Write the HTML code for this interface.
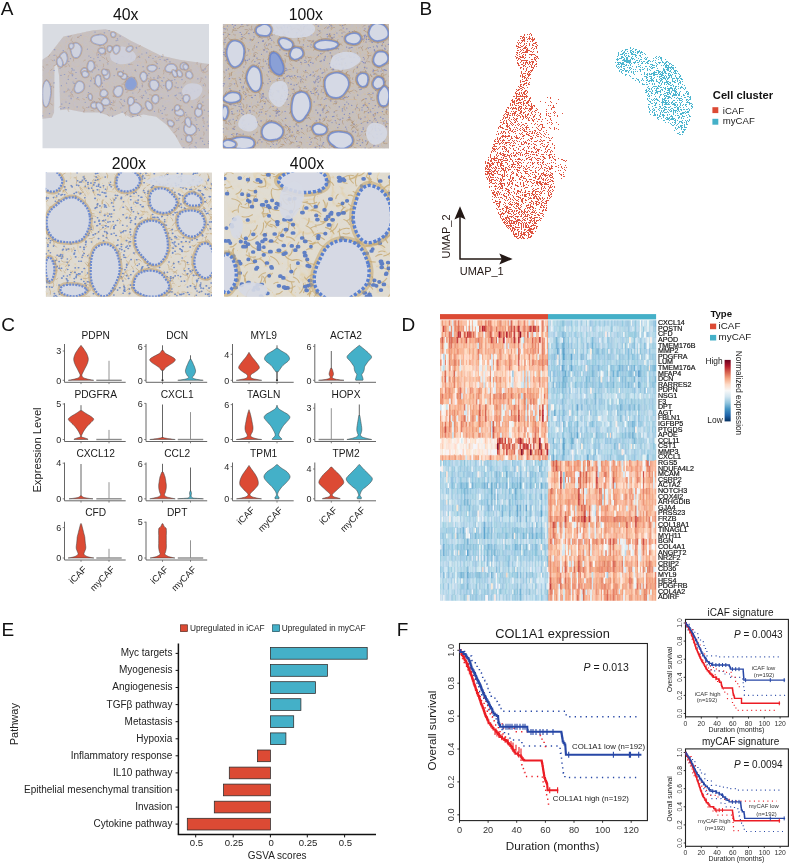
<!DOCTYPE html><html><head><meta charset="utf-8"><title>CAF figure</title><style>html,body{margin:0;padding:0;background:#fff;width:790px;height:865px;overflow:hidden}svg{display:block}text{font-family:'Liberation Sans',Arial,Helvetica,sans-serif}</style></head><body>
<svg width="790" height="865" viewBox="0 0 790 865">
<rect width="790" height="865" fill="#fff"/>
<text x="0.8" y="14.8" font-size="19" fill="#111">A</text>
<text x="419.6" y="14.8" font-size="19" fill="#111">B</text>
<text x="1.2" y="331.2" font-size="19" fill="#111">C</text>
<text x="401.5" y="330.8" font-size="19" fill="#111">D</text>
<text x="1.5" y="635.8" font-size="19" fill="#111">E</text>
<text x="396.8" y="635.8" font-size="19" fill="#111">F</text>
<text x="125.7" y="19.9" font-size="15.8" text-anchor="middle" fill="#111">40x</text>
<text x="305.9" y="19.9" font-size="15.8" text-anchor="middle" fill="#111">100x</text>
<text x="128.8" y="168.5" font-size="15.8" text-anchor="middle" fill="#111">200x</text>
<text x="307" y="168.5" font-size="15.8" text-anchor="middle" fill="#111">400x</text>
<defs>
<filter id="tx0" x="0" y="0" width="100%" height="100%"><feTurbulence type="fractalNoise" baseFrequency="0.3" numOctaves="2" seed="2"/><feColorMatrix type="matrix" values="0 0 0 0 0  0 0 0 0 0  0 0 0 0 0  1 0 0 0 0"/><feColorMatrix type="matrix" values="0 0 0 0 0.55  0 0 0 0 0.52  0 0 0 0 0.62  0 0 0 -2.2 1.35"/></filter>
<filter id="tx1" x="0" y="0" width="100%" height="100%"><feTurbulence type="fractalNoise" baseFrequency="0.35" numOctaves="2" seed="4"/><feColorMatrix type="matrix" values="0 0 0 0 0  0 0 0 0 0  0 0 0 0 0  1 0 0 0 0"/><feColorMatrix type="matrix" values="0 0 0 0 0.52  0 0 0 0 0.5  0 0 0 0 0.62  0 0 0 -2.2 1.4"/></filter>
<filter id="tx2" x="0" y="0" width="100%" height="100%"><feTurbulence type="fractalNoise" baseFrequency="0.25" numOctaves="2" seed="6"/><feColorMatrix type="matrix" values="0 0 0 0 0  0 0 0 0 0  0 0 0 0 0  1 0 0 0 0"/><feColorMatrix type="matrix" values="0 0 0 0 0.75  0 0 0 0 0.66  0 0 0 0 0.5  0 0 0 -2.5 1.45"/></filter>
<filter id="tx3" x="0" y="0" width="100%" height="100%"><feTurbulence type="fractalNoise" baseFrequency="0.18" numOctaves="2" seed="8"/><feColorMatrix type="matrix" values="0 0 0 0 0  0 0 0 0 0  0 0 0 0 0  1 0 0 0 0"/><feColorMatrix type="matrix" values="0 0 0 0 0.78  0 0 0 0 0.68  0 0 0 0 0.5  0 0 0 -2.5 1.45"/></filter>
<filter id="tb0" x="0" y="0" width="100%" height="100%"><feTurbulence type="turbulence" baseFrequency="0.12" numOctaves="2" seed="12"/><feColorMatrix type="matrix" values="0 0 0 0 0  0 0 0 0 0  0 0 0 0 0  1 0 0 0 0"/><feColorMatrix type="matrix" values="0 0 0 0 0.66  0 0 0 0 0.52  0 0 0 0 0.4  0 0 0 -9 1.1"/></filter>
<filter id="tb1" x="0" y="0" width="100%" height="100%"><feTurbulence type="turbulence" baseFrequency="0.14" numOctaves="2" seed="14"/><feColorMatrix type="matrix" values="0 0 0 0 0  0 0 0 0 0  0 0 0 0 0  1 0 0 0 0"/><feColorMatrix type="matrix" values="0 0 0 0 0.64  0 0 0 0 0.5  0 0 0 0 0.36  0 0 0 -9 1.15"/></filter>
<filter id="tb2" x="0" y="0" width="100%" height="100%"><feTurbulence type="turbulence" baseFrequency="0.07" numOctaves="2" seed="16"/><feColorMatrix type="matrix" values="0 0 0 0 0  0 0 0 0 0  0 0 0 0 0  1 0 0 0 0"/><feColorMatrix type="matrix" values="0 0 0 0 0.74  0 0 0 0 0.6  0 0 0 0 0.38  0 0 0 -9 1.1"/></filter>
<filter id="tb3" x="0" y="0" width="100%" height="100%"><feTurbulence type="turbulence" baseFrequency="0.045" numOctaves="2" seed="18"/><feColorMatrix type="matrix" values="0 0 0 0 0  0 0 0 0 0  0 0 0 0 0  1 0 0 0 0"/><feColorMatrix type="matrix" values="0 0 0 0 0.76  0 0 0 0 0.62  0 0 0 0 0.38  0 0 0 -9 1.1"/></filter>
<filter id="soft" x="-2%" y="-2%" width="104%" height="104%"><feGaussianBlur stdDeviation="0.45"/></filter>
</defs>
<clipPath id="clipA0"><rect x="42.3" y="23.9" width="166.7" height="124.6"/></clipPath>
<g clip-path="url(#clipA0)">
<rect x="42.3" y="23.9" width="166.7" height="124.6" fill="#d9dce2"/>
<g filter="url(#soft)">
<path d="M42.3 59.7L48.6 55.5L63.4 36.5L78.2 33.4L92.9 30.2L105.6 29.2L116.2 32.3L130.9 40.8L143.6 47.1L160.5 55.5L179.5 59.7L209 64L209 148.5L182.6 148.5L175.2 135.6L166.8 125.1L156.2 116.7L143.6 114.6L130.9 117.7L122.5 112.4L111.9 116.7L99.3 112.4L84.5 112.4L67.6 109.3L60.2 110.3L59.2 76.6L57.1 64L54.5 66.1L54.1 112.4L51.8 117.7L42.3 118.8Z" fill="#c8c1bf"/>
<clipPath id="st0"><path d="M42.3 59.7L48.6 55.5L63.4 36.5L78.2 33.4L92.9 30.2L105.6 29.2L116.2 32.3L130.9 40.8L143.6 47.1L160.5 55.5L179.5 59.7L209 64L209 148.5L182.6 148.5L175.2 135.6L166.8 125.1L156.2 116.7L143.6 114.6L130.9 117.7L122.5 112.4L111.9 116.7L99.3 112.4L84.5 112.4L67.6 109.3L60.2 110.3L59.2 76.6L57.1 64L54.5 66.1L54.1 112.4L51.8 117.7L42.3 118.8Z"/></clipPath>
<rect x="42.3" y="23.9" width="166.7" height="124.6" filter="url(#tx0)" opacity="0.5" clip-path="url(#st0)"/>
<rect x="42.3" y="23.9" width="166.7" height="124.6" filter="url(#tb0)" opacity="0.5" clip-path="url(#st0)"/>
<path d="M148.2 83.6q-0.5 1.7 0.7 3.4M177 87.8q-0.9 -0.5 -2.1 -0.1M42.8 70.1q-0.4 -0.7 -1.4 -0.9M208.6 115.9q1.5 -0.4 2.1 -2.2M48 64.9q-0.8 -0.4 -1.8 0M201 69.8q0.2 1.8 2 2.9M117.8 92.7q-1.2 0.6 -1.5 2.3M203.8 135.3q0.9 -1.5 0.1 -3.4M139.1 114.8q0.4 1.3 1.9 1.9M196.2 134.5q-1.2 0.1 -2 1.3M117.5 72q1.1 0.6 2.5 -0.1M125 85.1q-1.2 -1.2 -3.2 -1M79.3 99.8q-1 -1.2 -2.9 -1.1M72.4 45.1q-1.7 0.8 -2.2 3.1M100.1 98.3q-0.7 0.6 -0.6 1.6M171.8 70.6q0.1 -1.6 -1.3 -2.9M192.1 143.3q-2 0.2 -3.3 2.2M202.6 97.5q1.3 -0.3 2 -1.8M104.9 54.7q0.9 -0.3 1.4 -1.3M171.3 84.1q0.7 -0.4 0.8 -1.4M85.3 60q-1 0 -1.7 0.9M53.9 66q2 -0.3 3.2 -2.4M166.6 83.6q-1 1.7 -0.1 3.9M129.9 114.7q0.8 0.6 2 0.4M182 123q1.5 -0.4 2.2 -2M113.3 96.3q1 -0.5 1.3 -1.8M131.4 58.3q0.4 -0.6 0.2 -1.5M46.2 97.9q-0.3 -1.8 -2.3 -2.8M139.7 55.9q-1.9 0.2 -3.2 2.2M46.5 79.6q0.3 1.8 2.3 2.8M132.1 64.3q-0.9 -0.5 -2 0.1M70 46.8q-1.6 0.4 -2.4 2.3M171.4 122.4q1.1 0.7 2.7 0.1M84.5 110.7q-0.6 0.5 -0.6 1.5M107.1 62.5q1.1 -0.1 1.8 -1.3M126.2 92.3q0.9 0.1 1.7 -0.6M142.5 87.2q0.8 -1.8 -0.4 -3.9M94 111.1q-1.1 -0.9 -2.9 -0.5M205.1 68.2q-1.6 1.2 -1.6 3.6M169 79.7q-0.2 -0.7 -1.1 -1.1M149.8 79.1q-1 -0.7 -2.5 -0.3M109.2 52q0.9 0.9 2.5 0.8M83.5 111.6q1.3 -1 1.4 -3M118.3 53.4q-1.3 0.3 -2 1.8M124.3 113.3q1.7 -0.3 2.7 -2.2M158.8 109q-0.9 1.7 0.1 3.8M106.6 100.5q1.6 -1.1 1.8 -3.5M94.4 62.7q-0.9 0.2 -1.4 1.2M166.1 81.5q0.7 1.8 3 2.4M98.2 103.8q0.1 -1.1 -0.9 -2M200.9 64q-0.9 1.6 -0.1 3.6M67.9 108.8q-0.3 1.5 0.9 2.8M88.5 71.1q1.3 0.2 2.5 -1M115.1 100.8q-0.6 0.7 -0.4 1.9M106.4 57.8q-0.2 1.9 1.5 3.6M198.1 111.7q1.1 0.8 2.7 0.3M48.8 99.6q0.2 -1 -0.6 -2M43.6 91.7q0.5 1 1.9 1.3M104 40.7q1.2 -1.3 0.9 -3.4M73.6 74.1q-0.7 -0.8 -2 -0.7M176.1 129q1.9 0 3.3 -1.7M45.2 96.4q1 1.6 3.3 1.8M166.8 118.5q-0.1 0.8 0.6 1.5M178.2 99.5q-0.4 -1.3 -2 -1.8M175.7 66q-0.7 1 -0.3 2.4M92 102q0.8 -0.2 1.3 -1.1M53.6 87.7q0 -1 -0.9 -1.8M48.5 85.6q0.1 -1.6 -1.3 -2.8M68.7 36.9q1.4 0.1 2.6 -1.2M110.4 110q0.5 -1.3 -0.4 -2.8M101 90.3q-0.3 -0.9 -1.3 -1.4M160.6 85.4q0.1 1.8 1.9 3.1M176.8 136.8q0.1 -1 -0.9 -1.8M204 72.5q1.9 0.3 3.6 -1.4M101 100.4q-0.7 -1.6 -2.7 -2.1M197.5 90.7q1 -0.2 1.5 -1.4M208.7 93q1 -1.3 0.5 -3.3M189.5 69q0.7 1.1 2.2 1.2M72 91.2q0.9 -0.7 0.9 -2.2M112.8 96.2q1.2 1 3.1 0.5M77.5 37.2q1.4 0.1 2.5 -1.2M191.5 87.9q0.3 1 1.5 1.5M113 103.8q1 -1.4 0.4 -3.4M150.8 55.4q-1.2 -0.1 -2.2 1M123.9 57q-1 -0.9 -2.6 -0.6M165.1 115q1.1 0.5 2.4 -0.1M153 96.4q-1.1 -1.7 -3.5 -1.8M75.1 52.2q0.7 -1.6 -0.4 -3.5M125.6 81.4q-1.5 0.3 -2.4 2M142.1 110.3q1.6 -0.6 2.2 -2.5M104.8 55.1q1.1 -1.3 0.7 -3.4M183.6 134.9q0.6 0.9 2 1.1M156 60.8q-0.3 1 0.4 2M125.2 112.7q-0.5 1.5 0.6 3.2M98.2 104.8q-0.9 0.3 -1.3 1.5M158.4 75.4q0.5 1.8 2.6 2.6M163.1 98q-1.4 -0.2 -2.6 1M202.7 70.5q-0.3 -1.5 -2 -2.3M103.3 67.1q0.8 -1.3 0.1 -3.1M118.5 87.9q-0.6 1.6 0.6 3.4M45.6 104q-1 -0.2 -2 0.6M140.1 96.5q0.7 1.2 2.3 1.4M96.8 64.8q-0.2 0.8 0.4 1.6M73.4 42.8q-0.5 -1.7 -2.6 -2.5M79.1 37.8q-0.7 -0.6 -1.7 -0.4M82.7 98.6q0.5 0.9 1.7 1.1M129.1 106.6q1 0.6 2.3 0.1M48 86q1.7 -0.3 2.7 -2.2M138.9 46.6q0.8 0 1.5 -0.8M203.1 120.6q0.4 -1.3 -0.5 -2.8M69.6 66.4q-0.1 -1.6 -1.6 -2.7M51.2 59.7q0.6 1 1.9 1.2M174.5 117.8q0.2 1.1 1.3 1.8M61 106.4q-1 -0.1 -1.9 0.7M113.2 110q-0.4 -1.3 -1.9 -1.9M135.1 69.2q-0.2 1.3 0.9 2.6M93.1 65q-0.2 1.9 1.5 3.5M113.2 48.9q0.8 0.7 2 0.4M187.1 65.9q0 -1 -1 -1.8M150.8 80q0.6 -1.3 -0.2 -2.8M104.9 58.8q-0.8 -1.6 -3 -2M157.6 83.7q-1.6 1 -1.8 3.3M208.5 64.7q-1.9 0.5 -2.9 2.7M70.2 73.2q-0.3 -1 -1.5 -1.5M174 132.6q1.8 -0.3 2.8 -2.2M205.4 86.1q0.3 -1.4 -0.8 -2.7M203.9 105.5q-1.6 -0.1 -2.9 1.3M91.5 40q-0.9 0.2 -1.4 1.2M50.4 103.2q0.5 1.3 2.1 1.8M91.6 79.5q0.3 -1.2 -0.6 -2.5M107.6 114.7q0.4 1.1 1.8 1.6M146.5 62.9q0.4 -1.8 -1.1 -3.4M64.8 66.9q1.2 0.1 2.2 -0.9M42.9 66.3q0 1.2 1.2 2M137.9 93q1.6 -0.8 2.1 -2.9M197.1 62.3q-0.5 0.9 0 2M184.8 116.9q0.4 -1 -0.3 -2.1M95.8 61.8q-1.8 -0.1 -3.4 1.5M203.1 138.3q-1.6 -0.4 -3.1 0.8M189.1 137.5q0.8 1.4 2.8 1.7M70.1 92.3q0.5 1.7 2.6 2.4M93.9 41.5q-0.3 -1.5 -2 -2.3M203.2 78.8q-0.7 -1 -2.2 -1.1M143.3 73.5q-1.7 -0.2 -3.1 1.2M73.4 61.1q0.6 -0.9 0.2 -2.1M68.9 75.1q-0.8 0.7 -0.8 2M101.1 90.9q0.5 1.3 2.1 1.9M76 53.8q-1 0.5 -1.2 1.9M181.8 105.9q-1.6 -0.6 -3.4 0.6M156.6 63.2q-0.6 -1.6 -2.5 -2.2M86.3 107.6q1.3 0.5 2.8 -0.4M162.9 57q0.6 -1.1 0 -2.6M131.5 54.9q-0.9 1.6 -0.2 3.7M149.5 102.2q0.4 1.1 1.7 1.5M132 110.7q-1.2 -0.8 -2.9 -0.2M204 121.3q-0.5 1.2 0.2 2.6M112.3 109.1q0 -1.1 -1 -1.9M157.7 77.6q0.9 0.6 2.2 0.2M105.1 48.4q0 -2 -1.9 -3.5M197.6 102.4q1.3 -0.5 1.7 -2.1M52.2 69q-1.1 0.3 -1.7 1.7M81.3 47q-1.5 0.9 -1.8 3M71.1 98q0.5 -1.5 -0.6 -3.1M183.7 83.8q1.4 -0.6 1.9 -2.3M70.4 73.4q1.1 -0.8 1.1 -2.4M73.3 96.9q-0.2 -1.3 -1.6 -2.1M99.5 107.6q-0.3 1.4 0.8 2.7M72.2 38q-0.8 0.4 -0.9 1.5M105.8 105.3q-1.2 -1.3 -3.3 -1.1M163.6 74q1 -1.7 0 -3.9M129.7 55.1q-1.3 0.5 -1.7 2.1M95.5 36.5q-1.6 0.2 -2.5 1.9M178.3 118.8q1.7 -0.4 2.6 -2.3M110.9 104.2q1.2 1.3 3.3 1.2M160.3 57q-1 -0.3 -2.1 0.4M174.8 77.1q1.2 -1.5 0.7 -3.7M171.9 71.3q-1.7 0.9 -2.1 3.2M168.4 59.2q-1.9 -0.3 -3.7 1.3M57.3 58q-0.1 -1.9 -1.9 -3.2M200.1 82.4q1.3 -1.4 1 -3.8M97.2 52.2q-0.9 1.5 -0.2 3.5M65.6 92q1 0.1 1.8 -0.9M147.1 89.9q1.3 0.4 2.7 -0.6M176.3 73.6q1.9 0.6 3.8 -0.8M124.5 75.7q-0.4 1 0.3 2.2M76.7 44.9q0.3 -0.8 -0.2 -1.6M142.1 98.4q0.6 -1.3 -0.3 -2.9M196 109.6q0.9 -0.5 1.1 -1.8M123.1 71.6q-1.1 0.6 -1.4 2M121.9 105.4q1.1 0.9 2.8 0.4M134.3 97.3q-1.3 1 -1.3 3M139.1 57.5q-0.2 -0.8 -1.1 -1.2M166.3 62.1q0.3 -0.9 -0.4 -1.8M48.4 56.8q1.1 -0.5 1.4 -2M174.6 67.1q-1.6 -0.6 -3.4 0.6M84.1 84.4q-0.4 -1.8 -2.4 -2.7M82.9 106.8q-0.3 0.9 0.4 1.9M121.8 104.6q-0.4 -1.9 -2.5 -3M69.7 90q-1 -0.4 -2.1 0.3M149.6 105.8q-0.6 1.8 0.6 3.8" fill="none" stroke="#b0927a" stroke-width="0.6" opacity="0.75" stroke-linecap="round"/>
<path d="M199.3 130.2h0.2M100.3 76.1h0.5M92.1 72h0.2M183.6 66.4h0.3M130.4 103.1h0.3M110.2 104.4h0.2M143.3 95.4h0.4M68.4 107.7h0.3M128.8 78.2h0.3M205.5 77h0.2M120.8 107.8h0.1M99.7 45.8h0.4M115.1 110.5h0.3M177.7 87.7h0.5M177.8 113.8h0.3M143.9 70.8h0.1M189.8 124.5h0.4M185.5 92.5h0.5M104.6 108.3h0.4M92.8 38.2h0.4M54.4 49.7h0.4M144.7 73.4h0.3M124.1 100.2h0.2M183.7 147.5h0.3M149.8 66.9h0.4M94.1 101.6h0.3M207.2 122h0.1M71.8 68.4h0.3M161.8 56.3h0.3M117.7 61.9h0.3M148.5 81.1h0.1M100.6 112.7h0.3M94.3 83.7h0.4M188.3 130.3h0.2M134.3 77.8h0.4M162.7 106h0.4M100.3 79.2h0.1M100.8 48.8h0.4M142.4 79.5h0.1M116.7 94.1h0.2M205.1 68.9h0.3M89.8 70.4h0.2M103.1 98.4h0.3M96.4 84.2h0.1M93.5 78.1h0.4M114 75.6h0.3M88.4 92.5h0.2M145.2 91.1h0.3M188.1 123h0.5M116.4 69.6h0.3M195.9 142.8h0.4M92.5 38.7h0.2M154.4 111.4h0.1M119.9 36.1h0.4M130.6 100.2h0.5M63.1 50.7h0.4M143.5 78.5h0.2M200.4 138.2h0.5M129.3 82.3h0.5M116.1 40.7h0.2M192.9 125.6h0.2M202.9 70.2h0.4M116.7 68.6h0.2M80.4 86.3h0.5M72.2 69.9h0.3M90.6 57.5h0.2M66.4 54.4h0.4M88.5 107h0.4M158.1 82.1h0.1M128.1 82.1h0.2M161.7 80.7h0.3M176.9 74.3h0.3M188 101h0.3M131.1 97.5h0.1M83.8 68h0.2M112.5 116.2h0.2M127.7 76.6h0.4M64.1 91.9h0.3M146.4 52.9h0.3M204.3 144.4h0.3M167.8 121.1h0.1M92 106h0.3M143.5 81.1h0.2M185.1 130.8h0.5M191.5 106.9h0.2M142.9 66.7h0.4M191 117.9h0.2M98.2 34.5h0.2M68.6 61.3h0.4M196 120h0.2M90.7 80.9h0.3M120.8 99.4h0.4M179.5 75.6h0.3M189.3 127h0.2M99.5 36.9h0.4M46.3 80.9h0.5M54 55.3h0.2M159.2 68.3h0.2M75.8 72.5h0.4M136.4 48.1h0.3M208.1 125.9h0.5M68.1 79.3h0.4M120.3 47h0.4M63 108h0.5M146.9 75.5h0.5M203.4 126.4h0.2M202.5 141.2h0.1M69 96h0.2M191.8 122h0.2M143.1 108.2h0.1M197.7 78.8h0.3M162 113.3h0.5M72.3 75.5h0.4M116.4 45.8h0.4M174.7 79.6h0.2M64.3 74.5h0.4M101.9 83.2h0.4M194.3 129.1h0.3M117.6 40.1h0.3M94.9 32.1h0.3M75.7 78.5h0.4M69.3 103.4h0.3M179.1 93h0.1M86.3 97.5h0.2M164.4 109.6h0.4M175 95.7h0.5M128.9 64.3h0.3M135.9 110.9h0.3M186 90.7h0.2M185.5 112.5h0.2M186.6 115h0.2M195.1 118h0.5M176.2 82.9h0.1M196.6 124.5h0.4M171.8 80.4h0.3M109 30.6h0.2M128.8 44h0.2M181.8 79.6h0.4M175 86.3h0.1M70.4 58.6h0.2M142.1 85.9h0.2M208.2 111.3h0.2M132 102.9h0.4M122.1 112h0.2M181.7 95h0.2M116.6 62.8h0.4M208.2 143.6h0.2M123.3 70.9h0.2M133.3 59.7h0.3M180.5 93.1h0.5M76.1 47h0.1M160 59.5h0.2M197.7 89.6h0.2M53.9 70.5h0.4M147.8 75h0.1M71 98.7h0.3M132.7 116.4h0.3M187 138.5h0.3M102.4 86.7h0.2M107.8 63.9h0.1M46 100.4h0.4M182.1 98.3h0.2M148.7 57.4h0.2M97.1 40.7h0.1M204.2 110.1h0.4M60.8 108.7h0.2M127 80.4h0.4M139.7 89.3h0.3M161.2 97.7h0.2M54.2 60.2h0.2M132.3 104.5h0.3M141.8 54h0.2M167 59.4h0.4M73.9 83.4h0.4M152.9 58.3h0.2M130.7 59h0.4M117.3 47.1h0.1M153.8 77.9h0.3M106.8 94.1h0.2M184.8 122.8h0.3M135 70.3h0.4M181.5 139.2h0.1M60.8 75.4h0.3M61.5 104.1h0.5M172.2 127h0.2M98.4 54.7h0.2M189.7 148h0.2M135.9 99.7h0.5M117.3 38.6h0.1M66.5 83.2h0.1M49.4 113.6h0.3M168.3 95.8h0.2M155.6 56.5h0.1M73 82h0.1M50 96.1h0.1M158 76h0.4M167.7 70.5h0.4M142.3 97.8h0.3M68 89h0.3M136.1 47.3h0.3M188.5 140.7h0.2M127.4 50h0.3M77 106.9h0.3M196.1 147.8h0.1M157 63.7h0.3M146.1 92.9h0.1M61.3 85.7h0.2M68.1 36.5h0.2M178.5 120h0.4M111.4 102.5h0.4M78.8 85.4h0.2M87.4 49.2h0.1M178.3 129.1h0.4M132.8 93h0.1M101.6 50.9h0.3M202.8 102.1h0.2M203.1 117.9h0.5M122.7 105.8h0.3M167.5 90.9h0.3M88.7 56h0.5M98.5 69.7h0.3M90.6 80.7h0.2M172.1 110.2h0.3M59.9 68.5h0.2M162.4 81.1h0.2M98.5 84.2h0.2M124.5 101.5h0.1M78.9 89.3h0.4M170.3 86.8h0.3M89.4 86.1h0.3M50.9 86.6h0.4M186.5 91.2h0.4M104.2 32.8h0.4M132.2 100h0.3M137.4 115.4h0.4M95.2 67.8h0.4M190.5 93h0.3M104.2 80.2h0.1M93.8 58.8h0.1M73.8 70.1h0.4M184.2 63.7h0.4M65.8 102h0.3M176.7 120.6h0.4M191.8 106.8h0.5M99.8 60.6h0.2M114.2 86.9h0.2M100.5 55h0.4M195 146.4h0.2M42.4 115.8h0.4M176.2 95h0.3M112.1 46.8h0.2M163.6 85.5h0.3M137.1 87.1h0.4M148.8 73.6h0.3M198.1 128.6h0.3M164.2 60.1h0.5M42.8 94.6h0.4M194.4 91.4h0.3M104.4 103.2h0.2M72.1 74.5h0.2M172.5 109.4h0.2M72.2 75.7h0.4M181.7 109.9h0.2M181.5 87.2h0.2M192.4 107.5h0.1M53.8 82.9h0.4M115.3 90h0.2M143.1 74.8h0.2M77.6 97.6h0.4M131.1 99.4h0.3M160.6 110.7h0.1M203.3 85.2h0.1M162.9 118.6h0.2M165.3 107.8h0.4M57.1 64.2h0.2M80.8 35.3h0.3M190.4 139.7h0.2M125.5 89.4h0.3M163.8 77.7h0.1M137.7 110h0.3M137.5 65.4h0.3M97.8 57.3h0.4M197 106.9h0.2M64.4 107.7h0.4M208.6 141.3h0.4M115.2 90.2h0.1M44.6 88.4h0.3M180.4 100.5h0.3M115.1 92.1h0.5M168.6 82.8h0.3M71.6 92h0.4M148 98.5h0.3M206.4 130h0.3M85.1 102.3h0.2M169.7 61.9h0.5M157.7 89.7h0.3M139.6 57.2h0.1M117.7 60.5h0.3M77.4 49.6h0.5M157.5 78.2h0.4" fill="none" stroke="#8d97c4" stroke-width="1.2" stroke-linecap="round" opacity="0.85"/>
<path d="M82 49.5Q81.9 51.3 81.4 53Q80.8 54.7 79.8 56.2Q78.8 57.6 77.4 58.1Q76 58.5 74.7 58.2Q73.4 57.8 72.5 56.6Q71.6 55.4 71.3 53.9Q70.9 52.5 70.4 50.8Q70 49.2 70.4 47.3Q70.8 45.3 72.1 44.1Q73.3 42.9 74.7 42.5Q76.1 42.2 77.3 42.7Q78.5 43.3 79.5 44.2Q80.5 45.1 81.3 46.4Q82.2 47.7 82 49.5Z" fill="none" stroke="#b0927a" stroke-width="1.2" opacity="0.55"/>
<path d="M81.3 49.5Q81.2 51.2 80.7 52.7Q80.2 54.3 79.3 55.6Q78.5 57 77.2 57.4Q76 57.8 74.8 57.5Q73.6 57.2 72.9 56.1Q72.1 55 71.8 53.6Q71.5 52.3 71.1 50.8Q70.7 49.3 71.1 47.6Q71.5 45.8 72.6 44.7Q73.7 43.6 74.9 43.2Q76.2 42.9 77.2 43.4Q78.3 43.9 79.1 44.7Q80 45.5 80.7 46.7Q81.4 47.9 81.3 49.5Z" fill="#cfd2de" stroke="#94a2cf" stroke-width="1" stroke-opacity="0.85"/>
<path d="M107.2 38.4Q107.8 39.7 107.3 41Q106.8 42.4 105.6 43.4Q104.4 44.5 102.8 45Q101.1 45.6 99.4 45.3Q97.7 44.9 96.1 44.5Q94.6 44 93.1 43.2Q91.5 42.5 91 41.1Q90.4 39.7 90.9 38.3Q91.4 36.9 92.8 36Q94.3 35.1 96 34.9Q97.7 34.6 99.4 34.3Q101 34 102.7 34.5Q104.4 34.9 105.5 36Q106.6 37.1 107.2 38.4Z" fill="none" stroke="#b0927a" stroke-width="1.2" opacity="0.55"/>
<path d="M106.5 38.6Q107 39.7 106.6 40.9Q106.1 42.1 105 43Q104 43.9 102.4 44.4Q100.9 44.9 99.4 44.6Q97.8 44.3 96.4 43.9Q95 43.5 93.6 42.8Q92.2 42.1 91.7 40.9Q91.2 39.7 91.6 38.5Q92.1 37.2 93.4 36.5Q94.8 35.7 96.3 35.5Q97.8 35.2 99.4 35Q100.9 34.7 102.4 35.1Q104 35.5 105 36.5Q106 37.4 106.5 38.6Z" fill="#cfd2de" stroke="#94a2cf" stroke-width="1" stroke-opacity="0.85"/>
<path d="M134.8 53.6Q136.3 55.5 135.8 57.8Q135.3 60.2 132.8 61.5Q130.3 62.9 127.7 63.6Q125.2 64.4 122.5 64.3Q119.8 64.3 117.4 63.4Q114.9 62.6 112.8 61.2Q110.7 59.8 110.3 57.6Q109.9 55.5 110.4 53.4Q110.9 51.3 112.3 49.4Q113.8 47.4 116.7 46.8Q119.6 46.2 122.4 46.6Q125.1 47 127.4 47.9Q129.7 48.7 131.5 50.2Q133.2 51.7 134.8 53.6Z" fill="#cfd2de" opacity="0.9"/>
<path d="M67.8 57.1Q68 58.7 67.7 60.2Q67.4 61.7 66.7 62.8Q66.1 64 65.3 64.7Q64.4 65.5 63.4 65.3Q62.5 65.1 61.5 64.7Q60.6 64.2 59.7 63.2Q58.8 62.1 58.7 60.4Q58.6 58.7 59 57.2Q59.4 55.7 60.1 54.7Q60.8 53.7 61.7 53.1Q62.5 52.6 63.5 52.1Q64.5 51.5 65.5 52.1Q66.5 52.7 67 54.1Q67.6 55.6 67.8 57.1Z" fill="none" stroke="#b0927a" stroke-width="1.2" opacity="0.55"/>
<path d="M67.1 57.3Q67.3 58.7 67 60Q66.7 61.4 66.2 62.4Q65.7 63.4 65 64.1Q64.2 64.8 63.4 64.6Q62.6 64.4 61.8 64Q61 63.6 60.3 62.7Q59.6 61.8 59.5 60.2Q59.4 58.7 59.7 57.3Q60 56 60.6 55.1Q61.3 54.2 62 53.7Q62.7 53.2 63.5 52.7Q64.3 52.3 65.1 52.8Q66 53.3 66.4 54.6Q66.9 55.9 67.1 57.3Z" fill="#cfd2de" stroke="#94a2cf" stroke-width="1" stroke-opacity="0.85"/>
<path d="M84.7 87.4Q84.5 89.1 83.4 90.3Q82.4 91.6 81.3 92.2Q80.1 92.8 79.1 93.2Q78 93.7 77 93.3Q76 93 75.1 92.2Q74.3 91.4 74 90Q73.8 88.6 74.2 87Q74.6 85.5 75.2 84Q75.9 82.5 77 81.6Q78.2 80.7 79.3 80.8Q80.4 80.9 81.4 81.2Q82.3 81.5 83.1 82.3Q83.9 83.1 84.3 84.4Q84.8 85.7 84.7 87.4Z" fill="none" stroke="#b0927a" stroke-width="1.2" opacity="0.55"/>
<path d="M83.9 87.3Q83.8 88.8 82.8 89.9Q81.9 91 80.9 91.6Q79.9 92.2 79 92.6Q78.1 93 77.2 92.7Q76.3 92.4 75.6 91.7Q75 91 74.7 89.7Q74.5 88.5 74.9 87.1Q75.3 85.7 75.8 84.4Q76.4 83 77.4 82.2Q78.4 81.4 79.4 81.5Q80.3 81.6 81.2 81.8Q82 82.1 82.6 82.8Q83.3 83.5 83.7 84.6Q84 85.8 83.9 87.3Z" fill="#cfd2de" stroke="#94a2cf" stroke-width="1" stroke-opacity="0.85"/>
<path d="M101.4 79.7Q101.6 80.8 101.6 82.2Q101.6 83.5 101.2 84.7Q100.7 85.9 99.9 86.6Q99.1 87.3 98.3 86.9Q97.4 86.5 96.8 85.8Q96.1 85.1 95.5 84.3Q94.9 83.4 94.8 82.1Q94.7 80.8 94.8 79.5Q95 78.3 95.4 77.1Q95.8 76 96.6 75.4Q97.4 74.8 98.2 74.7Q99.1 74.5 99.8 75.3Q100.5 76.1 100.8 77.3Q101.1 78.6 101.4 79.7Z" fill="none" stroke="#b0927a" stroke-width="1.2" opacity="0.55"/>
<path d="M100.7 79.8Q101 80.8 100.9 82Q100.9 83.2 100.6 84.2Q100.2 85.3 99.6 85.9Q98.9 86.5 98.3 86.2Q97.6 85.8 97.1 85.2Q96.5 84.6 96.1 83.9Q95.6 83.1 95.5 82Q95.4 80.8 95.5 79.7Q95.6 78.6 95.9 77.6Q96.3 76.5 96.9 76Q97.5 75.5 98.2 75.4Q98.9 75.3 99.5 76Q100.1 76.7 100.3 77.8Q100.5 78.8 100.7 79.8Z" fill="#cfd2de" stroke="#94a2cf" stroke-width="1" stroke-opacity="0.85"/>
<path d="M109.9 73.5Q110 74.5 110 75.6Q109.9 76.6 109.4 77.5Q108.9 78.3 108.2 78.9Q107.5 79.5 106.7 79.5Q105.8 79.5 105.1 78.9Q104.3 78.4 103.7 77.6Q103.1 76.8 103.1 75.6Q103.1 74.5 103.4 73.6Q103.8 72.6 104.1 71.7Q104.5 70.8 105.1 70.1Q105.8 69.5 106.7 69.3Q107.6 69.2 108.4 69.7Q109.1 70.3 109.4 71.4Q109.7 72.5 109.9 73.5Z" fill="none" stroke="#b0927a" stroke-width="1.2" opacity="0.55"/>
<path d="M109.2 73.7Q109.4 74.5 109.3 75.4Q109.3 76.3 108.9 77Q108.5 77.8 107.9 78.3Q107.3 78.8 106.7 78.8Q106 78.8 105.4 78.3Q104.8 77.8 104.3 77.1Q103.8 76.4 103.8 75.5Q103.8 74.5 104.1 73.7Q104.3 72.9 104.6 72.1Q104.9 71.3 105.4 70.8Q106 70.2 106.7 70.1Q107.4 69.9 108 70.4Q108.7 70.9 108.9 71.9Q109.1 72.8 109.2 73.7Z" fill="#cfd2de" stroke="#94a2cf" stroke-width="1" stroke-opacity="0.85"/>
<path d="M136.9 82.4Q137.4 84 136.9 85.5Q136.3 87 135.4 88.1Q134.5 89.2 133.3 89.7Q132.1 90.3 130.9 90.3Q129.7 90.3 128.3 90.2Q126.8 90 125.8 88.7Q124.9 87.4 124.9 85.7Q124.9 84 125.3 82.5Q125.7 81.1 126.6 80Q127.5 78.9 128.6 78.2Q129.6 77.4 131 77.1Q132.3 76.8 133.5 77.6Q134.7 78.5 135.6 79.7Q136.4 80.9 136.9 82.4Z" fill="none" stroke="#b0927a" stroke-width="1.2" opacity="0.55"/>
<path d="M136.2 82.6Q136.6 84 136.1 85.4Q135.7 86.7 134.9 87.7Q134.1 88.7 133 89.2Q132 89.6 130.9 89.7Q129.8 89.7 128.6 89.5Q127.3 89.4 126.5 88.2Q125.6 87.1 125.6 85.5Q125.6 84 126 82.7Q126.4 81.4 127.1 80.4Q127.9 79.5 128.9 78.8Q129.8 78.1 131 77.8Q132.2 77.5 133.2 78.3Q134.2 79 135 80.1Q135.8 81.2 136.2 82.6Z" fill="#8aa0d6" stroke="#94a2cf" stroke-width="1"/>
<path d="M159.1 83.7Q159.5 85 159.1 86.4Q158.7 87.7 157.9 88.7Q157.2 89.7 156.2 90.4Q155.3 91.1 154.2 90.8Q153.1 90.6 152.2 90Q151.3 89.4 150.6 88.5Q149.8 87.6 149.5 86.3Q149.2 85 149.1 83.6Q149.1 82.1 150 81Q150.8 80 152 79.8Q153.1 79.7 154.1 79.7Q155.1 79.7 156.1 80.2Q157.1 80.6 157.9 81.5Q158.7 82.4 159.1 83.7Z" fill="none" stroke="#b0927a" stroke-width="1.2" opacity="0.55"/>
<path d="M158.4 83.9Q158.7 85 158.4 86.2Q158 87.4 157.4 88.3Q156.7 89.1 155.9 89.7Q155.1 90.4 154.2 90.2Q153.2 89.9 152.5 89.4Q151.7 88.9 151.1 88.1Q150.5 87.3 150.2 86.1Q149.9 85 149.9 83.8Q149.9 82.5 150.6 81.5Q151.3 80.6 152.3 80.4Q153.3 80.3 154.1 80.3Q155 80.4 155.8 80.7Q156.6 81.1 157.3 81.9Q158 82.7 158.4 83.9Z" fill="#cfd2de" stroke="#94a2cf" stroke-width="1" stroke-opacity="0.85"/>
<path d="M172.5 84Q172.7 85 172.4 86Q172.2 87 171.7 87.8Q171.2 88.7 170.5 89.5Q169.9 90.3 168.9 90.4Q167.9 90.4 167.2 89.7Q166.4 89 166 88Q165.6 87.1 165.5 86.1Q165.5 85 165.5 84Q165.5 83 165.9 81.9Q166.3 80.9 167.2 80.5Q168 80.1 168.9 80.1Q169.8 80.1 170.6 80.6Q171.4 81.1 171.9 82Q172.3 83 172.5 84Z" fill="none" stroke="#b0927a" stroke-width="1.2" opacity="0.55"/>
<path d="M171.8 84.2Q172 85 171.8 85.9Q171.6 86.7 171.2 87.4Q170.8 88.1 170.2 88.8Q169.7 89.5 168.9 89.6Q168.1 89.6 167.5 89Q166.9 88.4 166.6 87.6Q166.2 86.8 166.2 85.9Q166.1 85 166.1 84.2Q166.2 83.3 166.5 82.4Q166.8 81.5 167.5 81.1Q168.2 80.8 168.9 80.8Q169.6 80.8 170.3 81.2Q170.9 81.6 171.3 82.5Q171.7 83.3 171.8 84.2Z" fill="#cfd2de" stroke="#94a2cf" stroke-width="1" stroke-opacity="0.85"/>
<path d="M202.4 89.3Q202.2 91.4 201.5 93Q200.7 94.7 199.4 96Q198.1 97.4 196.3 98.5Q194.4 99.5 192 100.1Q189.5 100.6 187.3 99.5Q185.2 98.3 184 96.6Q182.9 94.9 182.3 93.1Q181.6 91.4 182.3 89.6Q183 87.9 184.4 86.4Q185.8 85 187.8 84.1Q189.8 83.2 192.1 83.3Q194.4 83.3 196.8 83.8Q199.3 84.2 200.9 85.8Q202.6 87.3 202.4 89.3Z" fill="#cfd2de" opacity="0.9"/>
<path d="M141.7 107Q142.2 108.2 141.6 109.4Q141.1 110.7 140.3 111.8Q139.5 112.9 138.1 113.6Q136.8 114.3 135.1 114.4Q133.5 114.5 131.9 113.9Q130.4 113.3 129.8 112Q129.2 110.7 129.1 109.5Q129.1 108.2 129 107Q129 105.7 129.8 104.5Q130.6 103.4 132 102.6Q133.4 101.9 135.1 102Q136.8 102 138.1 102.9Q139.3 103.8 140.3 104.7Q141.3 105.7 141.7 107Z" fill="none" stroke="#b0927a" stroke-width="1.2" opacity="0.55"/>
<path d="M141.1 107.1Q141.5 108.2 141 109.3Q140.5 110.4 139.8 111.3Q139 112.3 137.8 112.9Q136.6 113.6 135.1 113.7Q133.6 113.7 132.2 113.2Q130.8 112.7 130.3 111.6Q129.8 110.4 129.7 109.3Q129.7 108.2 129.7 107.1Q129.6 106 130.3 105Q131 104 132.3 103.3Q133.6 102.7 135.1 102.7Q136.6 102.8 137.8 103.5Q138.9 104.3 139.8 105.2Q140.7 106 141.1 107.1Z" fill="#cfd2de" stroke="#94a2cf" stroke-width="1" stroke-opacity="0.85"/>
<path d="M110 101.1Q110.1 101.9 110 102.7Q109.9 103.5 109.4 104.3Q108.9 105.1 107.8 105.4Q106.7 105.7 105.6 105.7Q104.5 105.8 103.4 105.5Q102.3 105.1 101.8 104.4Q101.2 103.6 101.1 102.7Q100.9 101.9 101.2 101.1Q101.5 100.4 102.1 99.7Q102.7 99 103.5 98.4Q104.4 97.7 105.6 97.7Q106.8 97.7 107.7 98.3Q108.7 98.9 109.2 99.6Q109.8 100.3 110 101.1Z" fill="none" stroke="#b0927a" stroke-width="1.2" opacity="0.55"/>
<path d="M109.3 101.3Q109.4 101.9 109.4 102.6Q109.3 103.2 108.9 103.9Q108.4 104.5 107.5 104.8Q106.5 105 105.6 105Q104.6 105.1 103.7 104.8Q102.8 104.5 102.3 103.9Q101.9 103.3 101.7 102.6Q101.6 101.9 101.9 101.3Q102.1 100.6 102.6 100.1Q103.1 99.6 103.8 99Q104.6 98.5 105.6 98.5Q106.7 98.5 107.4 99Q108.2 99.5 108.7 100Q109.2 100.6 109.3 101.3Z" fill="#cfd2de" stroke="#94a2cf" stroke-width="1" stroke-opacity="0.85"/>
<path d="M51.4 90.4Q51.5 93.5 51 96Q50.5 98.6 49.9 100.9Q49.4 103.2 48.5 104.9Q47.6 106.6 46.5 107.1Q45.3 107.6 44.2 106.4Q43.1 105.2 42.6 102.1Q42.2 99.1 42.1 96.3Q42.1 93.5 42.1 90.7Q42.2 87.8 42.8 85.5Q43.5 83.2 44.4 81.7Q45.4 80.1 46.5 80Q47.7 79.9 48.6 81.4Q49.6 82.9 50.4 85.1Q51.2 87.3 51.4 90.4Z" fill="none" stroke="#b0927a" stroke-width="1.2" opacity="0.55"/>
<path d="M50.7 90.6Q50.8 93.5 50.3 95.9Q49.9 98.3 49.4 100.5Q49 102.7 48.2 104.3Q47.5 105.9 46.5 106.4Q45.5 106.9 44.5 105.7Q43.6 104.6 43.2 101.7Q42.8 98.8 42.8 96.1Q42.7 93.5 42.8 90.8Q42.8 88.1 43.4 86Q43.9 83.8 44.7 82.3Q45.6 80.8 46.5 80.7Q47.5 80.6 48.3 82.1Q49.2 83.5 49.9 85.6Q50.6 87.6 50.7 90.6Z" fill="#cfd2de" stroke="#94a2cf" stroke-width="1" stroke-opacity="0.85"/>
<path d="M157.2 67.2Q157.4 68.2 156.8 69Q156.2 69.8 155.6 70.4Q154.9 71 154 71.5Q153.1 71.9 152 71.9Q151 71.8 149.9 71.5Q148.9 71.2 148.2 70.6Q147.4 69.9 147.2 69Q146.9 68.2 147 67.3Q147.2 66.3 148.1 65.8Q149 65.2 150 65Q151.1 64.9 152.1 64.7Q153.1 64.6 154.1 64.8Q155.2 65.1 156 65.7Q156.9 66.3 157.2 67.2Z" fill="none" stroke="#b0927a" stroke-width="1.2" opacity="0.55"/>
<path d="M156.4 67.4Q156.7 68.2 156.1 68.8Q155.6 69.5 155.1 70Q154.5 70.5 153.7 70.9Q153 71.2 152 71.2Q151.1 71.1 150.2 70.9Q149.4 70.7 148.7 70.1Q148.1 69.6 147.9 68.9Q147.7 68.2 147.8 67.4Q147.9 66.7 148.7 66.2Q149.5 65.8 150.3 65.6Q151.2 65.5 152.1 65.4Q152.9 65.3 153.8 65.5Q154.7 65.7 155.5 66.2Q156.2 66.7 156.4 67.4Z" fill="#cfd2de" stroke="#94a2cf" stroke-width="1" stroke-opacity="0.85"/>
<path d="M177 67.1Q177.5 68.2 177.2 69.3Q176.8 70.5 175.7 71.1Q174.5 71.8 173.4 72.2Q172.2 72.6 171 72.6Q169.8 72.6 168.5 72.4Q167.2 72.1 166 71.4Q164.9 70.6 164.8 69.4Q164.8 68.2 165.3 67.1Q165.8 66.1 166.6 65.3Q167.4 64.4 168.6 64Q169.8 63.6 171 63.5Q172.3 63.4 173.6 63.8Q174.8 64.3 175.6 65.2Q176.4 66.1 177 67.1Z" fill="none" stroke="#b0927a" stroke-width="1.2" opacity="0.55"/>
<path d="M176.2 67.3Q176.8 68.2 176.4 69.2Q176.1 70.1 175.1 70.7Q174.1 71.3 173.1 71.6Q172.1 71.9 171 71.9Q169.9 72 168.8 71.8Q167.7 71.5 166.6 70.9Q165.6 70.3 165.6 69.2Q165.5 68.2 166 67.3Q166.5 66.4 167.1 65.7Q167.8 65 168.9 64.6Q169.9 64.3 171 64.2Q172.2 64.1 173.3 64.5Q174.3 64.8 175 65.6Q175.7 66.4 176.2 67.3Z" fill="#cfd2de" stroke="#94a2cf" stroke-width="1" stroke-opacity="0.85"/>
<path d="M196.5 128.1Q196.9 129.3 196.7 130.6Q196.4 131.9 195.4 132.9Q194.3 133.9 193 134.8Q191.7 135.6 190 135.6Q188.3 135.7 187 134.8Q185.8 133.8 185 132.7Q184.2 131.7 183.9 130.5Q183.6 129.3 183.6 128Q183.7 126.7 184.4 125.4Q185 124 186.7 123.5Q188.3 123.1 189.9 123.4Q191.5 123.7 192.9 124.2Q194.3 124.8 195.1 125.8Q196 126.9 196.5 128.1Z" fill="none" stroke="#b0927a" stroke-width="1.2" opacity="0.55"/>
<path d="M195.8 128.2Q196.2 129.3 196 130.5Q195.8 131.6 194.8 132.5Q193.9 133.4 192.7 134.1Q191.5 134.8 190 134.9Q188.5 134.9 187.3 134.1Q186.2 133.3 185.5 132.3Q184.8 131.4 184.5 130.4Q184.2 129.3 184.3 128.2Q184.3 127 184.9 125.8Q185.5 124.6 187 124.2Q188.5 123.8 189.9 124.1Q191.4 124.4 192.6 124.8Q193.8 125.3 194.6 126.2Q195.4 127.2 195.8 128.2Z" fill="#cfd2de" stroke="#94a2cf" stroke-width="1" stroke-opacity="0.85"/>
<path d="M202.4 111.3Q202.7 112.4 202.4 113.6Q202.1 114.7 201.4 115.4Q200.7 116 200 116.5Q199.3 116.9 198.4 117.1Q197.6 117.3 196.8 116.8Q196.1 116.2 195.5 115.4Q194.9 114.6 194.6 113.5Q194.4 112.4 194.6 111.3Q194.8 110.2 195.4 109.3Q195.9 108.4 196.8 108.2Q197.6 107.9 198.4 108.1Q199.2 108.3 200 108.5Q200.8 108.6 201.5 109.4Q202.2 110.1 202.4 111.3Z" fill="none" stroke="#b0927a" stroke-width="1.2" opacity="0.55"/>
<path d="M201.7 111.5Q201.9 112.4 201.7 113.4Q201.5 114.4 200.9 114.9Q200.3 115.5 199.7 115.9Q199.1 116.3 198.4 116.4Q197.7 116.6 197.1 116.1Q196.5 115.7 196 115Q195.6 114.3 195.3 113.4Q195.1 112.4 195.3 111.5Q195.5 110.5 195.9 109.8Q196.4 109 197.1 108.8Q197.8 108.6 198.4 108.7Q199.1 108.9 199.7 109Q200.4 109.2 201 109.8Q201.5 110.5 201.7 111.5Z" fill="#cfd2de" stroke="#94a2cf" stroke-width="1" stroke-opacity="0.85"/>
<path d="M123.1 89.9Q123 91.4 122.7 92.6Q122.5 93.8 121.9 94.9Q121.2 95.9 120.3 96.4Q119.3 97 118.2 97.2Q117.1 97.4 116.2 96.7Q115.2 96.1 114.4 95.1Q113.6 94.1 113.2 92.7Q112.8 91.4 113.4 90.1Q113.9 88.8 114.7 88Q115.5 87.2 116.4 86.5Q117.2 85.9 118.3 85.8Q119.4 85.6 120.5 85.9Q121.7 86.1 122.4 87.3Q123.1 88.5 123.1 89.9Z" fill="none" stroke="#b0927a" stroke-width="1.2" opacity="0.55"/>
<path d="M122.4 90.1Q122.3 91.4 122.1 92.5Q121.9 93.5 121.3 94.4Q120.8 95.3 120 95.8Q119.2 96.3 118.2 96.5Q117.3 96.6 116.5 96.1Q115.6 95.5 115 94.6Q114.3 93.7 114 92.6Q113.6 91.4 114.1 90.3Q114.6 89.1 115.2 88.4Q115.9 87.7 116.6 87.1Q117.4 86.6 118.3 86.4Q119.2 86.3 120.2 86.5Q121.2 86.8 121.8 87.8Q122.4 88.9 122.4 90.1Z" fill="#cfd2de" stroke="#94a2cf" stroke-width="1" stroke-opacity="0.85"/>
<path d="M94.8 64.7Q95.1 66.1 94.8 67.4Q94.4 68.8 93.7 69.4Q92.9 70.1 92.3 70.8Q91.6 71.4 90.8 71.7Q90 72 89.1 71.5Q88.3 71 87.6 70Q87 68.9 87 67.5Q87 66.1 87.2 64.8Q87.5 63.6 88 62.5Q88.4 61.4 89.2 60.9Q90 60.5 90.8 60.5Q91.7 60.5 92.5 60.9Q93.3 61.3 93.9 62.3Q94.5 63.4 94.8 64.7Z" fill="none" stroke="#b0927a" stroke-width="1.2" opacity="0.55"/>
<path d="M94.1 64.9Q94.3 66.1 94 67.2Q93.8 68.4 93.2 69Q92.6 69.7 92 70.2Q91.5 70.7 90.8 71Q90.1 71.3 89.4 70.8Q88.7 70.4 88.2 69.5Q87.7 68.6 87.7 67.3Q87.7 66.1 87.9 65Q88.2 63.9 88.5 62.9Q88.9 61.9 89.5 61.5Q90.2 61.1 90.8 61.2Q91.5 61.2 92.2 61.5Q92.9 61.8 93.3 62.8Q93.8 63.7 94.1 64.9Z" fill="#cfd2de" stroke="#94a2cf" stroke-width="1" stroke-opacity="0.85"/>
<path d="M147 75.6Q147.1 76.6 147 77.7Q147 78.7 146.6 79.7Q146.2 80.7 145.3 81.3Q144.5 81.9 143.6 81.8Q142.7 81.8 142 81Q141.4 80.1 140.9 79.3Q140.5 78.5 140.1 77.5Q139.7 76.6 139.9 75.5Q140 74.4 140.5 73.5Q141 72.5 141.9 72Q142.7 71.6 143.6 71.7Q144.4 71.9 145.2 72.3Q146 72.7 146.5 73.6Q147 74.5 147 75.6Z" fill="none" stroke="#b0927a" stroke-width="1.2" opacity="0.55"/>
<path d="M146.4 75.7Q146.4 76.6 146.4 77.5Q146.4 78.4 146 79.2Q145.7 80.1 145 80.6Q144.4 81.1 143.6 81.1Q142.8 81 142.3 80.3Q141.8 79.6 141.4 78.9Q141.1 78.2 140.8 77.4Q140.4 76.6 140.5 75.7Q140.7 74.7 141.1 73.9Q141.5 73.1 142.2 72.7Q142.8 72.3 143.6 72.4Q144.3 72.6 144.9 72.9Q145.6 73.3 146 74Q146.4 74.8 146.4 75.7Z" fill="#cfd2de" stroke="#94a2cf" stroke-width="1" stroke-opacity="0.85"/>
<path d="M183.8 111.7Q184.1 112.4 184.2 113.3Q184.2 114.2 183.6 115.1Q183 115.9 181.8 116.1Q180.6 116.3 179.5 116.1Q178.4 116 177.5 115.6Q176.6 115.3 175.9 114.7Q175.2 114 174.8 113.2Q174.3 112.4 174.6 111.6Q174.8 110.7 175.6 110.1Q176.4 109.4 177.3 108.9Q178.3 108.4 179.4 108.5Q180.6 108.6 181.4 109.1Q182.3 109.6 183 110.3Q183.6 110.9 183.8 111.7Z" fill="none" stroke="#b0927a" stroke-width="1.2" opacity="0.55"/>
<path d="M183.2 111.8Q183.4 112.4 183.5 113.2Q183.5 113.9 183 114.6Q182.5 115.3 181.4 115.4Q180.4 115.6 179.5 115.4Q178.6 115.3 177.8 115Q177 114.8 176.4 114.3Q175.8 113.8 175.5 113.1Q175.1 112.4 175.3 111.7Q175.5 111 176.2 110.5Q176.8 110 177.6 109.6Q178.5 109.2 179.4 109.2Q180.4 109.3 181.2 109.7Q181.9 110.2 182.4 110.7Q183 111.2 183.2 111.8Z" fill="#cfd2de" stroke="#94a2cf" stroke-width="1" stroke-opacity="0.85"/>
<path d="M112.4 49Q112.2 49.8 111.8 50.5Q111.4 51.1 110.9 51.6Q110.3 52.2 109.7 52.2Q109 52.3 108.5 51.9Q108 51.6 107.6 51.1Q107.3 50.6 107.2 50Q107 49.3 107 48.6Q106.9 47.8 107.3 47Q107.6 46.2 108.3 45.9Q109 45.7 109.6 45.7Q110.2 45.6 110.8 45.9Q111.3 46.1 111.7 46.6Q112 47 112.3 47.6Q112.6 48.3 112.4 49Z" fill="none" stroke="#b0927a" stroke-width="1.2" opacity="0.55"/>
<path d="M111.7 48.9Q111.6 49.6 111.2 50.1Q110.9 50.6 110.5 51Q110.1 51.4 109.6 51.5Q109.1 51.5 108.7 51.3Q108.4 51 108.1 50.6Q107.9 50.3 107.8 49.8Q107.7 49.3 107.7 48.7Q107.7 48.1 107.9 47.5Q108.2 46.8 108.7 46.6Q109.2 46.4 109.7 46.3Q110.1 46.3 110.5 46.5Q110.9 46.7 111.2 47Q111.5 47.4 111.6 47.8Q111.8 48.3 111.7 48.9Z" fill="#cfd2de" stroke="#94a2cf" stroke-width="1" stroke-opacity="0.85"/>
<path d="M87.4 72.9Q87.3 73.8 86.6 74.5Q85.9 75.3 85 75.6Q84.1 75.9 83.3 75.6Q82.5 75.3 82 74.7Q81.6 74.2 81 73.6Q80.5 73 80.5 72.1Q80.4 71.3 80.8 70.4Q81.2 69.6 81.9 68.8Q82.5 68.1 83.4 67.9Q84.2 67.6 85.1 67.7Q85.9 67.8 86.5 68.3Q87.2 68.7 87.3 69.6Q87.4 70.4 87.5 71.2Q87.6 72 87.4 72.9Z" fill="none" stroke="#b0927a" stroke-width="1.2" opacity="0.55"/>
<path d="M86.8 72.6Q86.7 73.4 86.1 74Q85.5 74.6 84.8 74.8Q84.1 75.1 83.4 74.9Q82.8 74.6 82.4 74.2Q82 73.7 81.6 73.3Q81.2 72.8 81.2 72.1Q81.1 71.4 81.5 70.7Q81.8 70 82.3 69.4Q82.9 68.8 83.6 68.6Q84.3 68.3 84.9 68.4Q85.6 68.5 86.1 68.8Q86.6 69.2 86.7 69.9Q86.8 70.6 86.9 71.2Q86.9 71.9 86.8 72.6Z" fill="#cfd2de" stroke="#94a2cf" stroke-width="1" stroke-opacity="0.85"/>
<path d="M127.1 77.6Q126.8 78.3 126.3 78.9Q125.8 79.5 125 79.6Q124.3 79.7 123.5 79.5Q122.8 79.4 122.2 79.1Q121.6 78.7 121.1 78.1Q120.7 77.5 120.3 76.7Q120 76 120.3 75.2Q120.7 74.4 121.4 74.1Q122.1 73.7 122.8 73.5Q123.5 73.3 124.2 73.4Q124.9 73.5 125.6 73.8Q126.3 74 126.8 74.6Q127.4 75.3 127.3 76.1Q127.3 76.9 127.1 77.6Z" fill="none" stroke="#b0927a" stroke-width="1.2" opacity="0.55"/>
<path d="M126.4 77.3Q126.2 77.9 125.8 78.4Q125.4 78.8 124.8 78.9Q124.2 79 123.6 78.9Q123.1 78.8 122.6 78.5Q122.1 78.2 121.7 77.7Q121.3 77.3 121.1 76.7Q120.8 76.1 121.1 75.5Q121.4 74.9 121.9 74.6Q122.5 74.3 123 74.1Q123.6 74 124.1 74Q124.7 74.1 125.2 74.3Q125.8 74.6 126.2 75Q126.6 75.5 126.6 76.1Q126.6 76.8 126.4 77.3Z" fill="#cfd2de" stroke="#94a2cf" stroke-width="1" stroke-opacity="0.85"/>
<path d="M108 72.3Q108.1 73 107.8 73.7Q107.6 74.4 106.9 74.8Q106.3 75.2 105.5 75.4Q104.7 75.6 103.9 75.5Q103.1 75.4 102.6 74.7Q102 74.1 101.8 73.5Q101.6 72.8 101.5 72.2Q101.4 71.5 101.6 70.8Q101.8 70.2 102.3 69.6Q102.8 68.9 103.7 68.8Q104.6 68.8 105.3 69.2Q106 69.6 106.6 70Q107.2 70.4 107.6 71Q107.9 71.6 108 72.3Z" fill="none" stroke="#b0927a" stroke-width="1.2" opacity="0.55"/>
<path d="M107.3 72.3Q107.4 72.9 107.2 73.4Q107 74 106.5 74.3Q105.9 74.6 105.3 74.7Q104.7 74.9 104.1 74.8Q103.4 74.7 103 74.2Q102.6 73.7 102.4 73.2Q102.2 72.7 102.1 72.2Q102 71.7 102.2 71.1Q102.4 70.6 102.8 70.1Q103.2 69.7 103.9 69.6Q104.6 69.5 105.1 69.9Q105.7 70.2 106.2 70.5Q106.7 70.8 107 71.3Q107.3 71.8 107.3 72.3Z" fill="#cfd2de" stroke="#94a2cf" stroke-width="1" stroke-opacity="0.85"/>
<path d="M188.3 66.7Q188 67.7 187.3 68.4Q186.5 69 185.8 69.4Q185 69.8 184.2 69.8Q183.4 69.8 182.5 69.7Q181.6 69.6 180.9 69Q180.2 68.4 180.1 67.4Q180 66.4 180.1 65.5Q180.2 64.6 180.7 63.8Q181.3 63 182.1 62.7Q182.9 62.3 183.8 62.3Q184.7 62.2 185.4 62.6Q186.2 62.9 186.8 63.5Q187.5 64 188 64.9Q188.6 65.7 188.3 66.7Z" fill="none" stroke="#b0927a" stroke-width="1.2" opacity="0.55"/>
<path d="M187.5 66.6Q187.3 67.4 186.7 68Q186.1 68.5 185.4 68.8Q184.8 69.1 184.1 69.2Q183.5 69.2 182.7 69.1Q182 69 181.4 68.5Q180.8 68 180.8 67.2Q180.7 66.4 180.8 65.6Q180.9 64.9 181.3 64.2Q181.8 63.6 182.4 63.3Q183.1 63 183.8 62.9Q184.5 62.9 185.2 63.2Q185.8 63.5 186.3 63.9Q186.9 64.4 187.3 65.1Q187.8 65.8 187.5 66.6Z" fill="#cfd2de" stroke="#94a2cf" stroke-width="1" stroke-opacity="0.85"/>
<path d="M122.7 72.5Q123.1 72.9 123.3 73.5Q123.5 74.2 123.3 74.8Q123.2 75.5 122.8 76Q122.3 76.5 121.7 76.6Q121 76.7 120.4 76.6Q119.9 76.4 119.3 76.3Q118.7 76.2 118.2 75.7Q117.7 75.3 117.6 74.6Q117.4 74 117.6 73.3Q117.8 72.7 118.3 72.3Q118.9 71.9 119.4 71.6Q120 71.4 120.6 71.3Q121.2 71.3 121.7 71.7Q122.2 72 122.7 72.5Z" fill="none" stroke="#b0927a" stroke-width="1.2" opacity="0.55"/>
<path d="M122.1 72.9Q122.4 73.2 122.6 73.7Q122.7 74.1 122.6 74.6Q122.5 75.1 122.2 75.5Q121.9 75.9 121.4 76Q120.9 76 120.4 75.9Q120 75.8 119.6 75.7Q119.1 75.6 118.8 75.3Q118.4 75 118.3 74.5Q118.2 74 118.3 73.5Q118.5 73 118.9 72.7Q119.3 72.4 119.7 72.3Q120.1 72.1 120.6 72Q121 72 121.4 72.3Q121.8 72.5 122.1 72.9Z" fill="#cfd2de" stroke="#94a2cf" stroke-width="1" stroke-opacity="0.85"/>
<path d="M105.5 51.6Q105.3 52.2 104.9 52.8Q104.4 53.3 103.8 53.6Q103.1 54 102.3 54.1Q101.4 54.2 100.6 53.8Q99.8 53.4 99.2 52.8Q98.6 52.1 98.2 51.4Q97.8 50.7 98 49.9Q98.3 49.2 98.8 48.8Q99.4 48.3 100 48Q100.7 47.7 101.5 47.7Q102.3 47.7 103.2 47.9Q104.1 48 104.9 48.6Q105.6 49.3 105.6 50.1Q105.7 50.9 105.5 51.6Z" fill="none" stroke="#b0927a" stroke-width="1.2" opacity="0.55"/>
<path d="M104.8 51.5Q104.7 52 104.3 52.4Q104 52.8 103.5 53.1Q102.9 53.3 102.3 53.4Q101.6 53.5 100.9 53.2Q100.2 52.8 99.7 52.3Q99.3 51.8 98.9 51.2Q98.6 50.6 98.8 50.1Q98.9 49.5 99.4 49.2Q99.8 48.8 100.4 48.6Q100.9 48.4 101.5 48.4Q102.2 48.4 102.9 48.5Q103.7 48.7 104.3 49.2Q104.9 49.7 104.9 50.3Q105 50.9 104.8 51.5Z" fill="#cfd2de" stroke="#94a2cf" stroke-width="1" stroke-opacity="0.85"/>
<path d="M202 105.4Q202 106.1 201.8 106.6Q201.6 107.2 201.4 107.7Q201.2 108.3 200.8 108.7Q200.4 109.2 199.8 109.2Q199.2 109.2 198.6 108.9Q198.1 108.6 197.8 108Q197.6 107.4 197.5 106.9Q197.4 106.3 197.4 105.6Q197.4 105 197.7 104.5Q198.1 104 198.5 103.7Q199 103.4 199.6 103.3Q200.1 103.2 200.7 103.4Q201.2 103.7 201.6 104.3Q201.9 104.8 202 105.4Z" fill="none" stroke="#b0927a" stroke-width="1.2" opacity="0.55"/>
<path d="M201.3 105.6Q201.3 106.1 201.2 106.5Q201 106.9 200.9 107.3Q200.8 107.8 200.5 108.1Q200.2 108.5 199.7 108.5Q199.3 108.5 198.9 108.2Q198.6 108 198.4 107.6Q198.2 107.1 198.1 106.7Q198 106.2 198 105.8Q198 105.3 198.3 104.9Q198.5 104.6 198.9 104.3Q199.2 104.1 199.6 104Q200 103.9 200.4 104.1Q200.7 104.3 201 104.7Q201.3 105.1 201.3 105.6Z" fill="#cfd2de" stroke="#94a2cf" stroke-width="1" stroke-opacity="0.85"/>
<path d="M115.7 33.4Q116.1 33.9 116 34.5Q115.9 35.2 115.7 35.7Q115.4 36.3 115 36.8Q114.6 37.4 113.9 37.5Q113.2 37.7 112.6 37.5Q111.9 37.3 111.5 36.8Q111.1 36.3 110.9 35.8Q110.8 35.2 110.6 34.6Q110.4 34 110.6 33.4Q110.7 32.7 111.3 32.3Q111.9 31.9 112.5 31.8Q113.2 31.7 113.8 31.9Q114.4 32.1 114.9 32.5Q115.4 32.9 115.7 33.4Z" fill="none" stroke="#b0927a" stroke-width="1.2" opacity="0.55"/>
<path d="M115.1 33.7Q115.4 34.1 115.3 34.6Q115.3 35 115.1 35.4Q114.9 35.9 114.6 36.3Q114.3 36.7 113.7 36.8Q113.2 36.9 112.7 36.8Q112.2 36.6 111.9 36.3Q111.6 35.9 111.5 35.5Q111.4 35.1 111.2 34.6Q111.1 34.2 111.2 33.7Q111.3 33.2 111.8 32.9Q112.2 32.6 112.7 32.5Q113.2 32.4 113.7 32.6Q114.1 32.7 114.5 33Q114.8 33.3 115.1 33.7Z" fill="#cfd2de" stroke="#94a2cf" stroke-width="1" stroke-opacity="0.85"/>
<path d="M132.8 46.8Q133.1 47.4 133.1 48.1Q133.1 48.8 132.7 49.4Q132.2 50 131.8 50.5Q131.3 51.1 130.6 51.6Q129.9 52.1 129.1 52.1Q128.3 52.1 127.6 51.8Q126.9 51.5 126.5 51Q126 50.4 126 49.7Q126.1 49.1 126.3 48.4Q126.5 47.7 127.1 47.2Q127.7 46.7 128.5 46.4Q129.2 46.2 130 45.9Q130.8 45.7 131.6 45.9Q132.4 46.1 132.8 46.8Z" fill="none" stroke="#b0927a" stroke-width="1.2" opacity="0.55"/>
<path d="M132.2 47.2Q132.5 47.7 132.4 48.2Q132.4 48.8 132 49.2Q131.7 49.7 131.3 50.1Q130.9 50.5 130.4 50.9Q129.8 51.4 129.1 51.4Q128.5 51.4 127.9 51.2Q127.4 50.9 127 50.5Q126.7 50.1 126.7 49.6Q126.7 49.1 127 48.6Q127.2 48.1 127.7 47.6Q128.1 47.2 128.7 47Q129.3 46.8 130 46.6Q130.6 46.4 131.3 46.6Q131.9 46.7 132.2 47.2Z" fill="#cfd2de" stroke="#94a2cf" stroke-width="1" stroke-opacity="0.85"/>
<path d="M89.1 74.4Q89 75.3 88.6 76.1Q88.2 76.8 87.4 77.2Q86.6 77.5 85.8 77.6Q85.1 77.7 84.3 77.6Q83.5 77.5 82.9 76.9Q82.3 76.4 82 75.6Q81.7 74.9 81.6 74Q81.4 73.2 81.9 72.4Q82.3 71.6 83 71.2Q83.7 70.7 84.6 70.7Q85.4 70.7 86.1 71.1Q86.7 71.5 87.4 71.8Q88.1 72.1 88.7 72.8Q89.2 73.5 89.1 74.4Z" fill="none" stroke="#b0927a" stroke-width="1.2" opacity="0.55"/>
<path d="M88.4 74.4Q88.3 75.1 87.9 75.7Q87.6 76.3 87 76.6Q86.4 76.9 85.7 77Q85.1 77 84.5 77Q83.8 76.9 83.4 76.4Q82.9 75.9 82.6 75.4Q82.4 74.8 82.3 74.1Q82.2 73.4 82.5 72.8Q82.9 72.1 83.4 71.8Q84 71.4 84.7 71.4Q85.4 71.4 85.9 71.7Q86.5 72 87 72.3Q87.6 72.5 88 73.1Q88.4 73.7 88.4 74.4Z" fill="#cfd2de" stroke="#94a2cf" stroke-width="1" stroke-opacity="0.85"/>
<path d="M189.9 97.1Q190.3 98.1 189.9 99Q189.6 100 189.1 100.6Q188.6 101.3 188.1 102Q187.6 102.6 186.8 102.9Q186 103.1 185.2 102.9Q184.3 102.6 183.7 101.8Q183.1 101.1 183 100.1Q182.9 99.1 182.9 98.1Q182.9 97.2 183.3 96.4Q183.6 95.5 184.3 95.2Q185.1 94.8 185.8 94.6Q186.6 94.4 187.4 94.6Q188.2 94.8 188.9 95.5Q189.6 96.2 189.9 97.1Z" fill="none" stroke="#b0927a" stroke-width="1.2" opacity="0.55"/>
<path d="M189.2 97.4Q189.5 98.2 189.2 99Q189 99.8 188.6 100.3Q188.2 100.8 187.8 101.4Q187.4 102 186.8 102.2Q186.1 102.4 185.4 102.2Q184.7 101.9 184.2 101.3Q183.7 100.6 183.6 99.8Q183.5 99 183.5 98.2Q183.6 97.4 183.8 96.7Q184.1 96 184.7 95.7Q185.3 95.4 185.9 95.2Q186.5 95.1 187.2 95.2Q187.9 95.4 188.4 96Q188.9 96.6 189.2 97.4Z" fill="#cfd2de" stroke="#94a2cf" stroke-width="1" stroke-opacity="0.85"/>
<path d="M74.1 45.4Q74 46.3 73.8 47Q73.5 47.7 73.1 48.1Q72.7 48.6 72.1 48.9Q71.6 49.2 71 49.2Q70.4 49.3 70 48.9Q69.5 48.5 69.1 47.9Q68.8 47.3 68.6 46.5Q68.4 45.8 68.7 45.1Q69 44.3 69.5 43.9Q70 43.4 70.5 43.2Q71 43 71.6 43.1Q72.1 43.1 72.7 43.3Q73.3 43.4 73.7 44Q74.2 44.6 74.1 45.4Z" fill="none" stroke="#b0927a" stroke-width="1.2" opacity="0.55"/>
<path d="M73.3 45.6Q73.3 46.2 73.1 46.7Q72.9 47.3 72.6 47.7Q72.3 48 71.9 48.3Q71.5 48.5 71.1 48.6Q70.7 48.6 70.3 48.3Q70 48 69.7 47.5Q69.5 47 69.3 46.4Q69.2 45.9 69.4 45.3Q69.6 44.7 70 44.3Q70.3 44 70.7 43.8Q71.1 43.7 71.5 43.7Q71.9 43.7 72.4 43.8Q72.8 44 73.1 44.4Q73.4 44.9 73.3 45.6Z" fill="#cfd2de" stroke="#94a2cf" stroke-width="1" stroke-opacity="0.85"/>
<path d="M174.3 124.3Q174.2 125 173.7 125.5Q173.2 126 172.6 126.4Q171.9 126.9 171.1 126.7Q170.2 126.6 169.4 126.2Q168.7 125.7 168.2 125Q167.8 124.4 167.6 123.7Q167.5 123.1 167.4 122.4Q167.3 121.6 167.6 120.9Q167.9 120.3 168.8 120.1Q169.6 119.9 170.5 120.1Q171.3 120.2 172 120.6Q172.7 121.1 173.2 121.7Q173.7 122.2 174.1 122.9Q174.5 123.6 174.3 124.3Z" fill="none" stroke="#b0927a" stroke-width="1.2" opacity="0.55"/>
<path d="M173.6 124.1Q173.5 124.7 173.2 125.1Q172.8 125.5 172.3 125.8Q171.8 126.1 171.1 126Q170.3 125.9 169.7 125.5Q169.1 125.1 168.7 124.6Q168.4 124.1 168.3 123.6Q168.1 123.1 168 122.5Q167.9 122 168.2 121.4Q168.4 120.9 169.1 120.8Q169.8 120.7 170.5 120.8Q171.1 120.9 171.7 121.3Q172.3 121.6 172.7 122.1Q173.1 122.5 173.5 123.1Q173.8 123.6 173.6 124.1Z" fill="#cfd2de" stroke="#94a2cf" stroke-width="1" stroke-opacity="0.85"/>
<path d="M92.4 95.8Q92.6 96.5 92.5 97.2Q92.4 97.9 92.3 98.6Q92.1 99.2 91.8 99.8Q91.4 100.4 90.8 100.5Q90.2 100.5 89.6 100.1Q89.1 99.7 88.7 99.1Q88.4 98.5 88.2 97.8Q88.1 97.2 87.9 96.5Q87.8 95.7 88 95Q88.2 94.3 88.7 94Q89.2 93.7 89.8 93.5Q90.4 93.4 90.9 93.7Q91.4 94 91.8 94.6Q92.2 95.1 92.4 95.8Z" fill="none" stroke="#b0927a" stroke-width="1.2" opacity="0.55"/>
<path d="M91.8 96.1Q92 96.6 91.9 97.2Q91.8 97.7 91.7 98.2Q91.6 98.7 91.4 99.2Q91.1 99.7 90.7 99.7Q90.2 99.7 89.8 99.4Q89.5 99.1 89.2 98.6Q89 98.1 88.8 97.6Q88.7 97.1 88.6 96.5Q88.5 95.9 88.6 95.4Q88.8 94.9 89.2 94.6Q89.5 94.3 89.9 94.2Q90.3 94.1 90.7 94.4Q91.1 94.6 91.4 95.1Q91.7 95.5 91.8 96.1Z" fill="#cfd2de" stroke="#94a2cf" stroke-width="1" stroke-opacity="0.85"/>
<path d="M181.3 71.6Q181.8 72.1 182.1 72.8Q182.4 73.5 182.6 74.3Q182.7 75.1 182.4 75.9Q182.2 76.6 181.5 76.9Q180.8 77.1 180.1 77.2Q179.3 77.2 178.6 76.9Q177.9 76.6 177.4 75.9Q176.9 75.2 176.6 74.5Q176.3 73.8 176.3 73Q176.3 72.3 176.6 71.6Q176.8 70.9 177.3 70.3Q177.8 69.7 178.6 69.8Q179.4 69.9 180.1 70.5Q180.8 71 181.3 71.6Z" fill="none" stroke="#b0927a" stroke-width="1.2" opacity="0.55"/>
<path d="M180.8 72Q181.2 72.5 181.5 73.1Q181.8 73.6 181.9 74.3Q182 74.9 181.8 75.5Q181.6 76.1 181.1 76.3Q180.5 76.5 180 76.5Q179.4 76.5 178.8 76.3Q178.3 76 177.9 75.4Q177.5 74.9 177.3 74.3Q177 73.7 177 73.1Q177 72.5 177.1 72Q177.3 71.4 177.7 71Q178.1 70.5 178.7 70.6Q179.4 70.7 179.9 71.1Q180.4 71.6 180.8 72Z" fill="#cfd2de" stroke="#94a2cf" stroke-width="1" stroke-opacity="0.85"/>
<path d="M192.1 137.9Q192.5 138.6 192.5 139.5Q192.4 140.4 192 141.1Q191.5 141.8 190.8 142.3Q190.1 142.8 189.2 142.7Q188.4 142.7 187.7 142.4Q186.9 142.1 186.4 141.4Q185.8 140.8 185.7 140Q185.7 139.2 185.7 138.4Q185.7 137.6 186 136.7Q186.3 135.9 187 135.4Q187.7 134.9 188.6 134.9Q189.5 134.8 190.1 135.4Q190.8 135.9 191.2 136.6Q191.6 137.3 192.1 137.9Z" fill="none" stroke="#b0927a" stroke-width="1.2" opacity="0.55"/>
<path d="M191.4 138.1Q191.8 138.7 191.8 139.4Q191.7 140.1 191.4 140.7Q191 141.3 190.4 141.7Q189.9 142 189.2 142Q188.5 141.9 187.9 141.7Q187.3 141.5 186.9 141Q186.4 140.5 186.4 139.8Q186.3 139.1 186.3 138.5Q186.3 137.8 186.5 137.1Q186.8 136.5 187.4 136.1Q188 135.7 188.7 135.6Q189.4 135.6 189.9 136.1Q190.4 136.5 190.8 137Q191.1 137.6 191.4 138.1Z" fill="#cfd2de" stroke="#94a2cf" stroke-width="1" stroke-opacity="0.85"/>
<path d="M97.6 106.4Q97.3 107.2 96.8 107.8Q96.2 108.4 95.4 108.7Q94.7 109 94 108.8Q93.2 108.6 92.6 108.2Q92 107.9 91.3 107.4Q90.7 106.9 90.5 106Q90.4 105.2 90.7 104.4Q90.9 103.5 91.6 103Q92.3 102.5 93 102.4Q93.8 102.4 94.5 102.2Q95.2 102.1 96 102.4Q96.7 102.7 97.2 103.4Q97.6 104.1 97.7 104.9Q97.9 105.7 97.6 106.4Z" fill="none" stroke="#b0927a" stroke-width="1.2" opacity="0.55"/>
<path d="M96.9 106.2Q96.7 106.9 96.2 107.3Q95.8 107.8 95.2 108Q94.6 108.3 94 108.1Q93.4 107.9 92.9 107.7Q92.4 107.4 91.9 107Q91.4 106.6 91.3 105.9Q91.1 105.2 91.4 104.6Q91.6 103.9 92.2 103.5Q92.7 103.1 93.3 103Q93.9 103 94.5 102.9Q95 102.8 95.6 103Q96.2 103.2 96.6 103.8Q96.9 104.3 97 105Q97.2 105.6 96.9 106.2Z" fill="#cfd2de" stroke="#94a2cf" stroke-width="1" stroke-opacity="0.85"/>
<path d="M180.3 108.1Q180.2 109 179.6 109.6Q179 110.2 178.5 110.6Q177.9 110.9 177.3 111Q176.7 111 176.1 111Q175.5 110.9 174.9 110.5Q174.3 110.1 174.2 109.3Q174.2 108.5 174.3 107.7Q174.5 106.9 174.9 106.2Q175.3 105.5 175.9 105.2Q176.5 104.8 177.2 104.7Q177.8 104.5 178.4 104.8Q178.9 105 179.3 105.5Q179.7 106 180.1 106.6Q180.4 107.3 180.3 108.1Z" fill="none" stroke="#b0927a" stroke-width="1.2" opacity="0.55"/>
<path d="M179.5 108Q179.4 108.7 179 109.2Q178.6 109.7 178.1 110Q177.6 110.3 177.2 110.3Q176.7 110.4 176.3 110.3Q175.8 110.3 175.4 110Q175 109.7 175 109.1Q174.9 108.4 175.1 107.8Q175.2 107.2 175.5 106.6Q175.8 106.1 176.3 105.8Q176.8 105.5 177.2 105.3Q177.7 105.2 178.1 105.4Q178.5 105.6 178.8 106Q179.1 106.4 179.4 106.9Q179.6 107.4 179.5 108Z" fill="#cfd2de" stroke="#94a2cf" stroke-width="1" stroke-opacity="0.85"/>
<path d="M190.6 119.9Q191 121.1 191.2 122.1Q191.4 123.1 191.3 124.1Q191.2 125 190.9 125.9Q190.6 126.8 189.9 127.2Q189.2 127.6 188.3 127.1Q187.5 126.6 186.8 125.9Q186 125.3 185.5 124.2Q184.9 123.2 184.8 122.1Q184.7 121 184.8 120.1Q185 119.1 185.4 118.5Q185.8 117.8 186.5 117.4Q187.1 117 187.9 117Q188.8 117 189.5 117.9Q190.3 118.8 190.6 119.9Z" fill="none" stroke="#b0927a" stroke-width="1.2" opacity="0.55"/>
<path d="M190.1 120.3Q190.4 121.3 190.5 122.2Q190.7 123.1 190.6 123.9Q190.6 124.7 190.4 125.4Q190.2 126.2 189.6 126.5Q189.1 126.8 188.4 126.4Q187.7 125.9 187.1 125.3Q186.5 124.7 186.1 123.9Q185.6 123 185.5 122.1Q185.4 121.1 185.5 120.3Q185.5 119.5 185.9 118.9Q186.2 118.4 186.7 118.1Q187.2 117.8 187.8 117.8Q188.5 117.7 189.1 118.5Q189.7 119.3 190.1 120.3Z" fill="#cfd2de" stroke="#94a2cf" stroke-width="1" stroke-opacity="0.85"/>
<path d="M192.1 73Q192.6 73.9 192.9 74.8Q193.1 75.8 192.8 76.7Q192.5 77.6 191.9 78.2Q191.3 78.8 190.5 78.9Q189.8 78.9 189 78.6Q188.3 78.3 187.6 78Q186.8 77.7 186.2 76.9Q185.6 76.1 185.5 75Q185.4 74 185.7 73.1Q186.1 72.2 186.7 71.8Q187.4 71.3 188.1 71.1Q188.8 70.9 189.6 70.9Q190.3 70.9 191 71.6Q191.6 72.2 192.1 73Z" fill="none" stroke="#b0927a" stroke-width="1.2" opacity="0.55"/>
<path d="M191.5 73.4Q191.9 74.1 192.1 74.9Q192.4 75.7 192.1 76.5Q191.9 77.2 191.4 77.7Q191 78.2 190.3 78.2Q189.7 78.2 189.1 78Q188.6 77.7 187.9 77.4Q187.3 77.2 186.8 76.5Q186.3 75.8 186.3 75Q186.2 74.1 186.4 73.4Q186.7 72.6 187.2 72.3Q187.7 71.9 188.3 71.7Q188.8 71.6 189.5 71.6Q190.1 71.6 190.6 72.2Q191.1 72.7 191.5 73.4Z" fill="#cfd2de" stroke="#94a2cf" stroke-width="1" stroke-opacity="0.85"/>
<path d="M158.9 97.9Q158.9 98.9 158.9 99.8Q158.9 100.7 158.5 101.6Q158.2 102.5 157.4 103.1Q156.7 103.6 155.7 103.8Q154.8 104 154 103.5Q153.1 102.9 152.5 102.2Q151.9 101.5 151.5 100.5Q151.2 99.5 151.5 98.6Q151.8 97.7 152.3 96.9Q152.8 96.1 153.4 95.5Q154.1 94.9 155 94.7Q155.9 94.5 156.9 94.7Q157.9 95 158.4 95.9Q159 96.9 158.9 97.9Z" fill="none" stroke="#b0927a" stroke-width="1.2" opacity="0.55"/>
<path d="M158.3 98.1Q158.3 98.9 158.3 99.7Q158.3 100.5 158 101.2Q157.7 101.9 157.1 102.4Q156.5 102.9 155.7 103.1Q154.9 103.2 154.2 102.8Q153.5 102.3 153 101.7Q152.5 101.1 152.2 100.3Q151.9 99.5 152.2 98.7Q152.5 97.9 152.8 97.3Q153.2 96.6 153.8 96.1Q154.3 95.6 155.1 95.4Q155.8 95.2 156.6 95.4Q157.4 95.7 157.9 96.5Q158.3 97.2 158.3 98.1Z" fill="#cfd2de" stroke="#94a2cf" stroke-width="1" stroke-opacity="0.85"/>
<path d="M102.5 104.6Q103.1 105.5 103.4 106.6Q103.7 107.7 103.7 108.8Q103.8 110 103.3 110.8Q102.9 111.6 102.1 111.9Q101.3 112.2 100.4 112Q99.5 111.8 98.8 110.9Q98.1 110 97.5 109.2Q96.9 108.4 96.4 107.3Q95.8 106.2 95.8 105.1Q95.8 104 96.3 103.1Q96.8 102.3 97.6 102.2Q98.5 102 99.3 102.4Q100.2 102.8 101 103.3Q101.8 103.7 102.5 104.6Z" fill="none" stroke="#b0927a" stroke-width="1.2" opacity="0.55"/>
<path d="M101.9 105Q102.5 105.8 102.7 106.8Q103 107.7 103 108.7Q103.1 109.6 102.8 110.3Q102.4 111 101.8 111.2Q101.2 111.5 100.5 111.3Q99.7 111.1 99.1 110.3Q98.5 109.5 98 108.8Q97.5 108.1 97 107.2Q96.6 106.3 96.5 105.3Q96.5 104.3 96.9 103.6Q97.3 102.9 97.9 102.8Q98.6 102.7 99.3 103.1Q100 103.4 100.7 103.8Q101.4 104.2 101.9 105Z" fill="#cfd2de" stroke="#94a2cf" stroke-width="1" stroke-opacity="0.85"/>
<path d="M151.7 103.6Q152.4 104.5 152.6 105.5Q152.9 106.6 152.8 107.7Q152.7 108.7 152.2 109.4Q151.6 110.1 150.8 110.4Q150.1 110.7 149.2 110.6Q148.3 110.5 147.6 109.7Q146.9 108.8 146.4 107.9Q146 107 145.6 106Q145.2 105 145.2 103.9Q145.3 102.8 145.7 101.9Q146.1 101 147 100.8Q147.9 100.7 148.8 101.2Q149.6 101.8 150.4 102.3Q151.1 102.8 151.7 103.6Z" fill="none" stroke="#b0927a" stroke-width="1.2" opacity="0.55"/>
<path d="M151.2 104Q151.7 104.7 151.9 105.6Q152.1 106.5 152.1 107.5Q152.1 108.4 151.6 108.9Q151.2 109.5 150.6 109.8Q149.9 110 149.2 109.9Q148.5 109.8 147.9 109Q147.3 108.3 147 107.5Q146.6 106.7 146.2 105.9Q145.9 105 145.9 104.1Q145.9 103.2 146.3 102.4Q146.6 101.7 147.3 101.6Q148 101.4 148.7 101.9Q149.4 102.4 150 102.8Q150.7 103.3 151.2 104Z" fill="#cfd2de" stroke="#94a2cf" stroke-width="1" stroke-opacity="0.85"/>
<path d="M188.7 66.4Q188.9 67.1 188.7 67.7Q188.4 68.4 188 69Q187.7 69.6 187 69.9Q186.3 70.2 185.6 70.1Q184.9 70 184.3 69.6Q183.8 69.2 183.5 68.6Q183.3 68 183 67.4Q182.8 66.8 182.8 66.1Q182.7 65.3 183.3 64.8Q183.8 64.2 184.5 64Q185.2 63.8 185.9 63.9Q186.5 64.1 187 64.5Q187.6 64.9 188.1 65.3Q188.6 65.7 188.7 66.4Z" fill="none" stroke="#b0927a" stroke-width="1.2" opacity="0.55"/>
<path d="M188 66.5Q188.2 67.1 188 67.6Q187.8 68.1 187.5 68.5Q187.2 69 186.7 69.2Q186.2 69.4 185.7 69.4Q185.1 69.3 184.7 69Q184.2 68.7 184 68.2Q183.8 67.8 183.7 67.3Q183.5 66.9 183.5 66.3Q183.4 65.7 183.8 65.3Q184.2 64.8 184.8 64.7Q185.3 64.5 185.8 64.6Q186.3 64.7 186.7 65Q187.1 65.3 187.5 65.7Q187.9 66 188 66.5Z" fill="#cfd2de" stroke="#94a2cf" stroke-width="1" stroke-opacity="0.85"/>
<path d="M120 48.2Q120 49.3 119.8 50.3Q119.5 51.3 119.1 52Q118.6 52.7 117.9 53.3Q117.3 53.8 116.5 54.1Q115.7 54.4 114.9 53.9Q114.1 53.4 113.6 52.5Q113.1 51.7 112.8 50.7Q112.5 49.7 112.7 48.6Q113 47.6 113.5 46.8Q114 46.1 114.7 45.7Q115.4 45.2 116.1 45.2Q116.9 45.2 117.8 45.3Q118.6 45.4 119.3 46.2Q120 47 120 48.2Z" fill="none" stroke="#b0927a" stroke-width="1.2" opacity="0.55"/>
<path d="M119.3 48.4Q119.3 49.3 119.1 50.2Q118.9 51 118.5 51.6Q118.1 52.2 117.6 52.7Q117.1 53.1 116.5 53.4Q115.8 53.6 115.2 53.2Q114.6 52.8 114.2 52Q113.7 51.3 113.5 50.5Q113.2 49.6 113.4 48.8Q113.6 47.9 114 47.2Q114.4 46.6 115 46.2Q115.6 45.9 116.2 45.9Q116.8 45.9 117.5 45.9Q118.2 46 118.7 46.7Q119.3 47.4 119.3 48.4Z" fill="#cfd2de" stroke="#94a2cf" stroke-width="1" stroke-opacity="0.85"/>
<path d="M134.5 101.4Q134.3 102.5 133.6 103.3Q133 104.2 132.2 104.9Q131.5 105.5 130.7 105.7Q129.8 105.8 129.2 105.4Q128.5 105 128.1 104.3Q127.6 103.7 127.5 102.8Q127.4 101.8 127.5 100.8Q127.5 99.8 127.9 98.7Q128.4 97.6 129.2 97.1Q130.1 96.6 131 96.7Q131.8 96.7 132.4 97.1Q133 97.4 133.5 98.1Q133.9 98.7 134.3 99.5Q134.7 100.3 134.5 101.4Z" fill="none" stroke="#b0927a" stroke-width="1.2" opacity="0.55"/>
<path d="M133.7 101.3Q133.6 102.2 133 102.9Q132.5 103.7 131.9 104.2Q131.3 104.8 130.6 104.9Q129.9 105.1 129.4 104.7Q128.9 104.4 128.5 103.9Q128.2 103.3 128.1 102.6Q128.1 101.8 128.2 100.9Q128.2 100.1 128.6 99.2Q128.9 98.2 129.6 97.8Q130.4 97.4 131 97.4Q131.7 97.4 132.2 97.7Q132.7 98 133 98.5Q133.3 99 133.6 99.7Q133.9 100.4 133.7 101.3Z" fill="#cfd2de" stroke="#94a2cf" stroke-width="1" stroke-opacity="0.85"/>
<path d="M62.7 60.9Q63.1 61.8 63.2 63Q63.3 64.2 63 65.4Q62.7 66.5 62 67Q61.3 67.6 60.5 67.2Q59.7 66.9 59 66.6Q58.3 66.2 57.7 65.5Q57.1 64.8 56.8 63.7Q56.5 62.6 56.4 61.4Q56.4 60.2 56.8 59.2Q57.2 58.3 57.8 57.7Q58.5 57.1 59.2 56.9Q60 56.7 60.7 57.4Q61.4 58.1 61.8 59Q62.3 59.9 62.7 60.9Z" fill="none" stroke="#b0927a" stroke-width="1.2" opacity="0.55"/>
<path d="M62.1 61.1Q62.4 61.9 62.5 62.9Q62.5 64 62.3 65Q62.1 65.9 61.6 66.4Q61 66.8 60.4 66.6Q59.8 66.3 59.2 66Q58.7 65.7 58.2 65Q57.7 64.4 57.5 63.5Q57.2 62.5 57.1 61.5Q57.1 60.5 57.4 59.6Q57.7 58.8 58.2 58.3Q58.7 57.8 59.3 57.6Q59.9 57.5 60.5 58.1Q61 58.7 61.4 59.5Q61.7 60.2 62.1 61.1Z" fill="#cfd2de" stroke="#94a2cf" stroke-width="1" stroke-opacity="0.85"/>
<path d="M107.4 91.3Q107.9 92.1 108.1 93.2Q108.2 94.2 107.6 95Q107 95.7 106.4 96.3Q105.7 96.8 104.9 97Q104.2 97.3 103.3 97.3Q102.4 97.3 101.5 96.9Q100.5 96.5 100.1 95.5Q99.8 94.5 99.9 93.6Q100.1 92.6 100.3 91.7Q100.6 90.9 101.3 90.3Q101.9 89.7 102.7 89.4Q103.5 89.1 104.4 89.2Q105.3 89.3 106 89.9Q106.8 90.5 107.4 91.3Z" fill="none" stroke="#b0927a" stroke-width="1.2" opacity="0.55"/>
<path d="M106.7 91.7Q107.2 92.3 107.3 93.2Q107.4 94 106.9 94.7Q106.5 95.3 105.9 95.8Q105.4 96.2 104.8 96.4Q104.1 96.6 103.4 96.6Q102.7 96.6 101.9 96.3Q101.1 96 100.8 95.2Q100.5 94.3 100.6 93.5Q100.7 92.7 101 92Q101.2 91.3 101.7 90.8Q102.2 90.3 102.9 90.1Q103.6 89.8 104.3 89.9Q105.1 90 105.6 90.5Q106.2 91 106.7 91.7Z" fill="#cfd2de" stroke="#94a2cf" stroke-width="1" stroke-opacity="0.85"/>
<path d="M176.3 71.7Q176.9 72.3 177.2 73Q177.5 73.8 177.5 74.6Q177.6 75.4 177.4 76.1Q177.1 76.7 176.6 77Q176 77.3 175.4 77.3Q174.7 77.4 174 76.9Q173.3 76.3 172.9 75.5Q172.5 74.7 172.2 74Q171.9 73.3 171.8 72.5Q171.7 71.7 171.8 71Q172 70.2 172.5 69.8Q173 69.4 173.8 69.7Q174.5 70 175.1 70.5Q175.7 71.1 176.3 71.7Z" fill="none" stroke="#b0927a" stroke-width="1.2" opacity="0.55"/>
<path d="M175.8 72.1Q176.3 72.6 176.5 73.2Q176.8 73.9 176.9 74.5Q177 75.2 176.8 75.7Q176.6 76.2 176.2 76.4Q175.8 76.6 175.3 76.6Q174.8 76.6 174.3 76.2Q173.7 75.7 173.4 75.1Q173.1 74.4 172.8 73.8Q172.5 73.2 172.4 72.6Q172.3 72 172.4 71.4Q172.5 70.8 172.9 70.5Q173.2 70.2 173.8 70.4Q174.4 70.7 174.9 71.2Q175.4 71.6 175.8 72.1Z" fill="#cfd2de" stroke="#94a2cf" stroke-width="1" stroke-opacity="0.85"/>
</g></g>
<clipPath id="clipA1"><rect x="222.8" y="23.9" width="166.2" height="124.6"/></clipPath>
<g clip-path="url(#clipA1)">
<rect x="222.8" y="23.9" width="166.2" height="124.6" fill="#c9c1b8"/>
<g filter="url(#soft)">
<rect x="222.8" y="23.9" width="166.2" height="124.6" fill="#c9c1b8"/>
<rect x="222.8" y="23.9" width="166.2" height="124.6" filter="url(#tx1)" opacity="0.55"/>
<rect x="222.8" y="23.9" width="166.2" height="124.6" filter="url(#tb1)" opacity="0.8"/>
<path d="M330.2 108.1q-0.2 -1 -1.4 -1.6M289.6 130.3q-0.9 1.1 -0.5 2.8M315.6 130.8q1.3 -1.2 1.2 -3.3M278.9 115.6q0.8 -0.1 1.3 -1M343.4 81.6q-1.5 0.3 -2.3 2.1M357.2 136.6q1.4 -1.3 1.1 -3.7M366.2 87.5q0.2 -1.9 -1.4 -3.5M320.8 32.7q-1.6 0.2 -2.6 1.9M226.3 37.8q1.4 -0.8 1.8 -2.7M225.8 121.2q-0.4 -1.1 -1.9 -1.6M330.1 35.5q0.3 1.6 2.1 2.5M336.1 100.9q-1 -0.1 -1.8 0.8M244.2 140.5q-0.9 0.9 -0.6 2.5M307.7 24.3q-0.8 0.6 -0.9 1.8M240.1 139.7q0 1.1 1 2M267.7 121.8q1.5 -0.5 2.1 -2.3M327.8 98.7q1.2 1 3.1 0.6M381.4 133.7q0.9 0 1.5 -1M341.4 147.5q-0.5 1 0.1 2.2M385.3 54.1q0.2 1.6 1.8 2.6M276.5 101.4q-0.5 0.9 0 2.1M320.6 78.1q0 -1.4 -1.4 -2.5M263 49.5q0.5 0.7 1.5 0.8M341 65.1q0.7 0.4 1.6 0M365 102q-0.5 1.7 0.8 3.4M371.2 30.7q-0.1 1.6 1.3 2.9M351.6 57q-1.1 -0.4 -2.3 0.3M286.5 128q-0.9 -1.3 -2.7 -1.4M373.6 138q0 -0.8 -0.8 -1.4M284.2 144.8q-0.7 -0.3 -1.6 0.2M334.3 93q0.5 -1.4 -0.4 -2.9M269.7 70.7q0.3 1.2 1.7 1.9M307.3 40.3q1 1.1 2.9 1M328.8 120.2q-0.8 -0.2 -1.7 0.4M309.4 60.8q1 -0.1 1.7 -1.1M357.3 104.1q-1.1 1.1 -0.8 2.9M233.9 57.8q0.2 -0.8 -0.4 -1.5M315.6 136.6q1.7 0.4 3.3 -0.8M360.2 63.3q-1 0.4 -1.4 1.7M233.5 34.4q0.7 0.8 1.9 0.7M277.9 71q-1.7 -0.7 -3.6 0.4M283.6 82.3q1 -0.9 0.9 -2.5M343 144.7q1.1 -0.2 1.7 -1.3M362.5 139.3q-0.4 0.9 0.2 1.9M344 106.5q-0.4 1.9 1.1 3.8M300.1 146.1q-1.4 -0.8 -3.3 0M245.5 124.8q-1 -0.1 -1.9 0.7M293.6 106.1q1.7 -0.4 2.6 -2.2M375.2 118.7q-0.9 0.3 -1.4 1.4M373.7 78.2q1.6 0.4 3.1 -0.9M354.1 96.9q-0.3 1.3 0.8 2.6M333.2 37.7q-1.7 0.5 -2.4 2.5M258.6 25.5q-0.4 1.2 0.5 2.5M269.6 89.1q-0.8 1 -0.3 2.6M375.4 127.5q0.7 -1.1 0.1 -2.6M314.8 123.6q-0.3 1.2 0.6 2.3M245.6 80.6q-1.2 1 -1.2 3M283.1 105.1q-0.8 -1.2 -2.6 -1.4M294.2 76.1q0.4 1.5 2.2 2.2M276.3 59.3q1.3 -0.2 2 -1.5M240.7 101.5q-1.2 0.2 -2 1.5M323.3 86.6q1.1 -0.2 1.8 -1.4M358 129.1q-0.4 0.7 -0.1 1.5M248.6 90.1q1.3 -0.4 1.8 -2M262.5 97.3q1.3 -1.4 0.9 -3.7M315.1 47.8q-0.9 -1 -2.6 -0.9M257.8 36.3q1.1 -0.3 1.6 -1.6M367.6 94.5q1.6 0.9 3.8 0.1M385.8 46.6q0.1 -0.8 -0.6 -1.5M371.4 41.4q-0.6 -1.6 -2.5 -2.3M320.6 133.9q-0.1 2 1.7 3.5M331 37.8q0.7 0.7 2 0.5M242.5 71.7q0.3 1.1 1.6 1.6M364.6 111.3q-0.6 0.7 -0.4 1.8M238 62.7q0.6 0.7 1.7 0.7M387.8 64.6q0.7 -0.4 0.8 -1.4M248.6 30.3q-1.4 -1.2 -3.6 -0.8M364.3 69.4q0.9 -0.9 0.7 -2.4M309.6 59.5q-1.3 0.8 -1.5 2.7M287.2 48.6q-0.7 0.4 -0.8 1.4M285.5 138.4q-0.7 -0.8 -2 -0.8M301.3 90.2q0.2 1.4 1.8 2.3M267.9 37.5q-0.4 1.1 0.3 2.3M342.1 30q-1.4 -0.6 -2.9 0.3M363.6 41.5q0.7 -0.9 0.4 -2.3M243.8 107.7q0.5 -1.9 -0.9 -3.9M265.4 111.6q1.4 0.2 2.6 -1M338 39.3q-0.9 0.9 -0.6 2.4M253.9 38.6q-1.5 0.5 -2.1 2.3M306.8 88.6q-1.4 -1 -3.4 -0.3M345.3 65.1q0.4 0.8 1.5 1.1M282.1 76.2q0.2 -0.9 -0.6 -1.7M258.3 116.4q1 -0.5 1.3 -1.7M315.1 92.6q-0.7 1.2 -0.1 2.7M232.2 140.8q-0.8 1.7 0.1 3.8M371 75q0 1.1 1.1 1.9M377 30.9q-0.6 0.9 -0.2 2.2M282.2 146.3q-1.9 -0.2 -3.5 1.4M331.2 24.8q-1.1 0.5 -1.5 1.8M254 53.1q-0.6 1.8 0.7 3.6M316.1 79.4q-1.1 1.1 -0.8 3M280.9 27q0.1 1.8 1.8 3M337.1 110.4q-1.5 -0.1 -2.8 1.3M226.5 102.7q1.3 -0.8 1.6 -2.6M309.7 110.2q0.8 -1 0.5 -2.5M241.5 103.1q-0.3 -1.9 -2.4 -3.1M227.1 95.7q0.8 -0.1 1.3 -0.9M335.7 104.3q1.2 -0.8 1.3 -2.5M336 122.1q-0.2 0.7 0.3 1.5M340.9 44.3q0.3 0.8 1.3 1.2M371.2 134q-1.6 -0.6 -3.3 0.5M270.9 38.5q-0.4 -1 -1.7 -1.4M231.4 114.1q1.4 0.8 3.1 0.1M253.6 59.5q-1.6 0.6 -2.1 2.6M329.6 33.9q-1.1 0.9 -1.2 2.6M382.1 78.3q1.4 -1.1 1.3 -3.3M348.6 54.7q0.3 1.7 2.1 2.7M259.8 85.3q-1.5 0 -2.6 1.5M379.9 51.5q1 1.4 3.1 1.5M260.5 93.7q-1.1 1.5 -0.4 3.6M327.9 125.7q-0.9 0.4 -1.2 1.6M334.1 47q1.2 1.6 3.6 1.6M363.7 35.6q-0.9 0 -1.5 0.9M233 98.2q1.4 -1.4 1.1 -3.7M372.9 72.8q1.2 1 3.1 0.6M303.8 39.4q-0.4 0.9 0.1 1.9M377.8 64q1.4 0.5 2.9 -0.4M342.5 120.5q-0.6 1.7 0.6 3.6M377.2 35.4q-0.8 0.7 -0.8 2M322.9 121.6q1.3 -0.4 1.8 -2M387.6 104.2q0.4 -1.2 -0.4 -2.6M325.9 97.1q1 -1 0.9 -2.6M277.3 58.5q-1 0.4 -1.3 1.7M315.1 146.8q1 0.5 2.2 -0.1M290.9 94.8q-0.7 0.4 -0.9 1.4M257.7 132.1q-0.8 -0.2 -1.6 0.5M321.8 54.1q1.6 -0.3 2.6 -2M227.1 63.2q0.5 1 1.9 1.2M355.9 127.4q1.3 -0.3 2 -1.8M318.3 95.3q-1.1 1.6 -0.5 3.9M251.4 140.5q-0.4 1.7 0.9 3.3M303.1 30q1 -1.1 0.7 -2.8M240.8 148.4q1.4 -0.6 1.9 -2.4M237.2 133.5q1.4 1.3 3.8 1M351.4 122.5q1.6 -0.1 2.7 -1.6M285.8 77.6q-1.4 0.2 -2.3 1.6M336.6 103.6q-1.6 -0.7 -3.4 0.3M226.5 136.8q-0.5 1 0 2.3M344.1 85.3q-0.8 0.3 -1.1 1.4M341.5 82.6q-1 0.8 -1 2.3M318.2 144.8q-0.3 -1.1 -1.6 -1.7M243.4 59.3q-0.1 1 0.8 1.8M347.2 71.4q-0.8 0.6 -0.8 1.7M345 135.5q0.2 -1.1 -0.7 -2M298.5 38.2q-0.6 0.7 -0.4 1.8M305.4 108q-1.4 -1 -3.4 -0.5M365.3 121.3q-1.5 0 -2.8 1.4M323.2 110.5q1.1 -1.5 0.5 -3.6M299.1 122.6q-1.8 -0.3 -3.4 1.1M297 130q0.5 1.9 2.6 2.8M232 147.1q0.4 -0.8 0 -1.7M272.1 57.5q-1 -0.1 -1.9 0.8M251 88.8q0.4 -1.1 -0.3 -2.3M233 30.1q1.6 1.1 3.9 0.4M338.9 53.2q0.8 -0.1 1.2 -0.9M380.5 27q-0.1 0.8 0.5 1.6M351.1 51.2q-1.2 0.2 -1.9 1.5M319.9 125.6q-0.5 -0.8 -1.6 -1M233.2 108.6q-1.4 -0.2 -2.6 1M241.9 54.7q2 -0.1 3.3 -2M278.2 76.5q1.7 -0.3 2.7 -2.2M276.9 112.1q-0.6 0.7 -0.5 1.8M374.3 70.6q1.8 0.5 3.6 -0.9M312.6 138.1q-1.4 0 -2.4 1.4M249 25q-0.9 0 -1.7 0.8M284.7 84.5q-1.5 0.7 -2 2.8M353.6 83.7q-1.5 -1.3 -3.8 -1M305.9 80.6q0.2 -0.8 -0.3 -1.6M267.4 48.8q-0.7 -0.4 -1.6 -0.1M350.4 119.3q-1.8 -0.5 -3.7 0.9M303.3 71.1q0.5 1.1 2 1.5M281.6 113.2q0.7 -0.5 0.8 -1.6M308.9 90q-1.3 0.2 -2 1.6M383.4 73.1q-1.4 0.1 -2.4 1.6M372.2 100.5q1.1 0.4 2.4 -0.3M353.4 126.6q2 -0.1 3.4 -2M311.6 58q-1.2 -1 -3.1 -0.6M239.6 111.8q0.4 -1 -0.3 -2.1M273 110.5q1.6 1 3.8 0.1M344.6 88.3q-0.8 -0.8 -2.2 -0.7M357.8 53.7q0.1 -0.8 -0.6 -1.4M228.8 138.8q0.7 0.4 1.7 0.1M347.7 90.5q0.4 1.8 2.4 2.8M240.9 80.2q-0.1 -1.8 -1.8 -3M336.6 86.3q0.3 1 1.5 1.5M315.3 87.2q-1.4 1.4 -1.1 3.8M348.5 139.4q-0.6 1.8 0.7 3.8M380.9 90.1q2 0.2 3.6 -1.5M377.3 53.6q-0.2 0.8 0.4 1.6M370.6 41.2q-0.7 -0.4 -1.5 -0.1M352.1 132.1q1.1 0 1.9 -1.1M254.8 111.2q-0.7 -0.6 -1.8 -0.4M324.9 72.4q0.4 -1.6 -0.8 -3.2M284.4 48.1q1.4 1.3 3.7 0.9M223.3 100.5q0.1 -1.9 -1.7 -3.4M331.5 146.6q1.5 0.5 3 -0.6M305.8 33.8q-0.7 0.4 -0.9 1.4M315.5 71.5q1.9 0 3.2 -1.8M312.2 41.2q-1.4 -1.1 -3.4 -0.6M367.5 55.2q1.3 1 3.3 0.4M272.9 29.5q-0.9 1 -0.6 2.6M253.1 116.8q0.1 -1.4 -1.3 -2.5M290.9 69.5q-1 -0.5 -2.3 0.1M342 56.2q-1.4 -0.2 -2.6 0.9M295.8 35.9q0.8 -0.7 0.7 -2.1M269.5 123.7q1.4 -0.6 1.9 -2.4M364.3 30.5q1 1.6 3.3 1.9M341.7 58.9q1.6 0.5 3.3 -0.7M365 71.9q0.6 -0.5 0.6 -1.5M289.1 144q0.8 0.4 1.8 -0.1M267.4 59.6q1.3 -0.5 1.8 -2.1M385.3 125q0.2 1.3 1.6 2.1M254.6 45.3q-0.9 1.2 -0.5 2.9M386.5 126.1q-1.2 0.5 -1.6 1.9M292 58.2q0.2 -1.2 -0.8 -2.4M289.6 57.4q-0.7 1.8 0.6 3.9M226.6 146.1q0.2 -1.5 -1.1 -2.8M336.9 114.7q-0.4 0.7 0.1 1.7M384.1 95.9q1.1 -1.5 0.4 -3.7M261.9 30.8q1.6 -0.4 2.3 -2.2M300.2 36.5q0.5 -0.6 0.4 -1.5M353.4 141.2q-1.1 0.3 -1.6 1.7M356.6 35.8q-0.8 1.6 0.1 3.6M270.4 103.2q-0.8 -1.4 -2.7 -1.8M259.2 62.8q-1.9 0.6 -2.7 2.7M246.2 108.5q1.3 -1.5 0.8 -3.9M246 38.8q-1 -1.4 -3.2 -1.5M329.1 112q-1.8 -0.3 -3.5 1.3M305.8 104q1.1 1 3 0.7M242.3 46.4q1 0.1 1.9 -0.8M372.4 135.6q0.2 1.5 1.9 2.4M228.6 34.6q0 -0.8 -0.7 -1.4M334.3 136.9q-0.8 1.8 0.3 3.9M331.4 27.3q-0.6 0.9 -0.2 2.2M259.2 79.1q0.4 1.5 2.2 2.2M346.1 73.3q0.8 1.3 2.6 1.6M279.1 59.3q0.6 -1.5 -0.4 -3.2M237.1 116.1q1.5 -0.1 2.6 -1.5M273.8 54.9q-1.3 0.2 -2 1.7M315.6 137.7q0.5 1.4 2.2 2M327.2 96.8q0 -1.9 -1.8 -3.3M299.3 25.2q-1 -0.8 -2.5 -0.5M235.4 126.4q-0.8 0.1 -1.3 0.8M322 89.1q-1.1 1.2 -0.8 3.1M276.9 137.3q-0.5 1.2 0.3 2.6M308.3 73.3q-0.8 -1.3 -2.7 -1.5M357.2 68.5q0.8 -0.9 0.5 -2.4M295.1 28q-1.7 0 -2.9 1.6M358.3 87.8q1.5 -0.1 2.6 -1.5M303.3 82.7q-0.2 -1.2 -1.4 -1.8M258.3 124q0.3 1.8 2.2 2.8M334.1 134.7q0.4 -1 -0.2 -2.1M328 91.7q0 -1.6 -1.6 -2.9M299.9 89.6q-0.7 0.9 -0.4 2.2M229.4 76.8q0.8 -1.6 -0.2 -3.6M332.6 65.9q1.1 1.4 3.3 1.3M380 105.5q0.6 -0.4 0.7 -1.4M364.2 98.8q-1.6 0.4 -2.4 2.2M227.5 141q1.4 1.1 3.4 0.6M235.2 144.2q1.3 0.2 2.6 -0.9M349.5 75.1q-0.4 1.6 0.8 3.1M302.6 107.4q-1.7 -0.8 -3.8 0.4M288.1 53.8q1.2 -1.1 1 -3.1M310.1 28.7q-0.4 0.9 0.2 2M383.2 141.2q-0.3 1.2 0.7 2.4M268.1 40.2q1 -0.3 1.5 -1.4M349.3 82.1q-1.6 -0.8 -3.6 0.1M292.4 46.3q-1.6 0.9 -1.9 3.2M252.7 48.7q-0.3 0.8 0.3 1.8M341 43.4q-1 0.4 -1.4 1.6M284.5 55.4q1.1 0.4 2.2 -0.4M381.1 76.8q1.1 -1.2 0.7 -3.2M224.3 52.2q1 1.6 3.3 1.8M307.6 128.1q-1 1.5 -0.3 3.6M237.6 86.6q0.2 -1.7 -1.3 -3.2M285.2 62.7q0.9 -1.7 -0.1 -3.9M276.9 26.3q-0.3 1.4 0.9 2.7M280.4 73.9q0 1.1 1 1.9M323.7 79.6q-0.3 0.7 0.1 1.5M292.3 96.9q-1 1.3 -0.4 3.3M331.6 40.6q-1.2 0.1 -2 1.2M320.1 145.2q-0.7 0.4 -0.8 1.4M313.9 137.4q0.4 0.7 1.3 0.8M290.2 132.5q0.1 -1.2 -0.9 -2.2M374.8 73.9q0.9 0.8 2.3 0.5M233.3 30.1q-1.1 0.7 -1.2 2.3M294 142.7q-1.4 -0.9 -3.3 -0.3M225.6 136.2q-1.2 1.1 -1.2 3.1M243.1 92.5q0.2 1.8 2 3M291 143.8q0.9 -0.6 1 -1.9M266.9 119.5q-0.8 0.7 -0.8 1.9M227.1 129.4q0.1 -1.1 -0.9 -1.9M387.4 50.6q-0.6 1 -0.2 2.4M251.6 25.9q-0.7 1.7 0.5 3.7M254 81q0.6 -0.5 0.6 -1.5M314.7 122.8q0.8 1.6 2.9 2.1M331.6 69.6q1.5 0 2.7 -1.4M372.7 127.6q-0.6 0.7 -0.3 1.9M229.7 39.6q0.9 1.5 2.9 1.8M257.1 105q0.8 0.5 1.9 0.2M239 44.9q-1.3 -0.5 -2.7 0.3M257.7 141.6q0.8 -0.5 0.9 -1.6M327.1 70.5q0.2 -1 -0.5 -1.9M271.4 44.8q-0.7 -1.1 -2.3 -1.2M288.6 129.4q0.9 -0.1 1.4 -1.1M237.8 97.4q-0.8 0.5 -0.8 1.7M325.9 117.6q-1.5 0.9 -1.7 3M245.6 130.9q-0.6 -1.3 -2.3 -1.8M341.6 94.7q-1 0.3 -1.4 1.5M321.2 99.4q0.9 -0.7 1 -2M303.7 47.2q-1.3 -1 -3.3 -0.5M267.9 46q0.9 -0.7 1 -2.1M280.1 97.9q1.5 -1 1.6 -3.2M329.8 131.8q0.6 1 1.9 1.2M354.5 69q-1.5 1.3 -1.3 3.8M281.9 60.3q0.9 1 2.5 0.8M253.6 145.9q1.3 -0.3 2 -1.8M301.3 53.2q0.8 0.1 1.4 -0.6M225.2 37.2q-0.5 0.9 0 2.1M362.7 50.5q0 -1.5 -1.4 -2.8M343.2 25.5q1.3 0 2.3 -1.3M237.9 118.9q0 -1.2 -1.2 -2M344.3 79.4q-1 -0.8 -2.6 -0.4M353.8 126.4q-1.7 0.7 -2.3 3M359.7 110.8q0.2 -1.3 -0.8 -2.5M319.8 121.9q0.5 -1.2 -0.2 -2.6M226.4 91.5q-0.9 0.7 -1 2.1M281.8 81.4q-1.5 -1 -3.5 -0.3M345.9 73.1q1.1 -0.2 1.7 -1.4M328.6 111.4q-1.6 0 -2.9 1.6M375.6 113.2q-0.9 0 -1.6 0.8M340.8 98.9q-0.6 -0.5 -1.6 -0.3M228.3 38.2q1.2 1.6 3.7 1.5M294 134.9q-1.8 0.1 -3.1 1.9M228.6 47.6q0.6 -1.3 -0.2 -2.9M272 34.7q1.4 -0.5 2 -2.1M313.1 89.4q0.8 -0.5 0.9 -1.7M270.1 65.9q-0.8 -0.6 -2 -0.2M274.6 34.8q0.4 -0.7 0 -1.5M241 39.5q0.8 -0.4 1.1 -1.5M285.6 96.4q0.1 -1.3 -1 -2.4M301.5 36.6q1.3 1.5 3.7 1.4M308.7 117.2q0.3 1.5 2 2.3M349.7 91.7q2 0.2 3.7 -1.5M247.8 54.9q-0.9 -0.1 -1.7 0.6M307.5 56.9q0.4 0.9 1.5 1.2M228.8 58.3q-1.5 0.1 -2.6 1.6M233.3 129.5q1.1 -1.2 0.9 -3.2M297.3 36.6q0 1.2 1 2.1M329 148.3q-0.6 1.7 0.7 3.6M373.8 123.3q-1.1 1.2 -0.7 3.1M351.5 125.3q1.5 -1.3 1.4 -3.7M352.7 77.8q-0.5 0.8 -0.1 1.8M285.1 124.3q0.6 1.8 2.7 2.7M355.3 39.8q1.2 -1 1.1 -2.9M264.2 83.8q-0.7 -1 -2.1 -1.1M304.2 33q-1.5 0.9 -1.8 2.9M337.5 139.5q-1.4 -0.1 -2.7 1.1M278.7 138q0.8 -1.3 0.1 -3.1M269.2 108.3q1.3 -0.4 1.9 -1.9M233.4 67.5q-0.7 0.4 -0.8 1.3M245.8 62.3q0.3 -2 -1.4 -3.7M383.8 90.9q1.5 -0.1 2.5 -1.6M263.1 100.2q-1.9 0.2 -3.1 2.1M276.5 26.7q0.6 1.4 2.5 1.9M319 82.5q1.4 -0.9 1.6 -3M341.9 59.5q-0.2 -1.7 -1.9 -2.7M235.8 28.6q-1.5 -0.3 -3 0.9M263.4 58.9q-0.7 1.3 0 3M373.8 30.3q-1.1 -0.2 -2.1 0.7M301.2 31.9q0.8 -1.4 0.1 -3.2M317.6 29.9q0.5 1 1.8 1.3M232.7 55.6q-0.7 -1.8 -3 -2.4M234.2 42.3q-1.7 -0.1 -3.1 1.4M246.8 77.6q0.8 1.8 3.1 2.4M298.9 86.2q0.1 1 1.1 1.7M314.2 47.5q0 0.8 0.7 1.4M247 96q-1.1 0.3 -1.6 1.5M284.5 34.1q-1.1 1.3 -0.6 3.4M312.4 125.5q-0.3 1.9 1.3 3.7M383.6 42.2q-1.5 1.1 -1.6 3.3M259.6 93.8q0.2 -0.8 -0.5 -1.6M304.2 134.2q-0.8 -1.7 -3 -2.2M360.9 83.5q0.7 1.6 2.7 2.2M374.7 116.4q1.1 -1.2 0.8 -3.2M290.2 58.4q0.2 1.5 1.7 2.4M347 133.9q-0.5 -1.7 -2.4 -2.5M283.5 45.3q-1.2 -0.3 -2.4 0.7M273.8 99.6q-0.8 -0.6 -2 -0.2M373.9 116.4q-0.2 -0.8 -1 -1.3M322 145.3q0.7 1.8 3 2.5M241.3 86.4q0 1.9 1.7 3.3M287.6 134.1q-0.8 -0.1 -1.6 0.6M314 40.7q-1 0.5 -1.3 1.9M245.5 64.5q0.8 -0.9 0.6 -2.3M383.9 143.1q1.2 1 3.1 0.6M348 50.8q-0.2 1 0.5 2M353.9 36.3q-0.7 -1.4 -2.6 -1.7M226 108.6q0.3 -1.3 -0.7 -2.5M291.5 111q-1.3 0.4 -1.8 1.9M388.1 123.5q-1.3 -0.4 -2.7 0.6M223.8 71.3q-0.1 1 0.7 1.8M296.5 132.1q1 -0.1 1.7 -1.2M243.5 26.4q-1.7 -0.7 -3.6 0.4M382.1 121.1q1.5 0.6 3.2 -0.3M290.4 57q-1.5 -1.2 -3.8 -0.7M275.9 45.6q1.5 0.5 3.1 -0.5M345.1 97.1q0.8 0.1 1.4 -0.5M299.1 134.2q-0.8 -1 -2.3 -1M367.5 59.1q1.3 -1.1 1.2 -3.1M351.7 121.9q0.3 1 1.6 1.5M278.4 143.1q1.5 -0.6 2.1 -2.4M231.9 72.1q-1 1.2 -0.6 3.1M369.9 61.9q-0.9 -0.6 -2.2 -0.2M226.5 96.6q1.2 1.5 3.6 1.5M278.4 112.2q-0.6 -1.5 -2.5 -2.1M291.4 27q-0.7 1.3 -0.1 2.9M331.5 58.2q0.6 -1.3 -0.2 -2.9M339.6 136.6q-1.9 -0.5 -3.8 0.9M229.6 61.3q0.9 1.3 2.8 1.4M232.1 78.3q1.5 1.1 3.6 0.5M324.3 118q-1 0 -1.7 0.9M264.5 103.9q1.2 -0.9 1.2 -2.6M279.9 73.5q1.4 -1.3 1.1 -3.6M331 35.2q-1.3 0.5 -1.8 2.1M277.4 78.6q-0.7 0.4 -0.9 1.4M281 137.6q0.9 1.5 2.9 1.7M255 105.6q0.5 1.2 2 1.7M282.2 100.9q0.7 1.4 2.6 1.8M336.1 54.5q1.4 1.3 3.7 1M301.4 64.5q0.6 -0.8 0.3 -2M383.2 114.3q0.5 0.5 1.5 0.4M291.5 37.7q-1.8 -0.4 -3.4 1.1M296.9 94.5q1.1 0.6 2.5 0M365.5 104.9q0.5 1.1 1.9 1.4M280.2 36.9q-0.8 -1.6 -3 -2.1M356.6 140.2q1.3 1.1 3.2 0.7M319.4 61.4q0.6 0.5 1.5 0.3M256.8 88.9q-0.7 0.6 -0.7 1.6M355.4 108.3q-0.4 0.6 -0.1 1.5M324.2 108.8q1.1 -1.4 0.6 -3.4M288.9 139.4q0.2 1.5 1.9 2.5M250.1 135.9q0.2 1.9 2.2 3.1M352.8 40.1q0.1 -1.7 -1.4 -3.1M344.2 96.9q1.4 1.2 3.5 0.7M265.2 48.2q0.3 -1.2 -0.6 -2.3M241.2 39.5q0.9 0 1.6 -0.9M257.4 113.9q-0.1 -0.8 -1 -1.3M329 85.4q-1.6 -0.1 -2.8 1.4M257.5 53.3q-0.9 -1 -2.6 -1M329.3 34q-0.2 1.8 1.3 3.3M326.5 83.9q1.3 -0.2 2.2 -1.6M266.8 74.5q0 1.3 1.4 2.3M351.3 38.8q-1.1 0.7 -1.3 2.2M268.7 49.6q-0.2 -1 -1.3 -1.6M235.6 141.9q0.5 -1.8 -0.9 -3.6M230.8 60.4q-1.1 -1.3 -3.2 -1.3M229.2 124.5q-1.3 -1.5 -3.7 -1.5M305.4 26q-1.6 0.6 -2.2 2.6M294.4 90.1q-0.9 -1 -2.6 -0.9M238.5 48.4q1.4 -0.6 1.9 -2.4M285.1 37.7q0.7 -0.5 0.8 -1.5M253.2 105.9q-0.9 0.6 -0.9 2M271.7 60.2q1.7 0.6 3.5 -0.5M388.7 76.5q0.8 1 2.4 1M287.8 94.8q-0.6 -1.7 -2.7 -2.4M300.2 31.1q-0.7 -1.7 -2.9 -2.2M247.5 90.4q0.4 -0.9 -0.1 -1.9M298.6 82.6q-0.8 0.5 -1 1.6M257.6 90.8q0.1 0.8 1 1.4M386 111q-0.4 1.8 1 3.5M358.8 136.3q1.4 -0.1 2.3 -1.5M260 85.5q-1.5 0.3 -2.3 1.9M279.6 111.5q-0.4 -0.9 -1.6 -1.1M259.7 37q0.9 1.2 2.7 1.3M380.8 36.8q-1.4 -0.6 -3 0.3M266.1 142.5q1 1.6 3.2 1.8M336.6 145.1q-1.8 0 -3.3 1.7M248.3 80.5q1.1 -0.5 1.4 -1.9M296.5 94.1q-0.4 -1.8 -2.5 -2.7M303.5 75.2q-0.6 0.5 -0.5 1.5M365.1 31q-0.5 -0.7 -1.4 -0.7M341.7 62.5q-0.5 1 0.1 2.2M287.5 130.7q1 -0.3 1.4 -1.5M266 126.9q-0.2 -0.8 -1.2 -1.2M300.9 25.9q-0.6 0.8 -0.2 1.9M259.8 36.7q-1 0.1 -1.6 1.1M376.8 91.2q0.5 -0.8 0 -1.9M248 79.2q-0.6 -1.4 -2.4 -1.8M225.7 32.5q-1.4 -0.5 -2.9 0.5M308.8 117.4q-0.9 0.1 -1.5 0.9M354.7 90.1q0.7 1.2 2.3 1.5M313.3 40.4q-1.7 0.7 -2.4 2.9M328.2 125.7q-0.2 -1.6 -1.8 -2.6M361.5 118.5q-1.2 -0.8 -2.9 -0.3M319.1 39.3q-0.4 0.7 -0.1 1.6M247.6 90.7q0.2 1.1 1.3 1.7M285.6 37.3q0.2 -1.9 -1.5 -3.6M290.3 64.1q0.4 1.1 1.8 1.5M371.1 131.4q1.4 -0.9 1.5 -3M225.4 76.2q-1 0.5 -1.2 1.9M370.1 111.5q0.5 -0.8 0.2 -1.8M311.8 129.4q-1.5 0.2 -2.4 1.7M227.8 100.6q-1.5 -0.2 -2.7 1.1M333.1 99.1q-1.7 -0.2 -3.2 1.2M226.7 28.7q0 1 1 1.6M289.6 76.1q0 1.9 1.7 3.4M329 45.1q1.4 -0.3 2.2 -2M368.5 53.5q0 -1.2 -1.1 -2.1M343.5 140.3q1.4 0.5 2.9 -0.5M242.5 121q1.3 0.1 2.3 -1.1M277.4 79.9q-0.3 1.1 0.6 2.2M279.4 90.7q-1.2 -0.8 -3 -0.2M309.7 127.3q1.4 1.3 3.7 0.9M231.2 124.7q-0.2 -1.7 -2 -2.8M316.5 48.8q-1.8 -0.1 -3.2 1.5M289.2 39.4q-1.4 0.5 -1.9 2.2M232.5 51.1q-0.8 -0.1 -1.5 0.7M273.4 27.2q-0.1 1.7 1.4 3.1M230.2 89.6q-0.7 1.4 0.2 3.1M260.3 102.3q0.8 -1.1 0.4 -2.7M265.3 29.7q0.6 -1.4 -0.3 -3.1M264.3 33.3q1.4 1.2 3.6 0.8M339.5 71.3q-0.2 -1.3 -1.7 -2.1M372.9 69.1q0.3 1 1.4 1.6M345.7 24.9q-0.6 -1.4 -2.4 -1.8M272.4 96.7q0 -0.8 -0.8 -1.3M266 42.4q-1.3 0.6 -1.8 2.4M262.9 132.4q-0.3 0.9 0.3 1.9M381.1 98.1q1.8 -0.3 2.8 -2.2M284.2 100.2q1.6 0 2.9 -1.5M242.7 40.2q-0.4 -1.1 -1.8 -1.5M320.1 36.6q0.3 0.8 1.3 1.2M320.4 140.9q0.7 -1.6 -0.3 -3.6M305.4 101.5q-0.7 -0.4 -1.7 -0.1M259.9 109.7q1.7 0.4 3.4 -1M266.5 99.5q0.5 1.1 1.9 1.4M232.9 135.3q0.1 1.2 1.4 1.9M381.5 68.5q0 1.4 1.3 2.4M299.5 43.4q0.4 -0.8 -0.1 -1.9M231.8 72.2q-1.2 1.4 -0.8 3.6M290.5 136q-1.4 0.1 -2.3 1.6M357.4 80.9q-1.1 1.5 -0.5 3.6M364.8 111.7q1.2 0.3 2.5 -0.6M354.2 30.6q0.9 1.3 2.8 1.5M345.1 32.2q-0.8 -0.6 -1.9 -0.2M246.3 93.3q-0.8 -1.6 -3 -2.1M247 111.9q-1 1.5 -0.3 3.5M300.8 77.3q0.8 1.8 3.2 2.4M300.9 87.3q-1 0.8 -1 2.5M254.5 81.1q-0.8 0.7 -0.7 2.1M341.2 26q-0.4 -0.7 -1.4 -0.7M312.6 76.2q1.6 -0.4 2.5 -2.2M300.1 41q-0.9 -0.7 -2.2 -0.3M301.7 142.7q-0.9 -1 -2.6 -0.8M230.9 60.7q0.3 1 1.5 1.4M322.8 86.9q-0.7 -0.7 -1.8 -0.6M244.9 127.1q-0.7 0.3 -0.8 1.3M297.6 69.6q-0.9 1.3 -0.3 3.1M347.9 120.9q1.4 -0.8 1.6 -2.8M350.6 125.6q1 0.6 2.3 0.1M333.7 136.3q0.2 -1.3 -1 -2.5M234.9 121.2q-0.9 1 -0.5 2.6M281.5 124q-0.6 -1.8 -2.8 -2.5M352.3 120.7q-1 -0.9 -2.7 -0.6M251.7 40.1q1 0.3 2 -0.4M280.8 144.4q1.1 0.7 2.7 0.1M383 138.5q0.7 0.7 1.9 0.6M369.9 96.8q0.9 1 2.5 0.9M237.4 100.9q-0.6 1.8 0.7 3.7M367.5 130.9q-1.5 -0.5 -3.1 0.5M285.3 41.5q1.7 -0.4 2.5 -2.4M358.4 84q0.7 -0.6 0.6 -1.7M318.5 56.2q-1.9 0.5 -2.8 2.7M294 60.3q1 1.4 3.1 1.4M295.6 125.2q0.7 -0.5 0.7 -1.6M366.7 35.8q-0.9 1.3 -0.3 3.2M228.8 86.2q1.1 0.3 2.2 -0.5M225.9 123.3q0.6 -0.7 0.4 -1.9M246.6 79.4q-0.8 -1 -2.4 -1M249.1 28.9q0.9 1.2 2.7 1.2M365.1 25.4q-1.4 0 -2.4 1.3M311.5 47.8q-0.3 -1 -1.5 -1.4M247 31.4q-0.6 0.9 -0.2 2.1M301.7 144.3q0.3 -1.1 -0.6 -2.2M315.2 92.8q1.9 -0.5 2.8 -2.7M237.4 28.6q1.7 -0.1 2.9 -1.7M260.7 59.8q-1.5 -0.8 -3.5 0M283 121.2q-0.2 -1 -1.2 -1.6M294.1 78.4q-0.5 -0.7 -1.6 -0.7M278.9 27.1q0.9 0.7 2.2 0.3M307.7 114.1q0.3 1.1 1.6 1.6M288.7 129.2q0.1 -1.7 -1.5 -3.2M299.6 54.4q0.1 1.1 1.3 1.9M234.3 133.8q-0.8 -0.4 -1.7 -0.1M258.9 72.5q-0.7 0.4 -0.9 1.3M383.5 75.2q1.5 0.3 2.9 -0.9M354.7 127.3q-1.2 -0.4 -2.5 0.4M252.4 40.4q-0.4 -1 -1.7 -1.4M275.8 62.9q1.7 -0.8 2.2 -3M282.3 85.6q-0.6 1.5 0.4 3.2M324.4 28.5q1.2 -0.3 1.9 -1.6M253.2 56.4q1.5 -0.2 2.4 -1.9M270.4 95q1 -0.9 0.8 -2.5M336.4 45.4q1.8 0.4 3.6 -1.1M233.8 59.8q1.1 -0.3 1.6 -1.6M376.5 65.8q0.7 1.7 2.8 2.3M279 138.6q0.6 -1.5 -0.5 -3.2M366.9 60.7q-1.4 0.7 -1.8 2.6M247.2 48.6q0.7 0.9 2.1 0.9M270.8 140.8q0 1.5 1.5 2.6M273.6 92.3q-1.1 0.9 -1 2.6M236.2 83.7q0.7 -1.8 -0.5 -3.7M302.8 108.7q0.4 -0.9 -0.3 -2M350.6 118.1q-0.2 -1.4 -1.7 -2.3M366.5 145.2q1.3 -1.3 1.1 -3.5M282.9 34.4q1.3 -1 1.3 -3M361.4 48q1 -0.4 1.4 -1.8M322.1 41.8q-1.3 -0.4 -2.7 0.5M291 134.6q0.1 1.6 1.7 2.6M365.6 133.5q-0.4 0.9 0.2 2M225.6 94.7q0.6 0.6 1.6 0.6M370.6 32.6q1.2 -0.1 2 -1.3M231.1 54.4q1 -1.1 0.7 -2.8M231.9 84.1q-1 -0.7 -2.4 -0.3M243.9 35q1.7 -0.4 2.6 -2.3M339.9 120.4q-0.7 -1.4 -2.6 -1.8M358.7 114.1q-0.9 1.4 -0.2 3.4M344.9 58.9q-1.4 -0.2 -2.6 1M368.2 110.1q0.7 -0.8 0.5 -2.2M380.4 130.6q-0.4 -1.6 -2.3 -2.5M364 99.4q-1.4 0 -2.5 1.3M238.5 49.2q-1 -1.2 -2.9 -1.2M384.3 83q1.5 -0.7 1.9 -2.7M330 139.1q0.8 -0.8 0.6 -2.2M375.9 58.3q-0.1 1.2 1 2.2M296.4 136.4q-1.2 1.1 -1.1 3.2M360.8 42.2q1.1 -0.5 1.5 -2M274 43.1q0.2 -0.7 -0.3 -1.5M352.8 123.8q0.6 0.8 1.8 0.8M345.8 73.7q0.9 1.6 3.2 2M382.7 70q0.2 0.8 1.1 1.2M337.7 136.5q1.1 0.7 2.7 0.2M281 63.5q0.7 1.7 2.8 2.3M306.3 115.5q1.1 0.4 2.3 -0.2M386 113q1.2 -1.2 1 -3.2M301 83.1q0.2 -1.1 -0.7 -2.1M284.7 134.8q0.1 1.3 1.5 2.2M284.5 49.2q0.9 -0.4 1.2 -1.6M342.4 68.7q-0.6 1.1 0 2.5M242.7 74.4q-0.6 0.9 -0.3 2.2M370.3 74.1q0 1.5 1.4 2.7M328.9 121.4q1.3 0.1 2.3 -1.2M333.6 134.1q0.1 -1.5 -1.2 -2.8M307.8 92.3q-0.3 -0.8 -1.2 -1.1M353.9 147.1q0.8 0.9 2.3 0.9M344.4 99.9q-1.6 -1.1 -3.9 -0.4M366.3 144.7q1.7 -0.8 2.2 -3M260.4 66.7q1.5 0.7 3.3 -0.3M224.3 44.8q0.2 -1.2 -0.8 -2.3M321.9 104.7q-1.7 -0.8 -3.8 0.2M246 87.8q-0.3 1.4 0.8 2.8M269.5 54.1q0.6 -0.8 0.4 -2M252 80q-0.2 0.7 0.3 1.5M334.5 27.4q-1.2 -0.3 -2.3 0.6M248.5 70.4q0.5 0.6 1.5 0.5M257.9 67.8q0.9 -0.8 0.8 -2.3M286.9 140.3q0.6 -0.9 0.2 -2.1M306.1 58.6q0 -1.7 -1.6 -2.9M263.2 101.4q0.7 0.4 1.6 0M294.1 118.9q-0.9 0.5 -1.1 1.7M355.7 128.5q0.4 1.5 2.1 2.4M368.1 148.4q1.5 0.3 2.8 -0.9M248.4 95.2q1.4 1 3.4 0.3M381 86.2q-1.9 0.3 -3.1 2.4M284.3 140.9q0.2 1.4 1.8 2.3M307.7 28.9q0.2 1.1 1.4 1.7M319.9 41.6q-0.2 1.2 0.8 2.3M308.9 96.8q0.3 1.6 2.2 2.6M368.1 120.1q-0.9 0.4 -1.2 1.7M289 24.3q-1.5 1.1 -1.6 3.3M293.8 55.3q-1 0.4 -1.4 1.8M292 110.5q-1.8 0.7 -2.5 2.9M223.9 26.6q-1.1 0.2 -1.7 1.4M358.4 48.2q1.1 0 1.9 -1.1M335.3 60.8q0.7 -0.7 0.6 -1.9M316.4 60.3q0.1 -0.9 -0.8 -1.7M298.6 31.3q0.8 -0.9 0.5 -2.4M358.1 35.3q-0.5 0.7 -0.2 1.8M367.3 47.5q-1.1 0.5 -1.5 1.9" fill="none" stroke="#a88560" stroke-width="0.6" opacity="0.75" stroke-linecap="round"/>
<path d="M359.8 89.6h0.2M340.9 71.5h0.2M279.2 43.6h0.3M289.7 136h0.5M330.5 67.1h0.2M332 122.6h0.1M303.2 109h0.2M315.7 89.7h0.1M383.8 91.2h0.2M356.9 143.3h0.4M290.9 84.2h0.3M344.6 104.7h0.3M314.9 130.1h0.3M360 78.8h0.5M378 71.1h0.2M269.8 128h0.4M377.8 43.1h0.3M288.1 82.8h0.2M366.6 36.6h0.3M378.9 125.2h0.4M281.4 129.9h0.2M375.6 130.6h0.3M288.1 75.6h0.1M332.2 38h0.3M259.3 79.7h0.4M306.3 61.9h0.2M330.1 52.9h0.5M224.4 83.8h0.2M348.2 43.2h0.1M372 122.1h0.2M286.8 49.1h0.5M262.5 93.7h0.5M315.8 81.1h0.1M243.7 67h0.4M232 111.8h0.1M223.7 54.3h0.1M275.8 100.6h0.1M365 148h0.4M363.4 57.5h0.2M330.3 85h0.4M338.2 60.1h0.4M253.5 147.5h0.2M342.8 58.8h0.2M239.9 79.4h0.3M367.4 122.6h0.4M275.9 115.9h0.4M238.4 141.2h0.5M249.3 110.5h0.2M272.5 29.5h0.3M327.1 110.3h0.2M326.2 105.7h0.2M381 71.1h0.1M382.3 50h0.1M288.3 31.9h0.2M303.1 108.3h0.3M225.3 29h0.3M248.1 82.1h0.3M332.9 145.6h0.3M388.3 44.4h0.1M326.1 116.9h0.4M225.3 56.3h0.3M370.9 98.9h0.3M237.6 58.9h0.3M294.2 136.6h0.1M242.5 147.9h0.3M265.8 98.2h0.3M229.7 53.3h0.3M376.4 62.1h0.2M383.5 39.5h0.4M293.5 89.1h0.4M273 142h0.2M229.7 88.5h0.3M336.1 73.8h0.1M305.5 70.6h0.3M243.1 134.2h0.2M382.3 111.6h0.3M303.4 24.3h0.2M275.9 131.3h0.4M327.1 83.6h0.5M222.8 83.6h0.4M286.8 76.4h0.4M252.2 81.6h0.3M316.2 120.9h0.5M284.5 90.5h0.3M371.7 41.9h0.1M371.2 126.9h0.1M373.2 70.3h0.3M308.3 64.6h0.3M240.1 32.5h0.3M382.8 118.7h0.3M298.5 60.2h0.4M230.9 90.5h0.3M280.5 60.4h0.4M224.6 118.4h0.1M241.5 34.4h0.2M348.9 48.1h0.4M273.4 30.4h0.3M298.4 92.2h0.2M260.9 120.9h0.4M257.1 122.2h0.4M241.9 139.8h0.3M367.4 107.4h0.4M236.4 134.8h0.3M285.3 138.5h0.4M327.3 28h0.4M284 73.5h0.4M337.7 127.6h0.2M364.8 79.1h0.1M368.1 48.1h0.3M310.8 34.7h0.2M228.5 92.9h0.1M259.8 139.7h0.3M296.6 32.7h0.5M320.7 61.2h0.3M293.2 110.9h0.3M280.8 61.7h0.4M352.6 112.2h0.4M289.8 126.7h0.3M276.7 31.9h0.4M240.4 82.7h0.3M237.3 138.5h0.2M377.1 138h0.1M280.8 98.6h0.3M357.1 67.2h0.2M365 62.9h0.2M224 28.6h0.2M352.8 44.2h0.2M277.1 141h0.4M353.9 57.3h0.3M248.5 124.1h0.3M228.3 60.1h0.3M277.5 61.7h0.5M319.2 145.5h0.2M354.5 53.8h0.4M377.5 64.4h0.1M348.8 117.5h0.5M250.6 145.4h0.2M318.2 26.2h0.3M366 71.5h0.1M287 99.2h0.4M269.8 116.2h0.5M322.2 77.5h0.4M286.9 69.8h0.3M285.8 68.3h0.4M349.5 113.7h0.2M360.5 119.2h0.2M277.9 91.2h0.3M388.9 39.8h0.2M385.4 53.9h0.4M267.9 83.6h0.1M323 112h0.2M278.9 92h0.1M261.5 54.3h0.1M259.5 36.8h0.2M270.6 95.2h0.2M329.8 63.6h0.1M313 41.1h0.2M385.4 102.7h0.2M326.7 93.9h0.4M246.8 137.5h0.4M317 79.6h0.5M320.6 53.7h0.4M373.9 41.5h0.1M271.4 47h0.2M378.1 146.1h0.2M245.6 94.2h0.2M386.3 126.7h0.3M328.7 27h0.2M303.9 93h0.3M372.6 61.8h0.3M265.1 24.1h0.2M247.9 144.3h0.2M244.2 53.6h0.3M242.6 24h0.2M283.1 63.8h0.2M239.5 90.7h0.4M241.6 59.6h0.3M236.7 133.7h0.3M324 59.4h0.1M317.5 86h0.4M345.7 38.1h0.4M364.4 38h0.4M332.4 116.6h0.4M384 25.3h0.4M386.7 89.3h0.3M244.9 146h0.5M386.1 35.1h0.1M233.1 56.8h0.3M315.8 24.1h0.4M379 28h0.1M268.4 71.8h0.4M285.7 70.6h0.3M385 70.2h0.4M301.3 137.4h0.2M377 77.3h0.3M302.5 51.1h0.4M346.6 108h0.2M303.3 44.9h0.2M377.3 112.7h0.4M304.5 115.8h0.2M276.5 123.9h0.4M255.7 126.9h0.2M368.7 133.3h0.2M281.6 47.6h0.5M271.9 35.5h0.2M381.9 84.8h0.2M360.3 145.4h0.1M311 142.1h0.4M316.6 92.3h0.2M294.1 85.2h0.2M268.8 64.6h0.4M315.8 110.1h0.4M241.2 109.1h0.2M373.8 79h0.1M290.8 84.4h0.4M249.2 59.2h0.3M310.1 126.4h0.2M266.7 63.8h0.2M327.4 77.9h0.2M253.7 134.7h0.1M323.1 72.5h0.2M366.8 68.1h0.1M381.9 126.6h0.2M341.7 53.9h0.2M364 104.8h0.4M269.3 91.7h0.2M306.5 76.9h0.2M274.5 59h0.3M338 57.7h0.4M249.5 106.4h0.5M352.7 131.1h0.3M374.6 144.9h0.2M382.2 81.2h0.3M361 89.2h0.4M346.5 47.1h0.2M302.6 119.2h0.4M318.3 94.2h0.3M284.1 71.6h0.1M279.3 111.4h0.3M342.4 78.1h0.3M336.1 49h0.2M240.8 106.9h0.3M250.6 69.5h0.4M303.3 93.5h0.1M278.6 115h0.2M347.6 86.8h0.1M334.7 74.3h0.5M361.9 110h0.2M360.5 72h0.3M375.1 128.9h0.4M339.1 106.8h0.4M242.2 61.5h0.3M345.5 127.2h0.2M258.4 28.4h0.2M296.4 84.6h0.2M317.1 34.9h0.3M333.7 82.1h0.5M349.3 31.5h0.3M352.7 31.7h0.2M367.3 84.5h0.1M292 47.9h0.3M243.1 87.7h0.3M374.7 118.3h0.4M262.9 40.7h0.5M374.7 32.1h0.4M247.2 60.3h0.4M236.3 120.4h0.1M283.7 25.5h0.4M279 127.7h0.4M368.9 132.4h0.3M262.5 41.2h0.4M386.3 122h0.4M309.7 137.4h0.1M354 53.5h0.2M364.8 28.8h0.4M351.6 105.3h0.3M266.8 51.8h0.3M223 100.3h0.2M277.2 109.1h0.4M240.1 104.2h0.3M236.6 137h0.4M315.9 88.5h0.4M374.4 50.7h0.3M373.6 39.1h0.4M229.6 104.3h0.3M372.1 42.3h0.5M319.8 30.9h0.2M245.2 60.3h0.4M322 73.2h0.4M223.1 34.3h0.3M324.2 99.5h0.2M269.4 36.4h0.3M277.1 65h0.4M310.9 44.8h0.3M255.5 122.7h0.2M384.6 48.3h0.4M234.4 83.8h0.1M314.1 101.9h0.2M376.5 36.8h0.3M319.9 119.3h0.2M224 100.4h0.4M301.1 58.6h0.2M264 132.4h0.3M233.9 105.1h0.3M290 53.9h0.4M248.6 50.8h0.2M273.4 51.4h0.4M237.3 110.8h0.2M329.4 40.3h0.3M334.1 48.4h0.4M385 49.5h0.2M222.8 104.8h0.5M256.8 58.2h0.4M235 25.4h0.3M313.2 93.5h0.3M261.7 137.1h0.4M373 71.3h0.2M231.6 111.6h0.3M261.6 95h0.3M348.4 103.9h0.2M243.1 119.6h0.1M381.6 77.7h0.3M224.9 42.4h0.2M299.5 121.1h0.1M229.4 34.5h0.3M248.7 84.2h0.1M321.1 60.8h0.2M259.4 29.6h0.3M293.2 67.9h0.4M348.3 96.5h0.2M309.2 65.8h0.1M235.4 137.9h0.3M372.8 93.2h0.4M250.3 112h0.1M282.4 132.2h0.1M240.2 144.4h0.1M336.9 137.2h0.2M368.5 39.4h0.3M266.3 45.2h0.3M383.7 53.4h0.3M273.9 32.6h0.3M379.9 130.2h0.2M300.6 62.3h0.4M284.5 41.1h0.2M298.2 105.5h0.4M370.5 30h0.4M378.4 76.8h0.2M359.6 79.9h0.4M377.4 122.3h0.3M265.5 30.4h0.1M377 85.4h0.1M365.8 42h0.4M285.3 118.4h0.5M289.8 76.3h0.4M223 85.8h0.4M317.5 47.8h0.3M370.6 111.8h0.3M302.5 35.2h0.5M320.4 68.8h0.3M276 131.4h0.1M353.8 124.1h0.4M239 106.3h0.3M386.5 109.3h0.3M322.5 144h0.4M342.3 108.9h0.3M372.8 108.5h0.3M357.8 76.8h0.3M387.9 55.2h0.3M279.2 78.4h0.3M230 120h0.1M332.7 69.8h0.5M263.5 50h0.2M344.3 114.4h0.2M373.4 114.9h0.3M292.1 132.1h0.4M229.1 78.7h0.5M318.3 129.6h0.5M374 74.4h0.1M223.5 144.3h0.3M282 39.5h0.4M363.2 105.7h0.3M317.5 113h0.4M222.8 110.7h0.1M285 111.4h0.2M321.5 39.7h0.4M329.6 34.1h0.4M339.1 124.4h0.4M383.8 63.8h0.4M388.6 87.6h0.2M318.4 45.2h0.1M327.3 49.2h0.1M297.7 130.5h0.4M362 61.5h0.4M334 112.1h0.3M333.7 116.3h0.3M383.3 78.7h0.4M322.8 108.9h0.4M224.5 112h0.2M247.1 148h0.2M257.8 102.1h0.1M336.2 64.1h0.1M369.9 47.5h0.4M330.6 100.9h0.4M272.9 106.4h0.3M226 60.7h0.1M342 36.6h0.3M362 107.6h0.1M333.2 65.3h0.3M368.5 32.9h0.2M224.4 54.9h0.2M336.8 143.8h0.2M271.5 52h0.3M325.1 56.4h0.4M335.2 120.6h0.2M261.8 141.9h0.2M351.4 62.5h0.5M223.6 106.1h0.4M312.6 29.7h0.4M384.1 141.1h0.1M270.6 146.5h0.1M300 76.9h0.2M223.7 52.4h0.4M245.8 129.1h0.3M268.7 67.9h0.5M228.8 121.1h0.2M346.7 28.8h0.3M243.6 99.2h0.1M232.8 128.6h0.4M378.6 106.9h0.1M366.3 39.6h0.3M263 41.4h0.3M333.9 135.9h0.2M386.3 55.2h0.4M248 83.6h0.1M368.7 30.2h0.2M314.3 76.1h0.1M226.5 49.5h0.2M294.1 126.7h0.2M307.9 101.1h0.4M341.8 33h0.4M327 34.4h0.4M364.5 36.6h0.4M301.4 48.1h0.3M274.7 33.1h0.5M230.8 59.6h0.4M293.2 46.3h0.3M250 138.9h0.2M233.1 119.3h0.1M233.5 27.1h0.2M241.6 24.2h0.4M313.7 81.8h0.3M384.4 82.2h0.3M293.5 95.3h0.4M365.5 140.9h0.5M281.5 27.8h0.4M351.5 145.9h0.2M286.9 91.7h0.2M304.9 62.5h0.2M366.6 81.9h0.4M278.1 91.7h0.4M287.3 27.6h0.2M282.1 96.1h0.3M335.7 56.3h0.3M288 94.3h0.3M284.7 99.4h0.4M363.1 129.3h0.2M229.7 95.9h0.4M261.2 112.2h0.5M329.7 24.3h0.2M331.4 25.9h0.4M285.9 125.3h0.3M315.7 134h0.4M240.2 139.9h0.4M294.6 75.5h0.4M374.7 51h0.5M345.2 77.8h0.3M301 79.4h0.1M368.4 79.7h0.3M374.4 64.6h0.1M363.3 62.6h0.4M364.4 67.3h0.4M289.9 26.2h0.4M224.6 48.9h0.4M301.5 128.7h0.4M316.9 78h0.3M327.8 50.7h0.4M259.2 112.2h0.2M328.4 45.9h0.4M253.9 36.8h0.3M330.7 41.4h0.2M305.8 118.2h0.3M365 35.2h0.4M318.8 78.2h0.3M362.3 142.7h0.4M262 96.9h0.3M339.4 64.2h0.3M369.8 28.6h0.2M344 90.6h0.3M301.2 35.8h0.2M280.7 101.3h0.3M357.6 95.1h0.3M238.7 46.9h0.2M296.6 124.9h0.2M304.8 60.3h0.4M276 111.7h0.1M299 147.5h0.2M361.2 123.3h0.2M296.5 141.5h0.3M351.6 47.4h0.5M307.8 46.3h0.2M232.2 113.6h0.2M357.1 107.7h0.2M377.1 41.2h0.3M333.3 69.6h0.3M239.2 92.8h0.5M284.5 27h0.1M262.4 35.4h0.2M318 76.4h0.3M384 69.7h0.4M276.2 113.3h0.3M368.9 26.1h0.3M383.3 42.4h0.3M242.6 128.2h0.2M376.9 134.3h0.2M380.9 134.2h0.4M270.5 89.7h0.4M250 110.3h0.2M362 39.2h0.2M377.4 95.8h0.4M315.1 147.6h0.5M297.6 76.7h0.4M305 100.4h0.4M381.8 45.7h0.3M358.6 57.6h0.3M346.3 87.6h0.3M290.1 47.5h0.3M228.4 68.9h0.2M369.6 29.3h0.3M248.7 33.6h0.4M331.3 37.8h0.3M304.4 103.5h0.3M379.8 88.7h0.2M361.8 131.7h0.3M223.7 104.8h0.3M246.3 78.4h0.3M263.6 96.9h0.3M320.2 115.7h0.4M270.3 92.1h0.4M284.7 34.8h0.4M356.8 73.2h0.1M241.9 36.5h0.3M383.8 24.2h0.4M375.4 90.5h0.2M340.1 133h0.3M319.3 119.1h0.5M364.5 35.5h0.4M323.3 142.6h0.3M368.8 26.9h0.4M369.8 120.6h0.2M310.6 91.7h0.4M358.8 57.3h0.5M346.8 102.1h0.1M286.3 46.9h0.2M234.2 129.3h0.2M338.3 48.8h0.3M288.3 104.5h0.3M375.1 105.6h0.4M336.7 33h0.3M343.2 68.2h0.4M386 62.6h0.3M251.6 97.4h0.2M311.6 93.3h0.2M334.1 34.6h0.2M224.7 39.9h0.1M227.4 26h0.2M373.6 145.9h0.2M333 67.8h0.4M343 98.3h0.4M349.9 47.8h0.4M381.4 106.4h0.3M364.3 59h0.2M324.9 57.9h0.3M309.8 144.5h0.3M327.3 36.8h0.3M375.2 61.1h0.4M278.9 73.6h0.2M230.8 140.7h0.2M377.2 36.8h0.4M310.4 74.7h0.4M337 145.8h0.5M376.6 45.9h0.3M279.8 49.9h0.3M263 93.9h0.5M322.3 110.2h0.3M257.5 79.2h0.3M297.7 105.9h0.4M270.1 81.5h0.3M385.9 70.4h0.4M245.6 52h0.1M304 109.4h0.4M253.5 32.4h0.4M272.1 131.3h0.4M275.1 129.7h0.5M355.4 132.1h0.3M334 147.7h0.4M254.7 61.6h0.3M276.6 144.1h0.2M341.1 59.4h0.2M363.1 127.9h0.2M343.1 28h0.4M310.5 62.4h0.4M334.1 37.1h0.1M230.7 104.7h0.4M320.4 129.9h0.4M231.6 134.5h0.5M377.4 46.9h0.1M271.4 120.7h0.2M261.4 98.4h0.4M375.6 60.8h0.2M282.6 131.1h0.2M345.3 140.3h0.4M342.3 110.9h0.3M241.9 109.6h0.3M383.7 123h0.3M226.1 70.1h0.4M269.4 55.6h0.4M269.9 29.6h0.3M319.4 148.4h0.5M350 33.5h0.5M250.1 39.8h0.4M279.6 66.2h0.3M306.5 125.4h0.1M386.2 94.1h0.3M298 126h0.4M256.6 46.9h0.3M303.5 116.2h0.2M302.2 53.1h0.4M298.8 112.9h0.4M283.4 78.2h0.4M246.9 25h0.2M369 93.5h0.1M324.1 60.4h0.3M302 96.9h0.5M287.6 89.9h0.4M376 120.1h0.1M335.8 102h0.2M243.1 111.2h0.2M320.1 105.1h0.5M290 129.7h0.1M239 64.3h0.2M300.7 91.2h0.4M306.7 125.7h0.3M265.7 113.9h0.3M346.9 131.2h0.2M277.4 112.8h0.2M315.9 132.5h0.2M269.1 79.2h0.2M309.8 103.7h0.4M300.6 81h0.3M252.3 97.7h0.1M362.1 84h0.3M368.3 112.7h0.4M243.2 86.4h0.1M307.8 98.8h0.3M325.8 98.7h0.3M342.2 25.6h0.3M291.6 76.2h0.4M329.6 144.9h0.3M277.9 111.7h0.2M334.3 135.2h0.2M369 103.6h0.2M259.1 63.2h0.4M260.6 137h0.4M318.4 55.3h0.1M242 123h0.4M314.7 138h0.3M328.2 135.5h0.4M273.3 144.5h0.1M345.1 63.1h0.4M312.8 63.2h0.3M237.3 139.8h0.3M320.1 114.8h0.3M304.8 86.7h0.3M355.3 43.8h0.3M260.4 72.5h0.1M340.1 119.4h0.1M318.1 82.2h0.2M235.7 105.6h0.1M342.7 118.2h0.2M234.2 146.3h0.1M336.6 135.9h0.3M254.4 56.1h0.2M321.3 146h0.4M382.9 107.9h0.4M332 143.6h0.3M265.3 61.2h0.3M344.3 97.7h0.4M309.9 75.4h0.2M373.4 46.8h0.2M374.3 49.7h0.2M257.4 142.9h0.3M264.2 49.9h0.4M271.5 40.2h0.3M286.2 53.6h0.3M317.5 112.6h0.3M271.9 28.5h0.4M364.9 117h0.4M223 132.1h0.1M264.6 103.7h0.4M290.8 43.9h0.4M262.5 68h0.2M297.4 112.7h0.4M384.6 31.1h0.1M232.3 24.3h0.3M262.2 106.8h0.3M304.1 26.5h0.3M297.6 105.4h0.3M347 56.1h0.2M313.1 72.1h0.2M251.7 115h0.1M262.8 83h0.4M292.8 109.9h0.2M332 56h0.3M336.7 58.7h0.2M259.8 88.3h0.3M292.9 93.6h0.2M294.7 45.9h0.1M336.1 41.8h0.4M255.8 77.1h0.2M367.1 85.2h0.2M359.7 139.3h0.2M241.6 113.3h0.3M314.6 82.8h0.3M244.1 49.1h0.2M243 114.7h0.4M342.7 69.1h0.3M346.5 129h0.1M258.3 42.6h0.2M362.8 39.2h0.3M222.8 128.7h0.5M270 38.4h0.5M365.7 98.7h0.5M323 92.6h0.3M255 95.4h0.5M276.9 109.1h0.4M370.6 140.9h0.3M380.5 117.2h0.2M298.6 120.6h0.4M228.6 140.6h0.4M386.6 31.7h0.5" fill="none" stroke="#7d86c0" stroke-width="1.2" stroke-linecap="round" opacity="0.85"/>
<path d="M314.8 27Q315.3 29.2 314.6 31.3Q313.8 33.4 310.7 35.2Q307.5 37 302.3 37.5Q297.1 38 292.3 37.9Q287.5 37.7 283.1 36.9Q278.8 36.1 275.1 34.7Q271.4 33.3 268.6 31.2Q265.8 29.2 267.8 27Q269.8 24.7 274.2 23.5Q278.6 22.2 283 21.3Q287.4 20.5 292.2 20.5Q297 20.5 301.9 21.1Q306.7 21.7 310.5 23.3Q314.3 24.8 314.8 27Z" fill="#d5d9e5" opacity="0.9"/>
<path d="M245.1 50.4Q245 53.4 244.6 56.2Q244.3 59 243.1 61.5Q241.9 64 239.9 65.9Q237.9 67.7 235.3 68.2Q232.8 68.6 230.8 66.4Q228.9 64.1 227.9 61.4Q226.9 58.7 226.2 56.1Q225.4 53.4 225.8 50.5Q226.2 47.6 227.4 44.9Q228.6 42.2 230.8 40.8Q232.9 39.3 235.4 39.7Q237.8 40.1 240 41.2Q242.3 42.2 243.7 44.8Q245.1 47.3 245.1 50.4Z" fill="none" stroke="#a88560" stroke-width="1.8" opacity="0.55"/>
<path d="M244.1 50.6Q244 53.4 243.7 56Q243.4 58.5 242.3 60.8Q241.2 63.2 239.5 64.9Q237.7 66.6 235.4 67Q233 67.4 231.3 65.3Q229.6 63.3 228.7 60.8Q227.8 58.3 227.1 55.9Q226.4 53.4 226.8 50.7Q227.1 48.1 228.2 45.6Q229.3 43.1 231.2 41.8Q233.2 40.4 235.4 40.8Q237.5 41.2 239.5 42.1Q241.6 43.1 242.8 45.5Q244.1 47.8 244.1 50.6Z" fill="#d5d9e5" stroke="#6f88cc" stroke-width="1.6" stroke-opacity="0.85"/>
<path d="M272.2 28.5Q272.6 30.2 272 31.8Q271.5 33.5 270.4 34.8Q269.3 36.2 267.4 36.6Q265.6 37 263.9 36.8Q262.2 36.6 260.4 36.3Q258.5 36 257.1 34.8Q255.7 33.7 255.1 31.9Q254.5 30.2 255.2 28.5Q255.9 26.9 257.5 26Q259.1 25.1 260.6 24.3Q262.1 23.6 263.9 23.3Q265.7 22.9 267.4 23.7Q269.1 24.4 270.5 25.6Q271.8 26.9 272.2 28.5Z" fill="none" stroke="#a88560" stroke-width="1.8" opacity="0.55"/>
<path d="M271.1 28.8Q271.4 30.2 271 31.6Q270.5 33 269.5 34.2Q268.6 35.4 267 35.7Q265.4 36 263.9 35.8Q262.4 35.7 260.8 35.4Q259.2 35.2 258 34.2Q256.7 33.2 256.2 31.7Q255.7 30.2 256.3 28.8Q256.9 27.4 258.3 26.6Q259.7 25.8 261 25.2Q262.3 24.6 263.9 24.3Q265.5 24 267 24.6Q268.4 25.3 269.6 26.3Q270.8 27.4 271.1 28.8Z" fill="#d5d9e5" stroke="#6f88cc" stroke-width="1.6" stroke-opacity="0.85"/>
<path d="M293.8 45.3Q293.6 46.7 293 48Q292.4 49.4 290.9 50.1Q289.4 50.8 287.5 50.7Q285.5 50.6 283.8 49.9Q282 49.1 281.1 47.8Q280.1 46.4 279.3 45.2Q278.5 43.9 277.9 42.4Q277.4 40.8 278.3 39.6Q279.2 38.3 280.8 37.7Q282.5 37.1 284.4 37.3Q286.3 37.6 287.8 38.4Q289.4 39.2 291 40.2Q292.5 41.1 293.2 42.5Q294 43.9 293.8 45.3Z" fill="none" stroke="#a88560" stroke-width="1.8" opacity="0.55"/>
<path d="M292.8 45.2Q292.6 46.4 292.1 47.5Q291.6 48.6 290.3 49.1Q289 49.7 287.3 49.6Q285.7 49.5 284.2 48.9Q282.6 48.2 281.8 47.1Q280.9 45.9 280.2 44.9Q279.5 43.8 279 42.5Q278.5 41.2 279.2 40.2Q280 39.1 281.4 38.6Q282.8 38.1 284.5 38.4Q286.1 38.6 287.5 39.3Q288.9 40.1 290.2 40.9Q291.6 41.7 292.2 42.9Q292.9 44 292.8 45.2Z" fill="#d5d9e5" stroke="#6f88cc" stroke-width="1.6" stroke-opacity="0.85"/>
<path d="M303.9 51.7Q304.5 53.4 303.9 55.1Q303.4 56.8 301.9 57.6Q300.5 58.5 299.2 59.2Q297.9 59.9 296.3 60.3Q294.8 60.7 293.2 60.1Q291.5 59.6 290.3 58.3Q289.1 57 289 55.2Q289 53.4 289.6 51.9Q290.2 50.4 291 49Q291.9 47.7 293.3 47Q294.8 46.4 296.4 46.5Q298 46.5 299.6 47Q301.2 47.5 302.3 48.8Q303.4 50.1 303.9 51.7Z" fill="none" stroke="#a88560" stroke-width="1.8" opacity="0.55"/>
<path d="M302.8 52Q303.3 53.4 302.8 54.8Q302.4 56.3 301.1 57Q299.9 57.8 298.8 58.4Q297.7 59 296.4 59.3Q295 59.6 293.6 59.2Q292.3 58.7 291.2 57.6Q290.2 56.4 290.1 54.9Q290.1 53.4 290.6 52.1Q291.1 50.9 291.8 49.7Q292.5 48.5 293.8 48Q295.1 47.4 296.4 47.5Q297.8 47.5 299.1 47.9Q300.5 48.3 301.4 49.5Q302.4 50.6 302.8 52Z" fill="#d5d9e5" stroke="#6f88cc" stroke-width="1.6" stroke-opacity="0.85"/>
<path d="M281.4 58.5Q282.6 61.1 283.6 63.6Q284.6 66.1 284.6 68.5Q284.7 70.9 283.8 72.5Q282.9 74.1 281.6 75.2Q280.3 76.2 278.4 75.7Q276.5 75.2 274.5 73.7Q272.5 72.3 270.9 69.8Q269.4 67.3 269.1 64.6Q268.9 62 269 59.9Q269 57.7 269.4 55.6Q269.8 53.5 271.1 52.4Q272.5 51.4 274.5 51.6Q276.4 51.8 278.3 53.9Q280.3 55.9 281.4 58.5Z" fill="none" stroke="#a88560" stroke-width="1.8" opacity="0.55"/>
<path d="M280.6 59.2Q281.7 61.5 282.6 63.8Q283.5 66.1 283.6 68.2Q283.7 70.4 283 71.8Q282.3 73.3 281.2 74.2Q280.1 75.1 278.4 74.6Q276.7 74.1 275 72.8Q273.2 71.4 271.8 69.1Q270.4 66.8 270.1 64.4Q269.9 62 269.9 60.1Q269.9 58.1 270.2 56.2Q270.4 54.3 271.6 53.4Q272.7 52.5 274.4 52.7Q276.2 53 277.9 54.9Q279.6 56.8 280.6 59.2Z" fill="#8aa0d6" stroke="#6f88cc" stroke-width="1.6"/>
<path d="M261.9 75.9Q262.1 78.7 262.3 81.9Q262.4 85 261.3 87.9Q260.3 90.7 258.3 91.7Q256.3 92.6 254.4 92.1Q252.5 91.7 251.1 89.9Q249.7 88.2 248.5 86.2Q247.3 84.3 246.3 81.5Q245.3 78.7 245.8 75.6Q246.4 72.4 247.7 70.1Q249 67.8 250.7 66.4Q252.4 65 254.3 65.3Q256.2 65.7 257.8 67Q259.5 68.2 260.6 70.6Q261.6 73 261.9 75.9Z" fill="none" stroke="#a88560" stroke-width="1.8" opacity="0.55"/>
<path d="M260.9 76.1Q261.2 78.7 261.3 81.6Q261.4 84.5 260.4 87.2Q259.5 89.8 257.8 90.6Q256.1 91.5 254.4 91.1Q252.8 90.6 251.5 89Q250.3 87.4 249.2 85.6Q248.2 83.8 247.3 81.3Q246.4 78.7 246.9 75.8Q247.4 72.9 248.5 70.8Q249.7 68.6 251.2 67.3Q252.7 66.1 254.3 66.4Q255.9 66.8 257.4 67.9Q258.9 69 259.8 71.3Q260.7 73.5 260.9 76.1Z" fill="#d5d9e5" stroke="#6f88cc" stroke-width="1.6" stroke-opacity="0.85"/>
<path d="M339 43.7Q339.3 45 338.4 46.1Q337.4 47.3 335.7 48.3Q334 49.2 331.4 49.8Q328.8 50.4 325.7 50.7Q322.5 51.1 319.4 50.6Q316.3 50 315.1 48.7Q313.9 47.4 313.6 46.2Q313.3 45 313.9 43.8Q314.5 42.7 316 41.7Q317.6 40.6 320.1 39.8Q322.6 38.9 325.8 39Q329.1 39.2 331.7 39.9Q334.4 40.5 336.5 41.5Q338.7 42.4 339 43.7Z" fill="none" stroke="#a88560" stroke-width="1.8" opacity="0.55"/>
<path d="M338 43.9Q338.3 45 337.4 45.9Q336.5 46.9 335 47.7Q333.4 48.4 331 48.9Q328.6 49.3 325.7 49.6Q322.8 49.9 319.9 49.5Q317 49.1 315.9 48Q314.8 46.9 314.6 46Q314.3 45 314.9 44.1Q315.4 43.1 316.8 42.3Q318.2 41.4 320.5 40.8Q322.8 40.1 325.8 40.2Q328.8 40.3 331.3 40.8Q333.7 41.4 335.7 42.1Q337.7 42.9 338 43.9Z" fill="#d5d9e5" stroke="#6f88cc" stroke-width="1.6" stroke-opacity="0.85"/>
<path d="M359.4 56.5Q360.9 58 360.7 59.9Q360.5 61.8 358.2 63.5Q355.8 65.3 353 66.9Q350.1 68.5 346.3 69.3Q342.4 70.1 338.8 69.8Q335.2 69.5 332.7 68.3Q330.2 67.2 330.1 65.3Q330.1 63.4 330.6 61.7Q331.1 59.9 332 57.9Q332.9 55.9 336.1 54.3Q339.3 52.7 343.3 52.1Q347.3 51.4 350.7 51.9Q354.1 52.4 356 53.7Q357.8 55.1 359.4 56.5Z" fill="#d5d9e5" opacity="0.9"/>
<path d="M349.8 81.5Q350.5 85 348.9 88.1Q347.3 91.2 345.6 93.5Q343.8 95.9 341.5 97.4Q339.1 98.8 336.4 98.9Q333.7 99 330.9 98Q328.2 97 326.5 94.3Q324.9 91.5 324.2 88.3Q323.5 85 323.7 81.5Q324 78.1 326.3 75.9Q328.7 73.7 331.3 72.9Q333.9 72.1 336.4 71.8Q339 71.6 341.6 72.7Q344.1 73.7 346.6 75.8Q349.1 77.9 349.8 81.5Z" fill="none" stroke="#a88560" stroke-width="1.8" opacity="0.55"/>
<path d="M348.6 81.7Q349.3 85 347.8 87.9Q346.4 90.7 344.8 92.9Q343.2 95.1 341 96.5Q338.9 97.8 336.4 97.9Q333.9 98 331.4 97.1Q328.9 96.2 327.4 93.6Q325.9 91.1 325.2 88Q324.6 85 324.8 81.8Q325.1 78.6 327.2 76.5Q329.3 74.5 331.7 73.8Q334.1 73 336.4 72.8Q338.8 72.6 341.1 73.6Q343.5 74.5 345.7 76.5Q348 78.4 348.6 81.7Z" fill="#d5d9e5" stroke="#6f88cc" stroke-width="1.6" stroke-opacity="0.85"/>
<path d="M361.7 37.3Q361.9 38.7 361.4 39.9Q360.9 41.1 360.2 42.5Q359.4 43.8 357.5 44.6Q355.6 45.5 353.3 45.2Q351.1 44.9 349.2 44.3Q347.3 43.7 346 42.5Q344.7 41.4 344.5 40Q344.2 38.7 344.5 37.3Q344.9 36 346.3 35Q347.6 33.9 349.4 33.2Q351.1 32.5 353.4 32.1Q355.6 31.7 357.6 32.5Q359.6 33.3 360.5 34.7Q361.4 36 361.7 37.3Z" fill="none" stroke="#a88560" stroke-width="1.8" opacity="0.55"/>
<path d="M360.7 37.6Q360.9 38.7 360.5 39.7Q360.1 40.7 359.4 41.8Q358.7 42.9 357 43.6Q355.3 44.3 353.3 44.1Q351.3 43.9 349.6 43.3Q347.9 42.8 346.8 41.9Q345.7 40.9 345.5 39.8Q345.2 38.7 345.5 37.5Q345.8 36.4 347 35.6Q348.3 34.8 349.8 34.1Q351.4 33.5 353.4 33.2Q355.3 32.9 357.1 33.6Q358.8 34.2 359.7 35.4Q360.5 36.5 360.7 37.6Z" fill="#d5d9e5" stroke="#6f88cc" stroke-width="1.6" stroke-opacity="0.85"/>
<path d="M388.7 30.4Q389.3 32.3 389.3 34.5Q389.3 36.6 387.6 38.3Q385.8 39.9 383.4 40.8Q381.1 41.6 378.4 42Q375.7 42.3 373.4 41.1Q371.1 40 369.8 38.1Q368.4 36.3 368.1 34.3Q367.7 32.3 368.4 30.5Q369 28.6 370 26.6Q370.9 24.5 373.2 23.1Q375.5 21.8 378.3 22.3Q381.1 22.7 383.3 23.9Q385.5 25.1 386.8 26.8Q388.1 28.5 388.7 30.4Z" fill="none" stroke="#a88560" stroke-width="1.8" opacity="0.55"/>
<path d="M387.8 30.6Q388.3 32.3 388.3 34.2Q388.3 36.1 386.7 37.6Q385.1 39 383 39.8Q380.8 40.6 378.4 40.9Q376 41.2 373.9 40.1Q371.8 39.1 370.6 37.5Q369.4 35.9 369 34.1Q368.7 32.3 369.3 30.7Q369.9 29 370.8 27.2Q371.6 25.4 373.7 24.2Q375.8 23 378.4 23.4Q380.9 23.8 382.9 24.9Q384.8 25.9 386 27.4Q387.2 29 387.8 30.6Z" fill="#d5d9e5" stroke="#6f88cc" stroke-width="1.6" stroke-opacity="0.85"/>
<path d="M388.9 56.8Q389.4 58.7 388.8 60.5Q388.2 62.3 386.7 63.4Q385.2 64.4 383.7 65.4Q382.3 66.3 380.5 66.9Q378.6 67.5 376.7 66.7Q374.9 65.9 373.6 64.2Q372.4 62.6 372.4 60.7Q372.4 58.7 373.1 57Q373.8 55.4 374.6 53.8Q375.4 52.1 377 51.3Q378.7 50.4 380.6 50.5Q382.4 50.6 384.3 51.2Q386.1 51.7 387.3 53.3Q388.5 54.9 388.9 56.8Z" fill="none" stroke="#a88560" stroke-width="1.8" opacity="0.55"/>
<path d="M387.9 57Q388.2 58.7 387.7 60.3Q387.2 61.9 385.9 62.8Q384.6 63.7 383.3 64.5Q382.1 65.4 380.5 65.9Q378.8 66.4 377.2 65.7Q375.6 65 374.5 63.5Q373.5 62.1 373.5 60.4Q373.4 58.7 374 57.3Q374.6 55.8 375.3 54.4Q376 53 377.5 52.2Q378.9 51.5 380.6 51.5Q382.2 51.6 383.8 52.1Q385.4 52.6 386.5 54Q387.5 55.3 387.9 57Z" fill="#d5d9e5" stroke="#6f88cc" stroke-width="1.6" stroke-opacity="0.85"/>
<path d="M369 77.8Q369.1 79.8 368.8 81.6Q368.5 83.5 367.6 85Q366.7 86.5 365.4 87.1Q364.1 87.7 362.7 87.7Q361.3 87.7 360.2 86.8Q359 86 358 84.7Q357.1 83.4 356.3 81.6Q355.5 79.8 356 77.8Q356.5 75.8 357.7 74.6Q358.9 73.4 360.2 72.8Q361.4 72.2 362.7 72.2Q364 72.3 365.3 72.7Q366.7 73.1 367.8 74.4Q369 75.8 369 77.8Z" fill="none" stroke="#a88560" stroke-width="1.8" opacity="0.55"/>
<path d="M368 78Q368 79.8 367.8 81.4Q367.5 83 366.8 84.3Q366.1 85.7 364.9 86.2Q363.8 86.7 362.7 86.7Q361.6 86.7 360.6 85.9Q359.6 85.2 358.8 84.1Q358 82.9 357.4 81.3Q356.8 79.8 357.2 78Q357.6 76.3 358.6 75.3Q359.5 74.2 360.6 73.7Q361.6 73.1 362.7 73.2Q363.8 73.3 364.9 73.6Q366 73.9 367 75.1Q367.9 76.3 368 78Z" fill="#d5d9e5" stroke="#6f88cc" stroke-width="1.6" stroke-opacity="0.85"/>
<path d="M384.7 81.3Q385 82.9 384.8 84.7Q384.6 86.4 383.4 87.4Q382.3 88.5 381 88.9Q379.7 89.2 378.4 89.6Q377.1 89.9 375.8 89.4Q374.4 88.9 373.3 87.7Q372.1 86.5 371.9 84.7Q371.6 82.9 372.4 81.4Q373.2 80 374 78.8Q374.8 77.6 376 76.7Q377.1 75.8 378.5 75.8Q379.9 75.9 381.2 76.4Q382.6 77 383.5 78.3Q384.4 79.6 384.7 81.3Z" fill="none" stroke="#a88560" stroke-width="1.8" opacity="0.55"/>
<path d="M383.6 81.5Q383.9 82.9 383.7 84.4Q383.6 85.9 382.6 86.8Q381.6 87.7 380.6 88Q379.5 88.3 378.4 88.6Q377.4 88.9 376.2 88.5Q375.1 88.1 374.2 87Q373.2 86 373 84.5Q372.8 82.9 373.4 81.7Q374.1 80.4 374.8 79.4Q375.4 78.4 376.4 77.6Q377.3 76.8 378.5 76.9Q379.6 76.9 380.7 77.4Q381.9 77.8 382.6 79Q383.4 80.1 383.6 81.5Z" fill="#d5d9e5" stroke="#6f88cc" stroke-width="1.6" stroke-opacity="0.85"/>
<path d="M390 94Q390.2 96.6 389.8 99.1Q389.4 101.6 388.6 103.8Q387.8 105.9 386.4 106.5Q385 107.1 383.7 107Q382.5 107 381.1 106.5Q379.7 106 378.6 104Q377.6 102.1 377.2 99.4Q376.8 96.6 377.4 94.1Q378 91.5 379.1 90.2Q380.3 88.8 381.4 87.4Q382.4 86 383.8 85.5Q385.2 85 386.5 86.2Q387.8 87.3 388.8 89.3Q389.8 91.3 390 94Z" fill="none" stroke="#a88560" stroke-width="1.8" opacity="0.55"/>
<path d="M388.9 94.2Q389.1 96.6 388.7 98.9Q388.4 101.2 387.8 103.1Q387.1 105.1 386 105.6Q384.8 106.1 383.7 106.1Q382.7 106 381.5 105.6Q380.4 105.1 379.5 103.3Q378.6 101.6 378.3 99.1Q377.9 96.6 378.5 94.3Q379 92 379.9 90.8Q380.9 89.5 381.8 88.3Q382.6 87 383.8 86.6Q384.9 86.1 386 87.1Q387.1 88.1 388 90Q388.8 91.8 388.9 94.2Z" fill="#d5d9e5" stroke="#6f88cc" stroke-width="1.6" stroke-opacity="0.85"/>
<path d="M288.1 90.7Q288.3 93.5 287.7 95.9Q287.1 98.4 286 100.7Q284.8 102.9 283 105Q281.1 107.1 278.6 106.9Q276 106.8 274.1 105Q272.1 103.2 270.6 101.1Q269.1 99 268.7 96.2Q268.4 93.5 268.9 90.8Q269.5 88.2 270.8 86Q272.1 83.7 274.2 82.7Q276.3 81.6 278.7 81Q281 80.4 283.5 81.4Q285.9 82.4 287 85.2Q288 88 288.1 90.7Z" fill="#d5d9e5" opacity="0.9"/>
<path d="M311.2 102.5Q311.7 106.1 310.7 109.4Q309.6 112.6 307.9 114.6Q306.3 116.7 304.6 119Q303 121.4 300.5 122.1Q298.1 122.8 295.8 121.1Q293.6 119.4 292.1 116.4Q290.7 113.3 290.7 109.7Q290.7 106.1 291.2 102.9Q291.7 99.6 292.8 96.6Q294 93.6 296.2 92.5Q298.4 91.4 300.7 91.1Q303 90.8 305.3 91.9Q307.7 92.9 309.2 95.9Q310.7 98.9 311.2 102.5Z" fill="none" stroke="#a88560" stroke-width="1.8" opacity="0.55"/>
<path d="M310.1 102.7Q310.6 106.1 309.6 109.1Q308.7 112.1 307.2 114.1Q305.7 116 304.2 118.2Q302.7 120.3 300.5 121Q298.4 121.6 296.3 120.1Q294.3 118.5 293 115.7Q291.7 112.9 291.7 109.5Q291.7 106.1 292.2 103.1Q292.6 100.1 293.6 97.3Q294.7 94.5 296.7 93.4Q298.6 92.4 300.7 92.1Q302.7 91.9 304.8 92.8Q306.9 93.8 308.3 96.6Q309.7 99.4 310.1 102.7Z" fill="#d5d9e5" stroke="#6f88cc" stroke-width="1.6" stroke-opacity="0.85"/>
<path d="M241.3 96.3Q241.6 97.7 241.3 99.1Q241 100.5 239.5 101.5Q237.9 102.4 236 102.9Q234.2 103.4 232.2 103.6Q230.2 103.9 228.1 103.4Q226.1 102.9 224.4 101.8Q222.7 100.8 222.5 99.2Q222.2 97.7 223.4 96.5Q224.7 95.2 225.8 94.2Q226.9 93.2 228.5 92.4Q230.2 91.6 232.3 91.4Q234.4 91.3 236.6 91.8Q238.7 92.3 239.8 93.6Q241 94.9 241.3 96.3Z" fill="none" stroke="#a88560" stroke-width="1.8" opacity="0.55"/>
<path d="M240.2 96.5Q240.5 97.7 240.3 98.9Q240 100 238.6 100.8Q237.2 101.6 235.6 102Q234 102.4 232.2 102.6Q230.4 102.8 228.6 102.4Q226.8 102 225.3 101.1Q223.8 100.2 223.6 99Q223.4 97.7 224.5 96.7Q225.5 95.7 226.5 94.8Q227.5 93.9 229 93.3Q230.4 92.6 232.3 92.5Q234.2 92.4 236.1 92.8Q238 93.2 239 94.3Q240 95.4 240.2 96.5Z" fill="#d5d9e5" stroke="#6f88cc" stroke-width="1.6" stroke-opacity="0.85"/>
<path d="M228.9 110.8Q229 112.4 228.7 113.9Q228.4 115.4 227.8 116.5Q227.3 117.6 226.6 118.9Q225.9 120.1 224.9 120.3Q223.8 120.6 223 119.5Q222.2 118.4 221.7 117Q221.2 115.6 221.1 114Q221 112.4 221.2 110.9Q221.3 109.4 221.7 107.9Q222.2 106.5 223.1 105.8Q224 105.2 224.9 105.2Q225.9 105.2 226.8 105.7Q227.8 106.2 228.3 107.7Q228.8 109.2 228.9 110.8Z" fill="none" stroke="#a88560" stroke-width="1.8" opacity="0.55"/>
<path d="M227.9 111Q228 112.4 227.7 113.7Q227.5 115 227.1 115.9Q226.7 116.9 226.2 117.9Q225.6 119 224.9 119.2Q224.1 119.4 223.5 118.5Q222.9 117.6 222.5 116.4Q222.1 115.1 222.1 113.8Q222 112.4 222.1 111.2Q222.2 109.9 222.6 108.6Q222.9 107.3 223.5 106.8Q224.2 106.3 224.9 106.3Q225.6 106.2 226.3 106.7Q227 107.1 227.4 108.4Q227.8 109.6 227.9 111Z" fill="#d5d9e5" stroke="#6f88cc" stroke-width="1.6" stroke-opacity="0.85"/>
<path d="M283.8 129.4Q284.3 131.4 283.8 133.4Q283.3 135.4 281.8 137.2Q280.3 139 277.7 139.8Q275 140.6 272.1 141Q269.3 141.3 266.4 140.4Q263.6 139.6 262.5 137.5Q261.3 135.4 261.1 133.4Q260.8 131.4 261.3 129.5Q261.7 127.6 263 125.8Q264.4 124 266.7 122.5Q269.1 121 272.2 121.2Q275.3 121.5 277.5 122.9Q279.7 124.3 281.5 125.9Q283.3 127.4 283.8 129.4Z" fill="none" stroke="#a88560" stroke-width="1.8" opacity="0.55"/>
<path d="M282.8 129.7Q283.3 131.4 282.8 133.2Q282.4 135 281 136.6Q279.6 138.1 277.2 138.9Q274.8 139.6 272.2 139.9Q269.5 140.2 266.9 139.4Q264.3 138.7 263.3 136.8Q262.3 134.9 262 133.2Q261.8 131.4 262.2 129.7Q262.6 128 263.8 126.4Q265 124.9 267.2 123.5Q269.3 122.1 272.2 122.4Q275 122.6 277.1 123.9Q279.1 125.1 280.7 126.5Q282.3 127.9 282.8 129.7Z" fill="#d5d9e5" stroke="#6f88cc" stroke-width="1.6" stroke-opacity="0.85"/>
<path d="M257 121.4Q257.5 123 257.6 124.9Q257.7 126.7 256.3 128.3Q254.8 129.8 252.7 130.7Q250.5 131.7 248.1 131.6Q245.6 131.5 243.6 130.5Q241.6 129.4 240 128.1Q238.4 126.7 238.2 124.9Q238 123 238.8 121.3Q239.5 119.7 240.5 118Q241.4 116.3 243.5 115.2Q245.5 114.1 248.1 114.1Q250.6 114 252.7 115.1Q254.9 116.1 255.7 117.9Q256.4 119.8 257 121.4Z" fill="#d5d9e5" opacity="0.9"/>
<path d="M255 141.3Q255.4 143 255.1 144.7Q254.9 146.4 252.8 147.8Q250.8 149.1 247.7 149.4Q244.6 149.8 241.8 149.7Q238.9 149.6 236.3 149Q233.7 148.4 231.4 147.4Q229 146.3 227.5 144.7Q226 143 227.4 141.3Q228.9 139.7 231.3 138.6Q233.7 137.6 236.3 136.9Q238.8 136.2 241.7 136.2Q244.6 136.2 247.5 136.7Q250.4 137.2 252.5 138.4Q254.6 139.7 255 141.3Z" fill="none" stroke="#a88560" stroke-width="1.8" opacity="0.55"/>
<path d="M253.9 141.6Q254.3 143 254.1 144.5Q253.8 145.9 251.9 147.1Q250 148.2 247.2 148.5Q244.4 148.8 241.8 148.7Q239.2 148.7 236.8 148.2Q234.4 147.6 232.2 146.7Q230 145.8 228.6 144.4Q227.3 143 228.6 141.6Q229.9 140.2 232.1 139.3Q234.4 138.4 236.7 137.8Q239.1 137.2 241.7 137.2Q244.4 137.2 247 137.6Q249.7 138 251.6 139.1Q253.6 140.2 253.9 141.6Z" fill="#d5d9e5" stroke="#6f88cc" stroke-width="1.6" stroke-opacity="0.85"/>
<path d="M353.2 137.9Q354 139.9 353.6 142Q353.2 144.1 351.3 145.8Q349.4 147.5 346.7 148.7Q343.9 150 340.7 149.8Q337.4 149.5 335.2 148Q333.1 146.4 331.2 145Q329.4 143.6 328.2 141.7Q327.1 139.9 327.3 137.7Q327.5 135.5 329.3 133.5Q331.1 131.5 334.3 131.1Q337.6 130.6 340.5 130.9Q343.5 131.2 346.3 131.9Q349.1 132.5 350.8 134.2Q352.5 135.9 353.2 137.9Z" fill="none" stroke="#a88560" stroke-width="1.8" opacity="0.55"/>
<path d="M352.2 138.1Q352.9 139.9 352.6 141.7Q352.2 143.6 350.5 145.1Q348.7 146.6 346.2 147.7Q343.7 148.9 340.7 148.6Q337.7 148.4 335.7 147.1Q333.7 145.7 332 144.4Q330.3 143.2 329.2 141.5Q328.2 139.9 328.3 137.9Q328.5 136 330.2 134.2Q331.8 132.5 334.8 132.1Q337.8 131.6 340.5 131.9Q343.2 132.2 345.8 132.8Q348.4 133.3 350 134.8Q351.5 136.3 352.2 138.1Z" fill="#d5d9e5" stroke="#6f88cc" stroke-width="1.6" stroke-opacity="0.85"/>
<path d="M387 131.3Q387.3 133.5 386.8 135.7Q386.4 137.9 384.8 139.7Q383.3 141.4 381.2 142.8Q379.1 144.3 376.3 144.8Q373.4 145.3 371.2 143.6Q369 141.9 367.9 139.8Q366.8 137.7 366.3 135.6Q365.8 133.5 366.2 131.4Q366.5 129.2 367.6 127Q368.6 124.7 371.1 123.6Q373.6 122.5 376.3 122.9Q378.9 123.4 381.3 124.2Q383.7 125.1 385.2 127Q386.8 129 387 131.3Z" fill="#d5d9e5" opacity="0.9"/>
<path d="M327.5 128Q328 129.3 327.8 130.7Q327.5 132.2 326.3 133.4Q325.1 134.5 323.3 135Q321.5 135.5 319.5 135.6Q317.6 135.7 316 135Q314.3 134.3 313.6 133Q312.8 131.8 312.2 130.5Q311.6 129.3 311.6 127.9Q311.7 126.5 312.8 125.2Q313.8 123.9 315.7 123.2Q317.5 122.5 319.4 123Q321.4 123.4 322.8 124.2Q324.2 124.9 325.6 125.8Q327 126.6 327.5 128Z" fill="none" stroke="#a88560" stroke-width="1.8" opacity="0.55"/>
<path d="M326.5 128.2Q327 129.3 326.7 130.5Q326.4 131.7 325.4 132.7Q324.4 133.7 322.8 134.1Q321.2 134.4 319.5 134.5Q317.9 134.6 316.4 134Q315 133.4 314.3 132.4Q313.7 131.3 313.2 130.3Q312.6 129.3 312.6 128.1Q312.7 126.9 313.6 125.9Q314.6 124.8 316.2 124.2Q317.8 123.6 319.4 124Q321.1 124.4 322.4 125.1Q323.6 125.7 324.8 126.4Q326.1 127.1 326.5 128.2Z" fill="#d5d9e5" stroke="#6f88cc" stroke-width="1.6" stroke-opacity="0.85"/>
<path d="M236.5 142.9Q237.2 144.1 236.8 145.3Q236.4 146.6 235.1 147.4Q233.8 148.3 232.2 148.5Q230.6 148.7 229.1 148.8Q227.6 148.9 226 148.6Q224.4 148.3 223.4 147.3Q222.5 146.4 222 145.2Q221.5 144.1 221.8 142.9Q222.2 141.7 223.3 140.8Q224.4 139.9 225.9 139.3Q227.4 138.8 229 139Q230.6 139.3 231.9 139.9Q233.2 140.4 234.6 141.1Q235.9 141.7 236.5 142.9Z" fill="none" stroke="#a88560" stroke-width="1.8" opacity="0.55"/>
<path d="M235.5 143.1Q236 144.1 235.6 145.1Q235.3 146.1 234.2 146.8Q233.1 147.4 231.8 147.6Q230.4 147.7 229.1 147.8Q227.8 147.9 226.4 147.7Q225.1 147.4 224.3 146.7Q223.5 145.9 223 145Q222.6 144.1 222.9 143.1Q223.2 142.2 224.1 141.4Q225.1 140.7 226.4 140.3Q227.7 139.8 229 140.1Q230.4 140.3 231.5 140.7Q232.6 141.2 233.8 141.7Q234.9 142.2 235.5 143.1Z" fill="#d5d9e5" stroke="#6f88cc" stroke-width="1.6" stroke-opacity="0.85"/>
</g></g>
<clipPath id="clipA2"><rect x="45.7" y="172.5" width="166.3" height="124.3"/></clipPath>
<g clip-path="url(#clipA2)">
<rect x="45.7" y="172.5" width="166.3" height="124.3" fill="#dedbd4"/>
<g filter="url(#soft)">
<rect x="45.7" y="172.5" width="166.3" height="124.3" fill="#dedad2"/>
<rect x="45.7" y="172.5" width="166.3" height="124.3" filter="url(#tx2)" opacity="0.3"/>
<rect x="45.7" y="172.5" width="166.3" height="124.3" filter="url(#tb2)" opacity="0.7"/>
<path d="M83.6 192q-2.6 0.2 -4.3 2.7M156.2 221.5q-1.4 -0.2 -2.7 1M130.9 239.4q-1 -1.5 -3.3 -1.7M156.7 250.4q0.2 1.1 1.5 1.7M147.9 212.2q-1.2 -0.8 -2.8 -0.2M133.4 202.1q-0.4 1.2 0.5 2.4M211.8 214.7q-1.3 -0.9 -3.2 -0.3M172.1 278.2q-1 -0.1 -1.9 0.9M145.9 257.9q-1.6 2.2 -0.7 5.3M91.4 287q-1.3 -2.3 -4.5 -2.7M161.3 194.7q2.4 -0.6 3.6 -3.3M210.6 208.9q2.1 -0.7 3 -3.3M207.2 240.1q-2.5 1.6 -2.8 5.2M211.8 221.9q0.8 0.6 2.1 0.3M58.9 255.4q1 1 2.7 0.7M209.5 219.3q1.6 -0.7 2.2 -2.7M64 216.8q0.5 0.9 1.7 1.2M212 206.9q1.2 1.2 3.4 0.9M185.3 202.5q1.9 0.9 4.3 -0.2M65.7 266.7q2.2 -1.6 2.3 -5M95.8 208q2 -1.5 2.1 -4.5M106.4 234.7q-0.4 2.9 2.1 5.4M191.5 264.4q1 1.1 2.9 1M206 233.8q1 0.5 2.3 -0.1M51.2 176.5q2.7 1.3 5.9 -0.3M113.2 275.1q-2 -1.6 -5 -0.9M58.1 204.7q1.6 0.3 3 -1.1M79.4 205.9q-0.2 -1.7 -1.9 -2.7M147.3 230q2.4 -1.2 3.1 -4.4M166.5 191.9q-0.9 -1 -2.6 -1M164.5 252.3q2.9 0.9 5.9 -1.2M130.9 212.7q-1.1 -2.8 -4.6 -3.8M53.5 286.7q0.9 -1.9 -0.3 -4.1M169.9 205.1q0.5 1.5 2.2 2.2M206.5 236.2q-1.4 1.8 -0.8 4.5M79.8 187.6q0.4 2.8 3.4 4.5M138.1 223.8q0.5 2 2.8 3M151.3 280.2q-2.4 -0.4 -4.5 1.6M207 184.4q0.2 -1.9 -1.4 -3.5M159.8 262.3q1.3 -0.9 1.5 -2.8M174.8 231.1q2.4 0.1 4.3 -2.2M119.9 273.1q-0.7 1.4 0.1 3.1M208.4 176.3q-0.1 1.3 1 2.4M204.3 208q-2 -0.1 -3.6 1.7M63.5 191.7q2 -1.9 1.8 -5.3M190.4 188.3q1.6 -1 1.7 -3.3M97.4 175.1q0.6 1 1.9 1.2M87.9 185.8q-0.3 1.7 1.1 3.3M137.9 244.7q2.2 0.5 4.3 -1.2M65.9 202.5q-1 1.2 -0.6 3.1M46.9 242.3q0 1.8 1.8 3.1M178.9 203.2q-1.4 -2.1 -4.5 -2.3M89.9 262.8q-1.7 0.8 -2.2 3M195.6 273.2q1.1 1.7 3.5 1.9M174.3 238.1q1.9 1.7 4.9 1.2M89.4 266.2q0 -2.4 -2.4 -4.2M195.5 176.9q-1.6 -0.3 -3.2 1M72.8 271q-1.1 0.4 -1.5 1.7M93.6 259.3q1.3 -1.3 1.1 -3.6M185.7 187.1q-1.3 -0.2 -2.4 0.9M108.3 182.9q1.7 2.3 5.2 2.5M57.7 240.3q0.1 -1.5 -1.3 -2.8M208.9 179.1q0.7 -2.5 -1.2 -5.1M50.8 273.2q0.2 2.4 2.6 4M209.9 288.1q1.1 -0.3 1.7 -1.6M167 241.9q0.7 2.6 3.7 3.8M141.3 261.2q-0.8 -1.5 -2.9 -1.9M134.5 229.1q1.9 -0.5 2.9 -2.7M121.9 276.7q-0.8 1.1 -0.4 2.6M117.1 186.4q-2.8 0.4 -4.5 3.5M178.4 216.8q2.6 1.3 5.8 -0.3M145.8 194.6q-0.7 -1.9 -3 -2.6M154.2 282.3q-1.8 1.3 -1.9 4M178.5 286.6q1 0.2 1.9 -0.6M115.7 272q2.8 -0.8 4.2 -4.1M204.2 188.6q0.7 1.2 2.3 1.4M88.6 216.1q-2 0.4 -3 2.7M106.5 191.1q1.5 -1.8 0.8 -4.6M89.9 296.3q-2.8 -0.9 -5.8 1.2M104.7 256.7q2.2 0.3 4 -1.6M99.6 286.2q2.1 -0.2 3.5 -2.4M63.5 231.9q-2.5 -0.8 -5.2 0.9M83.2 278.4q2.8 1.1 5.9 -0.8M141.9 200.8q1.3 1.2 3.5 0.8M161.4 262q1.1 0.3 2.2 -0.5M127.1 276.2q1 0.4 2.2 -0.2M194.1 185.8q-0.1 1.6 1.4 2.8M57.1 260.7q0.1 -2 -1.7 -3.6M148.3 285.2q1.6 0.3 3 -0.9M82.6 190q-0.5 -1.7 -2.5 -2.6M192.6 190.1q2.2 0.3 4.1 -1.5M90.9 212.5q1.1 1.4 3.3 1.4M160.3 221.4q-1.1 2.4 0.4 5.2M102.3 205.9q-1 0.7 -1.1 2.3M79.1 289.5q1.2 -1.1 1 -3M202.8 246.9q1.2 0.2 2.4 -0.8M186.6 292.8q-1.8 -1.5 -4.7 -0.8M207.6 239.6q0.5 1.5 2.3 2.2M204.9 237.5q1 0 1.8 -1M174.9 209.1q2.6 -0.9 3.7 -4M145.5 196.1q0.9 2.8 4.3 4M146.5 280.8q-0.1 1.4 1.2 2.5M52.2 268.8q1.8 2.1 5.1 2M135 173q0.4 -2.1 -1.4 -4.1M155.9 244.2q0.3 -1.2 -0.6 -2.5M186.7 262.3q-1.9 -2 -5.3 -1.6M104.1 236.3q-0.1 -1.1 -1.3 -1.9M125.2 180q0.2 1.9 2.3 3.2M171.5 281.2q2.2 -1.5 2.5 -4.7M79.9 231.7q1.1 2.2 4.1 2.8M129.5 241.4q-1.1 1.1 -0.9 2.9M164.7 175.4q2 -0.7 2.9 -3.2M210.6 229.1q0 -2.8 -2.8 -4.9M169.7 230.7q1.9 -0.1 3.2 -2M104.6 229.1q1.6 -0.2 2.6 -1.9M198.5 201.2q-1.9 -0.2 -3.5 1.5M138 201.2q-1.3 -0.9 -3.1 -0.3M173.2 281.2q-1.2 -0.8 -2.7 -0.2M191.4 273.2q-2.3 1.4 -2.6 4.7M83.8 182q-2.3 -1.3 -5.3 -0.1M196.5 255.4q1.8 -2.2 1 -5.6M102.1 296.1q-1.7 0.3 -2.6 2.2M191 213.4q-1.4 -1.8 -4.2 -1.9M119 218.6q0.3 1.5 2 2.4M137.2 211.6q-0.3 1.6 1 3.1M54.6 197.1q0.9 0.8 2.3 0.5M133.3 269q-0.2 -1.8 -2 -3M202.8 269.7q-0.7 1.2 0 2.7M148.6 189.6q-0.8 0.7 -0.7 1.9M196.2 287.3q-0.8 -2.8 -4 -4.1M148.1 295.2q0.2 -2.9 -2.4 -5.3M195.6 196.9q-2.2 1.1 -2.7 4.1M205.3 208.5q-0.8 -0.7 -2 -0.6M136.9 232.5q0.9 -0.8 0.9 -2.3M46.6 183.9q-1.2 1.8 -0.4 4.3M140.3 233.2q1 1.4 3 1.5M182 204.9q-2 -0.3 -3.8 1.5M84.9 202.9q0.9 -1.1 0.5 -2.8M157.6 209.5q2.6 0.2 4.8 -2.1M46.7 266.1q-0.7 2.2 1 4.5M68.1 294.6q-1.3 1.2 -1.1 3.4M208.3 230.7q0 -2.4 -2.4 -4.1M185.5 266.1q0.8 -2.9 -1.4 -5.8M148.7 279.1q-0.5 -1 -1.8 -1.2M89.7 283.3q-0.1 1.5 1.2 2.7M199.1 260.3q-0.9 -0.7 -2.3 -0.4M56.8 180.1q1.4 0.5 2.8 -0.5M135.6 236.1q-2.5 -0.8 -5.1 1M65.2 272.8q-0.2 -1.1 -1.4 -1.8M197.7 186.7q1.7 0.1 3.1 -1.6M127.9 194.8q-1.5 -0.2 -2.8 1.1M173.1 203.2q-0.2 -2.7 -2.9 -4.6M160.8 196.5q-0.9 -1 -2.6 -0.9M184.3 201.3q0 1.4 1.3 2.5M160.2 237.4q-1.6 2.1 -0.7 5.3M192 274.1q1.1 -2.1 -0.1 -4.7M127.2 270.2q-2.6 1.3 -3.3 4.7M110.1 199q0.2 1.2 1.5 1.9M106.9 234.8q0.6 -1.6 -0.5 -3.4M56.7 258.8q-1.9 2.1 -1.4 5.5M201.2 267.6q0 1.7 1.7 2.9M161 192.3q2 0.3 3.9 -1.3M49.9 235.6q1.9 0.3 3.6 -1.4M133.9 192.5q-2.3 -0.1 -4.1 2.1M192.9 213.3q0.2 1.8 2.1 2.9M161.2 175.7q0.5 1.3 2.1 1.8M207.8 254.9q1.4 0.2 2.6 -1M134.7 259.6q-0.9 2.7 1 5.6M126.4 192.6q1.3 -0.5 1.8 -2.2M102.4 265.2q0.7 -1.5 -0.2 -3.3M113.7 291.1q-1.5 0.4 -2.2 2.1M204.8 279.6q2.4 1.3 5.5 -0.1M53.2 262.8q-1.4 0.8 -1.6 2.7M68.1 236.1q-1.1 -0.2 -2.1 0.7M194.2 272.7q1.1 1.5 3.3 1.6M60 220.3q2 -2.1 1.5 -5.6M52.5 216.5q0.4 -2.8 -2 -5.2M192.1 245.7q1.3 0.8 3 0.1M51.4 206.8q-1.1 -0.1 -2 0.9M204.4 254.4q1 -0.6 1.1 -2M99.6 230.2q2.1 -0.3 3.4 -2.5M183.3 199.5q1.4 0 2.5 -1.3M88.5 287.6q0.8 -0.6 0.9 -1.8M93.6 189.8q-0.8 2.8 1.2 5.7M70.8 239.7q0.3 1.7 2.2 2.6M159.5 259.5q2.7 0.2 4.9 -2.2M68.4 264.8q-0.6 0.8 -0.2 2M92.3 181.2q1.2 -0.5 1.6 -2M74.1 177.9q1.3 0.2 2.5 -0.8M78.1 191.5q-0.1 1.3 1 2.3M189.9 242.7q1.2 -2.3 -0.1 -5.1M167.9 195.6q1.4 -2.6 0 -6M99.6 189.4q-0.8 1.1 -0.3 2.8M69.2 208q0.2 1.5 1.8 2.4M169.6 250.6q-1.4 1.1 -1.4 3.2M186.9 264.5q1 0.6 2.3 0M64.6 217.9q-2 0.1 -3.5 2.2M98.7 275.5q1.7 0 3 -1.6M85.6 275.5q1.1 -0.2 1.8 -1.3M87.1 281.2q-1.5 1.2 -1.4 3.6M169 268.1q0.3 -1.9 -1.2 -3.7M152.8 185.7q1.9 2 5.3 1.7M79.4 296.2q2.5 1.7 5.9 0.6M150.3 224.4q2.6 1.1 5.6 -0.5M56.5 247q-0.9 -1.6 -3 -1.9M96 180.7q2.5 0.1 4.6 -2.3M198.7 209.2q1.2 -0.2 1.9 -1.5M206.2 241.8q0.8 1.4 2.7 1.7M102.9 252.1q-1.2 1.6 -0.6 4M101.1 213q0.6 -1.2 -0.1 -2.7M63.6 189.7q-1 0.9 -0.9 2.5M47.4 230.1q-1.2 1.5 -0.7 3.9M121.1 245q1.2 0.2 2.3 -0.7M80.1 218.2q-0.8 -1.5 -2.8 -2M165.7 236.2q-1 -0.7 -2.3 -0.2M113.5 278.4q-2.5 1 -3.4 4.1M194.8 288.5q2.2 -1.9 2.1 -5.5M172.4 269.3q-1.4 -0.8 -3.3 -0.1M71.9 251.8q0.7 -1.5 -0.2 -3.2M61.4 293.7q1.1 -0.6 1.4 -2.1M78.9 216.2q-0.5 1.6 0.8 3.3M76.4 183.5q1.2 -2.4 -0.3 -5.4M89.1 238.7q2.9 0.6 5.6 -1.6M128.6 209.9q-0.5 -2.6 -3.3 -4.2M87.5 255.9q1.1 -0.5 1.5 -1.9M62.8 258.5q0.7 -0.8 0.5 -2M102.6 199.7q-1.3 1.7 -0.7 4.2M50.4 294.3q0.9 -2.7 -1 -5.6M173.4 188.6q0.1 -2 -1.7 -3.7M103.7 185.4q-0.7 1.1 -0.2 2.6M211.3 219.8q0.4 -2.1 -1.3 -4.1M147.5 217.3q-0.7 2.4 1.1 4.9M198.6 255.4q0.2 2.5 2.7 4.2M210.7 183q-0.2 2 1.6 3.8M59.4 265.3q-0.7 2.8 1.4 5.5M177.4 204.7q-2.2 1.5 -2.5 4.7M145.2 244.3q-1.9 -1 -4.3 0.1M139.6 178.2q2.7 -1.2 3.6 -4.8M61.6 271.2q-0.4 -1.1 -1.7 -1.6M84.7 193.8q-0.2 1.2 0.8 2.2M154.8 197.2q1.1 0.4 2.4 -0.3M171 266.9q2.4 -1.4 2.8 -4.8M86 226.7q-1.6 -1.9 -4.5 -1.8M70.6 296.8q-0.8 -0.7 -2.1 -0.4M172.9 220.8q-0.1 -1.8 -1.9 -3.1M95 233.9q2.5 -0.1 4.4 -2.5M178.3 178.8q-0.2 -1.4 -1.8 -2.2M180.4 254.5q-2.2 -1.3 -5.1 -0.3M171 186q-2.7 0.7 -4.1 3.9M176.5 214.8q1.3 1 3.2 0.6M105 225.5q-1.6 -1 -3.8 -0.1M81.4 211.6q1.1 -2.6 -0.6 -5.5M194.4 217.4q-1.7 -1.9 -4.7 -1.7M124.3 277.9q0.4 1 1.7 1.5M63.4 232.4q2.1 -0.8 3 -3.5M65.8 225.8q1.7 -1.7 1.4 -4.6M151.7 214.3q-1.5 1.6 -1.1 4.3M170.4 207.2q1.3 -0.9 1.4 -2.8M92.3 186.7q1.4 -1.6 0.9 -4.1M145.4 174.9q1.6 1.2 3.9 0.6M139.4 272.4q-0.5 -2.7 -3.4 -4.2M199.5 190.2q0.1 2.2 2.4 3.7M51.6 233.8q1.4 -0.2 2.2 -1.7M120.8 184.4q-1.7 0.1 -2.8 1.8M61.3 286.9q1 1.4 3.1 1.5M59.9 230.6q1.9 -0.1 3.2 -2M121.7 237.1q-0.8 -0.8 -2.2 -0.7M73.8 216.5q0.4 1.8 2.4 2.7M134.3 183.4q-0.3 -1.4 -1.8 -2.2M141.1 224.2q-1.2 -0.4 -2.6 0.5M120.7 220.3q-1.2 1.2 -0.9 3.1M188 280.1q0.9 -2.6 -0.9 -5.4M164.3 256.8q-1.2 0 -2 1.1M167.4 277q1.5 1.6 4.1 1.3M128.3 264.6q0.2 -2.2 -1.7 -4M117.7 280.1q-1.1 -0.6 -2.5 0.1M123.1 232.7q-1.1 -1.6 -3.4 -1.8M86.6 187.8q-0.8 -0.7 -2 -0.5M156.6 233.6q-0.1 2.8 2.6 5.1M162.9 202.6q-0.6 -0.8 -1.8 -0.9M73.9 249.5q0.4 -1 -0.1 -2.1M167.3 280.8q-0.7 2.8 1.4 5.6M116.5 264.6q2.6 -0.2 4.4 -3M120 179.4q-2 -0.7 -4.2 0.7M174.8 207.8q-0.7 0.9 -0.4 2.3M84.1 175.7q0 2 1.9 3.5M164.6 246q0.1 -1 -0.9 -1.9M152 217.3q-1.5 1.1 -1.5 3.4M54 244.6q0.6 -1.5 -0.4 -3.2M89.9 291.1q0.9 -1.8 0 -4M210.2 233.7q1 0.4 2.1 -0.3M180.5 177.1q0 2 1.9 3.5M146.6 254.6q0.7 -2.4 -1.1 -4.8M169.5 295.6q-2.1 1.7 -2 5M103.4 199.9q-1.3 1.5 -1 3.9M56.8 224.8q0.7 2.3 3.5 3.4M126.3 185.9q-0.2 1.7 1.3 3.1M92.5 188.9q-0.4 1.9 1.2 3.8M107 292.3q0.5 1.9 2.6 2.8M144 214.1q-1.5 0.2 -2.4 1.7M184.1 251.7q2.4 0.8 4.9 -0.8M85.1 262.8q1.1 2.6 4.4 3.6M199.7 258.8q1.4 2.1 4.5 2.4M107.7 267.3q-1.8 1.3 -2 4M55.8 181.9q-1.8 -1.4 -4.5 -0.7M168.6 172.9q-1.1 0.6 -1.3 2.1M92.9 230.7q1.2 -2.2 0 -4.9M148.8 178.8q-1 0.4 -1.4 1.6M177.8 235.8q1.1 1.5 3.4 1.5M174.4 283.5q-0.8 -0.6 -2 -0.3M197 212.4q-1.2 0.5 -1.6 2M193.3 246.4q1.9 -0.3 3 -2.3M154.3 238q-0.3 -1.3 -1.8 -1.9M134.4 282.3q0.9 -1.9 -0.3 -4.2M131.1 213.7q-2.3 1.7 -2.3 5.2M186.7 274.6q1.2 0 2.1 -1.1M155.3 248.4q-0.5 1.6 0.6 3.3M171.3 203.2q0.1 -1.5 -1.2 -2.8M122.8 280.9q0.6 -1.8 -0.7 -3.7M135.3 286.6q-1.3 1.6 -0.8 4.1M67.3 193.3q-1.1 -2.3 -4.1 -3M208 211.3q1.8 -0.1 3 -1.9M204.1 260.7q-2 1.6 -2.1 4.7M121.6 177.2q0.9 1.1 2.7 1.1M84 253.1q-0.3 -1.3 -1.7 -2M143.4 189.4q1.2 -0.3 1.8 -1.8M74.3 218.6q-2.2 0.2 -3.7 2.4M145.7 242.6q0.1 1.5 1.5 2.5M141.4 281.5q0.6 -1 0.1 -2.3M154.1 278.1q-0.4 -1.2 -1.8 -1.8M121.1 252.3q-1.1 0.8 -1.1 2.4M179.7 207.2q-0.6 -1.9 -2.9 -2.8M50.9 214.2q-0.6 0.8 -0.3 2M164.6 203.7q-0.4 1 0.3 2.1M96.1 216.8q-1.1 -1.1 -3.1 -0.9M109.2 206.6q-0.4 -2.8 -3.3 -4.5M139.5 238.3q1.7 -1.6 1.4 -4.5M69.3 287.5q1.1 1.8 3.6 2M206 201.9q0.4 1.1 1.7 1.6M176.9 273.2q-1.3 -1.9 -4.1 -2M181.2 295q-1.1 -1.9 -3.8 -2.3M155.9 285.5q2.5 0.8 5.2 -0.9M46.7 196q-2.2 1.9 -2 5.4M193 181.6q-0.2 -1.1 -1.4 -1.7M107.6 177.9q0.7 -2.5 -1.1 -5M49.6 238.9q-1.2 -0.1 -2.2 1M169.3 207.8q0.3 1.7 2.2 2.7M192.4 203.2q1.7 -2.2 0.9 -5.5M104.6 214.1q1.4 0.7 3 -0.1M54.5 181.3q-0.6 1 -0.1 2.4M128 275.9q-0.2 -2.7 -3 -4.5M198.7 176.6q1.2 -0.5 1.6 -2.1M189.7 227.7q1.3 -0.6 1.7 -2.2M70.8 231.3q1.1 -0.2 1.8 -1.5M98.2 178.1q-1.3 -1.9 -4.2 -2M193 214.5q0.4 1.2 1.9 1.8M129.5 288.3q-1.8 0.2 -3 2.1M203.4 245.6q2.6 1 5.5 -0.7M149.6 200.4q-1.1 1.1 -0.9 3M140.4 235.8q0.3 1.2 1.7 1.8M125.5 190.3q-2.6 0.2 -4.4 2.8M135.2 252.2q-0.8 0.9 -0.5 2.3M113.1 224.3q-2.4 1.5 -2.7 4.9M48.9 276.6q-1 0.3 -1.4 1.4M155.1 201.3q-0.4 -1.8 -2.4 -2.8M144.4 225.4q-2.8 0.9 -4 4.3M178.6 263.9q1 0.6 2.3 0.1M185.6 266.9q-1.6 0.8 -2.1 2.9M133.3 183q0.3 3 3.3 4.9M65.4 172.9q-2.7 0.7 -4.1 3.8M152.9 208.3q-0.5 1.4 0.5 3M67.7 232.1q0.1 1.2 1.3 1.9M147.2 185.7q2.7 -0.5 4.3 -3.5M202.8 243.4q-2.1 -1.7 -5.2 -1M200.8 214.4q-1.2 -0.4 -2.4 0.5M158.9 257.8q-1.7 -1.6 -4.6 -1.2M202.4 186q1.1 0.7 2.5 0.2M148.1 242.9q2 -0.1 3.4 -2M50.1 218.7q-0.4 -1.2 -1.8 -1.8M134.9 190.5q0.2 1.9 2.1 3.2M159.2 278.1q-0.9 -1.2 -2.6 -1.2M81.3 228.8q-1 -1.9 -3.6 -2.4M139.6 226.9q1.4 0.4 2.9 -0.6M71.1 258.9q-2.1 1.1 -2.7 3.9M56.4 213q1.7 -0.4 2.6 -2.2M203.9 219.7q-1.5 -1.1 -3.7 -0.5M69.7 233.7q-1.5 0.8 -1.9 2.8M97.8 198.9q-0.8 0.7 -0.7 2M200.7 247.3q-0.6 -1.4 -2.4 -1.9M53.1 232.5q0 2.7 2.7 4.7M153.5 243.8q2.1 -1.1 2.7 -3.9M91.5 268.3q0 1.2 1.2 2.1M197.8 264.6q-0.2 -2.7 -3 -4.5M211 268.3q-1.1 -1.6 -3.5 -1.7M167.7 233.2q-1.1 2.1 0.1 4.8M203.1 206.5q0.4 1.3 2 2M106.8 257.3q-0.1 -2.8 -2.9 -4.9M64.6 293.1q-1.8 0 -3.1 1.8M206.5 267.9q2.1 -1.3 2.5 -4.4M199.5 253.1q2.8 -0.9 4 -4.4M195 295.1q-1.5 2.4 -0.3 5.7M61.4 260.9q1.9 1.8 5 1.3M56 279.5q1.1 0 1.9 -1.1M45.9 268.2q1.4 1.4 3.8 1.2M165.2 256.9q0.5 1.1 1.8 1.4M168.3 288.8q1.3 2.4 4.6 3M117.1 182.8q-1.2 -1 -3 -0.6M101.5 270.6q1.4 -2.1 0.4 -5M131.7 211.8q0.5 -1.8 -1 -3.7M65.4 248.3q1.8 1.5 4.7 0.9M187.4 183.1q1.3 0.1 2.3 -1M58.4 183.4q-1.1 -2.2 -4 -2.9M75.8 273.2q0.8 2 3.2 2.7M175.8 222.1q-2.2 0.8 -3.2 3.5M148.3 173.9q-1.4 -1.8 -4.1 -1.9M170.8 215.4q-1.1 -2.5 -4.4 -3.4M139.1 294.7q-1.3 -2.2 -4.4 -2.7M171.4 248.1q1.1 -0.1 1.7 -1.3M202 291.3q-2.1 -0.4 -4.1 1.2M78.2 214.8q-2.1 -1.5 -5.1 -0.6M46.4 201.9q1.1 -0.6 1.3 -2.1M120 278.7q2.6 -0.2 4.3 -2.9M207.5 187.4q1 1.3 3 1.3M149.9 267.1q-3 0.2 -5 3.2M153.3 258.8q2.3 0.2 4.2 -1.8M207.8 190.1q-0.6 -1.8 -2.8 -2.5M209.1 202.4q1.5 -0.9 1.8 -3.1M207 289.8q1.4 2.4 4.8 2.9M173.3 273.2q2.4 -0.4 3.7 -3M77.8 209q-1.8 -0.5 -3.7 0.8M129.9 260.4q-1.4 1.2 -1.2 3.4M169.6 228.4q-2 -0.2 -3.8 1.5M124.1 287.7q0.7 -1.7 -0.4 -3.6M90.8 228.9q-0.5 1.9 1 3.9M204.9 202.2q1.5 -0.5 2.1 -2.4M182.1 273.7q1.6 1.8 4.5 1.7M107.4 212.8q0.8 1.7 3 2.3M123.9 192q0.5 -1.3 -0.3 -2.7M84 247.4q1.4 0.3 2.8 -0.8M143.6 262.2q1.2 1.5 3.6 1.4M66.7 268.3q-1 0.7 -1.1 2.1M81.3 193.3q-0.7 -1.1 -2.2 -1.2M119.9 259.8q-1.5 -0.3 -3 0.9M205.5 250q0.5 2 2.8 2.9M113.6 203.8q1.1 -2.7 -0.6 -5.8M53 220.1q-1.3 0.9 -1.5 2.8M205.2 265.8q1.4 -1.6 0.8 -4.2M140.8 211q1.5 1.3 3.8 0.8M103.5 219.5q0.3 2.6 3 4.2M88.1 220.9q-0.4 2.8 2 5.3" fill="none" stroke="#bf9f6c" stroke-width="0.75" opacity="0.75" stroke-linecap="round"/>
<path d="M181 249.7h0.6M99.8 195.1h0.3M59.7 190.9h0.3M78.4 273.9h0.4M155.7 253.6h0.4M83.7 247.4h0.4M204.3 251.8h0.2M47.8 266.5h0.2M71.5 221.8h0.6M104.5 231.6h0.4M89.5 282.3h0.6M80.6 233h0.6M52.5 232.8h0.3M61.6 278.1h0.6M153 263.6h0.5M141.2 270.1h0.1M208.8 294h0.4M152.5 254.4h0.2M175.4 183.4h0.2M130.7 274.8h0.3M68.8 265.3h0.3M63.4 276.1h0.3M135.7 292.4h0.6M129.9 232h0.4M74.4 253h0.3M105.6 282.8h0.1M137.5 174.7h0.3M105.4 189.2h0.3M108.6 259.6h0.2M58.5 185.5h0.2M56.9 178.9h0.6M59 261.6h0.2M96.7 225.8h0.6M50.3 240.7h0.5M123.4 201.8h0.2M152.6 243.8h0.2M102.9 227.4h0.2M51.7 287.2h0.6M167.4 180.1h0.2M158.7 212h0.3M96.5 186.3h0.2M199.9 224.7h0.2M147.8 292.4h0.3M118.2 183.1h0.1M194.3 234.5h0.4M154 246.2h0.5M96.8 278.4h0.4M202.7 194.9h0.6M175.8 185.6h0.6M123.5 188.3h0.4M118.3 173.7h0.5M210.6 188.5h0.2M147.3 276.2h0.4M80.2 193.6h0.6M138.7 289.7h0.4M158.7 292.9h0.4M172.5 233.4h0.3M79.7 227.4h0.4M105.5 193h0.4M178 275.5h0.2M58.9 285.1h0.4M76.1 276.4h0.3M138.1 292h0.6M60.3 256h0.3M196.8 239.6h0.4M156.3 271.8h0.6M193.7 173.3h0.2M193 218.4h0.3M56.4 267h0.4M80.9 261.3h0.5M130.1 174.4h0.4M152.6 191.5h0.5M156.9 196.7h0.6M115.9 178.1h0.4M175.6 201.6h0.4M140.9 197.2h0.5M203.1 275.6h0.4M204.9 187.4h0.4M160 196.6h0.1M164.4 224.9h0.5M115.8 256.2h0.3M162.2 237.9h0.5M107.3 253.7h0.6M185.3 199.2h0.4M179.8 248.9h0.5M145.4 233.4h0.4M103.1 220.7h0.6M178.8 177h0.3M170.5 278.8h0.3M206.1 285.9h0.5M55.3 264.1h0.2M178.6 193.9h0.4M175.1 236.6h0.6M172.9 248.2h0.5M176.5 237.8h0.2M165.6 201h0.3M138.2 240.8h0.6M144.7 296.2h0.2M151.9 187.1h0.6M116.7 245.6h0.2M211.9 295.5h0.6M189.8 189.5h0.2M151.3 187.6h0.6M105.9 293.5h0.3M191.5 257h0.2M207.1 243h0.4M96.4 248.4h0.1M113.1 206.5h0.5M210.3 263.5h0.2M158.3 238.4h0.3M107.2 233.5h0.3M84.8 283.6h0.6M117.8 185.2h0.1M119 273.4h0.1M85.6 180.7h0.6M98.3 238.6h0.5M104.5 206.9h0.3M211.5 263.2h0.5M48.1 234.4h0.2M189.3 227.1h0.3M141.7 197.3h0.3M125.4 257.5h0.3M108.9 288.1h0.4M170.5 276.9h0.5M119.5 287.7h0.6M179.8 294.6h0.5M56.5 196h0.3M166.5 287.7h0.3M70 231.4h0.5M78.3 267.8h0.5M171.8 292h0.2M106.2 237.7h0.5M47.9 244.8h0.3M143.8 270.9h0.3M88.1 235.4h0.5M82.1 209.6h0.4M195.8 223.7h0.3M118 179.5h0.5M115.7 198.1h0.3M175.1 275.9h0.2M162.6 239.4h0.6M161.8 216.4h0.5M139.5 276.2h0.1M109.5 184.9h0.5M82.6 255.3h0.5M150.6 253.7h0.4M202.4 271.5h0.1M143.5 190.6h0.3M102 192.3h0.6M203.1 288.4h0.4M134.7 173h0.2M57 255.2h0.5M114.5 199.9h0.2M184.4 208.1h0.3M110.4 182.2h0.2M117.8 253.1h0.3M104.4 204.8h0.4M67.3 259h0.1M117.3 220.5h0.4M131.5 209.6h0.3M159.4 295h0.6M138.6 187.5h0.6M173.6 263.6h0.4M188.5 268.8h0.4M78.8 261.2h0.2M202.3 234.9h0.2M189.2 211h0.5M122.7 231.7h0.6M208.8 288.1h0.5M181.2 179.6h0.1M104.2 192.9h0.2M85.8 242.6h0.3M140.1 238.5h0.6M115.8 182.8h0.2M82 257.4h0.1M199.7 211h0.2M101.4 257.1h0.2M79.5 288h0.4M129.6 245.9h0.5M199.3 292.2h0.3M197.4 280.5h0.2M148.9 248.3h0.3M66.2 181.1h0.4M114 233.3h0.2M113.6 228.4h0.6M121.2 244.2h0.3M48 198.1h0.4M154 260.9h0.4M164.2 272.4h0.2M180.8 176.3h0.6M77.1 290.7h0.5M63 249.3h0.4M153.6 210.1h0.5M138 200.1h0.4M123.6 254.9h0.1M53.7 260.9h0.1M159.2 184h0.5M189.9 247.1h0.5M79.5 215.8h0.3M48.7 238.5h0.3M145.2 220.3h0.6M186.1 215.9h0.2M83.9 288.5h0.6M210.1 228.8h0.5M98.5 184.4h0.4M144.7 192.6h0.1M85.5 244.7h0.3M190 270.9h0.3M196.7 281.7h0.5M106.8 257.1h0.4M209.4 222h0.6M141.5 257.2h0.5M143.7 257.9h0.5M204.6 197.7h0.2M84.2 178.9h0.4M178.7 206h0.6M98.5 279.1h0.6M209 296.4h0.4M183.3 293.7h0.6M91 229.2h0.5M131 220.5h0.6M160 185h0.2M58.8 268.3h0.6M87.6 281.7h0.6M112.7 270.4h0.3M205.4 294.1h0.3M133.6 193.4h0.6M90.7 218.5h0.4M81.9 257.3h0.1M123.8 179h0.5M67.2 276h0.2M201.5 291.4h0.2M193.9 192h0.6M166.4 195.5h0.4M46 238.3h0.2M211.3 259.8h0.6M143 254.8h0.5M130.3 285.1h0.6M192 240.1h0.3M87.7 255.8h0.2M93.6 184.9h0.4M121.2 246.7h0.4M130.6 199.7h0.3M130.3 241.8h0.4M139 223.9h0.3M153.4 281.6h0.4M134.1 287.7h0.4M155.6 207.1h0.2M76.9 172.7h0.5M150.7 259.1h0.6M197.1 280.3h0.5M98.5 231.9h0.1M192 198.8h0.2M184.4 270.8h0.5M62.4 250h0.4M104.4 215.4h0.6M138.1 236.5h0.3M117.7 240.1h0.4M56.7 190.1h0.4M172.9 277.8h0.5M183.5 227.9h0.3M74.3 214.5h0.1M142.3 266.7h0.6M114.5 250.7h0.5M48 222.2h0.5M177.1 220.7h0.1M126 182.7h0.3M167.9 207.4h0.4M174.8 294.2h0.6M169.2 178.6h0.3M100.1 187.3h0.5M99.8 212.3h0.2M87.4 290.7h0.6M66.3 278.7h0.4M124.8 269.7h0.4M210.2 252h0.3M179.8 195.1h0.6M97.5 225.6h0.1M154 179.3h0.6M84 268.5h0.6M138.5 195.7h0.2M211 283h0.4M203.4 215.8h0.5M149.6 255h0.5M173.6 200.8h0.3M70.8 244h0.5M89.6 258h0.4M158.2 204.6h0.6M143 244.2h0.3M86.6 228.3h0.1M168.9 262h0.2M55.6 260.6h0.1M193.1 174.3h0.2M174.5 242.1h0.6M157.7 294.6h0.6M208.7 254.1h0.2M75.1 267.9h0.2M158.7 243.5h0.3M196 214.9h0.6M70.8 272.5h0.1M145.7 272.3h0.6M49.5 270.1h0.3M46.3 198.9h0.1M200.4 199.7h0.4M157 238.8h0.6M162.7 202.8h0.4M101.1 279.8h0.3M67.8 280.7h0.2M131.2 207.5h0.2M149.6 287.9h0.6M148.9 263.5h0.5M170 280.8h0.4M149.2 200.2h0.3M140.3 204.7h0.4M113.1 221.6h0.2M187.6 198.3h0.2M50.1 278.9h0.5M79.7 202.5h0.2M186.6 226.3h0.4M206.8 268.4h0.4M67.7 198.4h0.6M182.6 246.6h0.6M99.6 223.9h0.5M168.2 233.3h0.4M158.5 235.6h0.2M118.6 251.2h0.2M97.3 258.5h0.2M210 196.7h0.5M196.2 275.2h0.2M50.7 236h0.4M87.7 182.5h0.6M94.5 182.8h0.6M210.4 258.5h0.5M67 217.2h0.1M83.8 292.2h0.6M48.6 272h0.4M202 193.8h0.4M106.3 207.3h0.2M179.7 194.7h0.5M203 194.9h0.6M110.3 257.1h0.3M175.5 246.2h0.6M130.3 196.2h0.6M158.8 219.3h0.6M160.8 252h0.6M135.3 224.4h0.2M79.7 182.2h0.3M205.4 222.4h0.1M140.3 183.5h0.6M64 246.4h0.1M79.2 226.6h0.4M136.5 203.1h0.6M74.7 272.4h0.5M46.2 197.7h0.5M148.5 219.8h0.3M57.2 266.4h0.1M156.6 229.3h0.1M49.5 286.9h0.2M145.8 173.2h0.4M147.7 272.5h0.4M99.8 263.4h0.1M156.4 181.6h0.1M123 207.3h0.5M201.8 211.2h0.1M107.9 226.7h0.5M207.8 180.6h0.4M105.2 205.7h0.6M196.5 280.2h0.6M192.5 270.2h0.4M207.5 213.2h0.6M115.8 235.5h0.6M130.6 234.7h0.2M55.3 214.2h0.5M139.9 218.6h0.4M53.6 239.2h0.4M163.5 224.3h0.6M83.2 177h0.6M123.7 286.2h0.5M184.2 281.1h0.5M174.9 212.8h0.6M47.9 271h0.6M160.2 196.4h0.3M148 191.4h0.5M113.8 295.1h0.2M96.2 266.8h0.3M154 173.7h0.5M61.9 194.5h0.5M179.1 198.6h0.4M161.5 191.1h0.4M138.3 213.5h0.2M57.5 233.7h0.2M147.4 265.4h0.5M79.8 273.9h0.3M202.3 235.7h0.6M69.7 219.1h0.6M212 277.3h0.4M85.6 209.9h0.2M152.4 253.4h0.3M185 225.6h0.5M183.1 237.8h0.6M147.6 193.3h0.6M134 288.5h0.5M128.4 278.4h0.4M154.7 254.4h0.4M172.7 252.6h0.2M160.9 208.5h0.6M73.4 197.3h0.4M143.3 245h0.2M122.7 273.5h0.5M133.3 211.8h0.3M74.1 278.6h0.3M134.6 245.2h0.4M155.2 293.3h0.4M164 285.8h0.2M126.6 264.4h0.4M77.5 180.8h0.2M180.5 187.2h0.5M46.2 228.5h0.6M113.7 226.7h0.6M167.9 190.6h0.1M73.6 209.3h0.6M85.7 241.3h0.6M194.7 238.4h0.4M59.6 236.5h0.5M158.4 290h0.4M163 185.4h0.4M85.1 224.1h0.4M98.1 276.3h0.5M67.1 262.2h0.1M59.2 294.1h0.6M191.8 223.4h0.3M81.8 211.2h0.1M173 214.8h0.3M81.3 228.2h0.6M124.3 287.9h0.5M181.3 281.2h0.2M52.5 240h0.5M66.6 213h0.4M142.2 177h0.6M156.4 248.6h0.4M106.5 232.4h0.4M194.3 214.2h0.6M198.4 190.4h0.4M197 291.1h0.1M131.8 287.8h0.5M152.8 217.2h0.3M72.9 207h0.1M81.9 271.9h0.2M178.5 184.8h0.3M201.5 180.1h0.3M59.2 175.3h0.5M119.6 186.6h0.6M56.3 175.5h0.5M78.6 185.6h0.2M81.7 240.4h0.2M166 225.2h0.5M180.9 181.4h0.5M73 240.2h0.6M180.5 276.6h0.2M46.2 281.1h0.4M61.3 258.4h0.4M174.6 236.7h0.6M175 245.8h0.1M103 235.9h0.2M193.6 263.5h0.6M144.4 248.4h0.3M116.3 275.4h0.3M49.8 190.9h0.4M120.9 198.6h0.6M135.9 192.2h0.3M142.9 206.6h0.4M147.3 294.2h0.5M122.9 214.8h0.5M95.2 180.2h0.4M97.5 217.8h0.2M178.5 244.1h0.3M207.2 243.3h0.6M91.5 188.1h0.3M185.5 196.3h0.6M92.9 271h0.3M110.5 251.7h0.5M66.3 249.9h0.2M134.8 278.9h0.4M52.9 208.9h0.4M160.7 272.9h0.4M135.4 281.4h0.4M135.4 174.3h0.5M123 293.3h0.2M85.2 186.3h0.2M108.6 293.2h0.5M83.9 253.5h0.4M159.1 272.4h0.5M180.5 204h0.6M95.2 233.9h0.2M95.4 173.6h0.6M74.7 288.1h0.4M156.6 226.7h0.3M45.9 253.9h0.3M167.2 272.3h0.3M127 226h0.1M136.6 259.7h0.4M159 256.5h0.5M172 190.1h0.1M121.5 249.6h0.5M100.3 257.5h0.3M47.8 246.4h0.2M77.6 288.6h0.4M66.1 202.9h0.2M103.9 252.7h0.4M129.9 218.1h0.6M67.4 200.9h0.3M190.7 194.1h0.6M67.2 282.3h0.4M105.5 225.9h0.6M142 179h0.6M109.9 221.7h0.2M111 292.1h0.1M169.4 288h0.5M149.1 264.2h0.4M157.6 217.5h0.5M170.6 210.4h0.5M50.1 242.8h0.1M70.1 235.7h0.6M170.6 213.2h0.3M153.9 259.9h0.6M175.3 200h0.6M107.4 254.4h0.3M46.3 271.1h0.4M107.9 290.1h0.6M93.1 190.8h0.3M157.3 199.7h0.6M140.2 182.6h0.3M211 208.7h0.2M101.9 292.5h0.2M156.6 242.1h0.2M61.9 288h0.1M59.3 231.4h0.4M162.2 176.6h0.1M121.7 268.8h0.3M50.3 252.7h0.2M122.8 281h0.2M142.9 175.7h0.2M76.5 274.7h0.5M144.6 278.2h0.3M108.8 258.3h0.1M174.6 194.6h0.2M74.8 294.4h0.5M129.7 174.8h0.6M53.7 185.6h0.1M64.6 199.3h0.2M74.3 281.7h0.2M72.2 294.5h0.3M151.2 283.9h0.5M104.2 204.7h0.6M167.3 215.3h0.3M126.3 275.6h0.4M124 257.2h0.1M156.8 192.2h0.2M139.2 264h0.1M203.9 264.9h0.5M155.8 190.3h0.4M135.7 173.1h0.3M147.8 247.1h0.6M209.7 269.3h0.6M121.1 197.2h0.6M112.1 259.5h0.3M58.9 256.3h0.3M172 229.6h0.4M201.2 233.2h0.1M99 247.9h0.4M164.6 221.8h0.2M193.8 194.6h0.4M76 277.6h0.3M126.8 265.2h0.3M194.8 210.1h0.2M167.9 183.7h0.1M211.7 255.3h0.6M61 241.4h0.2M83.9 249.4h0.3M59.2 285.8h0.6M71.9 218.3h0.2M203.9 225h0.2M193.3 275.4h0.6M150.5 285.2h0.4M197.5 221.9h0.3M46.4 268.2h0.3M190.3 225.4h0.5M111.6 202.9h0.4M126 218h0.6M157.2 217.4h0.2M159 296.2h0.5M195.1 192.8h0.5M200.8 263.9h0.2M55.5 213.1h0.2M83.7 281.5h0.3M140.2 173.4h0.5M190.2 184.9h0.5M207.6 224.5h0.5M182.1 258h0.2M154.7 243.6h0.6M113.9 210.1h0.5M166.4 295h0.4M75.7 196.3h0.2M62.6 255.1h0.1M121 259.6h0.2M161 247.6h0.6M111.5 289.2h0.4M78.4 202.1h0.5M74 193.6h0.4M80 247h0.5M80.2 207.5h0.3M199.3 181.8h0.4M71.1 185.8h0.4M46.8 282.8h0.4M174 244h0.2M61.2 268.3h0.5M181.4 207.4h0.1M148.1 200h0.4M103.2 276.2h0.6M110.9 270.2h0.2M138.3 175.3h0.4M115 288.9h0.2M126.2 240.6h0.6M125.6 230.7h0.3M180 211.9h0.3M97.5 203.7h0.3M93 234.9h0.5M157.5 205.6h0.5M92.4 281.9h0.1M151.5 206.1h0.4M187.4 287h0.3M174.8 192.4h0.2M144.6 178.3h0.2M196.1 228.7h0.4M81.2 279.4h0.1M186.1 188.9h0.4M68.6 241.3h0.4M197.2 173h0.3M105.7 196.5h0.2M159.8 203.7h0.6M164.1 273.2h0.4M211.6 184h0.3M110.7 265.8h0.5M64.3 186.9h0.4M145.9 270.7h0.4M195.2 173.3h0.5M144.6 295.5h0.5M111 216.7h0.6M77.4 292h0.4M123.6 255.1h0.5M109.1 252.4h0.3M91.4 242h0.3M72.6 207.2h0.5M159.8 208.9h0.3M117.4 290.1h0.3M159.5 267.4h0.2M160.6 240.5h0.6M55.3 201.2h0.1M46.2 286.9h0.5M105.9 264.2h0.2M187.5 292.5h0.5M115.2 195.3h0.4M162.9 214.3h0.1M76.1 192.4h0.5M155.1 236.4h0.5M112.5 278.7h0.6M169.8 291.8h0.4M129.1 242h0.2M211.4 295.3h0.5M201.3 259.8h0.6M126.4 267.4h0.1M181.2 223.1h0.4M184.5 231.5h0.3M197.5 251.7h0.4M165.3 245.6h0.4M107.7 216h0.5M153.2 185.5h0.3M75.4 256.9h0.5M199.7 267.4h0.2M205.2 211.4h0.3M159.8 177.1h0.1M172.3 242.8h0.6M110.9 288.2h0.2M164.1 292.9h0.5M181.7 174.1h0.2M139.3 180.5h0.1M60.5 254.5h0.5M103.3 185.8h0.3M56.4 296.7h0.6M126.8 217.3h0.2M105.4 220h0.2M86 285.6h0.3M69.6 274.8h0.4M130.9 259.6h0.4M204.8 201.7h0.6M148.8 283.1h0.4M97.8 289.4h0.3M107.8 222.1h0.4M199.5 215.1h0.1M53.8 261.6h0.1M141.5 269h0.2M97.7 179.5h0.2M207.7 294.4h0.3M200 286.1h0.5M58.7 200.1h0.5M194.3 233.5h0.3M97.1 250h0.4M53.8 296.2h0.5M137.3 265.5h0.2M98.9 220.2h0.6M153.8 293.2h0.2M152.1 204.1h0.5M151.4 265.1h0.4M196.3 295.3h0.1M84.9 205.5h0.5M173.9 267.5h0.3M184 202.9h0.2M185.9 196.9h0.5M152.8 291.3h0.2M211.4 221.9h0.2M46.9 281.1h0.5M102.7 262.5h0.5M139 248.2h0.5M117.7 178.5h0.1M123.7 290.8h0.3M198.3 275.1h0.3M81.1 295.2h0.1M64.5 194.8h0.4M75.7 285.3h0.2M139.5 253.5h0.4M85.9 229.3h0.3M68.4 215.5h0.1M198.5 278.5h0.1M163.5 191.8h0.5M195.3 288.7h0.5M177.2 173.3h0.6M80.3 225.5h0.3M68 231.7h0.4M117.5 245.1h0.5M129.5 293.3h0.5M48.7 281.5h0.5M57 215.6h0.5M137.9 203h0.2M72.2 200h0.2M90.7 183.1h0.5M129.1 293.8h0.4M196.4 258.8h0.3M185.7 241.5h0.6M134.5 237.6h0.3M53.4 197.6h0.2M135.1 218.9h0.3M206.3 213.8h0.1M96 177.1h0.4M199.9 233.4h0.2M65.6 189.8h0.6M59.2 218h0.2M125.8 247.2h0.5M96.7 207.4h0.3M118.1 272.8h0.5M204.8 272.3h0.5M57.1 202.4h0.4M173.1 214.8h0.2M134.1 280.1h0.3M207.5 266.5h0.6M105.1 177.1h0.2M49.1 283.1h0.2M160.9 295.5h0.4M119.5 248.8h0.4M176.8 295.7h0.2M193.1 179.8h0.4M86.1 226.2h0.6M133.6 253h0.5M48.4 250.7h0.3M130.4 222.4h0.2M181.3 294.4h0.5M200.8 283h0.1M178.4 261.9h0.4M67 279.9h0.1M135.2 223.8h0.4M208.8 269.4h0.4M65.4 286h0.6M87.5 273h0.3M137 227h0.6M111.9 278.1h0.5M149.6 237.2h0.3M59.7 229.4h0.1M47.3 230.1h0.5M129.2 289.1h0.3M177.9 203h0.6M82.2 180.2h0.3M99.8 205.9h0.3M139.1 293.4h0.4M49.9 211.6h0.4M54.4 273.6h0.3M109.7 214.1h0.2M103.4 240.9h0.4M56.1 173.4h0.4M168.5 292.5h0.5M90.7 227.3h0.4M120.8 232.7h0.5M169.5 237.9h0.5M118.9 174.2h0.2M84.7 197.8h0.3M155.5 261.6h0.3M143.9 182.7h0.4M115.2 225.2h0.5M191.2 201.8h0.6M206 276.3h0.4M58.4 194h0.5M102.6 220.7h0.6M105.9 196.4h0.5M127.1 246.1h0.2M124.5 291.3h0.6M94.8 198.4h0.6M174.9 251.3h0.4M120.9 276.7h0.6M181.2 241.9h0.6M141.5 217.5h0.4M55.5 295.5h0.5M142 206.8h0.1M130.2 229.3h0.5M78.5 211.2h0.1M53.6 210.9h0.4M113.7 290h0.3M204.1 209.7h0.2M95.1 208.4h0.1M76.5 185.1h0.4M167.2 174.9h0.6M122.6 225.3h0.3M182.8 188h0.3M165.4 248.2h0.5M89.1 233.4h0.2M171.5 289h0.5M181.8 250.3h0.4M148.6 267.6h0.1M134.4 288.1h0.5M200.1 190.7h0.5M73 292.9h0.6M198.9 206.6h0.5M191.4 212.5h0.4M133.3 271.4h0.2M150.4 251.4h0.6M127.9 248.5h0.6M187.2 273.9h0.3M142.9 272.7h0.4M190.5 271.7h0.6M117.2 195.5h0.5M111 186.8h0.4M135.2 202.3h0.2M171.3 239.5h0.4M184.2 202.4h0.4M126.5 184.1h0.2M200.2 284.7h0.4M67.6 269.5h0.2M92.8 265h0.4M68.5 284.9h0.5M164.6 219.7h0.2M98.8 221.3h0.4M161.8 197.8h0.1M57.2 232.7h0.5M81.1 209.9h0.4M113.8 259.5h0.1M77.6 284.1h0.3M76.8 212.7h0.5M111.5 214h0.2M92.7 263.1h0.5M72 186.9h0.3M74.1 233.7h0.2M68.2 249h0.4M184.8 208.6h0.5M60.9 195.1h0.4M62.5 286h0.4M202.4 213.7h0.4M159.1 245.9h0.3M97.4 173.3h0.5M88.5 188.4h0.4M165.4 185.2h0.5M164.8 176.2h0.2M189.3 242h0.3M67.7 235.4h0.2M67.7 219.4h0.5M77.8 204.8h0.2M153.8 204.5h0.4M127.2 194.5h0.4M74.7 250.5h0.6M155.8 290.3h0.5M88.9 218.1h0.2M191.8 230.5h0.2M78.2 232.5h0.6M91 274.6h0.1M182.3 195.8h0.6M48.1 225.7h0.2M97.9 194.6h0.3M124.2 289.8h0.6M206.2 259.6h0.2M151.1 181h0.3M95.3 207.8h0.4M152.6 214.5h0.2M189.8 223.4h0.5M161.7 216.8h0.2M172.5 253.1h0.4M189 294.5h0.4M69.2 216.2h0.2M81 182h0.5M187.6 222.1h0.5M124.2 251.1h0.5M93.1 265.1h0.4M90.8 215.1h0.2M166.7 276.8h0.6M90.2 263.3h0.2M197.2 184.7h0.4M162.7 286.5h0.1M188.1 194.7h0.4M62.3 256.8h0.2M178.5 224.4h0.1M177 212.3h0.3M153.5 223.7h0.3M54.2 293.6h0.4M98 252.8h0.2M208.3 179.3h0.2M94.5 222.1h0.5M209.2 196.6h0.2M111.1 234.1h0.6M179.5 216h0.3M148.4 205.6h0.3M123.7 230.8h0.3M65.1 197.9h0.4M97.1 204.8h0.6M53.4 246.1h0.3M181.8 251.4h0.6M87.7 184.3h0.4M98.2 186.1h0.5M141.7 267.9h0.6M93.3 293.8h0.4M91.8 274.8h0.2M135.6 217h0.6M190.2 285.9h0.5M200.7 288h0.6M69.2 202.6h0.6M187.5 262.6h0.2M59.1 177.7h0.2M194.3 286.8h0.5M92.1 218.5h0.3M73.8 254.1h0.6M66.4 233.8h0.2M97.2 189.7h0.6M106.8 260.1h0.5M58.6 291.7h0.4M154.4 217.4h0.5M191.3 189.4h0.2" fill="none" stroke="#5f7fc6" stroke-width="1.6" stroke-linecap="round" opacity="0.85"/>
<path d="M91.2 215Q92.1 220.9 90.7 226.5Q89.3 232.1 86.3 236.8Q83.2 241.4 78.4 242.6Q73.5 243.8 68.9 243.7Q64.3 243.5 59.3 242.6Q54.2 241.8 50.4 237.4Q46.7 233 45.5 227Q44.2 220.9 46.3 215.3Q48.4 209.6 52.5 206.5Q56.5 203.3 60.3 200.3Q64.1 197.2 69.1 196.1Q74 195.1 78.6 197.8Q83.1 200.5 86.7 204.8Q90.2 209.2 91.2 215Z" fill="none" stroke="#bf9f6c" stroke-width="2.6" opacity="0.55"/>
<path d="M89.6 215.4Q90.5 220.9 89.2 226.1Q87.9 231.4 85.1 235.8Q82.3 240.2 77.7 241.3Q73.1 242.5 68.9 242.3Q64.6 242.1 59.9 241.3Q55.2 240.5 51.7 236.4Q48.2 232.3 47.1 226.6Q45.9 220.9 47.8 215.6Q49.8 210.3 53.6 207.3Q57.4 204.4 60.9 201.5Q64.4 198.7 69.1 197.6Q73.7 196.6 77.9 199.2Q82.2 201.7 85.5 205.8Q88.8 209.9 89.6 215.4Z" fill="#d5d9e4" stroke="#6c8ad0" stroke-width="2.2" stroke-dasharray="2 1.1"/>
<path d="M141.1 178.4Q141.9 180.9 140.9 183.4Q139.8 185.8 138.1 188Q136.4 190.1 133.7 191.4Q130.9 192.7 127.7 192.9Q124.5 193.2 121.2 192.4Q117.8 191.5 116.4 188.9Q114.9 186.2 115.1 183.6Q115.3 180.9 115.6 178.5Q116 176.1 117.6 173.9Q119.1 171.7 121.8 170Q124.4 168.2 127.8 168.1Q131.3 168 133.9 169.8Q136.5 171.7 138.4 173.7Q140.3 175.8 141.1 178.4Z" fill="none" stroke="#bf9f6c" stroke-width="2.6" opacity="0.55"/>
<path d="M139.7 178.7Q140.4 180.9 139.4 183.1Q138.5 185.2 137 187.1Q135.5 188.9 133 190Q130.6 191.1 127.7 191.4Q124.9 191.6 121.9 190.9Q118.9 190.2 117.6 187.8Q116.3 185.5 116.5 183.2Q116.6 180.9 117 178.8Q117.3 176.7 118.7 174.8Q120.1 172.9 122.4 171.4Q124.8 169.9 127.8 169.8Q130.9 169.6 133.2 171.3Q135.5 172.9 137.2 174.7Q138.9 176.5 139.7 178.7Z" fill="#d5d9e4" stroke="#6c8ad0" stroke-width="2.2" stroke-dasharray="2 1.1"/>
<path d="M177 198.1Q179 200.9 178.1 204.2Q177.3 207.5 174.8 209.9Q172.3 212.3 169.1 213.6Q166 214.9 162.6 214.4Q159.3 214 156.3 212.9Q153.2 211.7 151.1 209.3Q149 206.9 148.7 203.9Q148.3 200.9 148.2 197.7Q148.2 194.5 150.1 191.5Q152 188.6 155.5 187.6Q159 186.5 162.4 186.9Q165.8 187.4 168.4 189.3Q170.9 191.1 173 193.2Q175.1 195.3 177 198.1Z" fill="none" stroke="#bf9f6c" stroke-width="2.6" opacity="0.55"/>
<path d="M175.5 198.4Q177.3 200.9 176.5 203.8Q175.8 206.8 173.6 208.9Q171.3 211 168.5 212.2Q165.6 213.3 162.6 212.9Q159.6 212.6 156.9 211.5Q154.2 210.5 152.3 208.4Q150.4 206.3 150.1 203.6Q149.7 200.9 149.7 198Q149.7 195.2 151.4 192.6Q153.1 190 156.2 189Q159.4 188.1 162.4 188.5Q165.5 188.9 167.8 190.5Q170 192.2 171.9 194.1Q173.8 195.9 175.5 198.4Z" fill="#d5d9e4" stroke="#6c8ad0" stroke-width="2.2" stroke-dasharray="2 1.1"/>
<path d="M205.7 220Q206.5 223 205.7 225.9Q204.8 228.8 202.9 231.4Q201 233.9 198 236.3Q195 238.6 191 238.3Q187 238 184.1 235.8Q181.3 233.5 179.4 231.1Q177.5 228.6 176.8 225.8Q176.1 223 176.1 219.9Q176.1 216.7 177.9 213.8Q179.8 210.8 183.5 209.9Q187.3 209 190.9 209Q194.6 209 198 210.3Q201.4 211.6 203.2 214.4Q205 217.1 205.7 220Z" fill="none" stroke="#bf9f6c" stroke-width="2.6" opacity="0.55"/>
<path d="M204.3 220.4Q205 223 204.3 225.6Q203.5 228.2 201.8 230.4Q200 232.7 197.3 234.8Q194.7 236.9 191 236.6Q187.4 236.3 184.8 234.4Q182.2 232.4 180.5 230.2Q178.8 228 178.1 225.5Q177.5 223 177.5 220.2Q177.5 217.4 179.2 214.8Q180.9 212.2 184.2 211.3Q187.6 210.5 190.9 210.5Q194.3 210.6 197.3 211.7Q200.4 212.9 202 215.3Q203.6 217.7 204.3 220.4Z" fill="#d5d9e4" stroke="#6c8ad0" stroke-width="2.2" stroke-dasharray="2 1.1"/>
<path d="M202.2 198.2Q203 199.8 203 201.7Q203.1 203.6 201.5 205.1Q199.9 206.6 197.5 206.9Q195.2 207.1 193.1 207.1Q190.9 207.1 189 206.5Q187 205.8 185.7 204.5Q184.4 203.1 183.6 201.5Q182.9 199.8 183.4 198.1Q184 196.4 185.3 194.9Q186.6 193.4 188.6 192.4Q190.6 191.4 192.9 191.9Q195.2 192.4 196.9 193.4Q198.6 194.4 200 195.5Q201.4 196.7 202.2 198.2Z" fill="none" stroke="#bf9f6c" stroke-width="2.6" opacity="0.55"/>
<path d="M200.8 198.6Q201.4 199.8 201.5 201.4Q201.5 202.9 200.2 204.1Q198.8 205.3 196.8 205.5Q194.8 205.7 193.1 205.7Q191.3 205.7 189.6 205.2Q188 204.6 186.9 203.5Q185.8 202.5 185.1 201.2Q184.5 199.8 184.9 198.5Q185.4 197.1 186.5 195.9Q187.6 194.7 189.3 193.9Q191 193.1 192.9 193.5Q194.9 193.8 196.3 194.7Q197.7 195.5 198.9 196.4Q200.1 197.3 200.8 198.6Z" fill="#d5d9e4" stroke="#6c8ad0" stroke-width="2.2" stroke-dasharray="2 1.1"/>
<path d="M168.4 237.2Q169.5 241.9 169.3 247.2Q169.1 252.5 166.7 257.1Q164.3 261.7 160.4 264.6Q156.5 267.4 152.3 266Q148 264.5 145.1 261.2Q142.1 257.8 139.2 254.7Q136.3 251.6 134.8 246.8Q133.3 241.9 133.9 236.5Q134.5 231.1 137.1 226.6Q139.7 222.1 143.8 220.7Q148 219.3 152 219.2Q156 219.2 159.8 221.2Q163.6 223.2 165.4 227.8Q167.3 232.5 168.4 237.2Z" fill="none" stroke="#bf9f6c" stroke-width="2.6" opacity="0.55"/>
<path d="M167 237.5Q168 241.9 167.8 246.8Q167.7 251.8 165.5 256.1Q163.2 260.4 159.7 263.1Q156.2 265.8 152.2 264.4Q148.3 263 145.6 259.9Q143 256.8 140.3 253.9Q137.6 251 136.2 246.5Q134.8 241.9 135.4 236.8Q136 231.8 138.3 227.6Q140.7 223.4 144.5 222.1Q148.3 220.8 152 220.7Q155.7 220.7 159.2 222.6Q162.6 224.5 164.3 228.8Q166 233.1 167 237.5Z" fill="#d5d9e4" stroke="#6c8ad0" stroke-width="2.2" stroke-dasharray="2 1.1"/>
<path d="M121 263.5Q121.8 269.2 120.4 274.6Q119 279.9 116.7 284.1Q114.5 288.3 111.6 292.8Q108.8 297.3 104.6 297.8Q100.3 298.4 96.9 294.7Q93.4 291.1 91.4 285.8Q89.4 280.6 89.3 274.9Q89.3 269.2 89.5 263.7Q89.8 258.2 91.5 252.7Q93.2 247.1 97 244.9Q100.7 242.8 104.7 242.6Q108.6 242.4 112.3 244.8Q116 247.2 118.1 252.5Q120.2 257.7 121 263.5Z" fill="none" stroke="#bf9f6c" stroke-width="2.6" opacity="0.55"/>
<path d="M119.5 263.8Q120.2 269.2 119 274.3Q117.7 279.3 115.7 283.2Q113.6 287.2 111 291.4Q108.4 295.7 104.6 296.2Q100.7 296.7 97.6 293.3Q94.4 289.8 92.6 284.9Q90.8 279.9 90.7 274.6Q90.7 269.2 90.9 264.1Q91.1 258.9 92.7 253.6Q94.2 248.4 97.7 246.4Q101.1 244.3 104.7 244.1Q108.3 244 111.6 246.2Q115 248.5 116.9 253.4Q118.8 258.3 119.5 263.8Z" fill="#d5d9e4" stroke="#6c8ad0" stroke-width="2.2" stroke-dasharray="2 1.1"/>
<path d="M168.8 281.3Q170.8 284 170.5 287.2Q170.3 290.4 167.2 292.9Q164.2 295.4 160 297Q155.8 298.6 151.1 298.2Q146.4 297.8 142.3 296.4Q138.3 294.9 135.3 292.5Q132.4 290.2 132.4 287.1Q132.3 284 133 281.1Q133.6 278.2 135.5 275.2Q137.3 272.2 141.7 270.5Q146 268.9 150.9 269Q155.9 269.1 159.6 271.2Q163.3 273.3 165.1 276Q166.8 278.7 168.8 281.3Z" fill="none" stroke="#bf9f6c" stroke-width="2.6" opacity="0.55"/>
<path d="M167.5 281.6Q169.3 284 169.1 286.8Q168.8 289.7 166 291.9Q163.2 294.2 159.3 295.6Q155.4 297 151.1 296.6Q146.7 296.3 143 295Q139.3 293.7 136.5 291.6Q133.8 289.5 133.8 286.7Q133.7 284 134.3 281.4Q134.9 278.8 136.6 276.1Q138.4 273.5 142.4 272Q146.4 270.6 150.9 270.7Q155.5 270.7 158.9 272.6Q162.3 274.5 164 276.9Q165.6 279.3 167.5 281.6Z" fill="#d5d9e4" stroke="#6c8ad0" stroke-width="2.2" stroke-dasharray="2 1.1"/>
<path d="M215.2 256.4Q215.8 260.8 215.6 265.7Q215.5 270.6 213.6 273.9Q211.6 277.2 209.3 278.4Q206.9 279.7 204.7 279.4Q202.4 279.1 200.3 277.3Q198.3 275.6 196.1 273Q193.9 270.4 193 265.6Q192.1 260.8 193.4 256.4Q194.6 251.9 196.3 248.6Q198 245.4 200.2 243.8Q202.3 242.1 204.6 242Q207 241.9 209.3 243.1Q211.7 244.3 213.2 248.1Q214.6 252 215.2 256.4Z" fill="none" stroke="#bf9f6c" stroke-width="2.6" opacity="0.55"/>
<path d="M213.7 256.7Q214.2 260.8 214.1 265.3Q214 269.8 212.3 272.9Q210.7 275.9 208.6 277.1Q206.6 278.2 204.7 278Q202.7 277.7 200.9 276.1Q199.2 274.5 197.3 272.1Q195.4 269.7 194.7 265.3Q193.9 260.8 195 256.7Q196 252.6 197.5 249.6Q198.9 246.6 200.8 245.1Q202.7 243.6 204.6 243.4Q206.6 243.3 208.7 244.4Q210.7 245.6 211.9 249.1Q213.2 252.6 213.7 256.7Z" fill="#d5d9e4" stroke="#6c8ad0" stroke-width="2.2" stroke-dasharray="2 1.1"/>
<path d="M203.6 179.6Q203.7 180.9 203.6 182.2Q203.4 183.5 199.8 184.7Q196.1 185.9 189.9 186.7Q183.8 187.5 176.2 187.5Q168.7 187.5 162.9 186.6Q157.1 185.7 152.4 184.7Q147.7 183.7 146.3 182.3Q144.8 180.9 147.4 179.7Q150.1 178.4 153.6 177.3Q157.2 176.1 163.1 175.4Q169 174.6 176.4 174.5Q183.8 174.3 190.9 174.9Q198.1 175.4 200.8 176.9Q203.4 178.3 203.6 179.6Z" fill="#d5d9e4" opacity="0.9"/>
<path d="M63.2 178.5Q64.3 180.9 63.5 183.5Q62.7 186.1 61.2 188.3Q59.6 190.4 57.3 191.9Q54.9 193.4 52.1 193.3Q49.2 193.1 46.7 191.9Q44.2 190.7 43 188.2Q41.8 185.8 41.7 183.4Q41.6 180.9 41.3 178.3Q41.1 175.6 42.4 173.1Q43.8 170.6 46.4 169.4Q49.1 168.2 52 168.5Q54.8 168.7 56.9 170.5Q58.9 172.3 60.5 174.1Q62.1 176 63.2 178.5Z" fill="none" stroke="#bf9f6c" stroke-width="2.6" opacity="0.55"/>
<path d="M61.8 178.8Q62.7 180.9 62 183.2Q61.3 185.4 60 187.3Q58.6 189.2 56.6 190.5Q54.5 191.8 52 191.7Q49.6 191.5 47.4 190.5Q45.2 189.4 44.2 187.3Q43.2 185.2 43 183Q42.9 180.9 42.7 178.6Q42.5 176.3 43.7 174.1Q44.8 171.9 47.2 170.9Q49.5 169.9 52 170.1Q54.4 170.3 56.2 171.8Q58 173.4 59.4 175Q60.8 176.7 61.8 178.8Z" fill="#d5d9e4" stroke="#6c8ad0" stroke-width="2.2" stroke-dasharray="2 1.1"/>
<path d="M87.6 288.5Q88.9 290.3 87.6 292Q86.3 293.8 83.9 295Q81.5 296.1 78.9 297Q76.2 297.9 73.1 297.8Q70 297.7 67.3 296.9Q64.6 296.1 62.5 294.9Q60.3 293.7 59.5 292Q58.7 290.3 58.9 288.4Q59 286.5 61.3 285.1Q63.5 283.6 66.8 283.4Q70.2 283.3 73 283.3Q75.9 283.4 78.7 283.9Q81.5 284.4 83.9 285.6Q86.2 286.8 87.6 288.5Z" fill="none" stroke="#bf9f6c" stroke-width="2.6" opacity="0.55"/>
<path d="M86 288.9Q87.2 290.3 86 291.7Q84.8 293.1 82.7 294Q80.6 295 78.2 295.7Q75.9 296.4 73.1 296.3Q70.4 296.2 68 295.6Q65.6 295 63.6 294Q61.7 293 61 291.6Q60.3 290.3 60.4 288.8Q60.6 287.3 62.6 286.1Q64.5 284.9 67.5 284.8Q70.5 284.6 73 284.7Q75.6 284.8 78.1 285.2Q80.6 285.6 82.7 286.5Q84.8 287.5 86 288.9Z" fill="#d5d9e4" stroke="#6c8ad0" stroke-width="2.2" stroke-dasharray="2 1.1"/>
<path d="M55.8 266.2Q56.4 269.2 55.8 272.4Q55.3 275.6 54.4 278Q53.5 280.3 52.3 281.6Q51.2 282.8 49.9 282.6Q48.7 282.3 47.5 281.3Q46.3 280.2 45.6 277.7Q44.9 275.2 44.6 272.2Q44.3 269.2 44.2 265.9Q44.2 262.5 45.1 259.9Q46 257.2 47.3 256.5Q48.7 255.8 49.9 256.1Q51.1 256.5 52.1 258Q53.1 259.4 54.1 261.2Q55.1 263.1 55.8 266.2Z" fill="none" stroke="#bf9f6c" stroke-width="2.6" opacity="0.55"/>
<path d="M54.2 266.5Q54.6 269.2 54.2 272.1Q53.9 274.9 53.2 277Q52.5 279.1 51.7 280.2Q50.8 281.3 49.9 281.1Q49 280.9 48.2 279.9Q47.3 279 46.8 276.8Q46.2 274.6 46 271.9Q45.8 269.2 45.8 266.2Q45.7 263.2 46.4 260.9Q47.1 258.6 48 257.9Q49 257.2 49.9 257.6Q50.8 257.9 51.5 259.2Q52.2 260.5 53 262.1Q53.7 263.7 54.2 266.5Z" fill="#d5d9e4" stroke="#6c8ad0" stroke-width="2.2" stroke-dasharray="2 1.1"/>
</g></g>
<clipPath id="clipA3"><rect x="224" y="172.5" width="166" height="124.3"/></clipPath>
<g clip-path="url(#clipA3)">
<rect x="224" y="172.5" width="166" height="124.3" fill="#e0dcd3"/>
<g filter="url(#soft)">
<rect x="224" y="172.5" width="166" height="124.3" fill="#e0dcd2"/>
<rect x="224" y="172.5" width="166" height="124.3" filter="url(#tx3)" opacity="0.3"/>
<rect x="224" y="172.5" width="166" height="124.3" filter="url(#tb3)" opacity="0.7"/>
<path d="M388.4 177.6q1.8 1.9 5 1.6M385.3 234.8q-0.9 4 2.3 7.9M384.9 210.4q3 1.4 6.6 -0.4M288.9 256q3.2 -2.2 3.5 -6.9M352 264.1q5.2 -0.2 9.1 -5.3M334 233.9q-2.1 -4.9 -8.5 -6.5M388.3 296.8q3.9 -3.6 3.3 -10M383.6 267.9q3.3 2.4 8.2 1.1M249 252.7q-0.2 5.9 5.4 10.5M341.8 181.1q1.8 2.3 5.3 2.2M321.4 289.9q-5.1 1.7 -7.4 7.9M298.8 242.1q-2.3 2.6 -1.6 6.7M262.9 296q0.1 3.4 3.4 5.9M333.4 276.9q-1.3 -5.8 -7.9 -8.9M282.8 198q0.4 3.9 4.5 6.5M286.7 280q2.9 2.5 7.6 1.7M225.5 187.7q3 0.9 6.2 -1.4M341.9 255.5q0.4 -2.1 -1.3 -4.1M318 242.9q-3 -0.5 -5.7 2M305.4 259.1q0.4 2.5 3.1 3.9M368.1 225.6q1.4 -4.6 -1.9 -9.5M299.7 190.3q-1.5 -2.7 -5.1 -3.3M253.8 230.8q2.9 -1.6 3.6 -5.6M343.1 233.3q2.9 1.5 6.5 -0.2M301.1 201.6q2.8 1.5 6.3 -0.1M316.3 226.8q-2.6 -0.8 -5.4 1.2M353.8 175.7q-4.8 -1.6 -10 1.7M285.4 233q3.7 -3.2 3.5 -9.2M366.1 245.9q5.9 0.3 10.6 -5.1M268.8 208.4q-2.5 -1.6 -6 -0.4M351.1 240.4q2.6 2.1 6.7 1.2M285.3 255.9q2.7 4.1 8.6 4.6M296.2 173.9q2.8 0.4 5.4 -2M263.3 216.4q2.6 0 4.5 -2.4M368.8 240q-0.8 -2 -3.4 -2.7M312.2 180.8q5.5 0.8 10.5 -3.9M331.3 249.6q1.1 -2 0 -4.5M296.7 268.1q-3 2.2 -3.1 6.7M361.4 232.5q2.4 -1.2 3 -4.4M278 282.4q-2.1 -0.4 -4.1 1.3M246.5 251.9q1.8 -3.6 -0.2 -8M384.7 247.4q-4.3 -4.1 -11.6 -3M361.9 247.5q-3.2 3.9 -1.8 10M315.2 225.1q5.4 0.9 10.4 -3.5M270.8 217.8q2.7 3.9 8.5 4.2M260.2 234.1q4.1 -4.2 3.2 -11.4M280 184.9q0.7 3.3 4.4 5.2M386.3 237.8q4.3 -1.7 5.9 -7M225.5 184.5q-5.2 1.3 -7.9 7.4M258.4 285.1q3.8 -3.2 3.6 -9.4M389 264.1q3.8 -2.9 3.9 -8.7M280 233.5q2.2 -1.3 2.7 -4.4M225.7 259.7q-3.5 -3.1 -9 -2.1M236.7 235.8q0.9 2.5 3.9 3.6M355 242.2q0.3 2 2.5 3.2M313.8 284.6q-2.3 0.6 -3.4 3.3M275.5 252.4q5.2 1.5 10.6 -2.3M389.4 192.2q-3.4 -0.3 -6.3 2.7M284.6 278.5q3.3 3.7 9.3 3.3M328.3 279.3q3.2 2.6 8.2 1.5M246.2 254.9q3.7 3.1 9.4 2M343.4 268.2q1.5 -3.6 -0.8 -7.8M360.6 270q5 -3 6 -10.1M312.6 291q-3 0.4 -4.9 3.6M248.2 189.8q3.6 2 8.1 0.1M299.7 293.1q4.1 -3.3 4 -9.8M369.5 291.6q-1.4 3.7 1.1 7.8M356.6 260.5q5.2 -0.2 8.9 -5.2M307.6 202.9q4.2 1.9 9.2 -0.7M267.9 276.4q2.7 -0.3 4.5 -3.1M253.3 263.4q-4 -0.9 -7.8 2.3M241.6 204.3q-3 -4.8 -9.8 -5.5M327 265.5q0.1 4.4 4.4 7.6M291.7 196q-3.2 -2.3 -7.9 -1M265.4 283q0.6 -3.3 -2.1 -6.4M317.9 241.9q1.6 3.7 6.3 4.9M273.3 176.8q3.2 0 5.6 -3M321.1 214q-3.1 -3.7 -9 -3.6M269.6 207q-1.1 2.6 0.5 5.7M294.6 240.6q-2.7 -3.6 -8.1 -3.7M258.4 186.5q3.2 1.5 6.9 -0.4M261.8 213q2.7 1.6 6.2 0.3M357.1 176q5.2 -0.3 8.9 -5.6M227.7 285.3q1 -2.5 -0.8 -5.4M291.4 215.2q-1.2 -3.9 -5.8 -5.8M276.9 201.6q1.5 5.5 8 8.2M349.4 175.7q0 4.2 4 7.4M253.5 181.6q3.7 2.7 9.1 1.2M355.5 210.8q-2 -2.1 -5.5 -1.9M265.6 272.8q-4.1 0.4 -6.8 4.6M349.5 224.7q-1.3 -3.6 -5.7 -5.1M234 248.5q-1.4 2.5 -0.1 5.7M361 210.5q3.4 3.3 9.2 2.6M299.5 208.2q-5.4 2.2 -7.4 9M247.2 192.6q-1.4 4.3 1.7 8.9M247.3 271.8q-3.4 3.5 -2.6 9.3M345.2 207.1q-3.3 1.4 -4.5 5.5M312.2 249q-2.8 -1 -5.9 0.9M348.5 204q2.6 3 7.3 2.7M315.1 195.8q-2.1 3.5 -0.3 8.3M263.4 211.9q0.7 -2.6 -1.3 -5.1M274.3 174.5q-3.9 -2.5 -9.2 -0.7M310.5 293.7q0.2 -5.4 -4.9 -9.6M241.3 236.7q0.4 -2.3 -1.4 -4.4M344.1 242.2q1.8 1.3 4.4 0.6M317.2 261q-2.4 1.1 -3.1 4.2M376.4 232q1.7 4.9 7.8 7M350.5 209.7q-4.8 -0.2 -8.6 4.2M370.7 182.3q-2.8 2.4 -2.7 6.9M329.6 229.5q2.4 -1.7 2.5 -5.2M385 205.8q2 1.1 4.6 0M270.8 220.8q-3.8 1.6 -5.2 6.5M265.8 265.4q-1.2 -4.5 -6.3 -6.7M316 185.6q-0.7 3.7 2.4 7.2M226.4 173.9q-3.8 1.8 -5 6.8M365.6 258.3q3.4 3.9 9.7 3.7M313.9 264.6q-2.4 -1.5 -5.7 -0.3M352.8 225.9q3.9 -3.8 3.2 -10.4M311.4 241.7q-1.7 -1.4 -4.3 -0.9M343.6 207.7q-1.3 -3.2 -5.4 -4.4M320.2 276.6q2.6 3.2 7.7 3.1M278.1 243.2q-4.2 -3 -10.2 -1.3M242.1 216.5q5 1.7 10.3 -1.8M323.7 295.3q4.2 0.4 7.8 -3.4M324.5 233.7q-5.1 -1.9 -10.7 1.5M233.5 248.3q-2.4 3.1 -1.3 7.7M330.5 231.7q5 -1.7 7.1 -7.9M256.3 194.9q-4.1 4 -3.4 10.9M263 211.5q-0.9 2.7 0.9 5.6M248.4 236.6q2.5 -2.2 2.4 -6.2M356.6 241.9q-2.2 -0.9 -4.7 0.5M377.6 178.6q0.1 3.7 3.6 6.4M389.7 184.6q-5.2 1.4 -7.8 7.6M262.1 234.7q2.5 0.4 4.8 -1.7M387.1 197q2.4 -2.7 1.6 -7M339.7 228.9q-1.6 4.8 1.8 10M378.8 225.4q-1 -3.8 -5.4 -5.7M327.7 257.4q-4.3 1.1 -6.4 6.1M261.3 250.6q2.5 2.7 7 2.4M332.5 275.7q-1.4 -1.8 -4.3 -1.9M317.9 186.4q-1.4 3.1 0.6 6.7M304.7 277.1q0.5 2.2 3 3.3M294.8 228.7q-1.9 -4.9 -8.1 -6.9M230.1 247q3.5 0 6.2 -3.4M290.4 264.3q-1 3.9 1.9 7.8M387.1 223.8q-2.8 -1.4 -6.2 0.2M299.3 282.6q-1.3 -3.9 -6 -5.6M336.4 205.9q4.5 0.4 8.3 -3.6M343.3 249.5q1.3 -3.6 -1.2 -7.5M339.1 290.9q4 -0.4 6.6 -4.6M253.8 259q3.6 1.2 7.4 -1.3M310.8 210.2q5.6 -1.4 8.6 -7.9M346.4 220.8q5.2 -1.8 7.5 -8.1M273.7 242.3q4.9 -3.2 5.5 -10.3M368.2 234.9q-2.1 -0.3 -4.1 1.5M366.3 176.6q1.7 2.4 5.2 2.6M303.4 231.9q-1.3 4.4 2 9M366.8 273.4q3.1 -2.3 3.2 -7.1M354.3 290.8q0.5 -5.2 -4.2 -9.6M325 207.7q1 -3.8 -1.8 -7.6M378.6 226.5q1.7 -2.1 0.9 -5.3M306 288.8q-2 1.1 -2.4 3.8M356.9 175.7q-2.7 4.4 -0.6 10.3M272.5 188.4q3.4 2.3 8.1 0.8M236 194.2q3.6 -0.8 5.5 -4.9M233.1 173.6q-2.5 -2 -6.3 -1M239.8 204.1q-2.5 3.2 -1.4 8.1M386.3 220.5q4.5 -2.2 5.9 -8.1M357 233.4q4.4 2.3 9.9 -0.1M308.7 172.6q4.4 -0.5 7.3 -5.2M366.2 237.7q-3.7 0.5 -5.9 4.5M271.8 189.5q-1.7 4.9 1.6 10.2M279.1 264.3q-1.8 -5.6 -8.6 -8.1M285.9 288.3q4.5 1.2 9.1 -2.2M368.9 182.9q1 -2.5 -0.7 -5.3M388 264.4q-1.4 3.4 0.8 7.2M288 178.3q-3.3 1.9 -4.1 6.5M250.1 288.8q-4.1 3.4 -3.9 9.9M284.2 189.2q3.8 0.7 7.3 -2.4M384.9 251.7q-2.8 -1.4 -6.2 0.2M377.7 227.4q-1.1 2.8 0.8 6.1M349.4 179.1q5.1 -0.3 8.6 -5.5M270.3 273.4q-4.9 2.1 -6.6 8.4M236.9 210q-2.4 -0.3 -4.4 1.8M287.2 172.9q-5.9 -0.3 -10.7 5.2M378.4 283.1q4.8 -0.1 8.3 -4.8M240 235.5q1.3 3 5.3 4M277.9 238.5q1.3 2.2 4.3 2.6M313.4 233.2q-1.5 -5.1 -7.4 -7.5M354.6 264.4q0.4 -5.6 -4.6 -10.2M315.7 186.4q3.4 -4.2 2 -10.7M264.8 221.1q1.8 4.3 7.4 5.8M373.3 214.8q-2.9 -0.2 -5.2 2.5M290.1 203.7q-0.9 -2.9 -4.3 -4.2M353 196.1q-1.9 -1.5 -4.8 -0.7M292.7 211.5q3.4 -4.8 1.3 -11.7M365.2 194.3q2.6 2.7 7.2 2.4M323.3 279q-2.2 1.8 -2.1 5.2M249.6 243.6q2.9 5.1 10 6.2M259 288.4q-0.4 -3.7 -4.3 -6.1M334.8 293.1q1.6 4 6.6 5.5M270.2 178.2q0.1 -2.1 -1.8 -3.9M324.2 209.5q3 -2.2 3.2 -6.8M307.2 224.6q2.3 -2.3 1.8 -6.2M276.3 227.7q-1.9 -2.9 -6.1 -3.4M369.3 174.3q-0.5 2.3 1.3 4.6M321.5 286.4q4.8 0.4 8.9 -3.9M314.1 177q-2.1 3.5 -0.3 8.1M326.3 275.7q-3.6 -2.3 -8.5 -0.6M312.2 193.9q-0.8 -3.7 -5 -5.8M333.7 185.2q-2.4 -4.4 -8.3 -5.4M329.9 278.5q1.3 3.1 5.3 4.2M292.4 202.5q0.7 -2.5 -1.1 -5M372.7 289.3q-0.7 -2.3 -3.5 -3.4M356.3 192.4q-0.5 4.2 3.1 7.8M310.6 292.1q-2.1 3.4 -0.3 8M373 284.3q1.4 -3.6 -0.9 -7.7M347.4 210.9q-2 0.6 -3 3M280.8 205.6q1.2 -1.7 0.4 -4M291 292.6q2.6 -4.3 0.5 -10M309.7 243.4q2.7 0.8 5.5 -1.2M338.2 194.3q-2.1 1.3 -2.4 4.3M366.5 176.2q2.4 -3.7 0.7 -8.9M349.7 273.2q-5.1 1 -8 6.6M247.7 182.6q2.1 -1.9 1.9 -5.3M269 206.7q3.4 4 9.8 3.8M312.3 207q-3.1 -4.5 -9.8 -5M324.4 239.6q-3.3 -3.4 -9.1 -2.8M315.6 274.2q-4.9 -0.2 -8.8 4.3M248 240.4q5.2 0.2 9.4 -4.6M320.6 221.7q4.8 0.8 9.1 -3.2M382 254.5q-3.2 -0.7 -6.2 1.8M371.6 181.7q-0.8 -2.2 -3.6 -3M228.8 249.8q0.4 5.5 6 9.2M301.3 183.7q4.7 2.9 10.9 0.6M256.6 196.9q-4.4 -2.3 -10 0.2M320.6 216.3q-2.5 -1.7 -6.1 -0.5M228.1 194.7q0.7 -2 -0.6 -4.2M245.5 283.7q1.2 -4.2 -2 -8.5M250.6 202.3q-3 -0.3 -5.5 2.3M356.7 194.7q-0.9 -2.2 -3.6 -3.1M355.8 194.1q1.7 1.6 4.5 1.2M367.3 253.3q-4.1 -2 -9.2 0.4M295.3 179.8q-2.7 4.9 -0.1 11.3M241 206.6q4.8 2.7 11 0.1M261.4 174.9q2.3 1.4 5.3 0.2M276.3 294.1q3.3 0.2 5.9 -2.8M237.6 295.8q-1.3 3.6 1.1 7.5M383.6 256q5.7 -0.8 9.2 -6.8M358.1 263.2q4.7 3.3 11.3 1.3M287.5 188.4q0.3 -5.8 -5 -10.4M389.6 179.9q-1.1 4 2 8.1M249.5 201.1q-1.6 2.2 -0.6 5.4M349.2 228.6q-5.8 -1.3 -11.4 3.3M326.4 246.8q-1.9 2.9 -0.5 6.8M303.9 205.2q-1.6 2.4 -0.6 5.7M284.4 235.1q-4.4 -1 -8.8 2.4M231.3 289.7q0.7 -3.3 -2 -6.5M301.9 261.1q-4.4 -2.7 -10.3 -0.5M265.4 186.5q1.4 -3.9 -1.3 -8.1" fill="none" stroke="#c4a66c" stroke-width="1.1" opacity="0.75" stroke-linecap="round"/>
<path d="M285.3 229.6h1.4M278.2 250.3h1.4M281.8 235.4h0.6M385.1 235.2h0.8M369.2 296.4h1.4M340.9 267.5h0.7M379.7 181h1.1M316.9 219.6h1M276.7 221.8h1.2M247.8 200.4h0.2M225.2 240.9h0.4M286.8 218.6h1.1M305.9 208h0.9M381.8 213.8h1.3M379 281.8h0.5M266.6 293.3h1.3M234 258.8h0.3M297.5 246.7h1.1M258.4 247.2h1.4M375.9 210.2h0.4M380.4 261.4h1.2M309.2 184h1.2M307.2 265.7h1.1M306.2 290.3h1M247.9 282.7h1.3M366.4 296.6h1M264.7 239.3h1.1M294.9 250.2h0.9M344.1 267.1h0.4M329.8 199.1h1.4M239.3 178.1h1M342.8 179.2h0.8M379.5 225.9h0.2M228.5 253.4h0.2M257.3 179.9h1.4M380.6 290.1h0.8M310.3 284.9h1M278 204.3h1.4M368.4 224h0.6M325.5 219.3h1M309 177.4h0.4M363.6 189.5h0.3M288.7 187.4h1.4M257.7 289h0.7M316.8 181.3h1.4M366.8 238.8h0.6M317 292.3h0.4M268.8 215.8h0.4M327.5 216.5h1.3M357.8 243.1h0.6M225.9 253.6h0.2M304.8 286.7h0.9M224.5 278.2h1.2M383.4 284.4h1M269.1 275.8h0.2M369 294.4h0.9M295.5 178.2h0.7M327.3 181.7h0.7M254.6 261.3h0.8M255.4 191.7h0.1M304.7 255.7h1.2M381.7 211.7h0.9M292.4 233h1.3M248.2 259.4h0.3M318.1 235.9h0.9M257 243h0.7M263.4 254.8h0.7M241.9 194.2h0.5M317.9 238.3h0.6M342.7 212.9h1.4M382.6 236.2h1.2M330.1 214h1.4M229.6 276.5h0.7M338.1 214.6h0.4M387.7 262.5h0.7M359.5 217.1h1.3M295 185.9h0.6M278.5 285.8h0.9M307.1 259.4h0.4M334 257.4h1.2M263.8 247.2h0.1M356.6 206.8h0.5M351 250.1h0.3M231.3 224.8h0.7M336.6 281.3h0.1M279.5 205h0.5M294.4 198.6h0.5M271.4 267.9h0.8M353.2 285.6h0.3M260.8 284.5h1.5M357.5 282.4h0.5M309.3 280.6h1.4M369 284h0.2M325.4 184.6h1.1M349.2 277.7h0.5M385.7 274.2h0.7M285.1 253.1h0.9M389.7 177.1h0.9M256.9 267.5h0.6M373.1 193h0.6M310.9 246.6h0.1M341.2 238.4h1.4M372.1 190.7h0.1M247.5 220h0.5M283.3 245.5h0.9M238 261.6h1.4M337.9 213.8h1.5M319.1 191.2h1.5M364.4 197h0.2M299.5 180.7h0.5M372.6 249h0.2M283.6 190.1h0.9M257.2 284.9h0.5M369.7 173.2h0.2M267.7 174.8h1.4M308.6 172.8h1.1M264.4 234.9h0.9M344.3 180.3h0.3M374.3 191.6h0.3M328.4 224.9h1.3M299.2 174.7h0.3M239 273h1.2M242.9 246.7h1.2M325.8 254.9h0.5M283.7 179.6h0.4M359.6 199.5h1.2M231.7 271.4h0.6M353.5 278.6h0.7M339 181h1.3M363.1 178.8h1M316 215.4h0.5M270.9 266.9h0.8M358.8 255.1h1.4M289.3 199.2h0.5M338.5 177.6h1.4M374.1 280.3h0.6M361.5 186.1h0.3M335 247.1h1.3M368.4 264.2h0.2M347.7 258.7h1.3M269.4 207.4h0.4M319.7 176.5h0.6M290.8 211.7h0.5M301.8 212.6h1.3M381.2 267.3h1M362.5 212h1.3M253.3 290h0.4M324.3 259.3h0.2M262 241.4h0.9M277.4 224.4h0.2M283.6 287.2h1.1M291.4 245.9h0.8M342.3 241.2h1.5M342.4 203.4h0.2M383.2 220.7h1M304.2 252.7h0.7M236 265.7h0.3M362.5 261.5h1.1M276.3 203.5h0.6M386.9 228.3h0.2M331.3 212.7h0.4M321 185.9h0.1M307.9 285.6h0.2M247.6 179.7h0.6M249.5 201.7h0.3M363.9 292.8h1.4M245.6 238.4h0.6M230.2 243.1h0.2M315.3 206.7h0.8M314 184.5h0.6M362.5 264.5h0.5M236.5 280.2h0.7M332 219.8h1.2M287.4 217h1.4M248.3 195.2h0.4M382.7 194.8h0.9M255 200.1h1.4M324.1 209.9h0.8M359.3 209.6h1M292.6 224.6h0.8M297.8 263.2h0.3M283.2 254.1h1.1M301.7 238h0.9M363.8 226.3h0.6M341.5 179.8h0.4M226.1 289.9h0.9M271.9 200.4h0.3M240 263.6h0.7M233.7 256.1h0.1M266.5 263h1M226.3 228.1h0.3M287.2 287.9h0.8M354.2 285.7h1.3M332 290.9h1.1M291 271.6h0.6M227.9 240.9h1.2M333.5 254h0.8M226.7 193.7h0.8M266.2 201.6h0.2M325.1 233.6h0.5M251.6 206.7h0.8M372.8 285h1.5M231.7 226.6h0.8M282.9 277.9h0.9M386.1 273.4h0.6M389.4 193.6h0.7M260.6 181.7h0.2M377.3 240.3h0.3M224.4 178.5h0.4M376.3 285.8h0.3M283.9 219.7h1.4M388.3 268.3h1.2M304.6 241.3h1.3M260.6 296.1h0.9M226.6 265.9h1.3M289.4 219.6h1.5M285 288.2h1.4M325 295.4h0.5M279.9 276.2h0.9M379.6 242.9h0.7M278.3 204.1h0.1M254.6 287.5h1.2M234.8 287.5h1.3M274.2 234h1M234.1 219.3h0.9M352.8 220.5h0.1M252.9 234.3h0.8M241.4 285.3h0.5M261.6 204.8h0.9M258.4 249.2h1.1M275.5 207.8h1.1M381.2 263.7h1.3M366.6 253.4h0.6M241.4 284.2h1M365.4 195.4h0.5M258.7 244.5h0.7M355.4 219.3h0.4M270.5 241h1.2M371.2 251h0.7M252.8 252h0.7M262.2 204.9h1.4M255.9 268.9h0.5M346.8 200.8h0.5M267.6 205.9h1M247.7 244.2h0.7M269.7 251.7h1.4M244.8 246.6h1.4M309.1 266.4h0.6M240.5 241.6h0.6M245.4 242.3h0.2" fill="none" stroke="#4a70c2" stroke-width="3.7" stroke-linecap="round" opacity="0.85"/>
<path d="M393.1 208.4Q394.1 214.6 393.8 221.1Q393.5 227.6 390 232.6Q386.6 237.6 382 240.5Q377.3 243.4 371.9 244.9Q366.4 246.4 361.6 242.7Q356.8 239.1 354.3 233Q351.8 227 351.2 220.8Q350.6 214.6 352 208.8Q353.3 203 355.2 196.8Q357 190.5 361.6 186.1Q366.2 181.7 371.9 183.1Q377.5 184.5 382 188.1Q386.5 191.7 389.4 197Q392.2 202.3 393.1 208.4Z" fill="none" stroke="#c4a66c" stroke-width="4" opacity="0.55"/>
<path d="M391 208.9Q391.8 214.6 391.6 220.6Q391.3 226.6 388.2 231.2Q385.1 235.7 381 238.4Q376.8 241 371.9 242.4Q367 243.8 362.7 240.4Q358.3 237.1 356.1 231.5Q353.9 226 353.4 220.3Q352.8 214.6 354 209.3Q355.2 204 356.9 198.2Q358.6 192.4 362.7 188.4Q366.8 184.4 371.9 185.7Q377 187 381 190.2Q385 193.5 387.6 198.4Q390.2 203.3 391 208.9Z" fill="#d6d9e4" stroke="#5a80cf" stroke-width="3.4" stroke-dasharray="3.1 1.7"/>
<path d="M328.6 177.5Q329.3 180.9 328.7 184.4Q328.2 187.8 324.1 190.4Q320.1 192.9 314.7 193.9Q309.3 194.9 303.9 194.8Q298.5 194.7 293.9 193.2Q289.3 191.7 284.6 189.7Q279.9 187.7 277.3 184.3Q274.6 180.9 277.3 177.5Q280 174.2 284.3 171.9Q288.7 169.7 293.6 168.6Q298.6 167.4 303.9 167.4Q309.1 167.3 314.8 168Q320.5 168.7 324.1 171.4Q327.8 174.1 328.6 177.5Z" fill="none" stroke="#c4a66c" stroke-width="4" opacity="0.55"/>
<path d="M326.2 178.1Q326.9 180.9 326.4 183.8Q325.9 186.7 322.2 188.9Q318.6 191 313.7 191.8Q308.7 192.6 303.9 192.5Q299 192.5 294.8 191.2Q290.6 190 286.4 188.3Q282.2 186.6 279.8 183.8Q277.3 180.9 279.8 178.1Q282.3 175.2 286.2 173.4Q290.1 171.5 294.6 170.5Q299.1 169.6 303.9 169.5Q308.6 169.5 313.8 170Q318.9 170.6 322.2 172.9Q325.6 175.2 326.2 178.1Z" fill="#d6d9e4" stroke="#5a80cf" stroke-width="3.4" stroke-dasharray="3.1 1.7"/>
<path d="M370.5 264Q372.4 271.4 370.8 278.9Q369.1 286.5 363.7 290.8Q358.3 295.2 353 298.5Q347.8 301.8 341.4 303.3Q335 304.8 328.4 302.3Q321.8 299.8 316.7 293.9Q311.6 287.9 311.8 279.6Q312.1 271.4 315 264.8Q318 258.3 321 252.2Q323.9 246 329.5 242.3Q335.1 238.5 341.8 238Q348.4 237.5 354.8 240.4Q361.3 243.3 364.9 249.9Q368.6 256.6 370.5 264Z" fill="none" stroke="#c4a66c" stroke-width="4" opacity="0.55"/>
<path d="M368.2 264.5Q369.9 271.4 368.4 278.4Q366.9 285.4 362 289.5Q357 293.5 352.1 296.6Q347.3 299.7 341.4 301Q335.5 302.4 329.5 300.1Q323.4 297.8 318.7 292.3Q314 286.7 314.2 279Q314.5 271.4 317.2 265.3Q319.9 259.3 322.7 253.5Q325.4 247.8 330.5 244.3Q335.6 240.9 341.8 240.4Q347.9 239.9 353.8 242.6Q359.7 245.3 363 251.4Q366.4 257.6 368.2 264.5Z" fill="#d6d9e4" stroke="#5a80cf" stroke-width="3.4" stroke-dasharray="3.1 1.7"/>
<path d="M303.2 199.9Q301.9 203.7 300.3 207.3Q298.7 210.8 296.2 214.4Q293.8 218 290.5 218.9Q287.2 219.8 284.6 218.4Q281.9 217 280.7 213.7Q279.5 210.5 279.5 206.8Q279.5 203.2 279.5 199.4Q279.5 195.6 281.2 191.6Q283 187.6 285.9 185.3Q288.9 183 292 181.8Q295.1 180.7 297.7 181.9Q300.4 183.2 302 185.9Q303.6 188.7 304.1 192.4Q304.6 196.1 303.2 199.9Z" fill="#d6d9e4" opacity="0.9"/>
<path d="M238.3 268.3Q239.5 273.5 238.5 278.9Q237.5 284.3 235.4 287.2Q233.3 290.2 231.3 292.4Q229.4 294.6 227.1 294.9Q224.9 295.2 222.6 293.6Q220.3 292.1 218.5 288.2Q216.7 284.4 216.5 278.9Q216.3 273.5 216.8 268.3Q217.2 263.1 218.7 258.7Q220.1 254.3 222.5 253.1Q224.9 252 227.1 252.2Q229.4 252.4 231.5 254.2Q233.6 255.9 235.4 259.5Q237.1 263.1 238.3 268.3Z" fill="none" stroke="#c4a66c" stroke-width="4" opacity="0.55"/>
<path d="M235.8 268.8Q236.7 273.5 236 278.3Q235.2 283.2 233.6 285.8Q231.9 288.5 230.4 290.5Q228.9 292.4 227.1 292.7Q225.4 293 223.6 291.6Q221.8 290.2 220.4 286.7Q219 283.3 218.9 278.4Q218.7 273.5 219.1 268.8Q219.4 264.2 220.5 260.2Q221.7 256.2 223.5 255.2Q225.4 254.2 227.1 254.4Q228.9 254.6 230.5 256.1Q232.2 257.7 233.5 260.9Q234.9 264.1 235.8 268.8Z" fill="#d6d9e4" stroke="#5a80cf" stroke-width="3.4" stroke-dasharray="3.1 1.7"/>
<path d="M267.3 288.4Q267.8 290.3 267.2 292.1Q266.7 293.9 265.1 295.7Q263.5 297.5 260.2 298.2Q256.8 298.9 253.5 298.6Q250.2 298.3 247.6 297.3Q245 296.3 243.4 294.9Q241.7 293.5 239.8 291.9Q238 290.3 238.3 288.2Q238.5 286.2 241.2 284.8Q243.9 283.5 247 282.8Q250.2 282.1 253.3 282.3Q256.5 282.5 259.3 283.3Q262.1 284.1 264.5 285.3Q266.9 286.6 267.3 288.4Z" fill="#d6d9e4" opacity="0.9"/>
<path d="M242.9 224.2Q243 227.2 242.5 229.8Q242 232.4 241.3 234.7Q240.6 237.1 239.3 238Q238 239 236.6 238.9Q235.3 238.8 234 238Q232.6 237.2 231.7 235Q230.7 232.8 230.2 230Q229.7 227.2 230.1 224.3Q230.6 221.4 231.9 219.9Q233.1 218.4 234.2 217.3Q235.3 216.1 236.7 215.6Q238 215 239.4 215.9Q240.7 216.8 241.8 219Q242.9 221.1 242.9 224.2Z" fill="#d6d9e4" opacity="0.9"/>
</g></g>
<path d="M529 71.5h1M515 56.5h1M526 45.5h1M527 62.5h1M533 40.5h1M533 39.5h1M529 38.5h1M520 43.5h1M527 67.5h1M536 47.5h1M523 40.5h1M522 64.5h1M523 48.5h1M534 57.5h1M522 57.5h1M531 34.5h1M523 62.5h1M523 50.5h1M527 73.5h1M517 50.5h1M523 81.5h1M527 48.5h1M522 41.5h1M524 44.5h1M529 75.5h1M525 54.5h1M534 38.5h1M529 73.5h1M517 55.5h1M522 56.5h1M537 56.5h1M526 70.5h1M526 47.5h1M524 39.5h1M523 84.5h1M526 49.5h1M517 46.5h1M523 73.5h1M533 68.5h1M530 72.5h1M523 69.5h1M521 57.5h1M530 62.5h1M521 67.5h1M525 75.5h1M530 74.5h1M523 66.5h1M523 76.5h1M527 60.5h1M537 57.5h1M531 70.5h1M532 41.5h1M533 62.5h1M530 54.5h1M530 70.5h1M525 66.5h1M520 68.5h1M529 34.5h1M526 43.5h1M526 52.5h1M529 63.5h1M521 53.5h1M529 36.5h1M527 49.5h1M534 54.5h1M534 66.5h1M523 39.5h1M529 61.5h1M529 50.5h1M517 62.5h1M529 39.5h1M523 54.5h1M520 47.5h1M537 52.5h1M529 45.5h1M538 58.5h1M524 48.5h1M525 47.5h1M533 45.5h1M521 40.5h1M529 57.5h1M530 64.5h1M532 38.5h1M532 47.5h1M522 60.5h1M526 51.5h1M532 63.5h1M516 45.5h1M525 80.5h1M535 60.5h1M525 62.5h1M531 65.5h1M526 80.5h1M524 52.5h1M535 42.5h1M522 76.5h1M531 54.5h1M521 73.5h1M526 61.5h1M518 63.5h1M533 67.5h1M534 43.5h1M531 39.5h1M518 64.5h1M524 40.5h1M517 52.5h1M528 71.5h1M525 48.5h1M537 51.5h1M518 65.5h1M528 64.5h1M521 61.5h1M521 71.5h1M527 39.5h1M520 51.5h1M531 66.5h1M529 44.5h1M535 57.5h1M522 74.5h1M520 38.5h1M534 39.5h1M520 49.5h1M533 54.5h1M535 59.5h1M529 62.5h1M532 52.5h1M526 79.5h1M529 54.5h1M526 37.5h1M518 40.5h1M523 52.5h1M521 46.5h1M518 47.5h1M520 57.5h1M531 67.5h1M526 82.5h1M532 40.5h1M524 83.5h1M532 70.5h1M518 44.5h1M524 34.5h1M527 50.5h1M536 58.5h1M524 35.5h1M519 58.5h1M524 60.5h1M517 48.5h1M517 60.5h1M536 63.5h1M535 43.5h1M526 62.5h1M523 65.5h1M522 55.5h1M534 48.5h1M520 36.5h1M519 47.5h1M523 37.5h1M532 61.5h1M536 66.5h1M532 62.5h1M532 69.5h1M524 38.5h1M533 61.5h1M518 50.5h1M525 51.5h1M528 75.5h1M532 37.5h1M527 41.5h1M531 55.5h1M536 56.5h1M525 55.5h1M529 37.5h1M526 78.5h1M524 43.5h1M521 42.5h1M528 50.5h1M532 44.5h1M523 45.5h1M535 64.5h1M536 42.5h1M533 49.5h1M529 74.5h1M527 63.5h1M519 52.5h1M522 52.5h1M526 69.5h1M524 84.5h1M527 74.5h1M523 63.5h1M531 59.5h1M521 36.5h1M528 72.5h1M531 48.5h1M536 46.5h1M531 35.5h1M532 67.5h1M532 64.5h1M520 59.5h1M536 44.5h1M524 41.5h1M536 64.5h1M524 37.5h1M531 61.5h1M531 51.5h1M522 46.5h1M519 65.5h1M533 43.5h1M532 54.5h1M525 60.5h1M536 48.5h1M521 64.5h1M519 42.5h1M529 66.5h1M516 57.5h1M522 77.5h1M517 42.5h1M523 56.5h1M531 71.5h1M517 53.5h1M527 51.5h1M517 63.5h1M523 68.5h1M526 83.5h1M522 38.5h1M526 50.5h1M524 47.5h1M526 68.5h1M522 49.5h1M534 59.5h1M516 54.5h1M520 67.5h1M516 46.5h1M517 57.5h1M524 81.5h1M533 51.5h1M525 52.5h1M527 34.5h1M525 57.5h1M524 73.5h1M525 63.5h1M530 33.5h1M524 78.5h1M525 83.5h1M525 46.5h1M530 38.5h1M519 56.5h1M516 52.5h1M519 54.5h1M521 72.5h1M518 59.5h1M530 51.5h1M523 57.5h1M520 62.5h1M521 60.5h1M532 39.5h1M524 58.5h1M516 58.5h1M523 60.5h1M522 40.5h1M525 71.5h1M527 52.5h1M528 76.5h1M520 56.5h1M537 45.5h1M532 45.5h1M534 65.5h1M524 65.5h1M520 45.5h1M535 55.5h1M534 58.5h1M528 38.5h1M529 43.5h1M532 59.5h1M518 43.5h1M523 36.5h1M525 64.5h1M530 41.5h1M518 58.5h1M518 46.5h1M526 60.5h1M536 61.5h1M522 37.5h1M521 50.5h1M535 46.5h1M526 85.5h1M528 78.5h1M520 85.5h1M529 84.5h1M519 92.5h1M523 85.5h1M527 77.5h1M527 80.5h1M522 75.5h1M529 82.5h1M520 80.5h1M525 77.5h1M520 82.5h1M528 74.5h1M525 73.5h1M524 77.5h1M524 76.5h1M525 91.5h1M530 78.5h1M528 83.5h1M524 91.5h1M522 87.5h1M522 81.5h1M528 84.5h1M520 76.5h1M527 87.5h1M520 75.5h1M520 81.5h1M526 90.5h1M521 86.5h1M520 84.5h1M522 79.5h1M519 87.5h1M520 88.5h1M519 220.5h1M494 148.5h1M507 216.5h1M514 214.5h1M509 197.5h1M496 160.5h1M487 166.5h1M501 213.5h1M512 183.5h1M520 150.5h1M518 164.5h1M541 203.5h1M545 179.5h1M548 190.5h1M513 153.5h1M548 194.5h1M498 133.5h1M533 203.5h1M523 214.5h1M491 177.5h1M515 98.5h1M524 233.5h1M508 228.5h1M488 177.5h1M519 209.5h1M497 149.5h1M505 211.5h1M523 116.5h1M527 96.5h1M493 164.5h1M530 226.5h1M487 163.5h1M516 105.5h1M517 93.5h1M502 127.5h1M499 189.5h1M508 190.5h1M501 127.5h1M543 161.5h1M521 215.5h1M513 149.5h1M516 220.5h1M497 152.5h1M521 216.5h1M529 215.5h1M538 196.5h1M514 229.5h1M503 179.5h1M528 153.5h1M532 120.5h1M540 130.5h1M488 160.5h1M522 89.5h1M500 154.5h1M544 205.5h1M536 159.5h1M503 154.5h1M519 214.5h1M527 132.5h1M541 128.5h1M485 174.5h1M532 174.5h1M493 175.5h1M529 191.5h1M498 155.5h1M509 157.5h1M528 185.5h1M504 156.5h1M531 103.5h1M524 112.5h1M520 128.5h1M513 225.5h1M504 223.5h1M503 157.5h1M553 178.5h1M521 186.5h1M501 179.5h1M501 159.5h1M536 202.5h1M515 226.5h1M507 160.5h1M502 187.5h1M549 157.5h1M503 139.5h1M510 121.5h1M529 157.5h1M522 124.5h1M516 203.5h1M518 225.5h1M524 130.5h1M515 164.5h1M502 148.5h1M532 164.5h1M493 146.5h1M533 135.5h1M507 159.5h1M545 158.5h1M551 187.5h1M515 214.5h1M489 164.5h1M516 223.5h1M520 205.5h1M519 222.5h1M551 196.5h1M509 136.5h1M500 163.5h1M537 201.5h1M518 196.5h1M509 147.5h1M540 159.5h1M500 183.5h1M506 129.5h1M518 231.5h1M535 112.5h1M534 133.5h1M532 138.5h1M533 225.5h1M497 173.5h1M505 222.5h1M537 132.5h1M531 123.5h1M492 174.5h1M555 160.5h1M522 200.5h1M526 173.5h1M494 197.5h1M538 202.5h1M494 202.5h1M532 192.5h1M501 197.5h1M526 129.5h1M529 146.5h1M533 143.5h1M486 166.5h1M512 101.5h1M509 120.5h1M549 175.5h1M528 233.5h1M503 160.5h1M524 188.5h1M535 141.5h1M539 194.5h1M498 197.5h1M518 190.5h1M527 114.5h1M503 136.5h1M534 111.5h1M508 108.5h1M522 127.5h1M516 93.5h1M503 204.5h1M518 167.5h1M535 149.5h1M504 147.5h1M518 223.5h1M534 190.5h1M524 176.5h1M544 170.5h1M538 112.5h1M531 220.5h1M537 124.5h1M516 208.5h1M526 206.5h1M502 141.5h1M514 228.5h1M504 136.5h1M496 143.5h1M531 219.5h1M524 109.5h1M520 113.5h1M544 183.5h1M501 181.5h1M506 156.5h1M529 220.5h1M495 189.5h1M520 153.5h1M537 140.5h1M499 193.5h1M548 186.5h1M516 193.5h1M551 184.5h1M540 195.5h1M530 228.5h1M513 155.5h1M518 234.5h1M489 180.5h1M530 222.5h1M541 143.5h1M542 173.5h1M523 168.5h1M523 234.5h1M511 188.5h1M506 160.5h1M499 144.5h1M495 177.5h1M509 219.5h1M538 136.5h1M521 138.5h1M499 205.5h1M538 200.5h1M506 142.5h1M525 215.5h1M520 233.5h1M500 217.5h1M522 116.5h1M551 165.5h1M529 159.5h1M530 179.5h1M498 159.5h1M510 176.5h1M525 172.5h1M503 146.5h1M547 182.5h1M504 199.5h1M505 196.5h1M523 136.5h1M515 119.5h1M514 101.5h1M521 90.5h1M535 215.5h1M513 231.5h1M552 180.5h1M519 133.5h1M528 236.5h1M521 210.5h1M498 187.5h1M500 143.5h1M553 162.5h1M517 192.5h1M513 173.5h1M509 182.5h1M519 159.5h1M501 175.5h1M487 173.5h1M518 86.5h1M537 191.5h1M536 183.5h1M498 213.5h1M538 215.5h1M526 155.5h1M518 94.5h1M526 227.5h1M515 111.5h1M525 234.5h1M536 145.5h1M537 128.5h1M551 175.5h1M527 238.5h1M514 211.5h1M503 123.5h1M503 135.5h1M522 237.5h1M505 167.5h1M525 96.5h1M535 171.5h1M513 212.5h1M518 108.5h1M530 198.5h1M509 222.5h1M513 102.5h1M526 226.5h1M520 102.5h1M523 104.5h1M506 223.5h1M537 160.5h1M509 179.5h1M498 128.5h1M506 167.5h1M507 116.5h1M505 170.5h1M551 162.5h1M500 215.5h1M504 172.5h1M534 157.5h1M503 180.5h1M488 171.5h1M533 210.5h1M526 212.5h1M501 168.5h1M507 215.5h1M540 147.5h1M503 195.5h1M517 121.5h1M530 131.5h1M516 194.5h1M525 111.5h1M551 173.5h1M513 200.5h1M535 152.5h1M536 110.5h1M518 199.5h1M528 210.5h1M539 202.5h1M508 226.5h1M538 214.5h1M521 223.5h1M516 103.5h1M539 183.5h1M524 167.5h1M491 181.5h1M518 123.5h1M528 113.5h1M493 183.5h1M534 119.5h1M513 172.5h1M491 161.5h1M518 219.5h1M491 173.5h1M497 137.5h1M508 179.5h1M532 157.5h1M521 160.5h1M549 198.5h1M495 200.5h1M537 181.5h1M534 147.5h1M542 213.5h1M512 177.5h1M523 124.5h1M526 235.5h1M534 162.5h1M540 207.5h1M533 180.5h1M497 180.5h1M510 201.5h1M540 218.5h1M526 171.5h1M522 192.5h1M548 200.5h1M544 174.5h1M523 233.5h1M537 220.5h1M525 115.5h1M521 214.5h1M518 107.5h1M527 187.5h1M531 236.5h1M547 200.5h1M527 108.5h1M513 177.5h1M547 198.5h1M533 183.5h1M507 164.5h1M514 142.5h1M531 138.5h1M514 100.5h1M511 164.5h1M505 218.5h1M517 163.5h1M523 232.5h1M512 178.5h1M517 221.5h1M504 174.5h1M501 167.5h1M516 221.5h1M502 161.5h1M532 127.5h1M508 169.5h1M535 110.5h1M492 162.5h1M549 156.5h1M497 195.5h1M529 195.5h1M516 216.5h1M523 112.5h1M489 175.5h1M508 135.5h1M554 186.5h1M516 156.5h1M492 183.5h1M509 127.5h1M523 217.5h1M492 163.5h1M546 200.5h1M545 167.5h1M543 154.5h1M525 116.5h1M489 174.5h1M530 237.5h1M515 233.5h1M486 171.5h1M498 178.5h1M525 187.5h1M515 154.5h1M514 164.5h1M511 100.5h1M486 177.5h1M539 176.5h1M552 151.5h1M539 115.5h1M534 124.5h1M545 180.5h1M539 125.5h1M543 131.5h1M517 167.5h1M514 155.5h1M517 229.5h1M499 138.5h1M520 96.5h1M519 99.5h1M521 229.5h1M513 162.5h1M547 151.5h1M507 114.5h1M490 173.5h1M536 108.5h1M509 221.5h1M508 107.5h1M529 222.5h1M517 220.5h1M497 139.5h1M549 191.5h1M548 195.5h1M526 216.5h1M545 151.5h1M511 222.5h1M527 232.5h1M523 225.5h1M517 118.5h1M500 138.5h1M537 158.5h1M524 96.5h1M492 196.5h1M540 182.5h1M532 172.5h1M521 99.5h1M527 103.5h1M538 153.5h1M512 108.5h1M529 109.5h1M526 225.5h1M490 176.5h1M526 108.5h1M543 159.5h1M519 208.5h1M546 178.5h1M504 179.5h1M521 133.5h1M519 227.5h1M521 88.5h1M516 185.5h1M513 217.5h1M502 168.5h1M512 229.5h1M496 201.5h1M524 196.5h1M490 160.5h1M499 139.5h1M537 162.5h1M535 213.5h1M533 188.5h1M516 140.5h1M535 144.5h1M534 182.5h1M508 126.5h1M530 236.5h1M524 235.5h1M528 229.5h1M530 136.5h1M528 204.5h1M498 212.5h1M526 96.5h1M532 119.5h1M535 223.5h1M544 146.5h1M526 123.5h1M499 206.5h1M532 189.5h1M551 177.5h1M530 213.5h1M505 154.5h1M508 113.5h1M509 202.5h1M518 149.5h1M536 226.5h1M534 105.5h1M534 223.5h1M502 186.5h1M489 183.5h1M521 224.5h1M506 123.5h1M531 226.5h1M523 113.5h1M509 216.5h1M517 137.5h1M518 233.5h1M542 126.5h1M507 123.5h1M513 234.5h1M518 99.5h1M538 199.5h1M528 176.5h1M509 180.5h1M529 108.5h1M526 152.5h1M502 176.5h1M527 168.5h1M503 132.5h1M514 114.5h1M500 179.5h1M497 165.5h1M536 204.5h1M515 224.5h1M519 212.5h1M498 127.5h1M510 139.5h1M496 157.5h1M507 208.5h1M522 234.5h1M514 189.5h1M501 161.5h1M517 182.5h1M504 120.5h1M529 131.5h1M538 167.5h1M487 171.5h1M526 196.5h1M508 192.5h1M534 218.5h1M527 219.5h1M530 159.5h1M504 171.5h1M494 144.5h1M516 227.5h1M537 214.5h1M539 158.5h1M532 193.5h1M515 229.5h1M517 185.5h1M501 185.5h1M521 176.5h1M531 206.5h1M534 115.5h1M524 238.5h1M539 197.5h1M504 144.5h1M535 177.5h1M529 99.5h1M506 188.5h1M513 206.5h1M531 160.5h1M516 109.5h1M536 133.5h1M499 181.5h1M516 147.5h1M510 177.5h1M528 230.5h1M500 178.5h1M507 136.5h1M510 115.5h1M518 213.5h1M523 101.5h1M498 166.5h1M518 102.5h1M533 177.5h1M491 180.5h1M519 158.5h1M543 209.5h1M528 157.5h1M531 118.5h1M502 165.5h1M541 201.5h1M555 171.5h1M510 178.5h1M494 157.5h1M500 160.5h1M509 190.5h1M521 92.5h1M523 185.5h1M537 226.5h1M529 175.5h1M519 219.5h1M519 167.5h1M516 136.5h1M509 133.5h1M532 209.5h1M549 140.5h1M493 190.5h1M525 216.5h1M504 213.5h1M487 162.5h1M531 179.5h1M518 238.5h1M512 161.5h1M503 153.5h1M498 170.5h1M500 152.5h1M527 211.5h1M545 176.5h1M508 184.5h1M528 118.5h1M524 160.5h1M545 201.5h1M503 140.5h1M534 215.5h1M544 157.5h1M528 197.5h1M527 208.5h1M509 135.5h1M540 175.5h1M536 191.5h1M500 187.5h1M516 89.5h1M530 98.5h1M509 130.5h1M526 133.5h1M515 108.5h1M527 140.5h1M513 167.5h1M538 173.5h1M511 211.5h1M507 189.5h1M515 107.5h1M528 135.5h1M491 165.5h1M489 166.5h1M511 172.5h1M528 134.5h1M515 180.5h1M508 217.5h1M521 152.5h1M542 143.5h1M496 204.5h1M521 96.5h1M523 162.5h1M489 187.5h1M545 182.5h1M498 140.5h1M521 200.5h1M514 113.5h1M511 137.5h1M510 207.5h1M496 186.5h1M513 124.5h1M522 220.5h1M497 209.5h1M548 144.5h1M535 185.5h1M546 154.5h1M523 184.5h1M527 227.5h1M527 125.5h1M544 152.5h1M511 156.5h1M517 191.5h1M523 183.5h1M502 143.5h1M505 135.5h1M518 148.5h1M542 215.5h1M517 210.5h1M499 183.5h1M512 216.5h1M497 172.5h1M500 164.5h1M510 108.5h1M552 191.5h1M528 234.5h1M497 163.5h1M518 232.5h1M511 167.5h1M542 210.5h1M544 193.5h1M506 206.5h1M526 194.5h1M508 170.5h1M516 127.5h1M524 211.5h1M513 108.5h1M494 191.5h1M498 161.5h1M510 143.5h1M534 130.5h1M500 214.5h1M525 192.5h1M532 206.5h1M502 185.5h1M530 170.5h1M517 128.5h1M523 223.5h1M520 192.5h1M541 150.5h1M515 185.5h1M532 132.5h1M533 105.5h1M518 89.5h1M502 163.5h1M529 211.5h1M513 191.5h1M519 237.5h1M553 190.5h1M510 154.5h1M502 220.5h1M550 197.5h1M521 201.5h1M492 158.5h1M521 125.5h1M502 208.5h1M541 178.5h1M549 181.5h1M525 117.5h1M510 199.5h1M521 228.5h1M496 134.5h1M544 127.5h1M502 209.5h1M490 165.5h1M530 106.5h1M543 172.5h1M547 150.5h1M534 132.5h1M499 153.5h1M539 215.5h1M523 128.5h1M513 215.5h1M519 113.5h1M532 233.5h1M502 219.5h1M526 134.5h1M500 137.5h1M547 170.5h1M529 217.5h1M509 218.5h1M514 112.5h1M495 180.5h1M542 186.5h1M512 115.5h1M516 111.5h1M525 214.5h1M549 154.5h1M506 208.5h1M530 217.5h1M503 194.5h1M491 151.5h1M520 146.5h1M520 223.5h1M491 170.5h1M522 134.5h1M512 228.5h1M539 217.5h1M495 160.5h1M505 117.5h1M526 93.5h1M535 195.5h1M500 171.5h1M518 109.5h1M526 118.5h1M513 129.5h1M536 182.5h1M529 135.5h1M509 167.5h1M516 94.5h1M525 123.5h1M516 120.5h1M532 229.5h1M547 142.5h1M514 166.5h1M550 172.5h1M546 207.5h1M518 158.5h1M499 202.5h1M496 162.5h1M534 177.5h1M527 102.5h1M521 112.5h1M547 163.5h1M541 140.5h1M513 141.5h1M523 103.5h1M520 162.5h1M491 163.5h1M518 138.5h1M534 141.5h1M540 191.5h1M515 113.5h1M542 162.5h1M540 156.5h1M552 189.5h1M503 128.5h1M513 163.5h1M550 179.5h1M531 141.5h1M494 149.5h1M506 110.5h1M507 107.5h1M502 175.5h1M529 230.5h1M552 156.5h1M514 102.5h1M507 225.5h1M519 106.5h1M536 135.5h1M515 129.5h1M521 102.5h1M510 204.5h1M521 234.5h1M533 194.5h1M530 207.5h1M518 229.5h1M517 141.5h1M544 203.5h1M530 176.5h1M516 210.5h1M552 174.5h1M537 149.5h1M527 207.5h1M518 205.5h1M515 137.5h1M543 180.5h1M489 165.5h1M520 183.5h1M544 198.5h1M527 158.5h1M535 203.5h1M527 91.5h1M505 111.5h1M521 227.5h1M540 220.5h1M524 125.5h1M512 114.5h1M530 108.5h1M496 168.5h1M496 183.5h1M489 186.5h1M521 211.5h1M524 178.5h1M542 160.5h1M499 203.5h1M527 215.5h1M506 143.5h1M511 225.5h1M494 150.5h1M529 198.5h1M515 159.5h1M527 171.5h1M531 201.5h1M530 206.5h1M502 124.5h1M495 188.5h1M510 226.5h1M511 107.5h1M496 192.5h1M520 220.5h1M521 114.5h1M495 146.5h1M504 219.5h1M488 169.5h1M543 214.5h1M516 206.5h1M525 114.5h1M523 138.5h1M546 152.5h1M520 191.5h1M489 179.5h1M518 203.5h1M501 157.5h1M531 109.5h1M518 222.5h1M533 120.5h1M515 219.5h1M530 173.5h1M523 212.5h1M528 167.5h1M519 146.5h1M491 159.5h1M497 164.5h1M549 196.5h1M501 214.5h1M537 199.5h1M532 214.5h1M524 216.5h1M517 190.5h1M522 154.5h1M516 138.5h1M541 185.5h1M533 198.5h1M522 211.5h1M534 154.5h1M514 193.5h1M525 173.5h1M531 203.5h1M514 150.5h1M488 168.5h1M509 125.5h1M536 172.5h1M531 193.5h1M513 228.5h1M524 210.5h1M506 196.5h1M511 122.5h1M538 164.5h1M524 171.5h1M512 100.5h1M527 173.5h1M503 219.5h1M512 204.5h1M501 165.5h1M523 108.5h1M506 197.5h1M534 219.5h1M508 210.5h1M508 191.5h1M517 169.5h1M513 178.5h1M518 159.5h1M499 204.5h1M520 236.5h1M517 99.5h1M529 228.5h1M542 168.5h1M546 210.5h1M538 170.5h1M515 105.5h1M494 195.5h1M535 231.5h1M552 177.5h1M530 156.5h1M544 158.5h1M524 232.5h1M508 225.5h1M543 146.5h1M534 217.5h1M511 230.5h1M515 218.5h1M507 182.5h1M493 149.5h1M531 231.5h1M500 122.5h1M527 182.5h1M534 212.5h1M538 179.5h1M516 137.5h1M510 213.5h1M551 194.5h1M525 200.5h1M524 219.5h1M546 171.5h1M526 222.5h1M539 119.5h1M501 132.5h1M517 203.5h1M544 169.5h1M550 190.5h1M499 162.5h1M524 92.5h1M519 141.5h1M542 124.5h1M517 206.5h1M523 237.5h1M510 145.5h1M512 104.5h1M546 132.5h1M500 153.5h1M496 193.5h1M513 152.5h1M500 182.5h1M492 179.5h1M543 207.5h1M517 96.5h1M540 164.5h1M529 237.5h1M521 175.5h1M512 210.5h1M539 132.5h1M526 126.5h1M513 145.5h1M524 135.5h1M506 226.5h1M540 116.5h1M509 184.5h1M493 193.5h1M543 162.5h1M503 166.5h1M540 184.5h1M500 197.5h1M509 204.5h1M531 232.5h1M501 142.5h1M512 105.5h1M491 174.5h1M525 229.5h1M509 140.5h1M496 155.5h1M508 151.5h1M505 137.5h1M519 168.5h1M542 191.5h1M515 167.5h1M550 175.5h1M493 163.5h1M523 219.5h1M540 181.5h1M500 174.5h1M524 129.5h1M503 151.5h1M521 111.5h1M485 168.5h1M549 155.5h1M540 162.5h1M531 182.5h1M532 232.5h1M549 169.5h1M515 122.5h1M507 183.5h1M537 163.5h1M536 176.5h1M518 161.5h1M506 136.5h1M504 175.5h1M544 175.5h1M511 174.5h1M505 118.5h1M534 194.5h1M541 124.5h1M485 171.5h1M498 148.5h1M529 111.5h1M511 111.5h1M529 105.5h1M524 185.5h1M494 140.5h1M498 203.5h1M494 186.5h1M501 136.5h1M553 183.5h1M547 175.5h1M512 182.5h1M520 109.5h1M492 147.5h1M514 198.5h1M487 178.5h1M508 199.5h1M535 123.5h1M495 169.5h1M548 184.5h1M531 229.5h1M525 218.5h1M518 227.5h1M551 193.5h1M506 175.5h1M530 197.5h1M528 127.5h1M528 147.5h1M553 181.5h1M516 98.5h1M508 189.5h1M541 129.5h1M494 194.5h1M532 151.5h1M517 116.5h1M523 227.5h1M541 184.5h1M536 221.5h1M513 101.5h1M537 182.5h1M507 174.5h1M493 179.5h1M508 194.5h1M527 212.5h1M529 193.5h1M541 207.5h1M534 196.5h1M500 202.5h1M530 209.5h1M514 127.5h1M531 112.5h1M513 233.5h1M510 113.5h1M548 182.5h1M528 199.5h1M527 205.5h1M496 167.5h1M525 90.5h1M500 192.5h1M549 187.5h1M498 184.5h1M495 167.5h1M535 196.5h1M519 165.5h1M531 151.5h1M548 166.5h1M520 172.5h1M492 199.5h1M501 163.5h1M503 142.5h1M525 105.5h1M508 203.5h1M504 155.5h1M530 232.5h1M516 174.5h1M529 229.5h1M529 143.5h1M516 97.5h1M534 146.5h1M509 223.5h1M490 164.5h1M500 211.5h1M525 131.5h1M521 166.5h1M545 164.5h1M518 235.5h1M513 113.5h1M511 159.5h1M526 180.5h1M505 203.5h1M502 213.5h1M503 118.5h1M504 183.5h1M497 188.5h1M525 202.5h1M526 102.5h1M504 221.5h1M514 140.5h1M510 158.5h1M500 120.5h1M497 143.5h1M494 162.5h1M509 227.5h1M515 143.5h1M494 159.5h1M513 196.5h1M493 192.5h1M517 130.5h1M527 230.5h1M524 213.5h1M534 227.5h1M503 115.5h1M524 94.5h1M523 198.5h1M518 176.5h1M524 212.5h1M521 163.5h1M496 203.5h1M504 154.5h1M513 180.5h1M520 108.5h1M516 115.5h1M538 182.5h1M532 163.5h1M516 153.5h1M513 232.5h1M499 126.5h1M528 205.5h1M534 225.5h1M517 170.5h1M526 95.5h1M552 144.5h1M516 213.5h1M507 112.5h1M510 104.5h1M522 96.5h1M495 170.5h1M489 181.5h1M503 170.5h1M520 207.5h1M490 156.5h1M527 193.5h1M530 101.5h1M505 169.5h1M511 220.5h1M525 156.5h1M516 161.5h1M520 167.5h1M514 96.5h1M538 188.5h1M522 195.5h1M506 117.5h1M512 179.5h1M550 157.5h1M544 207.5h1M542 182.5h1M511 205.5h1M531 198.5h1M539 130.5h1M498 168.5h1M500 166.5h1M532 111.5h1M507 138.5h1M510 224.5h1M495 196.5h1M540 114.5h1M514 204.5h1M500 146.5h1M525 100.5h1M493 171.5h1M541 167.5h1M510 209.5h1M540 139.5h1M524 150.5h1M510 220.5h1M548 149.5h1M548 192.5h1M510 228.5h1M532 162.5h1M542 127.5h1M531 186.5h1M515 161.5h1M500 126.5h1M512 123.5h1M496 179.5h1M523 130.5h1M515 112.5h1M534 198.5h1M537 188.5h1M536 141.5h1M522 201.5h1M514 145.5h1M536 152.5h1M520 116.5h1M546 202.5h1M503 122.5h1M541 193.5h1M493 194.5h1M538 220.5h1M535 192.5h1M495 158.5h1M542 175.5h1M511 223.5h1M526 143.5h1M517 171.5h1M541 165.5h1M533 195.5h1M534 174.5h1M550 140.5h1M543 216.5h1M511 180.5h1M490 169.5h1M514 202.5h1M554 159.5h1M503 208.5h1M503 169.5h1M527 127.5h1M500 127.5h1M513 223.5h1M521 221.5h1M535 175.5h1M546 130.5h1M524 229.5h1M542 198.5h1M554 187.5h1M516 173.5h1M502 128.5h1M497 138.5h1M505 156.5h1M521 231.5h1M507 186.5h1M531 233.5h1M503 117.5h1M504 202.5h1M497 162.5h1M509 155.5h1M535 208.5h1M521 107.5h1M521 165.5h1M515 150.5h1M491 190.5h1M507 191.5h1M514 108.5h1M533 197.5h1M551 160.5h1M511 226.5h1M527 216.5h1M525 194.5h1M547 145.5h1M509 156.5h1M521 206.5h1M545 184.5h1M537 183.5h1M522 129.5h1M520 197.5h1M492 175.5h1M543 182.5h1M551 154.5h1M533 207.5h1M500 209.5h1M544 136.5h1M508 114.5h1M510 123.5h1M518 154.5h1M546 147.5h1M519 107.5h1M540 199.5h1M555 159.5h1M539 141.5h1M522 98.5h1M491 172.5h1M495 141.5h1M525 169.5h1M520 237.5h1M520 126.5h1M522 144.5h1M530 110.5h1M538 185.5h1M525 171.5h1M515 155.5h1M514 235.5h1M541 205.5h1M543 157.5h1M527 224.5h1M497 194.5h1M505 113.5h1M536 189.5h1M523 238.5h1M525 223.5h1M512 195.5h1M516 96.5h1M514 122.5h1M531 107.5h1M507 168.5h1M552 173.5h1M505 136.5h1M531 133.5h1M506 210.5h1M498 192.5h1M524 154.5h1M519 197.5h1M540 117.5h1M527 146.5h1M539 149.5h1M519 94.5h1M541 166.5h1M505 188.5h1M524 98.5h1M525 127.5h1M521 110.5h1M528 225.5h1M550 185.5h1M503 155.5h1M500 184.5h1M550 154.5h1M501 180.5h1M491 160.5h1M529 179.5h1M534 220.5h1M528 120.5h1M540 193.5h1M512 171.5h1M526 150.5h1M551 150.5h1M540 213.5h1M542 184.5h1M485 161.5h1M548 137.5h1M497 153.5h1M546 165.5h1M489 171.5h1M514 221.5h1M517 236.5h1M528 144.5h1M528 151.5h1M494 183.5h1M521 232.5h1M539 219.5h1M523 144.5h1M506 162.5h1M516 101.5h1M515 208.5h1M521 238.5h1M545 209.5h1M485 163.5h1M514 223.5h1M543 210.5h1M533 191.5h1M547 177.5h1M510 194.5h1M498 142.5h1M489 178.5h1M531 152.5h1M529 151.5h1M533 147.5h1M502 188.5h1M525 108.5h1M526 223.5h1M498 134.5h1M546 146.5h1M550 187.5h1M549 188.5h1M540 133.5h1M510 187.5h1M530 221.5h1M523 92.5h1M505 220.5h1M505 212.5h1M529 133.5h1M514 192.5h1M504 140.5h1M525 190.5h1M508 211.5h1M511 217.5h1M522 95.5h1M505 207.5h1M501 162.5h1M516 236.5h1M541 218.5h1M537 194.5h1M523 87.5h1M523 178.5h1M543 173.5h1M547 168.5h1M508 150.5h1M523 148.5h1M520 216.5h1M539 177.5h1M533 212.5h1M549 195.5h1M521 189.5h1M523 203.5h1M522 119.5h1M522 218.5h1M532 183.5h1M552 181.5h1M512 227.5h1M530 138.5h1M546 184.5h1M510 229.5h1M491 179.5h1M534 148.5h1M548 193.5h1M533 154.5h1M506 171.5h1M519 211.5h1M521 177.5h1M517 200.5h1M524 194.5h1M505 142.5h1M521 104.5h1M514 169.5h1M528 214.5h1M535 225.5h1M516 205.5h1M524 93.5h1M533 220.5h1M505 168.5h1M517 153.5h1M530 115.5h1M527 117.5h1M495 139.5h1M531 105.5h1M526 153.5h1M547 146.5h1M540 183.5h1M517 165.5h1M542 119.5h1M512 199.5h1M504 114.5h1M490 161.5h1M511 221.5h1M490 154.5h1M531 200.5h1M518 170.5h1M500 125.5h1M503 213.5h1M517 90.5h1M511 138.5h1M516 222.5h1M530 154.5h1M505 200.5h1M549 138.5h1M521 84.5h1M515 234.5h1M513 111.5h1M540 198.5h1M539 181.5h1M550 194.5h1M519 110.5h1M525 107.5h1M543 178.5h1M501 122.5h1M530 229.5h1M532 218.5h1M497 158.5h1M529 231.5h1M535 176.5h1M523 182.5h1M495 166.5h1M535 222.5h1M525 142.5h1M493 167.5h1M510 129.5h1M503 176.5h1M508 136.5h1M534 144.5h1M538 158.5h1M511 209.5h1M519 124.5h1M504 206.5h1M500 159.5h1M518 212.5h1M528 226.5h1M514 188.5h1M532 231.5h1M548 189.5h1M500 201.5h1M546 183.5h1M517 196.5h1M515 227.5h1M529 207.5h1M549 149.5h1M519 152.5h1M493 148.5h1M513 164.5h1M532 167.5h1M508 195.5h1M539 212.5h1M511 155.5h1M554 154.5h1M528 114.5h1M552 176.5h1M516 211.5h1M496 148.5h1M540 124.5h1M542 154.5h1M528 104.5h1M528 207.5h1M548 171.5h1M521 199.5h1M527 181.5h1M531 170.5h1M525 168.5h1M513 148.5h1M499 194.5h1M490 182.5h1M508 212.5h1M524 230.5h1M498 162.5h1M518 191.5h1M529 223.5h1M507 126.5h1M512 130.5h1M493 159.5h1M502 119.5h1M514 207.5h1M531 106.5h1M500 216.5h1M523 93.5h1M525 181.5h1M524 100.5h1M533 121.5h1M493 172.5h1M549 163.5h1M504 123.5h1M516 175.5h1M506 150.5h1M543 127.5h1M519 179.5h1M506 121.5h1M525 141.5h1M515 199.5h1M496 158.5h1M518 125.5h1M512 230.5h1M531 217.5h1M492 168.5h1M512 160.5h1M517 227.5h1M501 131.5h1M492 171.5h1M497 141.5h1M507 125.5h1M536 205.5h1M516 234.5h1M535 114.5h1M491 158.5h1M503 158.5h1M527 163.5h1M503 121.5h1M509 207.5h1M532 207.5h1M514 230.5h1M519 96.5h1M506 172.5h1M535 191.5h1M543 135.5h1M519 102.5h1M499 147.5h1M522 236.5h1M528 110.5h1M489 169.5h1M536 197.5h1M520 112.5h1M533 116.5h1M495 143.5h1M521 235.5h1M532 212.5h1M524 131.5h1M487 172.5h1M527 101.5h1M550 181.5h1M543 190.5h1M535 178.5h1M499 209.5h1M525 220.5h1M517 217.5h1M541 192.5h1M550 169.5h1M534 228.5h1M508 218.5h1M499 186.5h1M538 151.5h1M512 125.5h1M489 167.5h1M496 146.5h1M507 227.5h1M552 166.5h1M519 93.5h1M511 214.5h1M532 221.5h1M528 119.5h1M506 217.5h1M552 168.5h1M492 177.5h1M536 220.5h1M512 211.5h1M541 154.5h1M524 195.5h1M523 96.5h1M541 174.5h1M535 201.5h1M517 175.5h1M524 192.5h1M494 168.5h1M490 166.5h1M514 218.5h1M499 143.5h1M490 180.5h1M516 100.5h1M514 104.5h1M520 139.5h1M513 143.5h1M530 165.5h1M538 119.5h1M533 218.5h1M511 136.5h1M525 211.5h1M510 203.5h1M518 103.5h1M542 163.5h1M554 147.5h1M521 144.5h1M520 117.5h1M495 195.5h1M502 137.5h1M556 166.5h1M517 138.5h1M511 142.5h1M507 223.5h1M509 128.5h1M532 137.5h1M509 144.5h1M506 120.5h1M488 162.5h1M536 198.5h1M509 192.5h1M542 125.5h1M512 223.5h1M506 211.5h1M512 140.5h1M554 156.5h1M526 159.5h1M504 160.5h1M523 135.5h1M516 202.5h1M537 204.5h1M505 132.5h1M487 174.5h1M519 129.5h1M535 168.5h1M506 114.5h1M538 126.5h1M488 172.5h1M510 216.5h1M549 158.5h1M487 167.5h1M501 183.5h1M527 214.5h1M490 177.5h1M520 111.5h1M495 173.5h1M526 97.5h1M518 220.5h1M532 201.5h1M526 200.5h1M510 128.5h1M528 100.5h1M514 120.5h1M510 148.5h1M520 155.5h1M523 102.5h1M511 216.5h1M518 172.5h1M536 155.5h1M505 149.5h1M518 208.5h1M509 165.5h1M532 211.5h1M531 144.5h1M525 178.5h1M495 186.5h1M498 191.5h1M533 228.5h1M497 191.5h1M491 167.5h1M515 131.5h1M501 188.5h1M500 165.5h1M498 206.5h1M503 131.5h1M500 188.5h1M503 210.5h1M523 177.5h1M502 155.5h1M542 205.5h1M513 227.5h1M524 143.5h1M531 136.5h1M528 101.5h1M522 176.5h1M531 214.5h1M526 165.5h1M485 167.5h1M538 129.5h1M536 154.5h1M490 171.5h1M549 168.5h1M485 173.5h1M504 184.5h1M534 180.5h1M541 121.5h1M509 213.5h1M549 176.5h1M528 102.5h1M501 164.5h1M507 212.5h1M539 209.5h1M543 156.5h1M494 158.5h1M530 162.5h1M524 209.5h1M521 93.5h1M491 186.5h1M515 125.5h1M513 197.5h1M515 216.5h1M522 159.5h1M554 148.5h1M529 140.5h1M507 207.5h1M504 148.5h1M535 193.5h1M522 136.5h1M526 179.5h1M514 103.5h1M521 142.5h1M497 177.5h1M518 186.5h1M545 174.5h1M506 219.5h1M506 125.5h1M550 177.5h1M500 180.5h1M521 204.5h1M544 140.5h1M522 199.5h1M528 105.5h1M508 112.5h1M510 225.5h1M486 168.5h1M510 169.5h1M522 155.5h1M502 174.5h1M529 120.5h1M507 163.5h1M540 206.5h1M544 133.5h1M509 209.5h1M538 150.5h1M494 171.5h1M531 216.5h1M535 131.5h1M509 117.5h1M500 133.5h1M528 235.5h1M515 133.5h1M525 199.5h1M523 149.5h1M518 207.5h1M529 202.5h1M534 197.5h1M546 208.5h1M520 134.5h1M528 222.5h1M498 207.5h1M520 103.5h1M491 182.5h1M510 130.5h1M522 115.5h1M508 140.5h1M518 105.5h1M522 149.5h1M486 165.5h1M509 211.5h1M512 131.5h1M532 131.5h1M512 99.5h1M514 136.5h1M540 168.5h1M498 174.5h1M551 138.5h1M534 222.5h1M526 106.5h1M512 146.5h1M532 191.5h1M493 177.5h1M516 95.5h1M534 116.5h1M522 99.5h1M495 182.5h1M528 232.5h1M532 114.5h1M533 152.5h1M519 98.5h1M540 141.5h1M534 211.5h1M489 170.5h1M525 153.5h1M535 137.5h1M542 200.5h1M490 155.5h1M504 176.5h1M536 127.5h1M526 131.5h1M485 169.5h1M538 191.5h1M528 139.5h1M510 159.5h1M494 170.5h1M494 156.5h1M530 202.5h1M494 192.5h1M507 155.5h1M499 201.5h1M529 117.5h1M541 137.5h1M518 216.5h1M505 151.5h1M503 165.5h1M526 116.5h1M523 226.5h1M529 169.5h1M506 109.5h1M513 107.5h1M551 168.5h1M544 186.5h1M508 213.5h1M519 231.5h1M551 180.5h1M499 199.5h1M499 174.5h1M509 169.5h1M540 176.5h1M495 185.5h1M515 221.5h1M518 110.5h1M512 202.5h1M520 154.5h1M516 169.5h1M530 220.5h1M532 107.5h1M523 224.5h1M523 166.5h1M487 165.5h1M515 184.5h1M524 103.5h1M492 150.5h1M514 115.5h1M528 191.5h1M536 212.5h1M546 137.5h1M531 108.5h1M521 212.5h1M516 91.5h1M553 158.5h1M516 200.5h1M505 190.5h1M506 111.5h1M520 95.5h1M516 119.5h1M506 209.5h1M533 190.5h1M512 166.5h1M531 113.5h1M497 203.5h1M511 131.5h1M504 195.5h1M532 108.5h1M537 109.5h1M519 170.5h1M525 225.5h1M544 144.5h1M537 217.5h1M515 92.5h1M527 218.5h1M536 201.5h1M526 151.5h1M533 204.5h1M512 173.5h1M531 139.5h1M530 218.5h1M520 106.5h1M532 133.5h1M526 142.5h1M505 205.5h1M502 149.5h1M528 143.5h1M555 166.5h1M533 208.5h1M545 203.5h1M507 217.5h1M517 230.5h1M533 163.5h1M497 201.5h1M511 124.5h1M502 178.5h1M531 228.5h1M520 100.5h1M536 167.5h1M529 234.5h1M550 147.5h1M550 168.5h1M528 237.5h1M528 148.5h1M537 155.5h1M494 146.5h1M538 178.5h1M519 115.5h1M536 228.5h1M541 187.5h1M502 216.5h1M504 170.5h1M520 179.5h1M506 148.5h1M518 201.5h1M545 188.5h1M531 148.5h1M520 184.5h1M517 216.5h1M533 224.5h1M525 226.5h1M499 168.5h1M542 145.5h1M533 202.5h1M518 163.5h1M534 221.5h1M506 126.5h1M514 131.5h1M527 153.5h1M521 190.5h1M514 234.5h1M506 158.5h1M525 224.5h1M513 117.5h1M523 105.5h1M502 135.5h1M535 172.5h1M506 112.5h1M508 166.5h1M494 141.5h1M533 117.5h1M540 144.5h1M528 193.5h1M494 145.5h1M524 220.5h1M518 90.5h1M514 118.5h1M528 227.5h1M497 171.5h1M537 198.5h1M550 152.5h1M529 98.5h1M525 232.5h1M532 185.5h1M536 118.5h1M507 154.5h1M509 183.5h1M527 92.5h1M543 179.5h1M512 220.5h1M538 149.5h1M510 198.5h1M530 231.5h1M488 173.5h1M525 208.5h1M517 114.5h1M532 154.5h1M521 173.5h1M543 188.5h1M517 162.5h1M523 118.5h1M502 133.5h1M504 185.5h1M536 223.5h1M515 93.5h1M495 151.5h1M536 194.5h1M530 97.5h1M517 204.5h1M510 223.5h1M508 221.5h1M507 222.5h1M526 103.5h1M552 157.5h1M504 196.5h1M552 143.5h1M487 169.5h1M547 184.5h1M518 115.5h1M503 183.5h1M513 132.5h1M492 148.5h1M524 97.5h1M485 162.5h1M506 198.5h1M492 192.5h1M509 161.5h1M497 156.5h1M518 193.5h1M542 179.5h1M509 115.5h1M530 181.5h1M543 140.5h1M512 165.5h1M523 170.5h1M543 206.5h1M492 193.5h1M533 172.5h1M539 198.5h1M504 222.5h1M530 230.5h1M526 231.5h1M550 192.5h1M545 149.5h1M509 118.5h1M536 227.5h1M533 166.5h1M526 205.5h1M530 204.5h1M537 134.5h1M546 205.5h1M507 220.5h1M503 218.5h1M523 186.5h1M528 155.5h1M502 153.5h1M517 100.5h1M519 100.5h1M501 218.5h1M495 194.5h1M539 203.5h1M522 202.5h1M545 148.5h1M517 103.5h1M526 127.5h1M541 173.5h1M501 154.5h1M504 131.5h1M496 171.5h1M505 162.5h1M508 185.5h1M524 88.5h1M551 167.5h1M520 130.5h1M508 152.5h1M528 181.5h1M555 163.5h1M523 117.5h1M511 231.5h1M502 136.5h1M519 137.5h1M536 151.5h1M496 154.5h1M508 208.5h1M502 140.5h1M543 174.5h1M512 109.5h1M517 238.5h1M517 159.5h1M524 222.5h1M516 237.5h1M531 225.5h1M532 225.5h1M511 166.5h1M543 164.5h1M526 187.5h1M541 177.5h1M510 103.5h1M522 198.5h1M515 121.5h1M488 157.5h1M522 94.5h1M509 142.5h1M499 159.5h1M488 176.5h1M520 235.5h1M539 169.5h1M539 178.5h1M505 147.5h1M550 151.5h1M535 210.5h1M547 191.5h1M506 122.5h1M547 197.5h1M535 217.5h1M511 192.5h1M548 142.5h1M507 142.5h1M529 167.5h1M520 177.5h1M513 96.5h1M502 198.5h1M529 208.5h1M512 164.5h1M541 213.5h1M529 129.5h1M493 144.5h1M534 106.5h1M506 189.5h1M532 223.5h1M493 158.5h1M506 207.5h1M542 202.5h1M522 222.5h1M509 225.5h1M525 191.5h1M494 173.5h1M542 197.5h1M510 181.5h1M495 149.5h1M537 179.5h1M507 127.5h1M511 153.5h1M545 183.5h1M524 142.5h1M548 179.5h1M504 173.5h1M537 121.5h1M522 180.5h1M511 186.5h1M520 159.5h1M519 178.5h1M538 134.5h1M541 183.5h1M544 184.5h1M538 162.5h1M546 203.5h1M515 203.5h1M509 193.5h1M518 152.5h1M524 234.5h1M522 194.5h1M536 217.5h1M507 151.5h1M541 188.5h1M520 182.5h1M491 152.5h1M496 197.5h1M529 100.5h1M502 212.5h1M533 233.5h1M494 160.5h1M513 221.5h1M529 227.5h1M515 236.5h1M496 208.5h1M505 217.5h1M517 174.5h1M492 164.5h1M527 115.5h1M500 140.5h1M507 176.5h1M493 174.5h1M505 224.5h1M521 143.5h1M520 198.5h1M506 225.5h1M493 151.5h1M501 184.5h1M542 211.5h1M513 119.5h1M519 89.5h1M518 98.5h1M510 175.5h1M522 213.5h1M544 187.5h1M520 86.5h1M524 147.5h1M489 163.5h1M501 170.5h1M535 130.5h1M519 162.5h1M531 212.5h1M536 181.5h1M508 132.5h1M539 182.5h1M537 184.5h1M502 146.5h1M506 149.5h1M516 108.5h1M544 190.5h1M532 194.5h1M493 202.5h1M512 145.5h1M530 205.5h1M505 160.5h1M498 160.5h1M531 158.5h1M512 138.5h1M514 210.5h1M518 204.5h1M532 106.5h1M502 183.5h1M526 169.5h1M531 195.5h1M541 189.5h1M512 102.5h1M531 104.5h1M505 133.5h1M517 219.5h1M547 180.5h1M521 226.5h1M517 186.5h1M490 157.5h1M514 236.5h1M533 229.5h1M502 169.5h1M509 220.5h1M516 233.5h1M511 181.5h1M514 156.5h1M507 200.5h1M512 184.5h1M518 96.5h1M548 134.5h1M537 136.5h1M548 155.5h1M536 203.5h1M528 162.5h1M494 180.5h1M508 119.5h1M507 117.5h1M511 119.5h1M499 214.5h1M535 170.5h1M545 175.5h1M518 197.5h1M508 142.5h1M511 204.5h1M511 183.5h1M506 218.5h1M521 225.5h1M546 175.5h1M538 160.5h1M522 132.5h1M550 174.5h1M498 141.5h1M506 193.5h1M504 116.5h1M501 186.5h1M540 113.5h1M505 143.5h1M488 163.5h1M497 193.5h1M525 196.5h1M510 105.5h1M542 156.5h1M503 168.5h1M529 194.5h1M518 144.5h1M505 129.5h1M541 134.5h1M536 196.5h1M527 134.5h1M518 224.5h1M520 195.5h1M507 129.5h1M512 113.5h1M530 109.5h1M504 193.5h1M497 205.5h1M486 174.5h1M535 158.5h1M543 202.5h1M549 167.5h1M543 199.5h1M541 204.5h1M536 148.5h1M487 179.5h1M538 204.5h1M550 186.5h1M519 191.5h1M502 159.5h1M521 108.5h1M525 94.5h1M535 189.5h1M523 141.5h1M503 222.5h1M526 158.5h1M495 201.5h1M521 233.5h1M508 131.5h1M521 122.5h1M526 166.5h1M489 173.5h1M507 206.5h1M526 184.5h1M521 106.5h1M546 173.5h1M539 192.5h1M516 135.5h1M503 214.5h1M544 167.5h1M516 118.5h1M505 158.5h1M497 131.5h1M507 115.5h1M517 124.5h1M513 222.5h1M501 194.5h1M525 195.5h1M508 155.5h1M506 221.5h1M546 201.5h1M504 146.5h1M502 190.5h1M538 174.5h1M506 145.5h1M520 209.5h1M516 152.5h1M526 128.5h1M513 213.5h1M502 177.5h1M531 235.5h1M531 159.5h1M552 186.5h1M545 210.5h1M516 196.5h1M488 159.5h1M528 174.5h1M525 227.5h1M537 150.5h1M507 124.5h1M514 222.5h1M552 123.5h1M550 118.5h1M554 111.5h1M551 108.5h1M551 120.5h1M553 105.5h1M551 122.5h1M547 97.5h1M557 116.5h1M549 122.5h1M550 116.5h1M550 97.5h1M554 127.5h1M553 106.5h1M550 128.5h1M551 102.5h1M555 112.5h1M551 124.5h1M549 127.5h1M554 128.5h1M548 113.5h1M550 98.5h1M547 123.5h1M552 107.5h1M546 109.5h1M551 109.5h1M546 114.5h1M554 115.5h1M549 116.5h1M556 128.5h1M550 119.5h1M548 115.5h1M546 111.5h1M550 101.5h1M553 112.5h1M554 107.5h1M556 103.5h1M554 129.5h1M550 105.5h1M553 107.5h1M556 122.5h1M548 105.5h1M546 113.5h1M563 160.5h1M561 166.5h1M561 174.5h1M560 170.5h1M561 178.5h1M558 158.5h1M561 175.5h1M564 160.5h1M565 170.5h1M566 160.5h1M565 161.5h1M564 176.5h1M563 174.5h1M559 173.5h1M561 167.5h1M564 167.5h1M558 165.5h1M565 165.5h1M564 169.5h1M566 167.5h1M560 174.5h1M561 159.5h1M562 159.5h1M558 167.5h1M563 172.5h1M560 164.5h1M558 170.5h1M563 176.5h1M562 113.5h1M558 129.5h1M546 168.5h1M545 134.5h1M546 115.5h1M547 120.5h1M558 124.5h1M558 99.5h1M545 118.5h1M557 115.5h1M550 113.5h1M540 136.5h1M554 145.5h1M545 102.5h1M551 166.5h1M554 113.5h1M540 101.5h1M552 137.5h1M542 141.5h1M562 168.5h1M548 174.5h1" stroke="#df5440" stroke-width="1" fill="none"/>
<path d="M652 111.5h1M669 118.5h1M641 80.5h1M619 64.5h1M631 68.5h1M665 109.5h1M683 95.5h1M672 108.5h1M684 109.5h1M664 84.5h1M683 112.5h1M672 88.5h1M652 93.5h1M649 104.5h1M656 103.5h1M641 52.5h1M620 66.5h1M618 54.5h1M657 99.5h1M646 77.5h1M673 85.5h1M682 125.5h1M666 67.5h1M640 71.5h1M668 68.5h1M680 78.5h1M635 50.5h1M667 82.5h1M684 130.5h1M628 60.5h1M673 95.5h1M656 92.5h1M661 72.5h1M675 110.5h1M661 80.5h1M685 129.5h1M672 79.5h1M618 55.5h1M618 62.5h1M652 83.5h1M671 110.5h1M676 89.5h1M646 91.5h1M661 57.5h1M670 106.5h1M637 79.5h1M634 54.5h1M672 101.5h1M672 96.5h1M638 62.5h1M630 76.5h1M633 62.5h1M647 68.5h1M659 76.5h1M669 110.5h1M679 116.5h1M679 74.5h1M678 109.5h1M669 77.5h1M674 107.5h1M621 67.5h1M667 90.5h1M665 59.5h1M654 114.5h1M622 54.5h1M637 51.5h1M671 66.5h1M675 111.5h1M626 58.5h1M660 87.5h1M635 49.5h1M689 116.5h1M659 97.5h1M661 84.5h1M646 89.5h1M679 94.5h1M662 81.5h1M672 118.5h1M677 128.5h1M624 59.5h1M621 54.5h1M655 114.5h1M675 121.5h1M690 103.5h1M652 64.5h1M644 84.5h1M646 62.5h1M667 94.5h1M682 120.5h1M639 55.5h1M655 57.5h1M673 112.5h1M680 105.5h1M658 88.5h1M674 73.5h1M628 65.5h1M675 122.5h1M645 92.5h1M666 80.5h1M622 64.5h1M638 64.5h1M679 102.5h1M661 79.5h1M641 51.5h1M680 113.5h1M660 80.5h1M675 94.5h1M673 93.5h1M647 73.5h1M671 118.5h1M673 86.5h1M663 99.5h1M665 73.5h1M683 132.5h1M678 133.5h1M632 49.5h1M672 78.5h1M670 123.5h1M656 90.5h1M670 97.5h1M667 119.5h1M657 81.5h1M646 90.5h1M646 74.5h1M671 72.5h1M661 76.5h1M624 58.5h1M675 76.5h1M629 60.5h1M662 72.5h1M627 60.5h1M651 93.5h1M642 62.5h1M664 110.5h1M687 102.5h1M647 79.5h1M651 66.5h1M675 90.5h1M672 80.5h1M668 97.5h1M683 107.5h1M680 121.5h1M624 64.5h1M646 92.5h1M685 113.5h1M647 95.5h1M677 107.5h1M648 94.5h1M668 119.5h1M624 54.5h1M647 91.5h1M627 58.5h1M648 88.5h1M668 101.5h1M677 80.5h1M633 54.5h1M669 93.5h1M647 74.5h1M659 74.5h1M644 61.5h1M652 79.5h1M667 114.5h1M681 121.5h1M658 109.5h1M665 62.5h1M679 100.5h1M661 75.5h1M682 115.5h1M669 89.5h1M679 121.5h1M667 61.5h1M626 49.5h1M675 119.5h1M672 67.5h1M651 73.5h1M666 66.5h1M652 112.5h1M630 61.5h1M621 66.5h1M659 56.5h1M657 88.5h1M673 67.5h1M627 61.5h1M623 70.5h1M629 67.5h1M675 105.5h1M668 94.5h1M631 54.5h1M670 85.5h1M627 59.5h1M626 71.5h1M658 72.5h1M658 57.5h1M635 54.5h1M674 124.5h1M650 102.5h1M677 120.5h1M672 84.5h1M660 74.5h1M623 52.5h1M625 71.5h1M673 68.5h1M660 73.5h1M633 51.5h1M683 131.5h1M674 130.5h1M682 99.5h1M662 114.5h1M662 77.5h1M648 100.5h1M688 100.5h1M668 104.5h1M648 107.5h1M660 95.5h1M657 117.5h1M653 72.5h1M656 102.5h1M665 118.5h1M675 92.5h1M688 93.5h1M671 92.5h1M640 65.5h1M661 74.5h1M686 112.5h1M624 60.5h1M615 62.5h1M618 53.5h1M671 69.5h1M622 63.5h1M669 82.5h1M662 82.5h1M658 59.5h1M653 81.5h1M663 75.5h1M654 94.5h1M687 91.5h1M667 88.5h1M632 59.5h1M679 93.5h1M660 57.5h1M630 65.5h1M679 127.5h1M658 62.5h1M668 73.5h1M617 60.5h1M663 115.5h1M683 88.5h1M661 110.5h1M657 87.5h1M658 119.5h1M675 95.5h1M686 106.5h1M649 91.5h1M675 73.5h1M646 66.5h1M655 107.5h1M637 53.5h1M675 72.5h1M643 84.5h1M678 88.5h1M662 102.5h1M649 108.5h1M624 55.5h1M670 83.5h1M681 79.5h1M666 92.5h1M655 74.5h1M623 68.5h1M652 91.5h1M664 108.5h1M657 115.5h1M654 67.5h1M669 76.5h1M663 77.5h1M625 74.5h1M670 87.5h1M679 80.5h1M632 58.5h1M669 104.5h1M639 82.5h1M664 115.5h1M628 72.5h1M652 65.5h1M661 111.5h1M688 114.5h1M662 61.5h1M676 73.5h1M675 107.5h1M691 105.5h1M680 134.5h1M648 90.5h1M666 76.5h1M670 67.5h1M623 66.5h1M671 103.5h1M646 78.5h1M652 73.5h1M653 86.5h1M668 122.5h1M678 126.5h1M664 104.5h1M679 77.5h1M686 115.5h1M627 67.5h1M678 78.5h1M674 82.5h1M649 66.5h1M656 99.5h1M617 62.5h1M635 62.5h1M647 57.5h1M647 75.5h1M653 73.5h1M667 81.5h1M621 69.5h1M682 132.5h1M636 57.5h1M668 100.5h1M653 110.5h1M646 82.5h1M624 66.5h1M656 58.5h1M679 99.5h1M649 89.5h1M629 56.5h1M649 95.5h1M677 105.5h1M658 85.5h1M626 70.5h1M672 68.5h1M664 91.5h1M638 58.5h1M682 101.5h1M677 78.5h1M665 95.5h1M657 76.5h1M675 71.5h1M669 96.5h1M677 111.5h1M657 93.5h1M692 104.5h1M638 80.5h1M664 109.5h1M624 51.5h1M664 88.5h1M635 71.5h1M680 75.5h1M634 62.5h1M676 92.5h1M662 74.5h1M653 65.5h1M669 117.5h1M660 71.5h1M663 94.5h1M626 59.5h1M668 96.5h1M666 81.5h1M653 58.5h1M665 89.5h1M661 65.5h1M647 99.5h1M617 64.5h1M688 112.5h1M622 70.5h1M651 92.5h1M678 117.5h1M675 75.5h1M679 76.5h1M651 88.5h1M668 103.5h1M642 52.5h1M688 102.5h1M673 69.5h1M665 112.5h1M673 111.5h1M666 65.5h1M642 83.5h1M692 106.5h1M676 70.5h1M675 70.5h1M686 102.5h1M652 103.5h1M670 94.5h1M663 110.5h1M674 78.5h1M665 63.5h1M666 112.5h1M664 70.5h1M619 58.5h1M674 81.5h1M659 91.5h1M673 72.5h1M621 56.5h1M685 97.5h1M647 61.5h1M654 113.5h1M657 114.5h1M672 65.5h1M630 59.5h1M680 82.5h1M640 69.5h1M669 92.5h1M653 74.5h1M665 65.5h1M648 60.5h1M655 86.5h1M670 111.5h1M662 75.5h1M623 62.5h1M663 107.5h1M654 109.5h1M663 101.5h1M654 115.5h1M686 123.5h1M665 88.5h1M663 68.5h1M649 76.5h1M665 106.5h1M674 110.5h1M690 96.5h1M686 100.5h1M668 70.5h1M644 72.5h1M687 99.5h1M671 64.5h1M668 109.5h1M687 112.5h1M667 102.5h1M682 134.5h1M619 67.5h1M630 52.5h1M664 63.5h1M648 96.5h1M640 52.5h1M622 50.5h1M672 102.5h1M631 58.5h1M662 89.5h1M668 107.5h1M639 69.5h1M686 121.5h1M664 112.5h1M647 84.5h1M673 100.5h1M636 55.5h1M619 70.5h1M655 96.5h1M669 107.5h1M656 107.5h1M618 52.5h1M654 100.5h1M681 118.5h1M653 78.5h1M680 125.5h1M664 96.5h1M681 129.5h1M680 87.5h1M649 74.5h1M629 68.5h1M676 91.5h1M670 109.5h1M669 88.5h1M679 111.5h1M676 110.5h1M682 79.5h1M661 83.5h1M673 110.5h1M642 69.5h1M667 70.5h1M668 83.5h1M659 86.5h1M656 63.5h1M658 71.5h1M642 54.5h1M626 53.5h1M686 124.5h1M642 84.5h1M662 71.5h1M675 80.5h1M629 70.5h1M666 102.5h1M654 71.5h1M667 92.5h1M651 76.5h1M656 74.5h1M658 73.5h1M664 98.5h1M673 125.5h1M688 111.5h1M669 120.5h1M674 104.5h1M660 90.5h1M621 51.5h1M659 116.5h1M639 60.5h1M663 117.5h1M674 120.5h1M653 67.5h1M631 71.5h1M632 54.5h1M667 69.5h1M686 99.5h1M642 78.5h1M626 64.5h1M641 63.5h1M651 74.5h1M662 73.5h1M666 107.5h1M666 77.5h1M669 75.5h1M648 104.5h1M689 110.5h1M647 77.5h1M684 95.5h1M636 67.5h1M663 116.5h1M647 70.5h1M682 122.5h1M630 51.5h1M666 82.5h1M676 95.5h1M623 57.5h1M666 84.5h1M668 88.5h1M673 103.5h1M648 93.5h1M626 60.5h1M621 72.5h1M651 80.5h1M648 106.5h1M673 65.5h1M672 125.5h1M678 115.5h1M663 70.5h1M665 104.5h1M622 53.5h1M664 100.5h1M666 104.5h1M649 60.5h1M654 72.5h1M655 62.5h1M641 57.5h1M686 109.5h1M649 69.5h1M686 91.5h1M635 56.5h1M618 63.5h1M639 81.5h1M670 75.5h1M649 109.5h1M649 101.5h1M660 114.5h1M680 104.5h1M632 51.5h1M689 97.5h1M680 91.5h1M663 69.5h1M656 66.5h1M620 54.5h1M675 104.5h1M674 90.5h1M625 70.5h1M678 73.5h1M646 84.5h1M633 52.5h1M626 55.5h1M652 90.5h1M679 134.5h1M625 60.5h1M668 89.5h1M669 114.5h1M651 78.5h1M678 98.5h1M664 71.5h1M647 63.5h1M678 95.5h1M689 104.5h1M676 98.5h1M671 98.5h1M646 59.5h1M659 101.5h1M682 105.5h1M667 68.5h1M622 60.5h1M687 111.5h1M670 116.5h1M630 64.5h1M626 74.5h1M683 116.5h1M668 112.5h1M660 91.5h1M679 98.5h1M677 79.5h1M664 83.5h1M672 117.5h1M681 87.5h1M650 76.5h1M656 72.5h1M665 101.5h1M667 115.5h1M680 81.5h1M650 78.5h1M644 53.5h1M660 76.5h1M691 106.5h1M634 74.5h1M662 90.5h1M674 88.5h1M677 109.5h1M621 71.5h1M666 103.5h1M626 61.5h1M667 104.5h1M658 70.5h1M681 110.5h1M659 110.5h1M680 76.5h1M680 103.5h1M680 114.5h1M681 102.5h1M671 116.5h1M651 89.5h1M656 98.5h1M657 92.5h1M663 114.5h1M662 98.5h1M620 62.5h1M650 101.5h1M655 92.5h1M671 91.5h1M669 91.5h1M626 62.5h1M654 112.5h1M664 95.5h1M657 91.5h1M652 61.5h1M668 74.5h1M686 122.5h1M653 99.5h1M670 82.5h1M622 56.5h1M657 74.5h1M670 74.5h1M667 117.5h1M681 96.5h1M642 79.5h1M663 65.5h1M684 127.5h1M659 72.5h1M653 108.5h1M681 126.5h1M630 62.5h1M644 73.5h1M636 78.5h1M663 78.5h1M669 97.5h1M617 56.5h1M674 118.5h1M649 81.5h1M671 77.5h1M669 90.5h1M669 84.5h1M645 90.5h1M685 105.5h1M662 112.5h1M668 98.5h1M676 77.5h1M652 67.5h1M661 89.5h1M679 117.5h1M647 98.5h1M664 99.5h1M653 80.5h1M658 86.5h1M650 70.5h1M655 105.5h1M649 80.5h1M681 100.5h1M676 94.5h1M665 78.5h1M651 64.5h1M681 125.5h1M675 82.5h1M684 126.5h1M632 66.5h1M678 86.5h1M621 57.5h1M673 90.5h1M682 84.5h1M627 51.5h1M687 94.5h1M673 113.5h1M624 61.5h1M633 48.5h1M669 71.5h1M659 79.5h1M617 67.5h1M676 125.5h1M681 109.5h1M668 78.5h1M625 53.5h1M672 122.5h1M673 114.5h1M625 56.5h1M638 52.5h1M633 71.5h1M691 103.5h1M666 69.5h1M667 79.5h1M687 124.5h1M677 71.5h1M677 124.5h1M665 71.5h1M685 88.5h1M660 112.5h1M667 93.5h1M640 53.5h1M620 63.5h1M669 63.5h1M650 61.5h1M659 82.5h1M682 87.5h1M657 70.5h1M669 64.5h1M654 65.5h1M646 58.5h1M672 104.5h1M658 117.5h1M642 63.5h1M671 102.5h1M647 69.5h1M687 101.5h1M667 83.5h1M669 73.5h1M633 58.5h1M666 117.5h1M678 107.5h1M656 81.5h1M639 61.5h1M630 67.5h1M622 57.5h1M665 98.5h1M665 100.5h1M678 108.5h1M665 82.5h1M630 48.5h1M639 50.5h1M657 118.5h1M622 73.5h1M666 100.5h1M649 98.5h1M619 71.5h1M674 100.5h1M635 80.5h1M668 67.5h1M644 76.5h1M675 115.5h1M680 109.5h1M620 58.5h1M679 132.5h1M657 100.5h1M622 62.5h1M649 88.5h1M670 71.5h1M644 74.5h1M625 50.5h1M632 56.5h1M662 79.5h1M677 100.5h1M660 94.5h1M630 69.5h1M642 67.5h1M630 60.5h1M675 93.5h1M668 69.5h1M624 52.5h1M654 75.5h1M641 61.5h1M687 93.5h1M661 94.5h1M666 73.5h1M664 82.5h1M675 102.5h1M673 78.5h1M692 107.5h1M649 96.5h1M625 65.5h1M670 70.5h1M671 67.5h1M667 65.5h1M682 113.5h1M663 87.5h1M658 82.5h1M673 94.5h1M668 75.5h1M654 84.5h1M664 78.5h1M669 102.5h1M672 116.5h1M655 90.5h1M681 122.5h1M680 126.5h1M675 128.5h1M681 128.5h1M680 107.5h1M687 117.5h1M643 80.5h1M681 86.5h1M652 106.5h1M663 102.5h1M664 120.5h1M629 62.5h1M682 131.5h1M683 129.5h1M687 109.5h1M621 65.5h1M673 104.5h1M667 98.5h1M645 54.5h1M683 94.5h1M647 62.5h1M618 66.5h1M623 63.5h1M682 123.5h1M644 68.5h1M676 102.5h1M674 105.5h1M651 81.5h1M637 62.5h1M665 79.5h1M653 75.5h1M623 53.5h1M627 62.5h1M684 129.5h1M632 53.5h1M628 62.5h1M654 83.5h1M666 62.5h1M640 70.5h1M674 103.5h1M678 118.5h1M673 81.5h1M651 79.5h1M659 106.5h1M675 88.5h1M689 109.5h1M675 123.5h1M690 97.5h1M681 98.5h1M677 133.5h1M628 61.5h1M679 92.5h1M674 71.5h1M649 111.5h1M675 87.5h1M648 86.5h1M627 57.5h1M617 59.5h1M641 59.5h1M670 93.5h1M674 70.5h1M685 104.5h1M661 60.5h1M655 93.5h1M657 64.5h1M684 125.5h1M645 76.5h1M656 89.5h1M663 120.5h1M623 64.5h1M660 116.5h1M661 102.5h1M659 115.5h1M664 77.5h1M680 83.5h1M672 89.5h1M674 89.5h1M650 80.5h1M629 63.5h1M685 120.5h1M677 113.5h1M626 57.5h1M676 78.5h1M623 60.5h1M689 99.5h1M634 59.5h1M685 127.5h1M623 59.5h1M665 66.5h1M617 58.5h1M647 87.5h1M656 91.5h1M661 118.5h1M631 72.5h1M688 96.5h1M678 94.5h1M635 55.5h1M652 87.5h1M633 78.5h1M681 127.5h1M661 108.5h1M662 103.5h1M677 81.5h1M660 85.5h1M649 112.5h1M664 102.5h1M682 81.5h1M649 73.5h1M656 79.5h1M689 115.5h1M633 73.5h1M661 59.5h1M637 60.5h1M656 86.5h1M665 87.5h1M675 112.5h1M687 120.5h1M631 53.5h1M679 122.5h1M661 58.5h1M681 113.5h1M659 62.5h1M665 72.5h1M654 88.5h1M662 115.5h1M666 64.5h1M668 81.5h1M628 53.5h1M672 119.5h1M651 68.5h1M677 115.5h1M651 95.5h1M671 115.5h1M681 114.5h1M662 101.5h1M665 107.5h1M660 78.5h1M666 109.5h1M684 112.5h1M656 56.5h1M671 87.5h1M663 62.5h1M678 84.5h1M679 106.5h1M675 91.5h1M655 99.5h1M647 80.5h1M616 59.5h1M634 63.5h1M657 68.5h1M636 60.5h1M644 58.5h1M635 52.5h1M680 88.5h1M650 110.5h1M678 110.5h1M668 90.5h1M651 99.5h1M654 102.5h1M659 108.5h1M684 89.5h1M668 118.5h1M665 122.5h1M645 59.5h1M673 119.5h1M659 63.5h1M641 74.5h1M682 112.5h1M691 108.5h1M664 64.5h1M683 113.5h1M651 103.5h1M638 79.5h1M650 91.5h1M661 78.5h1M668 66.5h1M675 67.5h1M680 100.5h1M631 57.5h1M683 118.5h1M688 92.5h1M630 47.5h1M671 111.5h1M686 92.5h1M689 120.5h1M684 124.5h1M650 74.5h1M656 70.5h1M639 51.5h1M675 120.5h1M690 99.5h1M672 81.5h1M624 69.5h1M650 67.5h1M666 95.5h1M676 86.5h1M646 80.5h1M670 68.5h1M667 78.5h1M652 80.5h1M665 75.5h1M648 61.5h1M636 49.5h1M677 104.5h1M654 73.5h1M630 50.5h1M620 69.5h1M674 94.5h1M668 62.5h1M636 66.5h1M628 56.5h1M668 77.5h1M654 86.5h1M674 91.5h1M654 110.5h1M664 69.5h1M688 121.5h1M633 72.5h1M683 109.5h1M654 74.5h1M677 97.5h1M667 67.5h1M633 69.5h1M677 108.5h1M654 105.5h1M670 63.5h1M627 70.5h1M661 87.5h1M637 71.5h1M670 88.5h1M677 93.5h1M618 64.5h1M662 99.5h1M645 66.5h1M621 58.5h1M665 97.5h1M681 78.5h1M618 68.5h1M631 52.5h1M675 86.5h1M659 71.5h1M648 81.5h1M652 100.5h1M646 76.5h1M648 63.5h1M658 91.5h1M671 88.5h1M656 65.5h1M626 65.5h1M653 60.5h1M686 127.5h1M662 108.5h1M638 51.5h1M659 83.5h1M660 62.5h1M668 84.5h1M638 66.5h1M671 76.5h1M656 111.5h1M639 66.5h1M662 100.5h1M671 75.5h1M660 113.5h1M652 68.5h1M674 95.5h1M667 111.5h1M656 88.5h1M660 107.5h1M652 84.5h1M654 98.5h1M674 122.5h1M665 93.5h1M690 116.5h1M625 61.5h1M679 95.5h1M629 75.5h1M668 92.5h1M628 55.5h1M621 63.5h1M655 104.5h1M664 106.5h1M668 65.5h1M662 104.5h1M621 64.5h1M629 61.5h1M665 67.5h1M672 90.5h1M680 98.5h1M643 69.5h1M688 94.5h1M678 123.5h1M665 103.5h1M684 122.5h1M660 58.5h1M631 63.5h1M683 104.5h1M667 86.5h1M671 108.5h1M662 62.5h1M689 103.5h1M616 66.5h1M664 72.5h1M672 95.5h1M678 83.5h1M650 114.5h1M685 93.5h1M687 96.5h1M681 117.5h1M669 67.5h1M664 76.5h1M635 61.5h1M645 57.5h1M664 93.5h1M625 75.5h1M635 69.5h1M672 74.5h1M685 111.5h1M690 98.5h1M689 102.5h1M684 97.5h1M653 115.5h1M637 52.5h1M671 124.5h1M673 109.5h1M625 49.5h1M676 106.5h1M655 60.5h1M670 119.5h1M674 97.5h1M662 105.5h1M659 104.5h1M676 129.5h1M665 102.5h1M671 119.5h1M632 78.5h1M640 59.5h1M640 55.5h1M679 82.5h1M627 49.5h1M689 119.5h1M618 59.5h1M655 103.5h1M684 85.5h1M684 116.5h1M682 127.5h1M666 119.5h1M671 85.5h1M678 127.5h1M666 61.5h1M643 61.5h1M688 108.5h1M659 77.5h1M655 72.5h1M667 118.5h1M628 71.5h1M660 92.5h1M667 96.5h1M682 116.5h1M652 109.5h1M649 83.5h1M666 96.5h1M640 67.5h1M656 80.5h1M673 118.5h1M686 104.5h1M616 65.5h1M645 63.5h1M655 115.5h1M624 68.5h1M660 81.5h1M658 100.5h1M631 50.5h1M619 62.5h1M654 77.5h1M685 87.5h1M675 127.5h1M659 96.5h1M650 64.5h1M660 106.5h1M640 56.5h1M651 77.5h1M663 73.5h1M663 111.5h1" stroke="#4db6d0" stroke-width="1" fill="none"/>
<path d="M460 259V214M459.3 259H505" stroke="#231815" stroke-width="1.5" fill="none"/>
<path d="M460 206.2L465.6 219.5L460 217L454.4 219.5Z" fill="#231815"/>
<path d="M512.6 259L499.3 264.6L501.8 259L499.3 253.4Z" fill="#231815"/>
<text transform="translate(450.3 236.5) rotate(-90)" font-size="11" text-anchor="middle" fill="#231815">UMAP_2</text>
<text x="459.7" y="274.7" font-size="11" fill="#231815">UMAP_1</text>
<text x="712.8" y="98.6" font-size="11.2" font-weight="bold" fill="#111">Cell cluster</text>
<rect x="712.4" y="107.2" width="5.9" height="5.9" fill="#dc4a34"/>
<rect x="712.4" y="118.8" width="5.9" height="5.9" fill="#44b0c8"/>
<text x="722.8" y="113.6" font-size="9.6" fill="#222">iCAF</text>
<text x="722.8" y="124.4" font-size="9.6" fill="#222">myCAF</text>
<text transform="translate(40.8 450) rotate(-90)" font-size="11.2" text-anchor="middle" fill="#1a1a1a">Expression Level</text>
<path d="M64.5 344V382.3H125.7" fill="none" stroke="#666" stroke-width="1"/>
<line x1="62.7" y1="380.3" x2="64.5" y2="380.3" stroke="#666" stroke-width="0.8"/>
<text x="61.3" y="383.5" font-size="9" text-anchor="end" fill="#2a2a2a">0</text>
<line x1="62.7" y1="351" x2="64.5" y2="351" stroke="#666" stroke-width="0.8"/>
<text x="61.3" y="354.2" font-size="9" text-anchor="end" fill="#2a2a2a">3</text>
<line x1="81" y1="382.3" x2="81" y2="384.1" stroke="#666" stroke-width="0.8"/>
<line x1="109" y1="382.3" x2="109" y2="384.1" stroke="#666" stroke-width="0.8"/>
<text x="95.7" y="338.7" font-size="10.2" text-anchor="middle" fill="#1a1a1a">PDPN</text>
<path d="M81 345.3L81.5 346L82.3 347L83.2 348.1L84 349.3L84.8 350.5L85.6 351.7L86.4 353L87 354.3L87.5 355.6L87.9 356.8L88.2 358.1L88.3 359.3L88.2 360.6L87.9 361.8L87.5 363.1L87 364.3L86.5 365.6L85.8 366.8L85.1 368.1L84.5 369.3L83.9 370.5L83.3 371.7L82.7 372.9L82.3 373.8L82 374.5L81.9 375L81.9 375.4L82 375.8L82.2 376.3L82.4 376.8L82.8 377.3L83.5 377.8L84.5 378.2L85.8 378.6L87.2 379L88.5 379.3L89.9 379.6L91.4 379.9L92.8 380.1L93.7 380.3L68.3 380.3L69.2 380.1L70.6 379.9L72.1 379.6L73.5 379.3L74.8 379L76.2 378.6L77.5 378.2L78.5 377.8L79.2 377.3L79.6 376.8L79.8 376.3L80 375.8L80.1 375.4L80.1 375L80 374.5L79.7 373.8L79.3 372.9L78.7 371.7L78.1 370.5L77.5 369.3L76.9 368.1L76.2 366.8L75.5 365.6L75 364.3L74.5 363.1L74.1 361.8L73.8 360.6L73.7 359.3L73.8 358.1L74.1 356.8L74.5 355.6L75 354.3L75.6 353L76.4 351.7L77.2 350.5L78 349.3L78.8 348.1L79.7 347L80.5 346L81 345.3Z" fill="#dc4a34" stroke="#3a3a3a" stroke-width="0.5"/>
<line x1="109" y1="360.8" x2="109" y2="380.3" stroke="#888" stroke-width="0.9"/>
<line x1="96.3" y1="380.3" x2="121.7" y2="380.3" stroke="#8c8c8c" stroke-width="1.4"/>
<path d="M146 344V382.3H207.2" fill="none" stroke="#666" stroke-width="1"/>
<line x1="144.2" y1="380.3" x2="146" y2="380.3" stroke="#666" stroke-width="0.8"/>
<text x="142.8" y="383.5" font-size="9" text-anchor="end" fill="#2a2a2a">0</text>
<line x1="144.2" y1="346.4" x2="146" y2="346.4" stroke="#666" stroke-width="0.8"/>
<text x="142.8" y="349.6" font-size="9" text-anchor="end" fill="#2a2a2a">6</text>
<line x1="162.5" y1="382.3" x2="162.5" y2="384.1" stroke="#666" stroke-width="0.8"/>
<line x1="190.5" y1="382.3" x2="190.5" y2="384.1" stroke="#666" stroke-width="0.8"/>
<text x="177.2" y="338.7" font-size="10.2" text-anchor="middle" fill="#1a1a1a">DCN</text>
<line x1="162.5" y1="345.3" x2="162.5" y2="380.3" stroke="#555" stroke-width="0.9"/>
<path d="M163.1 350.3L163.5 350.8L164 351.6L164.6 352.5L165.5 353.3L166.7 354.1L168.1 354.8L169.6 355.6L171 356.3L172.3 357.1L173.6 357.8L174.6 358.6L175.2 359.3L175.3 360.1L174.9 360.8L174.3 361.6L173.5 362.3L172.5 363.1L171.4 363.8L170.1 364.6L169 365.3L168 366L167.1 366.6L166.2 367.2L165.5 367.8L164.9 368.5L164.4 369.2L164 369.9L163.7 370.3L161.3 370.3L161 369.9L160.6 369.2L160.1 368.5L159.5 367.8L158.8 367.2L157.9 366.6L157 366L156 365.3L154.9 364.6L153.6 363.8L152.5 363.1L151.5 362.3L150.7 361.6L150.1 360.8L149.7 360.1L149.8 359.3L150.4 358.6L151.4 357.8L152.7 357.1L154 356.3L155.4 355.6L156.9 354.8L158.3 354.1L159.5 353.3L160.4 352.5L161 351.6L161.5 350.8L161.9 350.3Z" fill="#dc4a34" stroke="#3a3a3a" stroke-width="0.5"/>
<line x1="162.5" y1="370.3" x2="162.5" y2="380.3" stroke="#555" stroke-width="0.9"/>
<circle cx="162.5" cy="380.3" r="1.1" fill="#333"/>
<line x1="190.5" y1="355.3" x2="190.5" y2="360.3" stroke="#555" stroke-width="0.9"/>
<path d="M191.1 359.3L191.4 360L191.9 361L192.5 362.1L193 363.3L193.5 364.5L194.1 365.8L194.6 367.1L195 368.3L195.3 369.3L195.5 370.1L195.6 371L195.5 371.8L195.3 372.7L194.9 373.6L194.4 374.5L194 375.3L193.5 375.9L192.9 376.4L192.5 376.9L192.3 377.3L192.5 377.7L193 378.1L193.7 378.5L194.5 378.8L195.6 379.1L196.9 379.4L198.3 379.6L199.5 379.8L200.6 380L201.7 380.1L202.6 380.2L203.2 380.3L177.8 380.3L178.4 380.2L179.3 380.1L180.4 380L181.5 379.8L182.7 379.6L184.1 379.4L185.4 379.1L186.5 378.8L187.3 378.5L188 378.1L188.5 377.7L188.7 377.3L188.5 376.9L188.1 376.4L187.5 375.9L187 375.3L186.6 374.5L186.1 373.6L185.7 372.7L185.5 371.8L185.4 371L185.5 370.1L185.7 369.3L186 368.3L186.4 367.1L186.9 365.8L187.5 364.5L188 363.3L188.5 362.1L189.1 361L189.6 360L189.9 359.3Z" fill="#44b0c8" stroke="#3a3a3a" stroke-width="0.5"/>
<path d="M232.5 344V382.3H293.7" fill="none" stroke="#666" stroke-width="1"/>
<line x1="230.7" y1="380.3" x2="232.5" y2="380.3" stroke="#666" stroke-width="0.8"/>
<text x="229.3" y="383.5" font-size="9" text-anchor="end" fill="#2a2a2a">0</text>
<line x1="230.7" y1="354.3" x2="232.5" y2="354.3" stroke="#666" stroke-width="0.8"/>
<text x="229.3" y="357.5" font-size="9" text-anchor="end" fill="#2a2a2a">4</text>
<line x1="249" y1="382.3" x2="249" y2="384.1" stroke="#666" stroke-width="0.8"/>
<line x1="277" y1="382.3" x2="277" y2="384.1" stroke="#666" stroke-width="0.8"/>
<text x="263.7" y="338.7" font-size="10.2" text-anchor="middle" fill="#1a1a1a">MYL9</text>
<path d="M249 352.3L249.4 353L250 354L250.7 355.1L251.5 356.3L252.4 357.5L253.4 358.7L254.5 360L255.5 361.3L256.7 362.8L257.9 364.4L258.9 365.9L259.4 367.3L259.1 368.5L258.2 369.5L257.1 370.4L256 371.3L254.9 372.1L253.6 372.9L252.4 373.6L251.5 374.3L250.9 374.9L250.6 375.4L250.5 375.8L250.5 376.3L250.6 376.8L250.9 377.4L251.3 377.9L252 378.3L253 378.7L254.3 379L255.7 379.2L257 379.5L258.3 379.7L259.7 380L260.9 380.2L261.7 380.3L236.3 380.3L237.1 380.2L238.3 380L239.7 379.7L241 379.5L242.3 379.2L243.7 379L245 378.7L246 378.3L246.7 377.9L247.1 377.4L247.4 376.8L247.5 376.3L247.5 375.8L247.4 375.4L247.1 374.9L246.5 374.3L245.6 373.6L244.4 372.9L243.1 372.1L242 371.3L240.9 370.4L239.8 369.5L238.9 368.5L238.6 367.3L239.1 365.9L240.1 364.4L241.3 362.8L242.5 361.3L243.5 360L244.6 358.7L245.6 357.5L246.5 356.3L247.3 355.1L248 354L248.6 353L249 352.3Z" fill="#dc4a34" stroke="#3a3a3a" stroke-width="0.5"/>
<line x1="277" y1="345.3" x2="277" y2="380.3" stroke="#555" stroke-width="0.9"/>
<path d="M277.6 348.3L278.4 348.8L279.5 349.6L280.8 350.5L282 351.3L283.3 352L284.6 352.7L285.9 353.5L287 354.3L287.9 355.3L288.7 356.3L289.2 357.3L289.5 358.3L289.5 359.1L289.2 359.8L288.7 360.5L288 361.3L286.9 362.2L285.6 363.2L284.2 364.3L283 365.3L282.1 366.3L281.3 367.4L280.6 368.4L280 369.3L279.4 370.1L278.9 370.8L278.5 371.4L278.2 371.8L275.8 371.8L275.5 371.4L275.1 370.8L274.6 370.1L274 369.3L273.4 368.4L272.7 367.4L271.9 366.3L271 365.3L269.8 364.3L268.4 363.2L267.1 362.2L266 361.3L265.3 360.5L264.8 359.8L264.5 359.1L264.5 358.3L264.8 357.3L265.3 356.3L266.1 355.3L267 354.3L268.1 353.5L269.4 352.7L270.7 352L272 351.3L273.2 350.5L274.5 349.6L275.6 348.8L276.4 348.3Z" fill="#44b0c8" stroke="#3a3a3a" stroke-width="0.5"/>
<line x1="277" y1="371.8" x2="277" y2="380.3" stroke="#555" stroke-width="0.9"/>
<circle cx="277" cy="380.3" r="1.1" fill="#333"/>
<path d="M314.8 344V382.3H376" fill="none" stroke="#666" stroke-width="1"/>
<line x1="313" y1="380.3" x2="314.8" y2="380.3" stroke="#666" stroke-width="0.8"/>
<text x="311.6" y="383.5" font-size="9" text-anchor="end" fill="#2a2a2a">0</text>
<line x1="313" y1="346.4" x2="314.8" y2="346.4" stroke="#666" stroke-width="0.8"/>
<text x="311.6" y="349.6" font-size="9" text-anchor="end" fill="#2a2a2a">6</text>
<line x1="331.3" y1="382.3" x2="331.3" y2="384.1" stroke="#666" stroke-width="0.8"/>
<line x1="359.3" y1="382.3" x2="359.3" y2="384.1" stroke="#666" stroke-width="0.8"/>
<text x="346" y="338.7" font-size="10.2" text-anchor="middle" fill="#1a1a1a">ACTA2</text>
<line x1="331.3" y1="351" x2="331.3" y2="369.3" stroke="#555" stroke-width="0.9"/>
<path d="M331.9 368.3L332.1 368.9L332.4 369.6L332.7 370.5L332.9 371.3L333.1 372L333.3 372.6L333.4 373.2L333.5 373.8L333.5 374.3L333.3 374.9L333.2 375.3L333 375.8L332.8 376.2L332.5 376.6L332.3 376.9L332.3 377.3L332.5 377.7L332.9 378.1L333.5 378.5L334.3 378.8L335.3 379.1L336.6 379.4L338 379.6L339.3 379.8L340.6 380L342 380.1L343.2 380.2L344 380.3L318.6 380.3L319.4 380.2L320.6 380.1L322 380L323.3 379.8L324.6 379.6L326 379.4L327.3 379.1L328.3 378.8L329.1 378.5L329.7 378.1L330.1 377.7L330.3 377.3L330.3 376.9L330.1 376.6L329.8 376.2L329.6 375.8L329.4 375.3L329.3 374.9L329.1 374.3L329.1 373.8L329.2 373.2L329.3 372.6L329.5 372L329.7 371.3L329.9 370.5L330.2 369.6L330.5 368.9L330.7 368.3Z" fill="#dc4a34" stroke="#3a3a3a" stroke-width="0.5"/>
<path d="M359.3 345.3L360.2 346L361.5 347L362.9 348.2L364.3 349.3L365.6 350.4L367 351.6L368.2 352.7L369.3 353.8L370.2 354.7L371 355.6L371.5 356.4L371.6 357.3L371.2 358.2L370.3 359.2L369.3 360.2L368.3 361.3L367.4 362.5L366.4 363.9L365.5 365.2L364.8 366.3L364.5 367.2L364.4 367.9L364.4 368.6L364.3 369.3L364.1 370.1L363.9 370.9L363.6 371.6L363.3 372.3L362.9 372.9L362.5 373.4L362 373.8L361.8 374.3L361.8 374.8L361.9 375.2L362.1 375.7L362.3 376.3L362.5 377L362.8 377.9L363 378.7L363.1 379.3L363.1 379.7L363 380L362.9 380.2L362.8 380.3L355.8 380.3L355.7 380.2L355.6 380L355.5 379.7L355.5 379.3L355.6 378.7L355.9 377.9L356.1 377L356.3 376.3L356.5 375.7L356.7 375.2L356.8 374.8L356.8 374.3L356.6 373.8L356.1 373.4L355.7 372.9L355.3 372.3L355 371.6L354.7 370.9L354.5 370.1L354.3 369.3L354.2 368.6L354.2 367.9L354.1 367.2L353.8 366.3L353.1 365.2L352.2 363.9L351.2 362.5L350.3 361.3L349.3 360.2L348.3 359.2L347.4 358.2L347 357.3L347.1 356.4L347.6 355.6L348.4 354.7L349.3 353.8L350.4 352.7L351.6 351.6L353 350.4L354.3 349.3L355.7 348.2L357.1 347L358.4 346L359.3 345.3Z" fill="#44b0c8" stroke="#3a3a3a" stroke-width="0.5"/>
<path d="M64.5 403.2V441.5H125.7" fill="none" stroke="#666" stroke-width="1"/>
<line x1="62.7" y1="439.5" x2="64.5" y2="439.5" stroke="#666" stroke-width="0.8"/>
<text x="61.3" y="442.7" font-size="9" text-anchor="end" fill="#2a2a2a">0</text>
<line x1="62.7" y1="404" x2="64.5" y2="404" stroke="#666" stroke-width="0.8"/>
<text x="61.3" y="407.2" font-size="9" text-anchor="end" fill="#2a2a2a">5</text>
<line x1="81" y1="441.5" x2="81" y2="443.3" stroke="#666" stroke-width="0.8"/>
<line x1="109" y1="441.5" x2="109" y2="443.3" stroke="#666" stroke-width="0.8"/>
<text x="95.7" y="397.9" font-size="10.2" text-anchor="middle" fill="#1a1a1a">PDGFRA</text>
<line x1="81" y1="405.2" x2="81" y2="411.7" stroke="#555" stroke-width="0.9"/>
<path d="M82 410.7L82.7 411.2L83.7 411.9L84.8 412.7L86 413.5L87.2 414.2L88.6 415L89.9 415.8L91 416.5L92 417.2L92.8 417.9L93.5 418.6L93.7 419.3L93.4 420.1L92.8 420.8L91.9 421.6L91 422.5L90.1 423.4L89 424.4L88 425.4L87 426.5L86.1 427.7L85.1 428.9L84.3 430.2L83.5 431.5L82.8 432.8L82.1 434.2L81.6 435.5L81.5 436.5L81.8 437.1L82.4 437.3L83.2 437.5L84 437.7L84.9 438L86.1 438.4L87.1 438.7L87.8 439L88.1 439.2L88 439.3L87.9 439.4L87.8 439.5L74.2 439.5L74.1 439.4L74 439.3L73.9 439.2L74.2 439L74.9 438.7L75.9 438.4L77.1 438L78 437.7L78.8 437.5L79.6 437.3L80.2 437.1L80.5 436.5L80.4 435.5L79.9 434.2L79.2 432.8L78.5 431.5L77.7 430.2L76.9 428.9L75.9 427.7L75 426.5L74 425.4L73 424.4L71.9 423.4L71 422.5L70.1 421.6L69.2 420.8L68.6 420.1L68.3 419.3L68.5 418.6L69.2 417.9L70 417.2L71 416.5L72.1 415.8L73.4 415L74.8 414.2L76 413.5L77.2 412.7L78.3 411.9L79.3 411.2L80 410.7Z" fill="#dc4a34" stroke="#3a3a3a" stroke-width="0.5"/>
<line x1="109" y1="429.9" x2="109" y2="439.5" stroke="#888" stroke-width="0.9"/>
<line x1="96.3" y1="439.5" x2="121.7" y2="439.5" stroke="#8c8c8c" stroke-width="1.4"/>
<path d="M146 403.2V441.5H207.2" fill="none" stroke="#666" stroke-width="1"/>
<line x1="144.2" y1="439.5" x2="146" y2="439.5" stroke="#666" stroke-width="0.8"/>
<text x="142.8" y="442.7" font-size="9" text-anchor="end" fill="#2a2a2a">0</text>
<line x1="144.2" y1="403.4" x2="146" y2="403.4" stroke="#666" stroke-width="0.8"/>
<text x="142.8" y="406.6" font-size="9" text-anchor="end" fill="#2a2a2a">6</text>
<line x1="162.5" y1="441.5" x2="162.5" y2="443.3" stroke="#666" stroke-width="0.8"/>
<line x1="190.5" y1="441.5" x2="190.5" y2="443.3" stroke="#666" stroke-width="0.8"/>
<text x="177.2" y="397.9" font-size="10.2" text-anchor="middle" fill="#1a1a1a">CXCL1</text>
<line x1="162.5" y1="404.5" x2="162.5" y2="438.5" stroke="#555" stroke-width="0.9"/>
<path d="M163.1 437.5L163.7 437.6L164.5 437.9L165.5 438.1L166.5 438.3L167.7 438.5L169 438.7L170.3 438.8L171.5 439L172.6 439.2L173.7 439.3L174.6 439.4L175.2 439.5L149.8 439.5L150.4 439.4L151.3 439.3L152.4 439.2L153.5 439L154.7 438.8L156 438.7L157.3 438.5L158.5 438.3L159.5 438.1L160.5 437.9L161.3 437.6L161.9 437.5Z" fill="#dc4a34" stroke="#3a3a3a" stroke-width="0.5"/>
<line x1="190.5" y1="412.1" x2="190.5" y2="439.5" stroke="#888" stroke-width="0.9"/>
<line x1="177.8" y1="439.5" x2="203.2" y2="439.5" stroke="#8c8c8c" stroke-width="1.4"/>
<path d="M232.5 403.2V441.5H293.7" fill="none" stroke="#666" stroke-width="1"/>
<line x1="230.7" y1="439.5" x2="232.5" y2="439.5" stroke="#666" stroke-width="0.8"/>
<text x="229.3" y="442.7" font-size="9" text-anchor="end" fill="#2a2a2a">0</text>
<line x1="230.7" y1="404.6" x2="232.5" y2="404.6" stroke="#666" stroke-width="0.8"/>
<text x="229.3" y="407.8" font-size="9" text-anchor="end" fill="#2a2a2a">6</text>
<line x1="249" y1="441.5" x2="249" y2="443.3" stroke="#666" stroke-width="0.8"/>
<line x1="277" y1="441.5" x2="277" y2="443.3" stroke="#666" stroke-width="0.8"/>
<text x="263.7" y="397.9" font-size="10.2" text-anchor="middle" fill="#1a1a1a">TAGLN</text>
<path d="M249 409.7L249.3 410.5L249.7 411.7L250.1 413L250.5 414.5L250.9 416.1L251.3 417.9L251.7 419.8L252 421.5L252.3 423.1L252.6 424.7L252.9 426.2L253 427.5L253 428.7L252.9 429.7L252.7 430.6L252.5 431.5L252.2 432.3L251.7 433.1L251.3 433.8L251 434.5L250.8 435.1L250.7 435.6L250.8 436.1L251 436.5L251.5 436.9L252.2 437.3L253.1 437.7L254 438L254.9 438.3L256 438.6L257 438.8L258 439L259 439.2L260.1 439.3L261 439.4L261.7 439.5L236.3 439.5L237 439.4L237.9 439.3L239 439.2L240 439L241 438.8L242 438.6L243.1 438.3L244 438L244.9 437.7L245.8 437.3L246.5 436.9L247 436.5L247.2 436.1L247.3 435.6L247.2 435.1L247 434.5L246.7 433.8L246.3 433.1L245.8 432.3L245.5 431.5L245.3 430.6L245.1 429.7L245 428.7L245 427.5L245.1 426.2L245.4 424.7L245.7 423.1L246 421.5L246.3 419.8L246.7 417.9L247.1 416.1L247.5 414.5L247.9 413L248.3 411.7L248.7 410.5L249 409.7Z" fill="#dc4a34" stroke="#3a3a3a" stroke-width="0.5"/>
<path d="M277 405.1L277.2 405.7L277.5 406.6L277.9 407.6L278.5 408.5L279.4 409.3L280.5 410L281.8 410.8L283 411.5L284.3 412.3L285.7 413L287 413.8L288 414.5L288.8 415.2L289.4 415.9L289.8 416.6L289.9 417.3L289.8 418L289.4 418.8L288.7 419.6L288 420.5L287 421.6L285.8 422.9L284.6 424.2L283.5 425.5L282.6 426.8L281.8 428.1L281.1 429.3L280.5 430.5L279.9 431.6L279.4 432.7L279 433.7L278.8 434.5L278.8 435.1L278.9 435.6L279.2 436L279.5 436.5L279.9 437L280.5 437.6L281.1 438.1L281.5 438.5L281.7 438.8L281.8 439.1L281.8 439.3L281.8 439.5L272.2 439.5L272.2 439.3L272.2 439.1L272.3 438.8L272.5 438.5L272.9 438.1L273.5 437.6L274.1 437L274.5 436.5L274.8 436L275.1 435.6L275.2 435.1L275.2 434.5L275 433.7L274.6 432.7L274.1 431.6L273.5 430.5L272.9 429.3L272.2 428.1L271.4 426.8L270.5 425.5L269.4 424.2L268.2 422.9L267 421.6L266 420.5L265.3 419.6L264.6 418.8L264.2 418L264.1 417.3L264.2 416.6L264.6 415.9L265.2 415.2L266 414.5L267 413.8L268.3 413L269.7 412.3L271 411.5L272.2 410.8L273.5 410L274.6 409.3L275.5 408.5L276.1 407.6L276.5 406.6L276.8 405.7L277 405.1Z" fill="#44b0c8" stroke="#3a3a3a" stroke-width="0.5"/>
<path d="M314.8 403.2V441.5H376" fill="none" stroke="#666" stroke-width="1"/>
<line x1="313" y1="439.5" x2="314.8" y2="439.5" stroke="#666" stroke-width="0.8"/>
<text x="311.6" y="442.7" font-size="9" text-anchor="end" fill="#2a2a2a">0</text>
<line x1="313" y1="408.2" x2="314.8" y2="408.2" stroke="#666" stroke-width="0.8"/>
<text x="311.6" y="411.4" font-size="9" text-anchor="end" fill="#2a2a2a">3</text>
<line x1="331.3" y1="441.5" x2="331.3" y2="443.3" stroke="#666" stroke-width="0.8"/>
<line x1="359.3" y1="441.5" x2="359.3" y2="443.3" stroke="#666" stroke-width="0.8"/>
<text x="346" y="397.9" font-size="10.2" text-anchor="middle" fill="#1a1a1a">HOPX</text>
<line x1="331.3" y1="408.2" x2="331.3" y2="439.5" stroke="#888" stroke-width="0.9"/>
<line x1="318.6" y1="439.5" x2="344" y2="439.5" stroke="#8c8c8c" stroke-width="1.4"/>
<line x1="359.3" y1="404.5" x2="359.3" y2="416.5" stroke="#555" stroke-width="0.9"/>
<path d="M359.8 415.5L360 416.5L360.2 418L360.5 419.8L360.8 421.5L361.1 423.3L361.4 425.4L361.7 427.3L361.8 428.9L361.8 430.1L361.7 431L361.5 431.8L361.3 432.5L361.1 433.2L360.8 433.9L360.5 434.4L360.5 435L360.7 435.5L361 436.1L361.6 436.5L362.3 437L363.3 437.4L364.6 437.8L366 438.2L367.3 438.5L368.5 438.8L369.8 439.1L370.9 439.3L371.7 439.5L346.9 439.5L347.7 439.3L348.8 439.1L350.1 438.8L351.3 438.5L352.6 438.2L354 437.8L355.3 437.4L356.3 437L357 436.5L357.6 436.1L357.9 435.5L358.1 435L358.1 434.4L357.8 433.9L357.5 433.2L357.3 432.5L357.1 431.8L356.9 431L356.8 430.1L356.8 428.9L356.9 427.3L357.2 425.4L357.5 423.3L357.8 421.5L358.1 419.8L358.4 418L358.6 416.5L358.8 415.5Z" fill="#44b0c8" stroke="#3a3a3a" stroke-width="0.5"/>
<path d="M64.5 462.5V500.8H125.7" fill="none" stroke="#666" stroke-width="1"/>
<line x1="62.7" y1="498.8" x2="64.5" y2="498.8" stroke="#666" stroke-width="0.8"/>
<text x="61.3" y="502" font-size="9" text-anchor="end" fill="#2a2a2a">0</text>
<line x1="62.7" y1="463.2" x2="64.5" y2="463.2" stroke="#666" stroke-width="0.8"/>
<text x="61.3" y="466.4" font-size="9" text-anchor="end" fill="#2a2a2a">4</text>
<line x1="81" y1="500.8" x2="81" y2="502.6" stroke="#666" stroke-width="0.8"/>
<line x1="109" y1="500.8" x2="109" y2="502.6" stroke="#666" stroke-width="0.8"/>
<text x="95.7" y="457.2" font-size="10.2" text-anchor="middle" fill="#1a1a1a">CXCL12</text>
<line x1="81" y1="464" x2="81" y2="496.8" stroke="#555" stroke-width="0.9"/>
<path d="M81.5 495.8L81.8 496.1L82.2 496.5L82.8 496.9L83.5 497.3L84.4 497.6L85.6 497.8L86.8 498L88 498.2L89.3 498.4L90.8 498.6L92.1 498.7L93 498.8L69 498.8L69.9 498.7L71.2 498.6L72.7 498.4L74 498.2L75.2 498L76.4 497.8L77.6 497.6L78.5 497.3L79.2 496.9L79.8 496.5L80.2 496.1L80.5 495.8Z" fill="#dc4a34" stroke="#3a3a3a" stroke-width="0.5"/>
<line x1="109" y1="482.2" x2="109" y2="498.8" stroke="#888" stroke-width="0.9"/>
<line x1="96.3" y1="498.8" x2="121.7" y2="498.8" stroke="#8c8c8c" stroke-width="1.4"/>
<path d="M146 462.5V500.8H207.2" fill="none" stroke="#666" stroke-width="1"/>
<line x1="144.2" y1="498.8" x2="146" y2="498.8" stroke="#666" stroke-width="0.8"/>
<text x="142.8" y="502" font-size="9" text-anchor="end" fill="#2a2a2a">0</text>
<line x1="144.2" y1="464.1" x2="146" y2="464.1" stroke="#666" stroke-width="0.8"/>
<text x="142.8" y="467.3" font-size="9" text-anchor="end" fill="#2a2a2a">6</text>
<line x1="162.5" y1="500.8" x2="162.5" y2="502.6" stroke="#666" stroke-width="0.8"/>
<line x1="190.5" y1="500.8" x2="190.5" y2="502.6" stroke="#666" stroke-width="0.8"/>
<text x="177.2" y="457.2" font-size="10.2" text-anchor="middle" fill="#1a1a1a">CCL2</text>
<line x1="162.5" y1="463.8" x2="162.5" y2="473" stroke="#555" stroke-width="0.9"/>
<path d="M163.1 472L163.5 472.8L164 474L164.5 475.4L165 476.8L165.3 478.3L165.6 479.8L165.8 481.4L166 482.8L166.2 484L166.3 485.1L166.3 486.1L166.3 487.2L166.2 488.4L166 489.6L165.7 490.8L165.5 491.8L165.2 492.7L164.8 493.5L164.5 494.2L164.5 494.8L164.7 495.4L165.1 495.9L165.7 496.4L166.5 496.8L167.6 497.2L168.9 497.5L170.3 497.8L171.5 498.1L172.6 498.3L173.7 498.5L174.6 498.7L175.2 498.8L149.8 498.8L150.4 498.7L151.3 498.5L152.4 498.3L153.5 498.1L154.7 497.8L156.1 497.5L157.4 497.2L158.5 496.8L159.3 496.4L159.9 495.9L160.3 495.4L160.5 494.8L160.5 494.2L160.2 493.5L159.8 492.7L159.5 491.8L159.3 490.8L159 489.6L158.8 488.4L158.7 487.2L158.7 486.1L158.7 485.1L158.8 484L159 482.8L159.2 481.4L159.4 479.8L159.7 478.3L160 476.8L160.5 475.4L161 474L161.5 472.8L161.9 472Z" fill="#dc4a34" stroke="#3a3a3a" stroke-width="0.5"/>
<line x1="190.5" y1="467.5" x2="190.5" y2="491.8" stroke="#555" stroke-width="0.9"/>
<path d="M190.9 490.8L191 491.2L191.2 491.9L191.4 492.6L191.5 493.3L191.5 493.9L191.3 494.6L191.2 495.2L191.2 495.8L191.3 496.4L191.5 496.9L191.9 497.4L192.5 497.8L193.5 498.1L194.7 498.2L196.1 498.3L197.5 498.4L199.1 498.5L200.8 498.6L202.3 498.7L203.4 498.8L177.6 498.8L178.7 498.7L180.2 498.6L181.9 498.5L183.5 498.4L184.9 498.3L186.3 498.2L187.5 498.1L188.5 497.8L189.1 497.4L189.5 496.9L189.7 496.4L189.8 495.8L189.8 495.2L189.7 494.6L189.5 493.9L189.5 493.3L189.6 492.6L189.8 491.9L190 491.2L190.1 490.8Z" fill="#44b0c8" stroke="#3a3a3a" stroke-width="0.5"/>
<path d="M232.5 462.5V500.8H293.7" fill="none" stroke="#666" stroke-width="1"/>
<line x1="230.7" y1="498.8" x2="232.5" y2="498.8" stroke="#666" stroke-width="0.8"/>
<text x="229.3" y="502" font-size="9" text-anchor="end" fill="#2a2a2a">0</text>
<line x1="230.7" y1="466.6" x2="232.5" y2="466.6" stroke="#666" stroke-width="0.8"/>
<text x="229.3" y="469.8" font-size="9" text-anchor="end" fill="#2a2a2a">4</text>
<line x1="249" y1="500.8" x2="249" y2="502.6" stroke="#666" stroke-width="0.8"/>
<line x1="277" y1="500.8" x2="277" y2="502.6" stroke="#666" stroke-width="0.8"/>
<text x="263.7" y="457.2" font-size="10.2" text-anchor="middle" fill="#1a1a1a">TPM1</text>
<path d="M249 465.4L249.5 466.2L250.3 467.3L251.1 468.6L252 469.8L252.9 471L253.8 472.3L254.7 473.5L255.5 474.8L256.2 476.1L256.9 477.3L257.4 478.6L257.8 479.8L258.1 481.1L258.3 482.3L258.3 483.5L258.1 484.7L257.6 485.8L256.8 486.8L255.9 487.8L255 488.8L254 489.9L252.9 490.9L251.8 491.9L251 492.8L250.5 493.4L250.1 493.9L250 494.3L250 494.8L250.2 495.3L250.6 495.8L251.1 496.3L252 496.8L253.3 497.2L254.9 497.6L256.6 498L258 498.3L259.1 498.5L260.1 498.6L260.9 498.7L261.5 498.8L236.5 498.8L237.1 498.7L237.9 498.6L238.9 498.5L240 498.3L241.4 498L243.1 497.6L244.7 497.2L246 496.8L246.9 496.3L247.4 495.8L247.8 495.3L248 494.8L248 494.3L247.9 493.9L247.5 493.4L247 492.8L246.2 491.9L245.1 490.9L244 489.9L243 488.8L242.1 487.8L241.2 486.8L240.4 485.8L239.9 484.7L239.7 483.5L239.7 482.3L239.9 481.1L240.2 479.8L240.6 478.6L241.2 477.3L241.8 476.1L242.5 474.8L243.3 473.5L244.2 472.3L245.1 471L246 469.8L246.9 468.6L247.7 467.3L248.5 466.2L249 465.4Z" fill="#dc4a34" stroke="#3a3a3a" stroke-width="0.5"/>
<path d="M277.5 464.7L278.1 465.2L278.9 466L279.9 466.9L281 467.8L282.4 468.7L284 469.7L285.6 470.7L287 471.8L288.1 473L289.1 474.2L289.8 475.5L290.1 476.8L289.8 478.1L289.1 479.3L288.1 480.6L287 481.8L285.8 483.1L284.5 484.4L283.2 485.6L282 486.8L281.1 487.9L280.2 489L279.6 490L279 490.8L278.6 491.4L278.3 491.9L278.2 492.3L278 492.8L277.8 493.3L277.7 493.8L277.6 494.3L277.6 494.8L277.7 495.2L277.8 495.6L278 496L278.2 496.3L278.4 496.6L278.6 496.8L278.9 497L279 497.3L279.1 497.7L279.1 498.1L279 498.5L279 498.8L275 498.8L275 498.5L274.9 498.1L274.9 497.7L275 497.3L275.1 497L275.4 496.8L275.6 496.6L275.8 496.3L276 496L276.2 495.6L276.3 495.2L276.4 494.8L276.4 494.3L276.3 493.8L276.2 493.3L276 492.8L275.8 492.3L275.7 491.9L275.4 491.4L275 490.8L274.4 490L273.8 489L272.9 487.9L272 486.8L270.8 485.6L269.5 484.4L268.2 483.1L267 481.8L265.9 480.6L264.9 479.3L264.2 478.1L263.9 476.8L264.2 475.5L264.9 474.2L265.9 473L267 471.8L268.4 470.7L270 469.7L271.6 468.7L273 467.8L274.1 466.9L275.1 466L275.9 465.2L276.5 464.7Z" fill="#44b0c8" stroke="#3a3a3a" stroke-width="0.5"/>
<path d="M314.8 462.5V500.8H376" fill="none" stroke="#666" stroke-width="1"/>
<line x1="313" y1="498.8" x2="314.8" y2="498.8" stroke="#666" stroke-width="0.8"/>
<text x="311.6" y="502" font-size="9" text-anchor="end" fill="#2a2a2a">0</text>
<line x1="313" y1="469" x2="314.8" y2="469" stroke="#666" stroke-width="0.8"/>
<text x="311.6" y="472.2" font-size="9" text-anchor="end" fill="#2a2a2a">4</text>
<line x1="331.3" y1="500.8" x2="331.3" y2="502.6" stroke="#666" stroke-width="0.8"/>
<line x1="359.3" y1="500.8" x2="359.3" y2="502.6" stroke="#666" stroke-width="0.8"/>
<text x="346" y="457.2" font-size="10.2" text-anchor="middle" fill="#1a1a1a">TPM2</text>
<path d="M331.8 467L332.4 467.7L333.2 468.6L334.2 469.7L335.3 470.8L336.5 471.9L337.8 473.1L339.1 474.4L340.3 475.8L341.5 477.4L342.6 479.1L343.5 480.8L343.8 482.4L343.3 483.8L342.1 485.2L340.7 486.5L339.3 487.8L337.9 489.1L336.4 490.5L334.9 491.8L333.8 492.8L333.1 493.5L332.6 494L332.4 494.4L332.3 494.8L332.4 495.3L332.6 495.8L333.1 496.3L333.8 496.8L335 497.2L336.6 497.6L338.1 498L339.3 498.3L339.9 498.5L340.1 498.6L340.2 498.7L340.3 498.8L322.3 498.8L322.4 498.7L322.5 498.6L322.7 498.5L323.3 498.3L324.5 498L326 497.6L327.6 497.2L328.8 496.8L329.5 496.3L330 495.8L330.2 495.3L330.3 494.8L330.2 494.4L330 494L329.5 493.5L328.8 492.8L327.7 491.8L326.2 490.5L324.7 489.1L323.3 487.8L321.9 486.5L320.5 485.2L319.3 483.8L318.8 482.4L319.1 480.8L320 479.1L321.1 477.4L322.3 475.8L323.5 474.4L324.8 473.1L326.1 471.9L327.3 470.8L328.4 469.7L329.4 468.6L330.2 467.7L330.8 467Z" fill="#dc4a34" stroke="#3a3a3a" stroke-width="0.5"/>
<path d="M359.8 464.7L360.4 465.4L361.2 466.4L362.2 467.6L363.3 468.8L364.5 470L365.8 471.2L367.1 472.5L368.3 473.8L369.6 475.1L370.9 476.4L372 477.7L372.4 479L372 480.4L371 481.9L369.7 483.4L368.3 484.8L366.8 486.1L365.2 487.4L363.6 488.6L362.3 489.8L361.5 490.9L360.9 492L360.6 493L360.3 493.8L360.1 494.4L360 494.7L360 495L360 495.3L360.1 495.6L360.2 495.8L360.3 496.1L360.5 496.3L360.7 496.5L360.9 496.8L361.1 497L361.3 497.3L361.4 497.7L361.4 498.1L361.3 498.5L361.3 498.8L357.3 498.8L357.3 498.5L357.2 498.1L357.2 497.7L357.3 497.3L357.5 497L357.7 496.8L357.9 496.5L358.1 496.3L358.3 496.1L358.4 495.8L358.5 495.6L358.6 495.3L358.6 495L358.6 494.7L358.5 494.4L358.3 493.8L358 493L357.7 492L357.1 490.9L356.3 489.8L355 488.6L353.4 487.4L351.8 486.1L350.3 484.8L348.9 483.4L347.6 481.9L346.6 480.4L346.2 479L346.6 477.7L347.7 476.4L349 475.1L350.3 473.8L351.5 472.5L352.8 471.2L354.1 470L355.3 468.8L356.4 467.6L357.4 466.4L358.2 465.4L358.8 464.7Z" fill="#44b0c8" stroke="#3a3a3a" stroke-width="0.5"/>
<path d="M64.5 521.7V560H125.7" fill="none" stroke="#666" stroke-width="1"/>
<line x1="62.7" y1="558" x2="64.5" y2="558" stroke="#666" stroke-width="0.8"/>
<text x="61.3" y="561.2" font-size="9" text-anchor="end" fill="#2a2a2a">0</text>
<line x1="62.7" y1="527.6" x2="64.5" y2="527.6" stroke="#666" stroke-width="0.8"/>
<text x="61.3" y="530.8" font-size="9" text-anchor="end" fill="#2a2a2a">6</text>
<line x1="81" y1="560" x2="81" y2="561.8" stroke="#666" stroke-width="0.8"/>
<line x1="109" y1="560" x2="109" y2="561.8" stroke="#666" stroke-width="0.8"/>
<text x="95.7" y="516.4" font-size="10.2" text-anchor="middle" fill="#1a1a1a">CFD</text>
<path d="M81.4 523.7L81.6 524.4L81.9 525.5L82.2 526.7L82.5 528L82.9 529.5L83.3 531.1L83.7 532.7L84 534L84.3 534.9L84.5 535.6L84.6 536.2L84.8 537L84.9 538.1L85 539.3L85.1 540.6L85.2 542L85.4 543.5L85.6 545.1L85.8 546.6L85.8 548L85.6 549.2L85.2 550.2L84.8 551.2L84.5 552L84.2 552.7L84 553.3L83.9 553.8L84 554.3L84.5 554.9L85.2 555.5L86.1 556L87 556.5L88 556.8L89 557.1L90.1 557.3L91 557.5L91.9 557.7L92.7 557.8L93.4 557.9L93.9 558L68.1 558L68.6 557.9L69.3 557.8L70.1 557.7L71 557.5L71.9 557.3L73 557.1L74 556.8L75 556.5L75.9 556L76.8 555.5L77.5 554.9L78 554.3L78.1 553.8L78 553.3L77.8 552.7L77.5 552L77.2 551.2L76.8 550.2L76.4 549.2L76.2 548L76.2 546.6L76.4 545.1L76.6 543.5L76.8 542L76.9 540.6L77 539.3L77.1 538.1L77.2 537L77.4 536.2L77.5 535.6L77.7 534.9L78 534L78.3 532.7L78.7 531.1L79.1 529.5L79.5 528L79.8 526.7L80.1 525.5L80.4 524.4L80.6 523.7Z" fill="#dc4a34" stroke="#3a3a3a" stroke-width="0.5"/>
<line x1="109" y1="548.8" x2="109" y2="558" stroke="#888" stroke-width="0.9"/>
<line x1="96.3" y1="558" x2="121.7" y2="558" stroke="#8c8c8c" stroke-width="1.4"/>
<path d="M146 521.7V560H207.2" fill="none" stroke="#666" stroke-width="1"/>
<line x1="144.2" y1="558" x2="146" y2="558" stroke="#666" stroke-width="0.8"/>
<text x="142.8" y="561.2" font-size="9" text-anchor="end" fill="#2a2a2a">0</text>
<line x1="144.2" y1="522.2" x2="146" y2="522.2" stroke="#666" stroke-width="0.8"/>
<text x="142.8" y="525.4" font-size="9" text-anchor="end" fill="#2a2a2a">5</text>
<line x1="162.5" y1="560" x2="162.5" y2="561.8" stroke="#666" stroke-width="0.8"/>
<line x1="190.5" y1="560" x2="190.5" y2="561.8" stroke="#666" stroke-width="0.8"/>
<text x="177.2" y="516.4" font-size="10.2" text-anchor="middle" fill="#1a1a1a">DPT</text>
<path d="M162.9 523.7L163.2 524.3L163.6 525.2L164 526.2L164.5 527L165 527.4L165.5 527.6L166 528L166.3 529L166.4 530.7L166.4 533L166.3 535.5L166.3 538L166.3 540.6L166.3 543.3L166.4 545.9L166.3 548L166.1 549.5L165.9 550.5L165.7 551.3L165.5 552L165.3 552.7L165 553.3L164.8 553.8L165 554.3L165.6 554.9L166.5 555.5L167.5 556L168.5 556.5L169.5 556.8L170.6 557.1L171.6 557.3L172.5 557.5L173.3 557.7L173.9 557.8L174.5 557.9L174.9 558L150.1 558L150.5 557.9L151.1 557.8L151.7 557.7L152.5 557.5L153.4 557.3L154.4 557.1L155.5 556.8L156.5 556.5L157.5 556L158.5 555.5L159.4 554.9L160 554.3L160.2 553.8L160 553.3L159.7 552.7L159.5 552L159.3 551.3L159.1 550.5L158.9 549.5L158.7 548L158.6 545.9L158.7 543.3L158.7 540.6L158.7 538L158.7 535.5L158.6 533L158.6 530.7L158.7 529L159 528L159.5 527.6L160 527.4L160.5 527L161 526.2L161.4 525.2L161.8 524.3L162.1 523.7Z" fill="#dc4a34" stroke="#3a3a3a" stroke-width="0.5"/>
<line x1="190.5" y1="540.3" x2="190.5" y2="558" stroke="#888" stroke-width="0.9"/>
<line x1="177.8" y1="558" x2="203.2" y2="558" stroke="#8c8c8c" stroke-width="1.4"/>
<text transform="translate(87.3 570) rotate(-45)" font-size="9.2" text-anchor="end" fill="#1a1a1a">iCAF</text>
<text transform="translate(115.3 570) rotate(-45)" font-size="9.2" text-anchor="end" fill="#1a1a1a">myCAF</text>
<text transform="translate(168.8 570) rotate(-45)" font-size="9.2" text-anchor="end" fill="#1a1a1a">iCAF</text>
<text transform="translate(196.8 570) rotate(-45)" font-size="9.2" text-anchor="end" fill="#1a1a1a">myCAF</text>
<text transform="translate(255.3 510.8) rotate(-45)" font-size="9.2" text-anchor="end" fill="#1a1a1a">iCAF</text>
<text transform="translate(283.3 510.8) rotate(-45)" font-size="9.2" text-anchor="end" fill="#1a1a1a">myCAF</text>
<text transform="translate(337.6 510.8) rotate(-45)" font-size="9.2" text-anchor="end" fill="#1a1a1a">iCAF</text>
<text transform="translate(365.6 510.8) rotate(-45)" font-size="9.2" text-anchor="end" fill="#1a1a1a">myCAF</text>
<rect x="440" y="314.1" width="108" height="5.3" fill="#dc4a34"/>
<rect x="548" y="314.1" width="108.1" height="5.3" fill="#44b0c8"/>
<g transform="translate(440 320.6) scale(1.50069 5.59400)" fill="none">
<path d="M0 0.5h1.1M69 0.5h1.1M78 6.5h1.1M51 8.5h1.1M139 8.5h1.1M51 9.5h1.1M53 9.5h1.1M45 10.5h1.1M51 11.5h1.1M28 12.5h1.1M68 14.5h1.1M19 15.5h1.1M35 15.5h1.1M59 18.5h1.1M59 20.5h1.1M4 21.5h1.1M7 21.5h1.1M22 21.5h1.1M36 21.5h1.1M15 22.5h1.1M21 22.5h1.1M31 22.5h1.1M36 22.5h1.1M59 22.5h1.1M127 22.5h1.1M22 23.5h1.1M62 23.5h1.1M73 25.5h1.1M88 25.5h1.1M88 26.5h1.1M4 28.5h1.1M4 32.5h1.1M75 34.5h1.1M102 35.5h1.1M10 38.5h1.1M81 38.5h1.1M122 39.5h1.1M106 40.5h1.1M129 40.5h1.1M12 41.5h1.1M88 42.5h1.1M98 42.5h1.1M88 44.5h1.1M134 45.5h1.1M18 49.5h1.1M89 49.5h1.1" stroke="#f9e7db" stroke-width="1.12"/>
<path d="M1 0.5h1.1M32 2.5h1.1M24 3.5h1.1M56 3.5h1.1M64 3.5h1.1M10 4.5h1.1M36 5.5h1.1M39 5.5h1.1M3 11.5h1.1M45 12.5h1.1M60 12.5h1.1M71 12.5h1.1M0 13.5h1.1M12 13.5h1.1M22 13.5h1.1M7 14.5h1.1M22 15.5h1.1M38 15.5h1.1M1 18.5h1.1M19 18.5h1.1M37 18.5h1.1M62 18.5h1.1M9 19.5h1.1M24 19.5h1.1M28 20.5h1.1M48 23.5h1.1M6 24.5h1.1M95 25.5h1.1M117 27.5h1.1M141 28.5h1.1M115 30.5h1.1M90 31.5h1.1M95 31.5h1.1M72 32.5h1.1M80 32.5h1.1M85 33.5h1.1M116 33.5h1.1M135 34.5h1.1M97 35.5h1.1M124 35.5h1.1M112 36.5h1.1M116 36.5h1.1M116 37.5h1.1M89 39.5h1.1M106 42.5h1.1M99 43.5h1.1M104 44.5h2.1M115 46.5h2.1M118 47.5h1.1" stroke="#ed9975" stroke-width="1.12"/>
<path d="M2 0.5h1.1M15 0.5h3.1M51 0.5h1.1M53 1.5h1.1M4 2.5h1.1M65 2.5h1.1M46 3.5h1.1M53 3.5h1.1M67 3.5h1.1M8 4.5h1.1M13 4.5h1.1M51 4.5h1.1M41 5.5h1.1M44 5.5h1.1M67 5.5h1.1M11 6.5h1.1M19 6.5h1.1M32 6.5h1.1M16 9.5h1.1M10 10.5h1.1M13 10.5h1.1M17 10.5h1.1M21 10.5h1.1M4 11.5h1.1M23 11.5h1.1M35 11.5h1.1M44 12.5h1.1M53 12.5h1.1M57 13.5h1.1M17 14.5h1.1M32 14.5h1.1M43 14.5h1.1M71 14.5h1.1M27 15.5h1.1M44 15.5h1.1M54 15.5h1.1M64 15.5h1.1M45 16.5h1.1M31 17.5h1.1M51 17.5h1.1M29 18.5h1.1M51 19.5h1.1M16 20.5h1.1M27 20.5h1.1M30 20.5h1.1M37 20.5h1.1M37 22.5h1.1M4 24.5h1.1M16 24.5h1.1M27 24.5h1.1M30 24.5h1.1M61 24.5h1.1M63 24.5h1.1M102 25.5h1.1M114 25.5h1.1M120 25.5h1.1M133 25.5h1.1M103 27.5h1.1M127 27.5h1.1M108 28.5h1.1M121 28.5h1.1M136 28.5h1.1M88 29.5h1.1M94 29.5h1.1M137 29.5h1.1M102 30.5h1.1M105 30.5h1.1M125 30.5h1.1M102 32.5h1.1M121 32.5h1.1M142 32.5h1.1M81 33.5h1.1M113 34.5h1.1M121 34.5h1.1M142 34.5h1.1M101 37.5h2.1M120 37.5h1.1M74 38.5h1.1M90 38.5h1.1M98 38.5h1.1M120 38.5h1.1M125 38.5h1.1M72 41.5h1.1M116 41.5h1.1M118 41.5h1.1M129 41.5h1.1M94 42.5h1.1M134 43.5h1.1M74 45.5h1.1M76 45.5h1.1M99 45.5h1.1M121 45.5h1.1M135 45.5h1.1M118 46.5h1.1M112 48.5h1.1M105 49.5h1.1M134 49.5h1.1" stroke="#f9c3ab" stroke-width="1.12"/>
<path d="M3 0.5h1.1M19 0.5h1.1M26 0.5h1.1M34 0.5h1.1M55 0.5h1.1M58 0.5h1.1M23 1.5h1.1M36 2.5h2.1M70 2.5h1.1M22 3.5h1.1M28 3.5h1.1M40 3.5h1.1M44 3.5h1.1M15 4.5h1.1M17 4.5h1.1M19 4.5h1.1M33 4.5h1.1M36 4.5h4.1M48 4.5h1.1M55 4.5h1.1M58 4.5h1.1M15 6.5h1.1M21 6.5h2.1M61 6.5h2.1M69 6.5h2.1M15 7.5h1.1M20 7.5h1.1M32 7.5h1.1M39 7.5h1.1M50 7.5h1.1M39 8.5h1.1M59 8.5h1.1M6 9.5h1.1M25 10.5h1.1M43 10.5h1.1M64 10.5h1.1M69 10.5h1.1M7 11.5h1.1M37 11.5h1.1M7 12.5h1.1M14 12.5h1.1M51 12.5h1.1M59 12.5h1.1M64 12.5h1.1M2 13.5h1.1M8 13.5h1.1M15 13.5h1.1M46 13.5h1.1M22 14.5h1.1M26 14.5h2.1M41 14.5h1.1M50 14.5h1.1M61 14.5h1.1M10 15.5h1.1M24 15.5h1.1M48 15.5h1.1M62 15.5h1.1M12 16.5h1.1M14 16.5h1.1M36 16.5h1.1M43 16.5h1.1M61 16.5h1.1M8 17.5h1.1M18 17.5h1.1M28 17.5h1.1M43 17.5h1.1M46 17.5h1.1M27 18.5h1.1M30 18.5h1.1M38 18.5h1.1M23 19.5h1.1M44 19.5h1.1M54 19.5h1.1M68 19.5h1.1M18 20.5h1.1M8 24.5h1.1M14 24.5h1.1M20 24.5h1.1M40 24.5h1.1M50 24.5h1.1M59 24.5h1.1M71 24.5h1.1M127 25.5h1.1M132 25.5h1.1M141 25.5h1.1M74 26.5h1.1M103 26.5h1.1M119 26.5h1.1M134 26.5h1.1M141 26.5h1.1M143 26.5h1.1M83 27.5h1.1M107 27.5h1.1M126 27.5h1.1M133 27.5h1.1M137 27.5h1.1M74 28.5h2.1M112 28.5h1.1M123 28.5h1.1M130 28.5h1.1M137 28.5h1.1M84 29.5h1.1M89 29.5h1.1M130 29.5h1.1M83 30.5h3.1M87 30.5h1.1M116 30.5h2.1M123 30.5h1.1M141 30.5h1.1M85 31.5h1.1M89 31.5h1.1M100 32.5h1.1M112 32.5h1.1M120 32.5h1.1M122 32.5h1.1M134 32.5h1.1M72 33.5h1.1M105 33.5h1.1M115 33.5h1.1M107 34.5h1.1M109 34.5h1.1M122 34.5h1.1M81 35.5h1.1M100 35.5h1.1M142 35.5h1.1M79 36.5h1.1M98 36.5h1.1M125 36.5h1.1M133 36.5h1.1M72 37.5h1.1M89 37.5h1.1M96 37.5h2.1M111 37.5h1.1M132 37.5h1.1M106 38.5h1.1M110 38.5h1.1M78 39.5h1.1M136 39.5h1.1M141 39.5h1.1M95 40.5h1.1M101 40.5h1.1M104 40.5h1.1M108 40.5h1.1M131 40.5h1.1M73 41.5h1.1M83 41.5h1.1M89 42.5h1.1M105 42.5h1.1M114 42.5h1.1M107 43.5h1.1M102 44.5h1.1M114 44.5h1.1M133 44.5h1.1M85 45.5h1.1M76 46.5h1.1M84 46.5h1.1M95 46.5h1.1M97 46.5h1.1M123 46.5h1.1M78 47.5h1.1M81 47.5h1.1M103 47.5h1.1M113 47.5h1.1M98 48.5h1.1M103 48.5h1.1M97 49.5h1.1M99 49.5h1.1M112 49.5h1.1M114 49.5h1.1M121 49.5h1.1" stroke="#f9b193" stroke-width="1.12"/>
<path d="M4 0.5h1.1M64 0.5h1.1M5 1.5h1.1M27 2.5h1.1M60 2.5h1.1M5 3.5h1.1M2 4.5h1.1M21 4.5h1.1M28 4.5h1.1M20 5.5h1.1M59 5.5h1.1M14 6.5h1.1M31 6.5h1.1M35 6.5h1.1M54 6.5h1.1M22 7.5h1.1M29 7.5h1.1M25 8.5h1.1M67 8.5h1.1M1 9.5h1.1M19 9.5h1.1M41 9.5h1.1M43 9.5h1.1M64 9.5h1.1M63 10.5h1.1M8 11.5h1.1M30 11.5h1.1M9 12.5h1.1M11 12.5h1.1M19 12.5h1.1M61 12.5h1.1M63 12.5h1.1M67 12.5h1.1M32 13.5h1.1M16 14.5h1.1M18 14.5h1.1M23 14.5h1.1M31 15.5h1.1M45 15.5h1.1M51 15.5h1.1M13 16.5h1.1M67 16.5h1.1M5 18.5h1.1M24 18.5h1.1M42 18.5h1.1M55 18.5h1.1M60 18.5h1.1M7 19.5h1.1M32 20.5h1.1M49 20.5h1.1M30 21.5h1.1M64 22.5h1.1M48 24.5h1.1M53 24.5h1.1M84 26.5h1.1M111 26.5h1.1M74 27.5h2.1M100 27.5h1.1M119 28.5h1.1M87 29.5h1.1M121 30.5h1.1M83 31.5h1.1M82 32.5h1.1M103 32.5h1.1M128 32.5h1.1M78 34.5h1.1M105 34.5h1.1M82 35.5h1.1M87 36.5h1.1M117 37.5h1.1M133 37.5h2.1M138 37.5h1.1M78 38.5h1.1M85 38.5h1.1M87 38.5h1.1M119 38.5h1.1M135 38.5h1.1M106 39.5h1.1M76 40.5h1.1M94 40.5h1.1M97 40.5h1.1M90 41.5h1.1M104 41.5h1.1M120 41.5h1.1M87 42.5h1.1M133 43.5h1.1M142 43.5h1.1M75 45.5h1.1M100 45.5h1.1M108 45.5h1.1M130 45.5h1.1M123 48.5h1.1M117 49.5h1.1M140 49.5h1.1" stroke="#f9c3a5" stroke-width="1.12"/>
<path d="M5 0.5h1.1M31 0.5h1.1M36 0.5h1.1M42 0.5h1.1M48 0.5h1.1M35 1.5h1.1M50 1.5h1.1M67 1.5h1.1M15 2.5h1.1M67 2.5h1.1M59 3.5h1.1M14 4.5h1.1M23 4.5h1.1M50 4.5h1.1M59 4.5h2.1M0 5.5h1.1M2 5.5h1.1M10 5.5h1.1M24 5.5h1.1M31 5.5h1.1M34 5.5h1.1M38 5.5h1.1M24 6.5h1.1M11 7.5h1.1M28 7.5h1.1M42 7.5h1.1M54 7.5h1.1M40 8.5h1.1M60 8.5h2.1M71 8.5h1.1M25 9.5h1.1M58 9.5h1.1M60 9.5h1.1M19 10.5h2.1M22 10.5h1.1M31 10.5h1.1M1 11.5h1.1M39 11.5h1.1M62 11.5h2.1M22 12.5h1.1M38 12.5h1.1M16 13.5h1.1M29 13.5h1.1M44 13.5h1.1M53 13.5h1.1M63 13.5h1.1M4 14.5h2.1M20 14.5h1.1M59 14.5h1.1M8 15.5h1.1M14 15.5h1.1M28 15.5h2.1M60 15.5h1.1M29 16.5h1.1M55 16.5h1.1M64 16.5h1.1M12 17.5h2.1M27 17.5h1.1M29 17.5h1.1M44 17.5h1.1M53 17.5h1.1M61 17.5h1.1M63 17.5h1.1M13 18.5h1.1M49 18.5h1.1M53 18.5h2.1M64 18.5h1.1M16 19.5h1.1M28 19.5h1.1M31 19.5h1.1M38 19.5h1.1M41 19.5h2.1M45 19.5h1.1M48 19.5h1.1M2 20.5h1.1M7 20.5h1.1M13 20.5h1.1M29 20.5h1.1M64 20.5h1.1M67 20.5h1.1M64 21.5h1.1M70 21.5h1.1M45 23.5h1.1M69 23.5h1.1M0 24.5h1.1M2 24.5h1.1M15 24.5h1.1M22 24.5h1.1M35 24.5h1.1M57 24.5h1.1M79 25.5h1.1M130 25.5h1.1M100 26.5h1.1M102 26.5h1.1M118 26.5h1.1M129 26.5h1.1M106 27.5h1.1M108 27.5h1.1M118 27.5h1.1M120 27.5h1.1M140 27.5h1.1M98 28.5h1.1M107 28.5h1.1M111 28.5h1.1M112 29.5h1.1M127 29.5h1.1M138 29.5h1.1M86 30.5h1.1M119 30.5h1.1M122 30.5h1.1M75 31.5h1.1M78 31.5h1.1M100 31.5h1.1M127 31.5h1.1M140 32.5h1.1M117 33.5h1.1M74 34.5h1.1M93 34.5h1.1M117 34.5h1.1M111 36.5h1.1M138 36.5h1.1M74 37.5h1.1M90 37.5h1.1M125 37.5h1.1M127 37.5h1.1M129 37.5h1.1M139 37.5h1.1M72 38.5h1.1M77 38.5h1.1M86 38.5h1.1M100 38.5h2.1M104 38.5h1.1M112 38.5h1.1M93 40.5h1.1M98 41.5h1.1M108 41.5h1.1M124 41.5h2.1M143 41.5h1.1M120 42.5h1.1M127 42.5h1.1M142 42.5h1.1M101 43.5h1.1M118 43.5h1.1M128 43.5h1.1M74 44.5h1.1M90 44.5h1.1M97 44.5h1.1M112 45.5h1.1M124 45.5h1.1M141 45.5h1.1M105 46.5h1.1M111 46.5h1.1M133 46.5h2.1M82 47.5h1.1M119 47.5h1.1M72 48.5h1.1M90 48.5h1.1M128 48.5h1.1M101 49.5h1.1M123 49.5h1.1M142 49.5h1.1" stroke="#f9bd9f" stroke-width="1.12"/>
<path d="M6 0.5h1.1M10 0.5h1.1M52 0.5h1.1M56 2.5h1.1M63 4.5h1.1M62 5.5h1.1M3 7.5h1.1M61 7.5h2.1M3 12.5h1.1M24 14.5h1.1M26 20.5h1.1M50 21.5h1.1M104 25.5h1.1M116 31.5h1.1M110 33.5h1.1M132 35.5h1.1M96 39.5h1.1M143 39.5h1.1M139 41.5h1.1M100 44.5h1.1M93 45.5h1.1M109 47.5h1.1" stroke="#e7876f" stroke-width="1.12"/>
<path d="M7 0.5h1.1M29 3.5h1.1M53 20.5h1.1M121 27.5h1.1M118 40.5h1.1M97 42.5h1.1M103 42.5h1.1M124 49.5h1.1" stroke="#f9d5bd" stroke-width="1.12"/>
<path d="M8 0.5h1.1M46 0.5h1.1M107 1.5h1.1M62 2.5h1.1M80 6.5h1.1M42 12.5h1.1M139 13.5h1.1M65 15.5h1.1M75 17.5h1.1M77 17.5h1.1M136 18.5h1.1M87 23.5h1.1M139 25.5h1.1M6 26.5h1.1M50 27.5h1.1M92 27.5h1.1M10 29.5h1.1M90 34.5h1.1M40 35.5h1.1M9 36.5h1.1M82 36.5h1.1M99 36.5h1.1M119 36.5h1.1M35 37.5h1.1M95 39.5h1.1M123 39.5h1.1M21 42.5h1.1M128 44.5h1.1M142 44.5h1.1M79 47.5h1.1M134 47.5h1.1M94 48.5h1.1M119 48.5h1.1" stroke="#dbe7f3" stroke-width="1.12"/>
<path d="M9 0.5h1.1M62 0.5h1.1M43 1.5h1.1M3 2.5h1.1M0 3.5h1.1M4 3.5h1.1M10 3.5h1.1M23 3.5h1.1M50 3.5h1.1M58 3.5h1.1M27 4.5h1.1M49 4.5h1.1M1 5.5h1.1M47 5.5h1.1M60 5.5h1.1M35 7.5h1.1M59 7.5h1.1M65 7.5h1.1M70 7.5h1.1M33 9.5h1.1M35 10.5h1.1M12 12.5h1.1M35 13.5h1.1M37 13.5h1.1M62 13.5h1.1M71 13.5h1.1M50 15.5h1.1M66 15.5h1.1M11 16.5h1.1M40 16.5h1.1M0 17.5h1.1M36 17.5h1.1M47 17.5h1.1M56 17.5h1.1M1 19.5h1.1M21 19.5h1.1M33 19.5h1.1M64 19.5h1.1M1 20.5h1.1M17 20.5h1.1M22 20.5h1.1M25 20.5h1.1M69 20.5h1.1M55 21.5h1.1M10 24.5h1.1M47 24.5h1.1M116 25.5h1.1M119 25.5h1.1M140 25.5h1.1M114 26.5h1.1M86 27.5h2.1M141 27.5h1.1M95 29.5h1.1M89 30.5h1.1M104 30.5h1.1M109 30.5h1.1M126 30.5h1.1M88 31.5h1.1M104 31.5h1.1M117 32.5h1.1M118 34.5h1.1M143 34.5h1.1M135 35.5h1.1M95 37.5h1.1M140 37.5h1.1M77 39.5h1.1M83 39.5h1.1M93 39.5h1.1M103 39.5h1.1M115 41.5h1.1M140 41.5h1.1M73 42.5h1.1M76 42.5h1.1M83 42.5h1.1M110 42.5h1.1M89 43.5h1.1M93 43.5h1.1M110 44.5h1.1M113 44.5h1.1M140 44.5h1.1M83 45.5h1.1M137 45.5h1.1M89 46.5h1.1M93 46.5h1.1M98 46.5h1.1M90 47.5h1.1M135 47.5h1.1M96 48.5h1.1M107 48.5h1.1M139 48.5h1.1M73 49.5h1.1M116 49.5h1.1" stroke="#ed997b" stroke-width="1.12"/>
<path d="M11 0.5h1.1M54 1.5h1.1M12 3.5h1.1M28 5.5h1.1M44 8.5h2.1M69 8.5h1.1M36 9.5h1.1M14 10.5h1.1M38 10.5h1.1M49 10.5h1.1M70 10.5h1.1M2 11.5h1.1M43 12.5h1.1M50 12.5h1.1M17 13.5h1.1M31 13.5h1.1M8 14.5h1.1M44 16.5h1.1M34 17.5h1.1M16 18.5h1.1M20 20.5h1.1M42 20.5h1.1M44 20.5h1.1M61 20.5h2.1M61 21.5h1.1M37 24.5h1.1M142 26.5h1.1M132 27.5h1.1M138 27.5h1.1M105 28.5h1.1M96 29.5h1.1M101 29.5h1.1M103 29.5h1.1M107 29.5h1.1M126 29.5h1.1M98 31.5h1.1M101 31.5h3.1M142 31.5h1.1M119 32.5h1.1M123 33.5h1.1M135 33.5h1.1M138 33.5h1.1M108 34.5h1.1M125 34.5h1.1M106 36.5h1.1M113 38.5h2.1M118 38.5h1.1M112 40.5h1.1M120 40.5h1.1M140 40.5h1.1M104 42.5h1.1M128 42.5h1.1M143 42.5h1.1M82 43.5h1.1M103 45.5h1.1M106 45.5h1.1M128 47.5h1.1M78 48.5h1.1M125 48.5h1.1M98 49.5h1.1" stroke="#f9bda5" stroke-width="1.12"/>
<path d="M12 0.5h1.1M37 1.5h1.1M47 2.5h1.1M25 3.5h1.1M7 4.5h1.1M25 5.5h1.1M6 7.5h1.1M46 8.5h1.1M66 10.5h1.1M1 13.5h1.1M47 13.5h1.1M52 13.5h1.1M69 13.5h1.1M52 15.5h1.1M3 18.5h1.1M14 19.5h1.1M47 21.5h1.1M41 22.5h1.1M45 22.5h1.1M95 27.5h1.1M135 29.5h1.1M95 30.5h1.1M95 32.5h1.1M99 33.5h1.1M99 34.5h1.1M130 34.5h1.1M89 35.5h1.1M127 35.5h1.1M131 35.5h1.1M96 36.5h1.1M75 37.5h1.1M75 38.5h1.1M73 39.5h1.1M110 39.5h1.1M130 39.5h1.1M100 43.5h1.1M115 44.5h1.1M80 46.5h1.1M111 48.5h1.1M115 49.5h1.1" stroke="#e1755d" stroke-width="1.12"/>
<path d="M13 0.5h1.1M21 0.5h1.1M71 0.5h1.1M17 1.5h1.1M36 1.5h1.1M17 2.5h1.1M54 2.5h1.1M13 3.5h1.1M15 3.5h1.1M48 3.5h1.1M57 3.5h1.1M0 4.5h1.1M5 4.5h1.1M22 4.5h1.1M46 4.5h2.1M4 5.5h1.1M8 5.5h1.1M14 5.5h2.1M21 5.5h1.1M33 5.5h1.1M45 5.5h1.1M49 5.5h1.1M53 5.5h1.1M71 5.5h1.1M47 6.5h1.1M67 6.5h1.1M17 7.5h1.1M31 7.5h1.1M49 7.5h1.1M64 7.5h1.1M12 8.5h1.1M35 8.5h1.1M37 8.5h1.1M43 8.5h1.1M54 8.5h1.1M66 8.5h1.1M12 9.5h1.1M60 10.5h1.1M13 11.5h1.1M19 11.5h1.1M28 11.5h1.1M56 11.5h1.1M69 11.5h1.1M1 12.5h1.1M24 12.5h1.1M46 12.5h1.1M48 12.5h1.1M55 12.5h1.1M70 12.5h1.1M27 13.5h1.1M30 13.5h1.1M41 13.5h1.1M49 13.5h1.1M2 14.5h1.1M11 14.5h1.1M21 14.5h1.1M36 14.5h1.1M38 14.5h1.1M54 14.5h1.1M9 15.5h1.1M11 15.5h1.1M15 15.5h1.1M23 15.5h1.1M42 15.5h1.1M7 16.5h1.1M15 16.5h1.1M23 16.5h1.1M23 17.5h1.1M4 18.5h1.1M11 18.5h1.1M22 18.5h1.1M67 18.5h1.1M13 19.5h1.1M15 19.5h1.1M18 19.5h1.1M27 19.5h1.1M30 19.5h1.1M49 19.5h1.1M57 19.5h1.1M67 19.5h1.1M69 19.5h1.1M4 20.5h1.1M10 20.5h1.1M15 20.5h1.1M36 20.5h1.1M43 20.5h1.1M50 20.5h1.1M55 20.5h1.1M70 20.5h1.1M57 21.5h1.1M69 21.5h1.1M57 23.5h1.1M5 24.5h1.1M7 24.5h1.1M12 24.5h1.1M34 24.5h1.1M39 24.5h1.1M87 25.5h1.1M109 25.5h1.1M112 25.5h1.1M124 25.5h1.1M142 25.5h1.1M93 26.5h1.1M125 26.5h2.1M94 27.5h1.1M111 27.5h1.1M81 28.5h1.1M100 28.5h1.1M103 28.5h1.1M106 28.5h1.1M133 28.5h1.1M143 28.5h1.1M74 29.5h1.1M105 29.5h1.1M131 29.5h1.1M79 30.5h1.1M112 30.5h1.1M133 30.5h2.1M81 31.5h1.1M86 31.5h1.1M94 31.5h1.1M112 31.5h2.1M118 31.5h2.1M130 31.5h1.1M138 31.5h1.1M140 31.5h1.1M79 32.5h1.1M81 32.5h1.1M87 32.5h1.1M94 32.5h1.1M136 32.5h1.1M97 33.5h1.1M121 33.5h2.1M134 33.5h1.1M76 34.5h2.1M79 34.5h1.1M84 34.5h1.1M111 34.5h2.1M114 34.5h1.1M119 34.5h2.1M74 36.5h1.1M94 36.5h1.1M102 36.5h1.1M134 36.5h1.1M77 37.5h1.1M83 37.5h1.1M86 37.5h2.1M113 37.5h1.1M115 37.5h1.1M118 37.5h1.1M135 37.5h1.1M96 38.5h1.1M102 38.5h1.1M107 38.5h1.1M115 38.5h1.1M121 38.5h1.1M126 38.5h1.1M98 39.5h1.1M87 40.5h1.1M105 40.5h1.1M125 40.5h1.1M136 40.5h2.1M139 40.5h1.1M74 41.5h1.1M101 41.5h1.1M105 41.5h1.1M112 41.5h1.1M131 41.5h1.1M77 42.5h1.1M91 42.5h1.1M96 42.5h1.1M100 42.5h1.1M111 42.5h1.1M117 42.5h2.1M123 42.5h1.1M74 43.5h1.1M77 43.5h1.1M90 43.5h1.1M120 43.5h1.1M125 43.5h1.1M72 44.5h1.1M120 44.5h1.1M104 45.5h2.1M107 45.5h1.1M117 45.5h1.1M123 45.5h1.1M139 45.5h2.1M103 46.5h1.1M117 46.5h1.1M142 46.5h1.1M132 47.5h1.1M83 48.5h1.1M118 48.5h1.1M124 48.5h1.1M132 48.5h1.1M134 48.5h1.1M120 49.5h1.1M128 49.5h1.1M132 49.5h1.1" stroke="#f9b799" stroke-width="1.12"/>
<path d="M14 0.5h1.1M43 2.5h1.1M64 2.5h1.1M21 3.5h1.1M16 4.5h1.1M34 4.5h1.1M5 5.5h1.1M42 5.5h1.1M57 5.5h1.1M3 6.5h1.1M38 6.5h1.1M45 6.5h1.1M24 7.5h1.1M40 7.5h1.1M44 7.5h1.1M47 8.5h1.1M62 9.5h1.1M16 10.5h1.1M24 10.5h1.1M42 10.5h1.1M11 11.5h1.1M38 11.5h1.1M43 11.5h1.1M56 12.5h1.1M69 12.5h1.1M19 13.5h1.1M65 13.5h1.1M70 13.5h1.1M47 14.5h1.1M47 15.5h1.1M55 15.5h1.1M61 18.5h1.1M25 19.5h1.1M43 19.5h1.1M39 20.5h1.1M68 20.5h1.1M3 24.5h1.1M46 24.5h1.1M93 25.5h1.1M118 25.5h1.1M85 26.5h1.1M120 26.5h1.1M137 26.5h1.1M88 27.5h1.1M118 28.5h1.1M126 28.5h1.1M99 29.5h1.1M88 30.5h1.1M136 30.5h1.1M84 31.5h1.1M122 31.5h1.1M75 32.5h1.1M118 32.5h1.1M77 33.5h2.1M88 33.5h1.1M93 33.5h1.1M141 33.5h1.1M124 34.5h1.1M90 35.5h1.1M97 36.5h1.1M113 36.5h1.1M121 36.5h1.1M128 36.5h1.1M122 37.5h1.1M116 38.5h1.1M105 39.5h1.1M119 39.5h1.1M76 41.5h1.1M85 41.5h1.1M93 41.5h1.1M72 42.5h1.1M116 42.5h1.1M141 43.5h1.1M118 44.5h1.1M77 45.5h1.1M102 46.5h1.1M124 46.5h1.1M113 48.5h1.1M120 48.5h1.1M142 48.5h1.1M83 49.5h1.1" stroke="#f9b18d" stroke-width="1.12"/>
<path d="M18 0.5h1.1M133 0.5h1.1M122 4.5h1.1M57 7.5h1.1M90 17.5h1.1M78 19.5h1.1M0 21.5h1.1M123 25.5h1.1M56 26.5h1.1M18 34.5h1.1M132 39.5h1.1M26 40.5h1.1M54 41.5h1.1M33 43.5h1.1M69 43.5h1.1M91 46.5h1.1" stroke="#f9f9f3" stroke-width="1.12"/>
<path d="M20 0.5h1.1M22 1.5h1.1M43 5.5h1.1M89 5.5h1.1M100 6.5h1.1M78 7.5h1.1M136 7.5h1.1M7 8.5h1.1M32 9.5h1.1M112 9.5h1.1M10 12.5h1.1M119 12.5h1.1M66 13.5h1.1M2 16.5h1.1M65 17.5h1.1M105 17.5h2.1M36 18.5h1.1M47 18.5h1.1M47 20.5h1.1M111 20.5h1.1M15 21.5h1.1M25 21.5h1.1M28 21.5h1.1M35 21.5h1.1M49 21.5h1.1M80 21.5h1.1M11 22.5h1.1M16 22.5h1.1M26 22.5h1.1M32 22.5h1.1M40 22.5h1.1M9 23.5h1.1M12 23.5h1.1M50 23.5h1.1M88 23.5h1.1M26 24.5h1.1M56 24.5h1.1M97 25.5h1.1M123 26.5h1.1M135 26.5h1.1M41 27.5h1.1M58 27.5h1.1M77 30.5h1.1M102 33.5h1.1M70 36.5h1.1M92 36.5h1.1M23 37.5h1.1M109 39.5h1.1M127 39.5h1.1M122 40.5h1.1M84 41.5h1.1M122 41.5h1.1M85 43.5h1.1M50 44.5h1.1M60 46.5h1.1M72 47.5h1.1M108 48.5h1.1M87 49.5h1.1" stroke="#f9f3ed" stroke-width="1.12"/>
<path d="M22 0.5h2.1M98 0.5h1.1M127 0.5h1.1M18 1.5h1.1M70 1.5h1.1M100 1.5h1.1M133 1.5h1.1M3 3.5h1.1M125 4.5h1.1M3 5.5h1.1M37 6.5h1.1M133 6.5h1.1M26 7.5h1.1M4 8.5h1.1M125 8.5h1.1M10 9.5h1.1M26 9.5h1.1M35 9.5h1.1M63 9.5h1.1M74 9.5h1.1M129 9.5h1.1M138 9.5h1.1M0 10.5h1.1M74 10.5h1.1M76 11.5h1.1M138 11.5h1.1M41 12.5h1.1M87 12.5h1.1M25 14.5h1.1M69 15.5h2.1M111 16.5h1.1M131 16.5h1.1M76 17.5h1.1M112 18.5h1.1M46 19.5h1.1M57 20.5h1.1M60 20.5h1.1M102 20.5h1.1M27 21.5h1.1M91 21.5h1.1M18 22.5h1.1M129 22.5h1.1M37 23.5h1.1M91 23.5h1.1M1 25.5h1.1M117 25.5h1.1M73 26.5h1.1M142 27.5h1.1M19 28.5h1.1M45 28.5h1.1M71 28.5h1.1M125 28.5h1.1M128 28.5h1.1M19 29.5h1.1M63 29.5h1.1M102 29.5h1.1M48 30.5h1.1M93 30.5h1.1M111 30.5h1.1M114 30.5h1.1M132 30.5h1.1M4 31.5h1.1M6 32.5h1.1M37 32.5h1.1M77 32.5h1.1M114 32.5h2.1M28 33.5h1.1M58 33.5h1.1M61 33.5h1.1M143 33.5h1.1M87 34.5h1.1M1 35.5h1.1M24 36.5h1.1M63 36.5h1.1M90 36.5h1.1M103 36.5h1.1M92 37.5h1.1M4 38.5h1.1M17 38.5h1.1M108 38.5h1.1M25 39.5h1.1M121 39.5h1.1M133 39.5h1.1M54 40.5h1.1M132 40.5h2.1M9 41.5h1.1M68 41.5h1.1M111 41.5h1.1M51 42.5h1.1M80 42.5h1.1M82 44.5h1.1M129 44.5h1.1M143 44.5h1.1M120 45.5h1.1M37 46.5h1.1M81 46.5h1.1M87 46.5h1.1M130 46.5h1.1M39 47.5h1.1M87 47.5h1.1M129 47.5h2.1M48 48.5h1.1M75 48.5h1.1M122 48.5h1.1M2 49.5h1.1" stroke="#edf3f3" stroke-width="1.12"/>
<path d="M24 0.5h1.1M0 2.5h1.1M43 3.5h1.1M70 5.5h1.1M112 5.5h1.1M132 5.5h1.1M27 6.5h1.1M1 7.5h1.1M4 7.5h1.1M30 7.5h1.1M0 9.5h1.1M119 10.5h1.1M31 11.5h1.1M34 11.5h1.1M10 13.5h1.1M5 15.5h1.1M19 16.5h1.1M99 16.5h1.1M59 17.5h1.1M70 17.5h1.1M125 17.5h1.1M71 18.5h1.1M71 20.5h1.1M93 20.5h1.1M8 21.5h1.1M19 21.5h1.1M24 21.5h1.1M32 21.5h1.1M68 21.5h1.1M23 22.5h1.1M4 23.5h2.1M7 23.5h1.1M13 23.5h1.1M21 23.5h1.1M34 23.5h1.1M43 24.5h1.1M73 24.5h1.1M88 24.5h1.1M28 25.5h1.1M90 28.5h1.1M110 31.5h1.1M4 34.5h1.1M106 35.5h1.1M127 36.5h1.1M17 37.5h1.1M108 37.5h1.1M88 38.5h1.1M42 39.5h1.1M91 41.5h1.1M24 42.5h1.1M26 42.5h1.1M134 44.5h1.1M37 45.5h1.1M67 45.5h1.1M30 49.5h1.1M108 49.5h1.1" stroke="#f9f3f3" stroke-width="1.12"/>
<path d="M25 0.5h1.1M43 0.5h1.1M4 1.5h1.1M13 1.5h1.1M42 1.5h1.1M64 1.5h1.1M9 2.5h1.1M25 2.5h1.1M19 3.5h1.1M41 3.5h1.1M71 3.5h1.1M41 4.5h1.1M22 5.5h1.1M27 5.5h1.1M7 6.5h1.1M28 6.5h1.1M39 6.5h1.1M50 6.5h1.1M56 6.5h1.1M64 6.5h1.1M7 7.5h1.1M14 7.5h1.1M19 7.5h1.1M25 7.5h1.1M63 7.5h1.1M10 8.5h1.1M11 10.5h2.1M16 11.5h1.1M40 11.5h1.1M8 12.5h1.1M16 12.5h1.1M33 12.5h1.1M39 12.5h1.1M52 12.5h1.1M54 12.5h1.1M65 12.5h1.1M20 13.5h1.1M26 13.5h1.1M15 14.5h1.1M55 14.5h1.1M69 14.5h1.1M13 15.5h1.1M20 15.5h1.1M36 15.5h1.1M24 16.5h1.1M60 16.5h1.1M63 16.5h1.1M32 17.5h1.1M42 17.5h1.1M45 17.5h1.1M0 18.5h1.1M7 18.5h1.1M43 18.5h1.1M69 18.5h2.1M2 19.5h1.1M22 19.5h1.1M61 19.5h1.1M0 20.5h1.1M19 20.5h1.1M41 20.5h1.1M65 20.5h1.1M65 22.5h1.1M9 24.5h1.1M23 24.5h2.1M74 25.5h1.1M86 25.5h1.1M91 26.5h1.1M107 26.5h1.1M122 26.5h1.1M128 26.5h1.1M99 27.5h1.1M77 28.5h1.1M138 28.5h2.1M76 29.5h1.1M74 31.5h1.1M76 31.5h1.1M141 31.5h1.1M78 32.5h1.1M99 32.5h1.1M123 32.5h1.1M132 32.5h1.1M137 32.5h1.1M104 33.5h1.1M109 33.5h1.1M119 33.5h1.1M126 33.5h1.1M92 34.5h1.1M98 35.5h1.1M128 35.5h1.1M77 36.5h1.1M100 36.5h2.1M115 36.5h1.1M120 36.5h1.1M123 36.5h1.1M143 36.5h1.1M107 37.5h1.1M72 39.5h1.1M79 39.5h1.1M77 40.5h1.1M85 40.5h1.1M137 41.5h1.1M99 42.5h1.1M107 42.5h3.1M112 42.5h2.1M121 42.5h1.1M84 43.5h1.1M96 43.5h1.1M103 43.5h1.1M105 43.5h1.1M110 43.5h1.1M117 43.5h1.1M138 43.5h1.1M143 43.5h1.1M76 44.5h2.1M86 44.5h2.1M101 44.5h1.1M103 44.5h1.1M125 44.5h1.1M131 44.5h1.1M136 44.5h1.1M79 45.5h1.1M138 45.5h1.1M77 46.5h1.1M94 46.5h1.1M110 46.5h1.1M125 46.5h1.1M135 46.5h1.1M75 47.5h1.1M98 47.5h2.1M121 47.5h1.1M124 47.5h1.1M141 47.5h2.1M76 48.5h2.1M131 48.5h1.1M135 48.5h1.1M143 48.5h1.1M88 49.5h1.1M135 49.5h1.1M143 49.5h1.1" stroke="#f3ab87" stroke-width="1.12"/>
<path d="M27 0.5h1.1M38 0.5h1.1M39 1.5h1.1M21 2.5h1.1M26 2.5h1.1M30 2.5h1.1M38 2.5h1.1M71 2.5h1.1M16 3.5h1.1M62 4.5h1.1M69 4.5h1.1M71 4.5h1.1M9 5.5h1.1M19 5.5h1.1M56 5.5h1.1M33 6.5h1.1M66 6.5h1.1M71 6.5h1.1M69 7.5h1.1M33 8.5h1.1M1 10.5h1.1M8 10.5h1.1M39 10.5h1.1M58 10.5h1.1M68 10.5h1.1M71 10.5h1.1M0 12.5h1.1M27 12.5h1.1M30 12.5h1.1M62 12.5h1.1M5 13.5h1.1M45 13.5h1.1M59 13.5h1.1M61 13.5h1.1M14 14.5h1.1M37 14.5h1.1M63 14.5h2.1M12 15.5h1.1M46 15.5h1.1M22 16.5h1.1M71 16.5h1.1M10 17.5h1.1M20 17.5h1.1M40 17.5h1.1M54 17.5h1.1M60 17.5h1.1M10 18.5h1.1M21 18.5h1.1M25 18.5h1.1M28 18.5h1.1M45 18.5h1.1M50 18.5h1.1M52 18.5h1.1M0 19.5h1.1M11 19.5h1.1M39 19.5h1.1M21 20.5h1.1M65 21.5h1.1M59 23.5h1.1M61 23.5h1.1M62 24.5h1.1M78 25.5h1.1M83 25.5h2.1M90 25.5h1.1M103 25.5h1.1M108 25.5h1.1M111 25.5h1.1M76 26.5h1.1M79 26.5h1.1M96 26.5h1.1M78 27.5h1.1M85 27.5h1.1M130 27.5h1.1M78 28.5h1.1M117 28.5h1.1M127 28.5h1.1M117 29.5h1.1M139 29.5h1.1M75 30.5h1.1M78 30.5h1.1M103 30.5h1.1M118 30.5h1.1M138 30.5h1.1M79 31.5h2.1M91 31.5h1.1M115 31.5h1.1M137 31.5h1.1M83 32.5h2.1M105 32.5h1.1M109 32.5h1.1M74 33.5h1.1M108 33.5h1.1M127 33.5h1.1M132 33.5h1.1M86 34.5h1.1M140 34.5h1.1M93 35.5h1.1M134 35.5h1.1M114 36.5h1.1M118 36.5h1.1M131 36.5h2.1M73 37.5h1.1M76 37.5h1.1M109 37.5h1.1M83 38.5h1.1M128 39.5h1.1M134 39.5h1.1M72 40.5h1.1M79 41.5h1.1M92 41.5h1.1M107 41.5h1.1M119 41.5h1.1M126 41.5h1.1M86 42.5h1.1M131 42.5h1.1M139 42.5h1.1M75 43.5h1.1M91 43.5h1.1M94 43.5h1.1M113 43.5h1.1M135 43.5h1.1M75 44.5h1.1M79 44.5h1.1M94 44.5h1.1M99 44.5h1.1M88 45.5h1.1M116 45.5h1.1M74 46.5h1.1M90 46.5h1.1M99 46.5h1.1M104 46.5h1.1M106 46.5h1.1M128 46.5h1.1M132 46.5h1.1M140 46.5h1.1M76 47.5h1.1M84 47.5h1.1M86 47.5h1.1M93 47.5h1.1M106 47.5h1.1M115 47.5h1.1M127 47.5h1.1M85 48.5h1.1M110 48.5h1.1M141 48.5h1.1M81 49.5h1.1M85 49.5h1.1M96 49.5h1.1M104 49.5h1.1M107 49.5h1.1M119 49.5h1.1M131 49.5h1.1" stroke="#f3a581" stroke-width="1.12"/>
<path d="M28 0.5h1.1M54 0.5h1.1M20 4.5h1.1M18 5.5h1.1M50 5.5h1.1M12 6.5h1.1M43 6.5h1.1M60 7.5h1.1M11 8.5h1.1M55 8.5h1.1M20 9.5h1.1M23 10.5h1.1M32 10.5h1.1M36 10.5h1.1M51 13.5h1.1M3 14.5h1.1M31 14.5h1.1M7 15.5h1.1M18 15.5h1.1M27 16.5h1.1M48 16.5h1.1M50 19.5h1.1M23 20.5h1.1M64 24.5h1.1M128 25.5h1.1M98 27.5h1.1M77 29.5h1.1M133 29.5h1.1M98 30.5h1.1M113 30.5h1.1M124 30.5h1.1M128 30.5h1.1M134 31.5h1.1M143 31.5h1.1M129 34.5h1.1M141 34.5h1.1M81 36.5h1.1M84 37.5h1.1M98 37.5h1.1M127 38.5h2.1M143 38.5h1.1M82 39.5h1.1M86 40.5h1.1M103 40.5h1.1M119 40.5h1.1M75 41.5h1.1M77 41.5h1.1M88 41.5h1.1M129 43.5h1.1M86 45.5h1.1M97 45.5h1.1M122 46.5h1.1M78 49.5h1.1" stroke="#f9c9ab" stroke-width="1.12"/>
<path d="M29 0.5h1.1M41 0.5h1.1M44 0.5h1.1M70 0.5h1.1M2 2.5h1.1M31 3.5h1.1M18 4.5h1.1M24 4.5h1.1M32 4.5h1.1M67 4.5h1.1M37 5.5h1.1M55 5.5h1.1M64 5.5h1.1M23 6.5h1.1M41 6.5h1.1M48 6.5h1.1M23 7.5h1.1M41 7.5h1.1M48 7.5h1.1M3 8.5h1.1M8 8.5h1.1M22 8.5h1.1M28 8.5h1.1M31 8.5h1.1M48 8.5h1.1M63 8.5h2.1M8 9.5h1.1M13 9.5h1.1M18 9.5h1.1M37 9.5h1.1M46 9.5h1.1M68 9.5h1.1M5 10.5h1.1M18 10.5h1.1M5 11.5h1.1M14 11.5h1.1M20 11.5h2.1M26 11.5h2.1M60 11.5h1.1M15 12.5h1.1M49 12.5h1.1M23 13.5h1.1M67 13.5h1.1M44 14.5h1.1M21 15.5h1.1M25 15.5h1.1M32 15.5h1.1M18 16.5h1.1M51 16.5h1.1M3 17.5h1.1M33 17.5h1.1M2 18.5h1.1M32 18.5h1.1M29 19.5h1.1M53 19.5h1.1M60 19.5h1.1M24 20.5h1.1M31 20.5h1.1M45 20.5h1.1M32 24.5h1.1M45 24.5h1.1M129 25.5h1.1M114 27.5h1.1M94 28.5h1.1M101 28.5h1.1M120 28.5h1.1M122 28.5h1.1M106 29.5h1.1M114 29.5h1.1M118 29.5h1.1M129 29.5h1.1M81 30.5h1.1M142 30.5h1.1M82 31.5h1.1M97 31.5h1.1M105 31.5h1.1M132 31.5h1.1M101 32.5h1.1M133 32.5h1.1M76 33.5h1.1M79 33.5h1.1M81 34.5h1.1M98 34.5h1.1M100 34.5h1.1M127 34.5h1.1M132 34.5h1.1M134 34.5h1.1M75 35.5h1.1M129 36.5h1.1M100 37.5h1.1M142 37.5h1.1M84 38.5h1.1M97 38.5h1.1M122 38.5h1.1M138 38.5h1.1M79 40.5h1.1M128 40.5h1.1M134 40.5h1.1M143 40.5h1.1M89 41.5h1.1M94 41.5h1.1M97 41.5h1.1M134 41.5h1.1M136 41.5h1.1M79 42.5h1.1M81 42.5h1.1M90 42.5h1.1M119 42.5h1.1M124 42.5h2.1M134 42.5h1.1M141 42.5h1.1M81 43.5h1.1M97 43.5h1.1M113 45.5h1.1M122 45.5h1.1M133 45.5h1.1M95 47.5h1.1M101 48.5h2.1M129 49.5h1.1" stroke="#f9c9b1" stroke-width="1.12"/>
<path d="M30 0.5h1.1M33 0.5h1.1M10 1.5h1.1M45 1.5h1.1M61 4.5h1.1M65 5.5h1.1M46 6.5h1.1M68 6.5h1.1M10 7.5h1.1M6 8.5h1.1M38 8.5h1.1M68 8.5h1.1M6 12.5h1.1M26 12.5h1.1M11 13.5h1.1M36 13.5h1.1M37 15.5h1.1M66 17.5h1.1M17 18.5h1.1M63 18.5h1.1M52 19.5h1.1M65 19.5h1.1M51 21.5h1.1M70 24.5h1.1M80 25.5h1.1M80 26.5h1.1M138 26.5h1.1M84 27.5h1.1M89 28.5h1.1M95 28.5h1.1M73 30.5h1.1M107 32.5h1.1M116 32.5h1.1M83 34.5h1.1M104 35.5h1.1M107 35.5h1.1M117 35.5h1.1M139 36.5h1.1M130 38.5h1.1M102 39.5h1.1M107 39.5h2.1M113 40.5h1.1M113 41.5h1.1M130 41.5h1.1M135 41.5h1.1M131 43.5h1.1M106 44.5h1.1M116 44.5h1.1M127 46.5h1.1M110 47.5h1.1M130 48.5h1.1M126 49.5h1.1M137 49.5h1.1" stroke="#e78769" stroke-width="1.12"/>
<path d="M32 0.5h1.1M56 0.5h1.1M33 1.5h2.1M71 1.5h1.1M7 2.5h1.1M34 2.5h1.1M68 3.5h1.1M71 7.5h1.1M33 10.5h1.1M66 11.5h1.1M52 14.5h1.1M6 19.5h1.1M56 19.5h1.1M63 19.5h1.1M3 20.5h1.1M39 23.5h1.1M52 23.5h1.1M33 24.5h1.1M58 24.5h1.1M68 24.5h1.1M85 25.5h1.1M75 26.5h1.1M109 27.5h1.1M131 28.5h1.1M135 30.5h1.1M80 34.5h1.1M122 35.5h1.1M74 39.5h1.1M99 39.5h1.1M130 40.5h1.1M110 41.5h1.1M112 43.5h1.1M78 44.5h1.1M84 44.5h1.1M111 44.5h1.1M80 45.5h1.1M143 45.5h1.1M79 46.5h1.1M143 47.5h1.1M73 48.5h1.1" stroke="#e78169" stroke-width="1.12"/>
<path d="M35 0.5h1.1M37 0.5h1.1M57 0.5h1.1M60 0.5h1.1M48 2.5h1.1M50 2.5h1.1M57 2.5h1.1M18 3.5h1.1M29 4.5h1.1M48 5.5h1.1M5 6.5h1.1M8 6.5h1.1M20 6.5h1.1M29 6.5h1.1M58 6.5h1.1M58 7.5h1.1M24 9.5h1.1M39 9.5h1.1M50 9.5h1.1M71 9.5h1.1M7 10.5h1.1M30 10.5h1.1M61 10.5h1.1M10 11.5h1.1M46 11.5h1.1M29 12.5h1.1M57 12.5h1.1M18 13.5h1.1M33 15.5h1.1M53 16.5h1.1M31 18.5h1.1M51 20.5h1.1M42 21.5h1.1M71 21.5h1.1M18 24.5h1.1M28 24.5h1.1M31 24.5h1.1M36 24.5h1.1M125 25.5h1.1M129 28.5h1.1M120 29.5h1.1M136 31.5h1.1M114 33.5h1.1M120 33.5h1.1M125 33.5h1.1M123 37.5h1.1M128 37.5h1.1M132 38.5h1.1M114 39.5h1.1M142 39.5h1.1M78 40.5h1.1M88 40.5h1.1M129 42.5h1.1M136 42.5h1.1M140 42.5h1.1M114 43.5h1.1M44 45.5h1.1M95 45.5h1.1M98 45.5h1.1M118 45.5h1.1M128 45.5h1.1M114 46.5h1.1M129 48.5h1.1M90 49.5h1.1" stroke="#ffd5bd" stroke-width="1.12"/>
<path d="M39 0.5h1.1M1 1.5h1.1M14 1.5h1.1M31 1.5h1.1M40 1.5h1.1M58 1.5h1.1M1 2.5h1.1M68 2.5h1.1M27 3.5h1.1M32 3.5h1.1M7 5.5h1.1M61 5.5h1.1M69 5.5h1.1M67 7.5h1.1M56 8.5h1.1M66 9.5h1.1M56 10.5h1.1M5 12.5h1.1M25 12.5h1.1M3 13.5h1.1M7 13.5h1.1M64 13.5h1.1M12 14.5h2.1M40 15.5h1.1M71 15.5h1.1M21 16.5h1.1M25 16.5h1.1M28 16.5h1.1M56 16.5h1.1M58 16.5h1.1M38 17.5h1.1M15 18.5h1.1M9 20.5h1.1M33 20.5h1.1M56 20.5h1.1M43 22.5h1.1M25 24.5h1.1M52 24.5h1.1M76 25.5h1.1M89 25.5h1.1M86 26.5h1.1M92 26.5h1.1M115 26.5h2.1M112 27.5h1.1M116 27.5h1.1M143 27.5h1.1M88 28.5h1.1M92 29.5h1.1M124 29.5h1.1M99 30.5h1.1M93 31.5h1.1M109 31.5h1.1M117 31.5h1.1M133 31.5h1.1M74 32.5h1.1M97 32.5h1.1M113 32.5h1.1M89 34.5h1.1M138 34.5h1.1M76 35.5h1.1M113 35.5h1.1M121 35.5h1.1M104 37.5h1.1M73 38.5h1.1M80 38.5h1.1M97 39.5h1.1M101 39.5h1.1M93 42.5h1.1M91 44.5h1.1M109 44.5h1.1M78 45.5h1.1M115 45.5h1.1M86 46.5h1.1M112 46.5h1.1M139 46.5h1.1M141 46.5h1.1M138 47.5h1.1M80 48.5h1.1M121 48.5h1.1M109 49.5h1.1M127 49.5h1.1" stroke="#f39f7b" stroke-width="1.12"/>
<path d="M40 0.5h1.1M47 3.5h1.1M65 4.5h1.1M6 6.5h1.1M59 6.5h1.1M6 10.5h1.1M40 10.5h1.1M6 13.5h1.1M25 13.5h1.1M33 13.5h1.1M43 13.5h1.1M45 14.5h1.1M6 16.5h1.1M9 16.5h1.1M21 17.5h1.1M58 17.5h1.1M62 17.5h1.1M71 17.5h1.1M9 18.5h1.1M107 25.5h1.1M78 26.5h1.1M95 26.5h1.1M101 26.5h1.1M83 28.5h1.1M85 28.5h1.1M99 28.5h1.1M132 28.5h1.1M107 30.5h1.1M137 30.5h1.1M124 31.5h1.1M126 31.5h1.1M80 33.5h1.1M92 33.5h1.1M85 34.5h1.1M95 34.5h1.1M137 34.5h1.1M78 35.5h1.1M84 35.5h1.1M91 35.5h1.1M115 35.5h1.1M119 35.5h2.1M123 35.5h1.1M126 35.5h1.1M137 35.5h1.1M143 35.5h1.1M95 36.5h1.1M110 37.5h1.1M126 39.5h1.1M99 41.5h1.1M95 42.5h1.1M115 42.5h1.1M73 43.5h1.1M111 43.5h1.1M140 43.5h1.1M73 44.5h1.1M93 44.5h1.1M112 44.5h1.1M126 44.5h1.1M135 44.5h1.1M78 46.5h1.1M107 46.5h2.1M131 46.5h1.1M83 47.5h1.1M85 47.5h1.1M104 48.5h1.1M92 49.5h1.1" stroke="#e78d6f" stroke-width="1.12"/>
<path d="M45 0.5h1.1M9 1.5h1.1M41 1.5h1.1M41 2.5h1.1M20 3.5h1.1M69 3.5h1.1M12 5.5h1.1M26 5.5h1.1M58 5.5h1.1M10 6.5h1.1M43 7.5h1.1M47 7.5h1.1M21 12.5h1.1M4 13.5h1.1M24 13.5h1.1M38 13.5h1.1M58 13.5h1.1M39 14.5h2.1M42 14.5h1.1M8 16.5h1.1M37 16.5h1.1M14 17.5h1.1M25 17.5h1.1M48 17.5h1.1M33 18.5h1.1M5 20.5h1.1M1 24.5h1.1M90 26.5h1.1M112 26.5h1.1M124 26.5h1.1M130 26.5h2.1M89 27.5h1.1M96 28.5h1.1M97 29.5h1.1M91 30.5h1.1M139 31.5h1.1M76 32.5h1.1M93 32.5h1.1M104 32.5h1.1M107 33.5h1.1M136 33.5h1.1M94 34.5h1.1M79 35.5h1.1M85 35.5h1.1M73 36.5h1.1M93 37.5h1.1M91 38.5h1.1M94 39.5h1.1M140 39.5h1.1M117 41.5h1.1M72 43.5h1.1M76 43.5h1.1M119 44.5h1.1M89 45.5h1.1M88 46.5h1.1M138 46.5h1.1M72 49.5h1.1" stroke="#f39f81" stroke-width="1.12"/>
<path d="M47 0.5h1.1M22 2.5h1.1M7 3.5h1.1M37 3.5h1.1M49 23.5h1.1M55 23.5h1.1M106 30.5h1.1M130 33.5h1.1M116 35.5h1.1M115 43.5h1.1M92 47.5h1.1" stroke="#db6957" stroke-width="1.12"/>
<path d="M49 0.5h1.1M35 2.5h1.1M13 6.5h1.1M16 6.5h1.1M18 6.5h1.1M44 6.5h1.1M57 6.5h1.1M18 7.5h1.1M14 8.5h1.1M42 8.5h1.1M57 8.5h1.1M4 9.5h1.1M17 9.5h1.1M30 9.5h1.1M61 9.5h1.1M50 10.5h2.1M22 11.5h1.1M24 11.5h1.1M32 11.5h1.1M65 11.5h1.1M2 12.5h1.1M31 12.5h1.1M9 13.5h1.1M51 14.5h1.1M53 15.5h1.1M51 18.5h1.1M66 18.5h1.1M12 19.5h1.1M55 19.5h1.1M12 20.5h1.1M113 20.5h1.1M5 21.5h1.1M33 21.5h1.1M10 22.5h1.1M6 23.5h1.1M41 23.5h1.1M43 23.5h1.1M70 23.5h1.1M55 24.5h1.1M67 24.5h1.1M108 29.5h1.1M119 29.5h1.1M136 29.5h1.1M82 33.5h1.1M137 37.5h1.1M94 38.5h1.1M142 38.5h1.1M28 44.5h1.1M98 44.5h1.1M81 45.5h1.1M94 45.5h1.1M82 46.5h1.1M121 46.5h1.1M106 48.5h1.1" stroke="#ffdbc9" stroke-width="1.12"/>
<path d="M50 0.5h1.1M69 1.5h1.1M51 2.5h1.1M51 3.5h1.1M31 4.5h1.1M16 5.5h1.1M23 5.5h1.1M29 5.5h1.1M46 5.5h1.1M0 6.5h1.1M30 6.5h1.1M42 6.5h1.1M51 6.5h1.1M55 6.5h1.1M60 6.5h1.1M5 7.5h1.1M0 8.5h1.1M5 8.5h1.1M15 8.5h2.1M21 8.5h1.1M32 8.5h1.1M41 8.5h1.1M53 8.5h1.1M2 9.5h1.1M5 9.5h1.1M7 9.5h1.1M11 9.5h1.1M15 9.5h1.1M23 9.5h1.1M28 9.5h1.1M38 9.5h1.1M40 9.5h1.1M49 9.5h1.1M54 9.5h1.1M69 9.5h1.1M2 10.5h1.1M15 10.5h1.1M28 10.5h1.1M41 10.5h1.1M54 10.5h1.1M67 10.5h1.1M41 11.5h2.1M44 11.5h1.1M50 11.5h1.1M64 11.5h1.1M67 11.5h1.1M23 12.5h1.1M70 14.5h1.1M34 16.5h1.1M67 17.5h1.1M18 18.5h1.1M11 20.5h1.1M1 22.5h1.1M19 22.5h1.1M50 22.5h2.1M69 22.5h1.1M40 23.5h1.1M11 24.5h1.1M19 24.5h1.1M42 24.5h1.1M49 24.5h1.1M60 24.5h1.1M81 25.5h1.1M81 26.5h1.1M81 27.5h1.1M101 27.5h1.1M123 27.5h1.1M75 29.5h1.1M83 29.5h1.1M85 29.5h1.1M140 29.5h1.1M82 30.5h1.1M94 30.5h1.1M101 30.5h1.1M120 30.5h1.1M120 31.5h1.1M130 32.5h1.1M133 33.5h1.1M82 34.5h1.1M123 34.5h1.1M128 34.5h1.1M72 36.5h1.1M79 37.5h1.1M81 37.5h1.1M136 37.5h1.1M105 38.5h1.1M123 38.5h1.1M80 39.5h1.1M75 40.5h1.1M83 40.5h1.1M89 40.5h2.1M96 40.5h1.1M98 40.5h1.1M107 40.5h1.1M114 40.5h1.1M103 41.5h1.1M106 41.5h1.1M114 41.5h1.1M74 42.5h1.1M101 42.5h2.1M136 43.5h1.1M102 45.5h1.1M119 45.5h1.1M125 45.5h1.1M81 48.5h1.1M138 48.5h1.1M102 49.5h1.1M106 49.5h1.1M125 49.5h1.1M139 49.5h1.1" stroke="#f9cfb7" stroke-width="1.12"/>
<path d="M53 0.5h1.1M67 0.5h1.1M57 1.5h1.1M42 4.5h1.1M64 4.5h1.1M21 7.5h1.1M24 8.5h1.1M62 8.5h1.1M63 15.5h1.1M39 16.5h1.1M4 17.5h1.1M122 25.5h1.1M132 26.5h1.1M141 29.5h1.1M84 33.5h1.1M91 34.5h1.1M129 39.5h1.1M102 41.5h1.1M78 42.5h1.1M135 42.5h1.1M87 43.5h1.1M84 45.5h1.1M114 48.5h1.1M103 49.5h1.1" stroke="#f9b79f" stroke-width="1.12"/>
<path d="M59 0.5h1.1M92 0.5h1.1M115 1.5h1.1M128 1.5h1.1M8 2.5h1.1M59 2.5h1.1M72 3.5h1.1M92 3.5h1.1M130 3.5h1.1M45 4.5h1.1M130 4.5h1.1M34 6.5h1.1M99 6.5h1.1M34 7.5h1.1M95 7.5h1.1M139 7.5h1.1M130 8.5h1.1M55 9.5h1.1M55 10.5h1.1M89 12.5h1.1M110 12.5h1.1M14 13.5h1.1M116 14.5h1.1M80 15.5h1.1M16 16.5h2.1M62 16.5h1.1M92 16.5h1.1M80 17.5h1.1M95 17.5h1.1M139 17.5h1.1M95 18.5h1.1M131 18.5h1.1M26 19.5h1.1M40 20.5h1.1M17 24.5h1.1M47 25.5h1.1M68 26.5h1.1M105 26.5h1.1M122 27.5h1.1M142 29.5h1.1M68 30.5h1.1M129 31.5h1.1M58 32.5h1.1M69 33.5h1.1M124 33.5h1.1M28 34.5h1.1M56 34.5h1.1M62 34.5h1.1M97 34.5h1.1M10 35.5h1.1M26 35.5h1.1M33 35.5h1.1M58 35.5h1.1M66 35.5h1.1M60 36.5h1.1M78 36.5h1.1M107 36.5h1.1M56 39.5h1.1M58 39.5h1.1M82 40.5h1.1M124 40.5h1.1M28 41.5h1.1M81 41.5h1.1M133 42.5h1.1M62 43.5h1.1M4 44.5h1.1M66 44.5h1.1M123 44.5h1.1M33 45.5h1.1M64 46.5h1.1M67 46.5h1.1M101 46.5h1.1M66 47.5h1.1M101 47.5h1.1M97 48.5h1.1M19 49.5h1.1M82 49.5h1.1" stroke="#d5e7f3" stroke-width="1.12"/>
<path d="M61 0.5h1.1M21 1.5h1.1M27 1.5h1.1M48 1.5h1.1M5 2.5h1.1M10 2.5h1.1M23 2.5h1.1M31 2.5h1.1M45 2.5h1.1M55 2.5h1.1M2 3.5h1.1M30 3.5h1.1M36 3.5h1.1M45 3.5h1.1M62 3.5h1.1M44 4.5h1.1M56 4.5h1.1M32 5.5h1.1M8 7.5h1.1M65 8.5h1.1M26 10.5h1.1M65 10.5h1.1M6 11.5h1.1M12 11.5h1.1M68 11.5h1.1M71 11.5h1.1M37 12.5h1.1M55 13.5h1.1M58 14.5h1.1M0 16.5h1.1M20 16.5h1.1M32 16.5h1.1M50 16.5h1.1M54 16.5h1.1M55 17.5h1.1M20 18.5h1.1M41 18.5h1.1M44 18.5h1.1M5 19.5h1.1M19 19.5h1.1M37 19.5h1.1M6 20.5h1.1M66 23.5h1.1M13 24.5h1.1M54 24.5h1.1M65 24.5h1.1M69 24.5h1.1M134 25.5h1.1M140 26.5h1.1M96 27.5h1.1M122 29.5h1.1M72 30.5h1.1M76 30.5h1.1M143 30.5h1.1M99 31.5h1.1M91 32.5h1.1M98 32.5h1.1M126 32.5h1.1M139 32.5h1.1M141 32.5h1.1M143 32.5h1.1M89 33.5h1.1M100 33.5h1.1M128 33.5h1.1M137 33.5h1.1M140 33.5h1.1M72 34.5h1.1M133 34.5h1.1M72 35.5h1.1M125 35.5h1.1M138 35.5h1.1M141 35.5h1.1M109 36.5h1.1M117 36.5h1.1M136 36.5h1.1M85 37.5h1.1M119 37.5h1.1M143 37.5h1.1M109 38.5h1.1M131 38.5h1.1M134 38.5h1.1M139 38.5h1.1M124 39.5h1.1M73 40.5h1.1M102 40.5h1.1M78 41.5h1.1M87 41.5h1.1M130 42.5h1.1M137 42.5h1.1M79 43.5h1.1M104 43.5h1.1M126 43.5h1.1M81 44.5h1.1M117 44.5h1.1M90 45.5h1.1M109 45.5h1.1M131 45.5h1.1M75 46.5h1.1M77 47.5h1.1M97 47.5h1.1M102 47.5h1.1M111 47.5h1.1M123 47.5h1.1M139 47.5h1.1M105 48.5h1.1M127 48.5h1.1M86 49.5h1.1M130 49.5h1.1M133 49.5h1.1M141 49.5h1.1" stroke="#f3ab8d" stroke-width="1.12"/>
<path d="M63 0.5h1.1M24 1.5h1.1M74 1.5h1.1M106 3.5h1.1M132 4.5h1.1M54 5.5h1.1M80 5.5h1.1M1 6.5h1.1M33 7.5h1.1M80 8.5h1.1M47 9.5h1.1M94 9.5h1.1M112 10.5h1.1M35 12.5h1.1M117 13.5h1.1M10 14.5h1.1M61 15.5h1.1M1 16.5h1.1M70 16.5h1.1M40 18.5h1.1M46 18.5h1.1M58 19.5h1.1M81 19.5h1.1M134 20.5h1.1M76 21.5h1.1M22 22.5h1.1M24 22.5h1.1M14 23.5h1.1M35 23.5h2.1M21 24.5h1.1M26 25.5h1.1M113 25.5h1.1M0 26.5h1.1M90 27.5h1.1M124 27.5h2.1M84 28.5h1.1M109 28.5h1.1M32 29.5h1.1M79 29.5h1.1M37 30.5h1.1M131 30.5h1.1M121 31.5h1.1M83 33.5h1.1M101 34.5h1.1M28 35.5h1.1M10 37.5h1.1M70 38.5h1.1M81 39.5h1.1M28 40.5h1.1M127 40.5h1.1M138 40.5h1.1M17 41.5h1.1M26 41.5h1.1M28 42.5h1.1M60 44.5h1.1M71 44.5h1.1M110 45.5h1.1M37 47.5h1.1M21 48.5h1.1M38 48.5h1.1M31 49.5h1.1" stroke="#f3f3f9" stroke-width="1.12"/>
<path d="M65 0.5h1.1M53 6.5h1.1M17 8.5h2.1M20 8.5h1.1M49 8.5h2.1M27 9.5h1.1M70 9.5h1.1M53 10.5h1.1M17 11.5h1.1M34 13.5h1.1M28 14.5h1.1M5 16.5h1.1M1 17.5h1.1M12 18.5h1.1M59 19.5h1.1M2 21.5h1.1M12 21.5h1.1M16 21.5h1.1M20 21.5h1.1M31 21.5h1.1M0 22.5h1.1M2 22.5h1.1M4 22.5h1.1M25 22.5h1.1M54 22.5h1.1M68 22.5h1.1M10 23.5h1.1M17 23.5h2.1M26 23.5h1.1M28 23.5h1.1M56 23.5h1.1M82 25.5h1.1M102 27.5h1.1M72 28.5h1.1M72 29.5h1.1M81 29.5h1.1M100 29.5h1.1M121 29.5h1.1M123 29.5h1.1M128 29.5h1.1M132 29.5h1.1M110 32.5h1.1M121 37.5h1.1M133 38.5h1.1M136 38.5h1.1M80 41.5h1.1M142 41.5h1.1M85 44.5h1.1M114 47.5h1.1M93 48.5h1.1" stroke="#ffe1cf" stroke-width="1.12"/>
<path d="M66 0.5h1.1M16 1.5h1.1M66 1.5h1.1M66 2.5h1.1M122 2.5h1.1M138 6.5h1.1M27 7.5h1.1M137 12.5h1.1M96 13.5h1.1M1 15.5h1.1M69 16.5h1.1M19 17.5h1.1M69 17.5h1.1M13 21.5h1.1M67 21.5h1.1M2 23.5h1.1M44 24.5h1.1M62 25.5h1.1M135 25.5h2.1M113 27.5h1.1M5 29.5h1.1M20 29.5h1.1M134 29.5h1.1M35 33.5h1.1M118 33.5h1.1M6 34.5h1.1M106 34.5h1.1M25 35.5h1.1M140 35.5h1.1M108 36.5h1.1M94 37.5h1.1M19 38.5h1.1M58 38.5h1.1M100 39.5h1.1M138 39.5h1.1M91 40.5h1.1M109 40.5h2.1M141 40.5h2.1M127 41.5h1.1M138 41.5h1.1M102 43.5h1.1M10 46.5h1.1M72 46.5h1.1M109 46.5h1.1" stroke="#f9f9f9" stroke-width="1.12"/>
<path d="M68 0.5h1.1M51 1.5h1.1M56 1.5h1.1M68 1.5h1.1M11 2.5h1.1M6 4.5h1.1M52 4.5h1.1M68 4.5h1.1M68 5.5h1.1M46 7.5h1.1M68 7.5h1.1M13 13.5h1.1M40 13.5h1.1M42 13.5h1.1M60 14.5h1.1M16 15.5h1.1M49 15.5h1.1M47 16.5h1.1M26 17.5h1.1M50 17.5h1.1M14 18.5h1.1M58 23.5h1.1M98 26.5h1.1M104 26.5h1.1M139 26.5h1.1M115 29.5h1.1M110 35.5h1.1M139 35.5h1.1M80 36.5h1.1M83 36.5h1.1M104 36.5h1.1M92 39.5h1.1M104 39.5h1.1M116 39.5h1.1M115 40.5h1.1M135 40.5h1.1M92 42.5h1.1M121 43.5h1.1M139 43.5h1.1M95 44.5h1.1M139 44.5h1.1M126 47.5h1.1M137 47.5h1.1M74 48.5h1.1" stroke="#e17b63" stroke-width="1.12"/>
<path d="M72 0.5h1.1M104 0.5h1.1M129 0.5h1.1M132 0.5h1.1M84 1.5h1.1M87 1.5h2.1M90 1.5h1.1M93 2.5h1.1M102 2.5h1.1M113 2.5h1.1M121 2.5h1.1M142 2.5h1.1M88 3.5h1.1M100 3.5h1.1M125 3.5h1.1M79 4.5h1.1M102 4.5h1.1M126 4.5h1.1M131 4.5h1.1M134 4.5h1.1M75 5.5h1.1M106 5.5h1.1M120 5.5h1.1M140 5.5h1.1M73 6.5h1.1M89 6.5h1.1M104 6.5h1.1M123 6.5h1.1M130 6.5h1.1M89 7.5h1.1M104 7.5h1.1M112 7.5h1.1M118 7.5h1.1M83 8.5h1.1M84 9.5h1.1M143 9.5h1.1M108 10.5h2.1M116 10.5h2.1M135 10.5h1.1M80 11.5h1.1M89 11.5h1.1M109 11.5h1.1M119 11.5h1.1M122 11.5h1.1M139 11.5h1.1M101 12.5h1.1M122 12.5h1.1M124 12.5h2.1M74 13.5h2.1M78 13.5h1.1M93 13.5h1.1M141 13.5h1.1M74 14.5h3.1M87 14.5h1.1M108 15.5h1.1M113 15.5h1.1M131 15.5h1.1M121 16.5h1.1M104 17.5h1.1M113 17.5h1.1M119 17.5h1.1M128 17.5h1.1M135 17.5h1.1M137 17.5h1.1M120 18.5h1.1M130 18.5h1.1M137 18.5h1.1M139 18.5h1.1M83 19.5h1.1M96 19.5h1.1M120 19.5h1.1M74 21.5h1.1M78 21.5h1.1M81 21.5h1.1M85 21.5h1.1M97 21.5h1.1M100 21.5h1.1M115 21.5h1.1M139 21.5h1.1M90 22.5h1.1M143 22.5h1.1M84 23.5h1.1M98 23.5h1.1M107 23.5h1.1M111 23.5h1.1M132 23.5h1.1M139 23.5h1.1M91 24.5h1.1M104 24.5h1.1M117 24.5h1.1M126 24.5h1.1M132 24.5h1.1M4 25.5h1.1M43 25.5h1.1M24 26.5h1.1M27 26.5h1.1M35 26.5h1.1M37 26.5h1.1M46 26.5h1.1M60 26.5h1.1M2 27.5h1.1M22 27.5h2.1M42 27.5h1.1M24 28.5h1.1M57 28.5h1.1M61 28.5h1.1M3 29.5h1.1M52 29.5h1.1M1 30.5h1.1M12 30.5h2.1M19 30.5h1.1M22 30.5h1.1M30 30.5h1.1M47 30.5h1.1M61 30.5h1.1M10 31.5h1.1M20 31.5h1.1M22 31.5h1.1M27 31.5h1.1M33 31.5h1.1M47 31.5h1.1M56 31.5h1.1M69 31.5h1.1M23 32.5h1.1M33 32.5h1.1M39 32.5h1.1M57 32.5h1.1M10 33.5h1.1M20 33.5h1.1M16 34.5h1.1M31 34.5h1.1M54 34.5h1.1M66 34.5h1.1M68 34.5h1.1M18 35.5h1.1M23 35.5h1.1M31 35.5h2.1M59 35.5h1.1M3 36.5h1.1M10 36.5h1.1M19 36.5h1.1M42 36.5h1.1M44 36.5h1.1M48 36.5h1.1M50 36.5h1.1M2 37.5h2.1M9 37.5h1.1M38 37.5h2.1M47 37.5h1.1M65 37.5h1.1M22 38.5h1.1M71 38.5h1.1M3 39.5h1.1M21 39.5h1.1M33 39.5h1.1M36 39.5h2.1M40 40.5h1.1M66 40.5h1.1M62 41.5h1.1M2 42.5h2.1M54 42.5h1.1M64 42.5h1.1M69 42.5h1.1M15 43.5h1.1M21 43.5h1.1M43 43.5h2.1M54 43.5h1.1M68 43.5h1.1M1 44.5h1.1M9 44.5h1.1M14 44.5h1.1M16 44.5h1.1M34 44.5h1.1M63 44.5h1.1M9 45.5h1.1M38 45.5h1.1M47 45.5h1.1M11 46.5h1.1M25 46.5h1.1M27 46.5h1.1M36 46.5h1.1M45 46.5h2.1M49 46.5h1.1M0 47.5h1.1M23 47.5h1.1M48 47.5h1.1M5 48.5h1.1M28 48.5h1.1M26 49.5h1.1" stroke="#abd5e7" stroke-width="1.12"/>
<path d="M73 0.5h1.1M93 0.5h1.1M85 1.5h1.1M93 1.5h1.1M97 1.5h1.1M99 1.5h1.1M119 1.5h1.1M124 1.5h1.1M74 2.5h1.1M91 2.5h2.1M99 2.5h1.1M103 2.5h1.1M107 2.5h1.1M114 2.5h1.1M117 2.5h1.1M95 3.5h1.1M113 3.5h1.1M115 3.5h1.1M86 4.5h1.1M88 4.5h1.1M99 4.5h1.1M115 4.5h1.1M135 4.5h1.1M74 5.5h1.1M86 5.5h1.1M2 6.5h1.1M96 6.5h1.1M110 6.5h1.1M96 7.5h1.1M100 7.5h1.1M140 7.5h1.1M99 12.5h1.1M102 12.5h1.1M108 12.5h2.1M72 13.5h1.1M83 13.5h1.1M85 13.5h1.1M91 13.5h1.1M132 13.5h1.1M135 13.5h1.1M72 14.5h2.1M79 14.5h1.1M92 14.5h1.1M115 14.5h1.1M122 14.5h1.1M84 15.5h1.1M87 15.5h1.1M92 15.5h1.1M135 15.5h1.1M89 16.5h1.1M94 16.5h1.1M106 16.5h1.1M108 16.5h1.1M116 16.5h1.1M141 16.5h1.1M115 17.5h1.1M121 17.5h1.1M133 17.5h1.1M142 17.5h1.1M74 18.5h1.1M135 18.5h1.1M143 18.5h1.1M79 19.5h1.1M88 19.5h1.1M103 19.5h1.1M117 19.5h1.1M135 19.5h1.1M73 20.5h1.1M103 20.5h1.1M109 20.5h1.1M117 20.5h1.1M141 20.5h1.1M89 21.5h1.1M93 21.5h1.1M127 21.5h1.1M131 21.5h1.1M74 22.5h1.1M79 22.5h1.1M110 22.5h1.1M112 22.5h1.1M124 22.5h1.1M131 22.5h1.1M108 23.5h1.1M127 23.5h2.1M87 24.5h1.1M95 24.5h1.1M107 24.5h1.1M110 24.5h1.1M114 24.5h2.1M133 24.5h1.1M140 24.5h1.1M7 25.5h1.1M15 25.5h1.1M45 25.5h1.1M60 25.5h1.1M39 26.5h1.1M48 26.5h1.1M54 26.5h1.1M10 27.5h1.1M28 27.5h1.1M59 27.5h1.1M15 28.5h1.1M20 28.5h1.1M36 28.5h1.1M56 28.5h1.1M70 28.5h1.1M6 29.5h1.1M10 30.5h1.1M28 30.5h1.1M35 30.5h1.1M45 30.5h1.1M66 30.5h1.1M69 30.5h1.1M2 31.5h1.1M12 31.5h1.1M42 31.5h1.1M71 31.5h1.1M3 32.5h1.1M8 32.5h1.1M19 32.5h1.1M22 32.5h1.1M52 32.5h1.1M54 32.5h1.1M68 32.5h1.1M50 33.5h1.1M65 33.5h1.1M15 34.5h1.1M45 34.5h1.1M52 34.5h1.1M103 34.5h1.1M15 35.5h1.1M49 35.5h1.1M8 36.5h1.1M17 36.5h1.1M41 36.5h1.1M33 37.5h1.1M40 37.5h1.1M7 39.5h2.1M22 39.5h2.1M54 39.5h1.1M57 39.5h1.1M60 39.5h2.1M69 39.5h1.1M33 41.5h1.1M37 41.5h1.1M66 41.5h1.1M1 42.5h1.1M11 42.5h1.1M4 43.5h1.1M8 43.5h1.1M19 43.5h1.1M41 43.5h1.1M11 44.5h1.1M38 44.5h1.1M59 44.5h1.1M4 46.5h1.1M22 46.5h1.1M35 46.5h1.1M50 46.5h1.1M53 46.5h2.1M11 47.5h1.1M35 47.5h1.1M4 48.5h1.1M54 48.5h1.1M58 48.5h1.1M60 48.5h1.1M45 49.5h1.1M55 49.5h1.1M70 49.5h1.1" stroke="#b7d5e7" stroke-width="1.12"/>
<path d="M74 0.5h1.1M112 2.5h1.1M81 3.5h1.1M118 6.5h1.1M26 8.5h2.1M108 9.5h1.1M25 11.5h1.1M129 11.5h1.1M17 12.5h1.1M6 14.5h1.1M59 15.5h1.1M46 16.5h1.1M11 17.5h1.1M81 18.5h1.1M98 18.5h1.1M8 19.5h1.1M29 22.5h1.1M52 22.5h1.1M122 23.5h1.1M94 25.5h1.1M113 26.5h1.1M136 26.5h1.1M91 28.5h1.1M38 29.5h1.1M37 31.5h1.1M96 31.5h1.1M111 32.5h1.1M103 35.5h1.1M93 38.5h1.1M99 38.5h1.1M75 39.5h1.1M120 39.5h1.1M0 40.5h1.1M121 40.5h1.1M133 41.5h1.1M75 42.5h1.1M80 43.5h1.1M30 44.5h1.1M80 44.5h1.1M122 44.5h1.1M72 45.5h1.1M129 45.5h1.1M96 46.5h1.1M122 49.5h1.1" stroke="#e7edf3" stroke-width="1.12"/>
<path d="M75 0.5h2.1M88 0.5h1.1M139 0.5h1.1M78 1.5h1.1M91 1.5h1.1M106 1.5h1.1M108 1.5h1.1M121 1.5h1.1M129 1.5h1.1M139 1.5h1.1M84 2.5h1.1M100 2.5h1.1M141 2.5h1.1M79 3.5h1.1M123 3.5h1.1M128 3.5h1.1M117 4.5h1.1M94 5.5h1.1M110 5.5h1.1M117 6.5h1.1M90 7.5h1.1M115 7.5h1.1M124 7.5h1.1M141 7.5h1.1M2 8.5h1.1M77 10.5h1.1M92 10.5h2.1M100 10.5h1.1M118 10.5h1.1M125 10.5h1.1M131 11.5h1.1M135 11.5h1.1M80 12.5h1.1M94 12.5h1.1M116 12.5h1.1M81 13.5h1.1M99 13.5h1.1M104 13.5h1.1M110 13.5h1.1M112 13.5h1.1M126 13.5h1.1M137 13.5h2.1M117 14.5h1.1M126 14.5h1.1M137 14.5h1.1M73 15.5h1.1M77 15.5h1.1M104 15.5h1.1M138 15.5h1.1M143 15.5h1.1M77 16.5h1.1M80 16.5h1.1M85 16.5h1.1M87 16.5h1.1M90 16.5h1.1M101 16.5h1.1M125 16.5h1.1M133 16.5h1.1M97 17.5h1.1M111 17.5h1.1M75 18.5h1.1M92 18.5h1.1M116 18.5h1.1M124 18.5h1.1M75 19.5h2.1M79 20.5h1.1M92 20.5h1.1M118 20.5h1.1M77 21.5h1.1M107 21.5h1.1M126 21.5h1.1M83 22.5h1.1M97 22.5h1.1M113 22.5h1.1M130 22.5h1.1M74 23.5h1.1M77 23.5h1.1M100 23.5h1.1M109 23.5h1.1M112 23.5h1.1M92 24.5h1.1M131 24.5h1.1M137 24.5h1.1M22 25.5h1.1M35 25.5h1.1M38 25.5h1.1M64 25.5h1.1M52 26.5h1.1M6 27.5h1.1M14 27.5h1.1M43 27.5h1.1M45 27.5h1.1M5 28.5h1.1M9 28.5h1.1M40 28.5h1.1M62 28.5h1.1M42 30.5h1.1M59 30.5h1.1M71 30.5h1.1M5 31.5h1.1M61 31.5h1.1M9 32.5h1.1M43 32.5h1.1M47 32.5h1.1M62 32.5h1.1M69 32.5h1.1M9 33.5h1.1M49 33.5h1.1M52 33.5h1.1M8 34.5h1.1M10 34.5h1.1M39 34.5h1.1M42 34.5h2.1M47 34.5h1.1M58 34.5h1.1M17 35.5h1.1M21 35.5h1.1M1 36.5h1.1M6 36.5h2.1M47 36.5h1.1M51 36.5h1.1M65 36.5h1.1M37 37.5h1.1M56 37.5h1.1M69 37.5h1.1M5 38.5h2.1M9 38.5h1.1M11 39.5h1.1M39 39.5h1.1M55 39.5h1.1M62 39.5h1.1M68 39.5h1.1M30 41.5h1.1M40 41.5h1.1M69 41.5h1.1M52 42.5h1.1M9 43.5h1.1M25 43.5h1.1M28 43.5h1.1M6 44.5h1.1M12 44.5h1.1M21 44.5h1.1M24 44.5h1.1M33 44.5h1.1M35 44.5h1.1M41 44.5h1.1M46 44.5h1.1M39 45.5h1.1M45 45.5h1.1M66 45.5h1.1M3 46.5h1.1M21 46.5h1.1M38 46.5h1.1M71 46.5h1.1M1 47.5h1.1M7 47.5h1.1M12 47.5h1.1M27 47.5h1.1M43 47.5h1.1M47 47.5h1.1M55 47.5h1.1M0 48.5h1.1M36 48.5h1.1M44 48.5h1.1M9 49.5h1.1M60 49.5h1.1" stroke="#b7dbe7" stroke-width="1.12"/>
<path d="M77 0.5h1.1M79 0.5h1.1M83 0.5h1.1M99 0.5h1.1M102 0.5h1.1M105 0.5h1.1M108 0.5h1.1M110 0.5h1.1M117 0.5h1.1M119 0.5h1.1M122 0.5h1.1M140 0.5h2.1M77 1.5h1.1M81 1.5h1.1M103 1.5h1.1M113 1.5h1.1M120 1.5h1.1M122 1.5h2.1M132 1.5h1.1M85 2.5h1.1M98 2.5h1.1M105 2.5h1.1M119 2.5h2.1M124 2.5h1.1M131 2.5h1.1M135 2.5h1.1M137 2.5h1.1M139 2.5h1.1M75 3.5h1.1M84 3.5h1.1M90 3.5h1.1M104 3.5h1.1M116 3.5h1.1M132 3.5h1.1M75 4.5h2.1M80 4.5h1.1M89 4.5h2.1M109 4.5h1.1M111 4.5h1.1M116 4.5h1.1M120 4.5h1.1M124 4.5h1.1M139 4.5h2.1M87 5.5h1.1M93 5.5h1.1M97 5.5h1.1M115 5.5h1.1M121 5.5h1.1M134 5.5h2.1M141 5.5h3.1M116 6.5h1.1M124 6.5h1.1M127 6.5h1.1M132 6.5h1.1M135 6.5h1.1M72 7.5h1.1M85 7.5h1.1M110 7.5h1.1M114 7.5h1.1M116 7.5h1.1M122 7.5h1.1M127 7.5h1.1M133 7.5h3.1M91 8.5h1.1M117 8.5h1.1M116 9.5h1.1M119 9.5h1.1M137 9.5h1.1M141 9.5h1.1M85 10.5h1.1M88 10.5h1.1M104 10.5h1.1M74 11.5h1.1M116 11.5h1.1M130 11.5h1.1M77 12.5h1.1M90 12.5h1.1M98 12.5h1.1M104 12.5h1.1M118 12.5h1.1M123 12.5h1.1M126 12.5h2.1M134 12.5h2.1M139 12.5h2.1M79 13.5h1.1M98 13.5h1.1M100 13.5h1.1M105 13.5h2.1M114 13.5h1.1M118 13.5h3.1M123 13.5h1.1M140 13.5h1.1M142 13.5h2.1M84 14.5h1.1M86 14.5h1.1M91 14.5h1.1M105 14.5h1.1M124 14.5h1.1M131 14.5h1.1M133 14.5h1.1M135 14.5h1.1M138 14.5h1.1M143 14.5h1.1M85 15.5h1.1M93 15.5h1.1M97 15.5h1.1M101 15.5h1.1M105 15.5h1.1M107 15.5h1.1M115 15.5h1.1M130 15.5h1.1M140 15.5h1.1M75 16.5h1.1M96 16.5h2.1M107 16.5h1.1M122 16.5h1.1M135 16.5h1.1M87 17.5h1.1M101 17.5h1.1M103 17.5h1.1M108 17.5h1.1M114 17.5h1.1M124 17.5h1.1M140 17.5h2.1M78 18.5h1.1M105 18.5h3.1M109 18.5h1.1M118 18.5h2.1M138 18.5h1.1M90 19.5h1.1M98 19.5h1.1M102 19.5h1.1M114 19.5h1.1M127 19.5h1.1M132 19.5h1.1M142 19.5h1.1M75 20.5h2.1M84 20.5h2.1M88 20.5h1.1M99 20.5h1.1M119 20.5h1.1M135 20.5h1.1M139 20.5h1.1M84 21.5h1.1M99 21.5h1.1M104 21.5h1.1M106 21.5h1.1M108 21.5h1.1M123 21.5h2.1M137 21.5h1.1M140 21.5h1.1M73 22.5h1.1M84 22.5h1.1M89 22.5h1.1M99 22.5h1.1M109 22.5h1.1M111 22.5h1.1M115 22.5h1.1M132 22.5h1.1M141 22.5h1.1M73 23.5h1.1M83 23.5h1.1M86 23.5h1.1M95 23.5h1.1M97 23.5h1.1M110 23.5h1.1M113 23.5h1.1M119 23.5h1.1M125 23.5h1.1M131 23.5h1.1M135 23.5h1.1M141 23.5h2.1M72 24.5h1.1M79 24.5h1.1M83 24.5h1.1M86 24.5h1.1M96 24.5h1.1M103 24.5h1.1M108 24.5h1.1M124 24.5h1.1M10 25.5h2.1M41 25.5h1.1M46 25.5h1.1M58 25.5h2.1M61 25.5h1.1M68 25.5h1.1M71 25.5h1.1M4 26.5h1.1M7 26.5h1.1M14 26.5h2.1M19 26.5h1.1M25 26.5h2.1M28 26.5h1.1M32 26.5h1.1M36 26.5h1.1M41 26.5h1.1M45 26.5h1.1M70 26.5h1.1M5 27.5h1.1M11 27.5h1.1M13 27.5h1.1M31 27.5h1.1M64 27.5h1.1M69 27.5h2.1M1 28.5h2.1M12 28.5h1.1M16 28.5h1.1M18 28.5h1.1M22 28.5h1.1M27 28.5h1.1M35 28.5h1.1M58 28.5h1.1M65 28.5h1.1M69 28.5h1.1M1 29.5h2.1M4 29.5h1.1M33 29.5h1.1M35 29.5h1.1M56 29.5h1.1M0 30.5h1.1M2 30.5h1.1M9 30.5h1.1M21 30.5h1.1M39 30.5h1.1M44 30.5h1.1M52 30.5h1.1M54 30.5h2.1M70 30.5h1.1M0 31.5h1.1M13 31.5h1.1M17 31.5h1.1M19 31.5h1.1M35 31.5h1.1M39 31.5h3.1M44 31.5h1.1M52 31.5h1.1M0 32.5h2.1M11 32.5h1.1M32 32.5h1.1M45 32.5h1.1M49 32.5h1.1M59 32.5h1.1M64 32.5h1.1M0 33.5h2.1M3 33.5h1.1M12 33.5h1.1M15 33.5h1.1M24 33.5h2.1M29 33.5h1.1M37 33.5h1.1M44 33.5h2.1M59 33.5h1.1M64 33.5h1.1M70 33.5h1.1M9 34.5h1.1M12 34.5h1.1M33 34.5h2.1M40 34.5h1.1M44 34.5h1.1M49 34.5h1.1M71 34.5h1.1M7 35.5h1.1M16 35.5h1.1M20 35.5h1.1M29 35.5h1.1M38 35.5h1.1M60 35.5h1.1M71 35.5h1.1M5 36.5h1.1M14 36.5h1.1M16 36.5h1.1M27 36.5h2.1M31 36.5h1.1M33 36.5h1.1M38 36.5h2.1M58 36.5h1.1M0 37.5h2.1M12 37.5h1.1M28 37.5h1.1M30 37.5h1.1M45 37.5h1.1M58 37.5h1.1M28 38.5h1.1M37 38.5h1.1M47 38.5h1.1M0 39.5h1.1M5 39.5h1.1M12 39.5h1.1M14 39.5h2.1M26 39.5h1.1M28 39.5h1.1M31 39.5h2.1M41 39.5h1.1M59 39.5h1.1M65 39.5h1.1M3 40.5h1.1M35 40.5h1.1M38 40.5h2.1M56 40.5h1.1M58 40.5h1.1M62 40.5h1.1M65 40.5h1.1M1 41.5h1.1M20 41.5h1.1M45 41.5h2.1M65 41.5h1.1M4 42.5h1.1M6 42.5h1.1M9 42.5h1.1M12 42.5h1.1M18 42.5h1.1M39 42.5h3.1M56 42.5h1.1M58 42.5h1.1M68 42.5h1.1M70 42.5h1.1M0 43.5h1.1M2 43.5h1.1M11 43.5h1.1M18 43.5h1.1M29 43.5h1.1M32 43.5h1.1M59 43.5h1.1M61 43.5h1.1M65 43.5h1.1M13 44.5h1.1M15 44.5h1.1M43 44.5h1.1M55 44.5h1.1M57 44.5h1.1M61 44.5h1.1M70 44.5h1.1M4 45.5h1.1M6 45.5h1.1M28 45.5h1.1M42 45.5h2.1M54 45.5h1.1M63 45.5h1.1M1 46.5h2.1M9 46.5h1.1M16 46.5h1.1M41 46.5h1.1M44 46.5h1.1M51 46.5h1.1M70 46.5h1.1M19 47.5h2.1M22 47.5h1.1M28 47.5h1.1M40 47.5h1.1M50 47.5h1.1M58 47.5h1.1M2 48.5h1.1M8 48.5h1.1M11 48.5h1.1M14 48.5h1.1M25 48.5h1.1M41 48.5h2.1M45 48.5h1.1M47 48.5h1.1M55 48.5h1.1M61 48.5h2.1M69 48.5h1.1M4 49.5h2.1M13 49.5h2.1M17 49.5h1.1M25 49.5h1.1M61 49.5h1.1M65 49.5h1.1" stroke="#b1d5e7" stroke-width="1.12"/>
<path d="M78 0.5h1.1M97 0.5h1.1M112 0.5h1.1M126 0.5h1.1M82 1.5h1.1M78 2.5h2.1M87 2.5h1.1M106 2.5h1.1M108 2.5h1.1M123 2.5h1.1M76 3.5h1.1M83 3.5h1.1M97 3.5h1.1M120 3.5h1.1M124 3.5h1.1M142 3.5h1.1M94 4.5h1.1M143 4.5h1.1M76 5.5h2.1M84 5.5h1.1M88 5.5h1.1M90 5.5h1.1M107 5.5h1.1M118 5.5h1.1M85 6.5h2.1M126 6.5h1.1M84 7.5h1.1M86 7.5h1.1M106 7.5h1.1M108 7.5h1.1M113 7.5h1.1M121 7.5h1.1M123 7.5h1.1M128 7.5h1.1M130 7.5h1.1M75 8.5h1.1M77 8.5h1.1M93 8.5h1.1M103 8.5h1.1M109 8.5h1.1M137 8.5h1.1M103 9.5h1.1M113 9.5h1.1M135 9.5h1.1M86 10.5h1.1M90 10.5h1.1M103 10.5h1.1M105 10.5h1.1M122 10.5h1.1M124 10.5h1.1M126 10.5h1.1M141 10.5h1.1M88 11.5h1.1M91 11.5h1.1M117 11.5h1.1M137 11.5h1.1M84 12.5h1.1M107 12.5h1.1M115 12.5h1.1M117 12.5h1.1M86 13.5h1.1M125 13.5h1.1M77 14.5h1.1M83 14.5h1.1M88 14.5h1.1M100 14.5h2.1M108 14.5h1.1M111 14.5h1.1M134 14.5h1.1M139 14.5h1.1M142 14.5h1.1M79 15.5h1.1M90 15.5h1.1M100 15.5h1.1M109 15.5h1.1M111 15.5h1.1M117 15.5h1.1M122 15.5h2.1M134 15.5h1.1M137 15.5h1.1M83 16.5h1.1M98 16.5h1.1M102 16.5h1.1M112 16.5h1.1M114 16.5h1.1M119 16.5h1.1M128 16.5h1.1M130 16.5h1.1M136 16.5h1.1M72 17.5h1.1M91 17.5h1.1M96 17.5h1.1M112 17.5h1.1M138 17.5h1.1M89 18.5h1.1M97 18.5h1.1M121 18.5h1.1M141 18.5h1.1M100 19.5h1.1M106 19.5h1.1M112 19.5h1.1M125 19.5h1.1M97 20.5h1.1M112 20.5h1.1M127 20.5h1.1M133 20.5h1.1M96 21.5h1.1M132 21.5h2.1M135 21.5h1.1M93 22.5h1.1M95 22.5h1.1M128 22.5h1.1M81 23.5h1.1M90 23.5h1.1M102 23.5h1.1M117 23.5h1.1M120 23.5h1.1M143 23.5h1.1M125 24.5h1.1M134 24.5h1.1M141 24.5h1.1M143 24.5h1.1M0 25.5h1.1M13 25.5h1.1M18 25.5h1.1M27 25.5h1.1M29 25.5h1.1M32 25.5h1.1M37 25.5h1.1M53 25.5h1.1M5 26.5h1.1M12 26.5h1.1M17 26.5h1.1M20 26.5h1.1M23 26.5h1.1M29 26.5h1.1M59 26.5h1.1M61 26.5h2.1M69 26.5h1.1M3 27.5h1.1M7 27.5h1.1M16 27.5h1.1M48 27.5h1.1M71 27.5h1.1M14 28.5h1.1M28 28.5h1.1M41 28.5h3.1M46 28.5h1.1M50 28.5h1.1M55 28.5h1.1M0 29.5h1.1M69 29.5h1.1M24 30.5h1.1M29 30.5h1.1M64 30.5h1.1M67 30.5h1.1M8 31.5h1.1M21 31.5h1.1M23 31.5h1.1M29 31.5h1.1M46 31.5h1.1M55 31.5h1.1M108 31.5h1.1M5 32.5h1.1M15 32.5h1.1M42 32.5h1.1M53 32.5h1.1M63 32.5h1.1M17 33.5h2.1M21 33.5h1.1M23 33.5h1.1M42 33.5h1.1M48 33.5h1.1M14 34.5h1.1M35 34.5h1.1M50 34.5h1.1M55 34.5h1.1M63 34.5h1.1M36 35.5h1.1M22 36.5h1.1M37 36.5h1.1M53 36.5h1.1M5 37.5h1.1M36 37.5h1.1M42 37.5h1.1M44 37.5h1.1M3 38.5h1.1M13 38.5h1.1M26 38.5h1.1M33 38.5h1.1M40 38.5h2.1M46 38.5h1.1M50 38.5h1.1M60 38.5h1.1M68 38.5h1.1M4 39.5h1.1M17 39.5h1.1M24 39.5h1.1M43 39.5h1.1M49 39.5h2.1M10 40.5h1.1M21 40.5h1.1M41 40.5h1.1M45 40.5h1.1M3 41.5h1.1M16 41.5h1.1M25 41.5h1.1M27 41.5h1.1M60 41.5h1.1M7 42.5h1.1M10 42.5h1.1M19 42.5h1.1M23 42.5h1.1M49 42.5h1.1M60 42.5h1.1M63 42.5h1.1M16 43.5h1.1M37 43.5h1.1M42 43.5h1.1M63 43.5h1.1M17 44.5h1.1M48 44.5h1.1M51 44.5h1.1M11 45.5h1.1M16 45.5h1.1M35 45.5h1.1M49 45.5h1.1M55 45.5h1.1M60 45.5h1.1M15 46.5h1.1M29 46.5h1.1M39 46.5h1.1M43 46.5h1.1M59 46.5h1.1M13 47.5h1.1M17 47.5h1.1M64 47.5h1.1M9 48.5h1.1M20 48.5h1.1M22 48.5h2.1M30 48.5h1.1M34 48.5h2.1M50 48.5h1.1M63 48.5h1.1M70 48.5h1.1M8 49.5h1.1M10 49.5h1.1M15 49.5h1.1M22 49.5h1.1M42 49.5h1.1M49 49.5h1.1" stroke="#a5cfe1" stroke-width="1.12"/>
<path d="M80 0.5h1.1M90 0.5h1.1M103 0.5h1.1M72 1.5h1.1M79 1.5h2.1M102 1.5h1.1M94 2.5h1.1M97 2.5h1.1M125 2.5h4.1M72 4.5h1.1M105 4.5h1.1M133 4.5h1.1M141 4.5h1.1M102 5.5h1.1M117 5.5h1.1M131 5.5h1.1M139 6.5h1.1M75 7.5h1.1M91 7.5h1.1M99 7.5h1.1M101 7.5h2.1M109 7.5h1.1M120 7.5h1.1M129 7.5h1.1M131 7.5h1.1M92 8.5h1.1M100 8.5h1.1M107 8.5h1.1M111 8.5h1.1M116 8.5h1.1M134 8.5h1.1M93 9.5h1.1M95 9.5h1.1M100 9.5h1.1M110 9.5h1.1M124 9.5h1.1M139 9.5h1.1M91 10.5h1.1M94 10.5h1.1M128 10.5h1.1M140 10.5h1.1M85 11.5h2.1M104 11.5h1.1M110 11.5h1.1M112 11.5h1.1M118 11.5h1.1M136 11.5h1.1M143 11.5h1.1M72 12.5h1.1M74 12.5h1.1M111 12.5h1.1M113 12.5h2.1M120 12.5h1.1M143 12.5h1.1M77 13.5h1.1M102 13.5h1.1M124 13.5h1.1M129 13.5h1.1M112 14.5h1.1M128 14.5h1.1M130 14.5h1.1M142 15.5h1.1M81 16.5h1.1M118 17.5h1.1M126 17.5h1.1M84 19.5h1.1M138 19.5h1.1M74 20.5h1.1M100 20.5h2.1M107 20.5h1.1M110 20.5h1.1M120 20.5h1.1M122 20.5h1.1M130 20.5h1.1M83 21.5h1.1M86 21.5h1.1M102 21.5h1.1M121 21.5h1.1M120 22.5h1.1M123 22.5h1.1M125 22.5h1.1M134 22.5h1.1M140 22.5h1.1M79 23.5h1.1M94 23.5h1.1M116 23.5h1.1M128 24.5h1.1M6 25.5h1.1M14 25.5h1.1M20 25.5h1.1M65 25.5h2.1M8 26.5h1.1M42 26.5h1.1M57 26.5h1.1M30 27.5h1.1M40 27.5h1.1M51 27.5h1.1M62 27.5h1.1M26 28.5h1.1M9 29.5h1.1M11 29.5h1.1M24 29.5h3.1M47 29.5h1.1M59 29.5h1.1M61 29.5h2.1M8 30.5h1.1M32 30.5h2.1M41 30.5h1.1M51 30.5h1.1M51 31.5h1.1M28 32.5h1.1M14 33.5h1.1M5 34.5h1.1M17 34.5h1.1M30 34.5h1.1M70 34.5h1.1M2 36.5h1.1M36 36.5h1.1M8 37.5h1.1M43 37.5h1.1M52 37.5h2.1M12 38.5h1.1M30 38.5h1.1M45 38.5h1.1M65 38.5h1.1M20 39.5h1.1M51 39.5h1.1M63 39.5h1.1M4 40.5h1.1M6 40.5h1.1M12 40.5h1.1M25 40.5h1.1M27 40.5h1.1M68 40.5h1.1M7 41.5h1.1M11 41.5h1.1M23 41.5h1.1M41 41.5h1.1M50 41.5h1.1M55 41.5h1.1M0 42.5h1.1M44 42.5h1.1M27 43.5h1.1M7 44.5h1.1M29 45.5h1.1M46 45.5h1.1M50 45.5h1.1M64 45.5h1.1M70 45.5h1.1M62 46.5h1.1M44 47.5h1.1M37 48.5h1.1M39 48.5h1.1M43 48.5h1.1" stroke="#9fcfe1" stroke-width="1.12"/>
<path d="M81 0.5h2.1M130 0.5h1.1M114 1.5h1.1M130 1.5h1.1M130 2.5h1.1M129 3.5h1.1M85 4.5h1.1M123 4.5h1.1M128 4.5h1.1M101 5.5h1.1M114 5.5h1.1M127 5.5h1.1M133 5.5h1.1M81 6.5h1.1M119 6.5h1.1M120 8.5h1.1M138 8.5h1.1M141 8.5h1.1M78 9.5h1.1M86 9.5h1.1M98 9.5h1.1M111 9.5h1.1M73 10.5h1.1M81 10.5h1.1M83 10.5h1.1M113 10.5h1.1M132 10.5h1.1M133 11.5h1.1M141 11.5h1.1M82 13.5h1.1M97 14.5h1.1M114 14.5h1.1M119 14.5h1.1M76 15.5h1.1M88 15.5h1.1M112 15.5h1.1M118 15.5h1.1M88 16.5h1.1M91 16.5h1.1M132 16.5h1.1M86 18.5h1.1M100 18.5h1.1M125 18.5h1.1M82 19.5h1.1M72 20.5h1.1M82 20.5h1.1M121 20.5h1.1M125 20.5h1.1M81 22.5h1.1M75 23.5h1.1M77 24.5h1.1M113 24.5h1.1M16 25.5h1.1M48 25.5h1.1M39 27.5h1.1M63 27.5h1.1M37 28.5h1.1M44 28.5h1.1M63 28.5h1.1M23 29.5h1.1M28 29.5h1.1M36 29.5h1.1M49 29.5h1.1M64 29.5h1.1M68 29.5h1.1M14 30.5h1.1M48 31.5h1.1M39 33.5h1.1M67 36.5h1.1M13 37.5h1.1M49 37.5h2.1M57 37.5h1.1M38 38.5h1.1M43 38.5h1.1M51 38.5h1.1M16 39.5h1.1M67 39.5h1.1M11 40.5h1.1M15 40.5h2.1M18 40.5h1.1M22 40.5h1.1M29 40.5h1.1M31 40.5h1.1M43 40.5h2.1M13 41.5h1.1M64 41.5h1.1M17 42.5h1.1M46 42.5h1.1M67 42.5h1.1M48 43.5h1.1M31 45.5h1.1M61 45.5h1.1M24 47.5h1.1M31 47.5h1.1M40 48.5h1.1M49 48.5h1.1M51 48.5h1.1M71 48.5h1.1" stroke="#8dc3db" stroke-width="1.12"/>
<path d="M84 0.5h3.1M101 0.5h1.1M111 0.5h1.1M120 0.5h1.1M128 0.5h1.1M134 0.5h1.1M101 1.5h1.1M126 1.5h1.1M75 2.5h2.1M111 2.5h1.1M116 2.5h1.1M87 3.5h1.1M103 3.5h1.1M105 3.5h1.1M122 3.5h1.1M136 3.5h1.1M97 4.5h1.1M104 4.5h1.1M106 4.5h1.1M127 4.5h1.1M113 5.5h1.1M124 5.5h1.1M126 5.5h1.1M77 6.5h1.1M88 6.5h1.1M90 6.5h1.1M107 6.5h1.1M114 6.5h2.1M83 7.5h1.1M94 7.5h1.1M97 7.5h1.1M132 7.5h1.1M77 9.5h1.1M80 9.5h1.1M88 9.5h1.1M92 9.5h1.1M96 9.5h2.1M131 9.5h1.1M76 10.5h1.1M80 10.5h1.1M87 10.5h1.1M95 10.5h1.1M111 10.5h1.1M133 10.5h1.1M137 10.5h1.1M84 11.5h1.1M99 11.5h1.1M108 11.5h1.1M91 12.5h1.1M96 12.5h1.1M112 12.5h1.1M121 12.5h1.1M130 12.5h1.1M90 13.5h1.1M94 13.5h1.1M97 13.5h1.1M78 14.5h1.1M80 14.5h1.1M102 14.5h1.1M140 14.5h1.1M86 15.5h1.1M96 15.5h1.1M116 15.5h1.1M127 15.5h1.1M133 15.5h1.1M84 16.5h1.1M134 16.5h1.1M138 16.5h1.1M93 17.5h1.1M130 17.5h1.1M143 17.5h1.1M83 18.5h1.1M85 19.5h1.1M93 19.5h1.1M121 19.5h1.1M72 21.5h2.1M112 21.5h1.1M120 21.5h1.1M125 21.5h1.1M136 21.5h1.1M141 21.5h1.1M86 22.5h1.1M114 22.5h1.1M117 22.5h1.1M122 22.5h1.1M78 23.5h1.1M106 23.5h1.1M124 23.5h1.1M140 23.5h1.1M80 24.5h1.1M84 24.5h1.1M89 24.5h1.1M101 24.5h1.1M112 24.5h1.1M127 24.5h1.1M130 24.5h1.1M8 25.5h1.1M24 25.5h1.1M30 25.5h1.1M34 25.5h1.1M42 25.5h1.1M44 25.5h1.1M50 25.5h1.1M22 26.5h1.1M31 26.5h1.1M38 26.5h1.1M50 26.5h1.1M9 27.5h1.1M24 27.5h1.1M27 27.5h1.1M65 27.5h1.1M59 28.5h1.1M7 30.5h1.1M25 30.5h1.1M31 30.5h1.1M57 30.5h1.1M60 30.5h1.1M63 30.5h1.1M7 31.5h1.1M11 31.5h1.1M45 31.5h1.1M12 32.5h1.1M26 32.5h1.1M30 32.5h1.1M60 32.5h2.1M65 32.5h1.1M2 33.5h1.1M5 33.5h1.1M16 33.5h1.1M30 33.5h1.1M33 33.5h1.1M47 33.5h1.1M2 34.5h1.1M37 34.5h1.1M64 34.5h2.1M13 35.5h1.1M22 35.5h1.1M34 35.5h1.1M37 35.5h1.1M63 35.5h1.1M15 36.5h1.1M30 36.5h1.1M45 36.5h1.1M49 36.5h1.1M59 36.5h1.1M71 36.5h1.1M14 37.5h1.1M16 37.5h1.1M19 37.5h2.1M27 37.5h1.1M63 37.5h1.1M66 37.5h1.1M71 37.5h1.1M7 38.5h1.1M14 38.5h1.1M42 38.5h1.1M54 38.5h1.1M29 39.5h1.1M34 39.5h1.1M48 39.5h1.1M1 40.5h1.1M21 41.5h1.1M24 41.5h1.1M44 41.5h1.1M47 41.5h2.1M33 42.5h1.1M48 42.5h1.1M66 42.5h1.1M5 43.5h1.1M22 43.5h1.1M24 43.5h1.1M46 43.5h1.1M53 43.5h1.1M57 43.5h1.1M2 44.5h1.1M23 44.5h1.1M27 44.5h1.1M29 44.5h1.1M42 44.5h1.1M0 45.5h1.1M17 45.5h1.1M22 45.5h1.1M58 45.5h1.1M71 45.5h1.1M111 45.5h1.1M13 46.5h1.1M17 46.5h1.1M19 46.5h1.1M28 46.5h1.1M31 46.5h1.1M63 46.5h1.1M16 47.5h1.1M29 47.5h1.1M36 47.5h1.1M42 47.5h1.1M46 47.5h1.1M49 47.5h1.1M54 47.5h1.1M61 47.5h1.1M67 47.5h1.1M15 48.5h2.1M18 48.5h1.1M27 48.5h1.1M46 48.5h1.1M7 49.5h1.1M28 49.5h1.1M33 49.5h1.1M37 49.5h1.1M57 49.5h1.1" stroke="#abcfe7" stroke-width="1.12"/>
<path d="M87 0.5h1.1M121 0.5h1.1M135 1.5h1.1M90 2.5h1.1M129 2.5h1.1M85 3.5h1.1M94 3.5h1.1M74 4.5h1.1M112 4.5h1.1M98 5.5h1.1M111 5.5h1.1M123 5.5h1.1M102 6.5h1.1M105 6.5h1.1M129 6.5h1.1M142 6.5h1.1M98 7.5h1.1M103 7.5h1.1M74 8.5h1.1M76 8.5h1.1M94 8.5h1.1M106 8.5h1.1M115 8.5h1.1M136 8.5h1.1M79 9.5h1.1M89 9.5h1.1M120 9.5h1.1M125 9.5h1.1M136 9.5h1.1M98 10.5h1.1M134 10.5h1.1M78 12.5h1.1M82 12.5h1.1M93 12.5h1.1M123 14.5h1.1M142 16.5h1.1M85 18.5h1.1M87 18.5h1.1M134 18.5h1.1M72 19.5h1.1M128 19.5h1.1M141 19.5h1.1M81 20.5h1.1M106 20.5h1.1M114 23.5h1.1M138 23.5h1.1M2 25.5h1.1M34 26.5h1.1M43 26.5h1.1M53 26.5h1.1M34 27.5h1.1M82 27.5h1.1M13 28.5h1.1M21 28.5h1.1M29 28.5h1.1M7 29.5h1.1M16 29.5h1.1M41 29.5h1.1M54 29.5h1.1M15 30.5h1.1M53 30.5h1.1M53 31.5h2.1M60 31.5h1.1M70 31.5h1.1M48 32.5h1.1M43 33.5h1.1M11 34.5h1.1M46 35.5h1.1M61 36.5h1.1M24 37.5h1.1M31 37.5h1.1M41 37.5h1.1M8 38.5h1.1M25 38.5h1.1M32 38.5h1.1M66 38.5h1.1M8 40.5h1.1M46 40.5h1.1M48 40.5h1.1M70 40.5h1.1M22 41.5h1.1M29 41.5h1.1M61 41.5h1.1M45 42.5h1.1M39 44.5h1.1M23 45.5h1.1M40 45.5h1.1M48 45.5h1.1M24 46.5h1.1M24 48.5h1.1M67 49.5h1.1" stroke="#93c9e1" stroke-width="1.12"/>
<path d="M89 0.5h1.1M107 0.5h1.1M113 0.5h1.1M115 0.5h1.1M131 0.5h1.1M137 0.5h1.1M109 1.5h1.1M117 1.5h1.1M127 1.5h1.1M73 2.5h1.1M88 2.5h1.1M95 2.5h1.1M104 2.5h1.1M109 2.5h1.1M140 2.5h1.1M96 3.5h1.1M107 3.5h1.1M118 3.5h2.1M141 3.5h1.1M143 3.5h1.1M110 4.5h1.1M73 7.5h1.1M93 7.5h1.1M107 7.5h1.1M126 7.5h1.1M73 8.5h1.1M95 8.5h1.1M57 10.5h1.1M96 10.5h1.1M131 10.5h1.1M48 11.5h1.1M95 11.5h1.1M73 12.5h1.1M85 12.5h1.1M88 12.5h1.1M95 12.5h1.1M141 12.5h1.1M54 13.5h1.1M76 13.5h1.1M88 13.5h2.1M101 13.5h1.1M108 13.5h1.1M131 13.5h1.1M136 13.5h1.1M95 14.5h1.1M99 14.5h1.1M104 14.5h1.1M57 15.5h1.1M83 15.5h1.1M78 16.5h1.1M95 16.5h1.1M127 16.5h1.1M129 16.5h1.1M83 17.5h2.1M98 17.5h1.1M136 17.5h1.1M88 18.5h1.1M94 18.5h1.1M103 18.5h1.1M110 18.5h1.1M73 19.5h1.1M80 19.5h1.1M99 19.5h1.1M108 19.5h1.1M110 19.5h1.1M119 19.5h1.1M122 19.5h1.1M124 19.5h1.1M133 19.5h1.1M77 20.5h1.1M80 20.5h1.1M83 20.5h1.1M95 20.5h1.1M140 20.5h1.1M109 21.5h1.1M92 22.5h1.1M108 22.5h1.1M72 23.5h1.1M80 23.5h1.1M89 23.5h1.1M115 23.5h1.1M76 24.5h1.1M85 24.5h1.1M116 24.5h1.1M139 24.5h1.1M12 25.5h1.1M19 25.5h1.1M25 25.5h1.1M36 25.5h1.1M39 25.5h2.1M54 25.5h1.1M2 26.5h1.1M11 26.5h1.1M40 26.5h1.1M64 26.5h1.1M1 27.5h1.1M56 27.5h1.1M66 27.5h1.1M52 28.5h1.1M3 30.5h1.1M26 30.5h2.1M56 30.5h1.1M58 30.5h1.1M65 30.5h1.1M9 31.5h1.1M15 31.5h1.1M25 31.5h1.1M28 31.5h1.1M10 32.5h1.1M24 32.5h1.1M71 32.5h1.1M6 33.5h2.1M40 33.5h1.1M71 33.5h1.1M7 34.5h1.1M20 34.5h1.1M69 34.5h1.1M0 35.5h1.1M2 35.5h1.1M8 35.5h1.1M27 35.5h1.1M50 35.5h1.1M55 35.5h1.1M70 35.5h1.1M0 36.5h1.1M11 36.5h1.1M13 36.5h1.1M18 36.5h1.1M20 36.5h2.1M25 36.5h1.1M52 36.5h1.1M66 36.5h1.1M68 36.5h1.1M52 38.5h1.1M1 39.5h1.1M6 39.5h1.1M9 39.5h1.1M13 39.5h1.1M19 39.5h1.1M40 39.5h1.1M47 39.5h1.1M64 39.5h1.1M70 39.5h1.1M9 40.5h1.1M47 40.5h1.1M6 41.5h1.1M123 41.5h1.1M5 42.5h1.1M62 42.5h1.1M1 43.5h1.1M36 43.5h1.1M38 43.5h1.1M49 43.5h2.1M58 43.5h1.1M20 44.5h1.1M52 44.5h1.1M56 44.5h1.1M64 44.5h1.1M1 45.5h1.1M7 45.5h1.1M36 45.5h1.1M69 45.5h1.1M5 46.5h2.1M20 46.5h1.1M47 46.5h1.1M56 46.5h1.1M61 46.5h1.1M69 46.5h1.1M9 47.5h1.1M21 47.5h1.1M69 47.5h1.1M1 48.5h1.1M3 48.5h1.1M7 48.5h1.1M12 48.5h1.1M33 48.5h1.1M52 48.5h1.1M56 48.5h1.1M65 48.5h1.1M11 49.5h1.1M35 49.5h1.1M43 49.5h1.1M52 49.5h1.1M59 49.5h1.1M69 49.5h1.1" stroke="#bddbed" stroke-width="1.12"/>
<path d="M91 0.5h1.1M123 0.5h1.1M76 1.5h1.1M72 2.5h1.1M80 2.5h1.1M86 2.5h1.1M89 2.5h1.1M143 2.5h1.1M121 3.5h1.1M134 3.5h1.1M83 4.5h1.1M100 4.5h1.1M113 4.5h1.1M79 5.5h1.1M83 5.5h1.1M137 5.5h1.1M108 6.5h1.1M105 7.5h1.1M111 7.5h1.1M89 8.5h1.1M110 8.5h1.1M131 8.5h1.1M135 8.5h1.1M109 9.5h1.1M140 9.5h1.1M110 10.5h1.1M72 11.5h1.1M92 11.5h1.1M105 11.5h1.1M124 11.5h1.1M134 11.5h1.1M132 12.5h1.1M138 12.5h1.1M84 13.5h1.1M90 14.5h1.1M93 14.5h1.1M125 14.5h1.1M119 15.5h1.1M139 15.5h1.1M113 16.5h1.1M143 16.5h1.1M78 17.5h1.1M123 17.5h1.1M134 17.5h1.1M90 18.5h1.1M96 18.5h1.1M99 18.5h1.1M114 18.5h1.1M122 18.5h1.1M74 19.5h1.1M105 19.5h1.1M113 19.5h1.1M136 19.5h1.1M139 19.5h1.1M90 20.5h1.1M124 20.5h1.1M143 20.5h1.1M114 21.5h1.1M118 21.5h1.1M78 22.5h1.1M96 22.5h1.1M98 22.5h1.1M104 22.5h1.1M130 23.5h1.1M93 24.5h1.1M97 24.5h1.1M109 24.5h1.1M5 25.5h1.1M49 25.5h1.1M51 25.5h2.1M70 25.5h1.1M17 27.5h1.1M20 27.5h1.1M32 27.5h1.1M49 27.5h1.1M54 27.5h1.1M0 28.5h1.1M10 28.5h1.1M31 28.5h1.1M47 28.5h1.1M49 28.5h1.1M64 28.5h1.1M68 28.5h1.1M12 29.5h1.1M58 29.5h1.1M23 30.5h1.1M38 30.5h1.1M30 31.5h1.1M32 31.5h1.1M49 31.5h1.1M57 31.5h1.1M64 31.5h1.1M66 31.5h1.1M2 32.5h1.1M13 32.5h1.1M55 32.5h1.1M70 32.5h1.1M13 34.5h1.1M29 34.5h1.1M48 34.5h1.1M19 35.5h1.1M39 35.5h1.1M41 35.5h1.1M65 35.5h1.1M40 36.5h1.1M57 36.5h1.1M6 37.5h2.1M21 37.5h1.1M68 37.5h1.1M0 38.5h1.1M36 38.5h1.1M53 39.5h1.1M7 40.5h1.1M52 40.5h1.1M43 41.5h1.1M51 41.5h2.1M58 41.5h1.1M8 42.5h1.1M14 42.5h3.1M22 42.5h1.1M27 42.5h1.1M36 42.5h1.1M42 42.5h1.1M55 42.5h1.1M57 42.5h1.1M13 43.5h1.1M67 43.5h1.1M53 44.5h1.1M12 45.5h1.1M62 45.5h1.1M7 46.5h1.1M30 46.5h1.1M40 46.5h1.1M57 47.5h1.1M19 48.5h1.1M39 49.5h1.1M46 49.5h1.1M54 49.5h1.1M63 49.5h2.1M68 49.5h1.1" stroke="#a5cfe7" stroke-width="1.12"/>
<path d="M94 0.5h1.1M106 0.5h1.1M109 0.5h1.1M114 0.5h1.1M125 1.5h1.1M143 1.5h1.1M83 2.5h1.1M118 2.5h1.1M134 2.5h1.1M78 3.5h1.1M91 3.5h1.1M111 3.5h2.1M91 4.5h1.1M103 4.5h1.1M121 4.5h1.1M142 4.5h1.1M72 5.5h1.1M91 5.5h1.1M95 5.5h1.1M103 5.5h1.1M109 5.5h1.1M136 5.5h1.1M72 6.5h1.1M91 6.5h1.1M97 6.5h1.1M106 6.5h1.1M109 6.5h1.1M113 6.5h1.1M120 6.5h1.1M122 6.5h1.1M141 6.5h1.1M81 7.5h1.1M119 7.5h1.1M138 7.5h1.1M143 7.5h1.1M72 8.5h1.1M78 8.5h1.1M84 8.5h1.1M90 8.5h1.1M99 8.5h1.1M108 8.5h1.1M113 8.5h1.1M118 8.5h1.1M128 8.5h1.1M132 8.5h1.1M72 9.5h1.1M91 9.5h1.1M99 9.5h1.1M106 9.5h1.1M117 9.5h1.1M122 9.5h1.1M134 9.5h1.1M75 10.5h1.1M120 10.5h1.1M136 10.5h1.1M139 10.5h1.1M78 11.5h1.1M93 11.5h1.1M96 11.5h1.1M100 11.5h1.1M113 11.5h2.1M120 11.5h1.1M126 11.5h1.1M128 11.5h1.1M97 12.5h1.1M103 12.5h1.1M105 12.5h1.1M128 12.5h1.1M133 12.5h1.1M107 14.5h1.1M120 14.5h2.1M132 14.5h1.1M136 14.5h1.1M103 15.5h1.1M106 15.5h1.1M128 15.5h1.1M141 15.5h1.1M74 16.5h1.1M103 16.5h2.1M120 16.5h1.1M126 16.5h1.1M74 17.5h1.1M82 17.5h1.1M129 17.5h1.1M79 18.5h1.1M102 18.5h1.1M104 18.5h1.1M113 18.5h1.1M133 18.5h1.1M142 18.5h1.1M87 19.5h1.1M89 19.5h1.1M123 19.5h1.1M126 19.5h1.1M143 19.5h1.1M94 20.5h1.1M98 20.5h1.1M129 20.5h1.1M132 20.5h1.1M103 21.5h1.1M105 21.5h1.1M111 21.5h1.1M122 21.5h1.1M128 21.5h1.1M134 21.5h1.1M142 21.5h1.1M75 22.5h1.1M77 22.5h1.1M102 22.5h2.1M105 22.5h1.1M136 22.5h1.1M99 23.5h1.1M134 23.5h1.1M136 23.5h1.1M74 24.5h1.1M78 24.5h1.1M90 24.5h1.1M118 24.5h4.1M142 24.5h1.1M31 25.5h1.1M57 25.5h1.1M63 25.5h1.1M13 26.5h1.1M18 26.5h1.1M44 26.5h1.1M67 26.5h1.1M0 27.5h1.1M8 27.5h1.1M15 27.5h1.1M29 27.5h1.1M36 27.5h1.1M68 27.5h1.1M25 28.5h1.1M32 28.5h1.1M34 28.5h1.1M39 28.5h1.1M82 28.5h1.1M22 29.5h1.1M27 29.5h1.1M42 29.5h1.1M46 29.5h1.1M50 29.5h1.1M65 29.5h1.1M82 29.5h1.1M4 30.5h1.1M11 30.5h1.1M20 30.5h1.1M36 30.5h1.1M14 31.5h1.1M31 31.5h1.1M43 31.5h1.1M59 31.5h1.1M14 32.5h1.1M20 32.5h1.1M27 32.5h1.1M29 32.5h1.1M36 32.5h1.1M38 32.5h1.1M8 33.5h1.1M38 33.5h1.1M19 34.5h1.1M21 34.5h1.1M32 34.5h1.1M57 34.5h1.1M43 36.5h1.1M4 37.5h1.1M55 37.5h1.1M64 37.5h1.1M1 38.5h2.1M24 38.5h1.1M27 38.5h1.1M39 38.5h1.1M53 38.5h1.1M56 38.5h1.1M63 38.5h1.1M2 39.5h1.1M5 40.5h1.1M13 40.5h1.1M19 40.5h1.1M23 40.5h2.1M30 40.5h1.1M33 40.5h1.1M49 40.5h1.1M55 40.5h1.1M0 41.5h1.1M4 41.5h1.1M8 41.5h1.1M14 41.5h2.1M38 41.5h1.1M49 41.5h1.1M53 41.5h1.1M57 41.5h1.1M67 41.5h1.1M70 41.5h1.1M32 42.5h1.1M53 42.5h1.1M59 42.5h1.1M61 42.5h1.1M65 42.5h1.1M71 43.5h1.1M0 44.5h1.1M5 44.5h1.1M45 44.5h1.1M49 44.5h1.1M19 45.5h2.1M68 45.5h1.1M34 46.5h1.1M57 46.5h1.1M2 47.5h1.1M14 47.5h2.1M32 47.5h1.1M63 47.5h1.1M17 48.5h1.1M29 48.5h1.1M20 49.5h1.1M23 49.5h1.1M29 49.5h1.1M34 49.5h1.1M48 49.5h1.1M50 49.5h1.1" stroke="#99c9e1" stroke-width="1.12"/>
<path d="M95 0.5h2.1M73 1.5h1.1M86 1.5h1.1M94 1.5h1.1M110 1.5h2.1M137 1.5h1.1M141 1.5h1.1M73 3.5h2.1M86 3.5h1.1M89 3.5h1.1M98 3.5h2.1M109 3.5h1.1M131 3.5h1.1M139 3.5h1.1M25 4.5h1.1M96 4.5h1.1M92 5.5h1.1M122 5.5h1.1M130 5.5h1.1M77 7.5h1.1M80 7.5h1.1M85 8.5h1.1M57 9.5h1.1M105 9.5h1.1M48 10.5h1.1M72 10.5h1.1M89 10.5h1.1M29 11.5h1.1M57 11.5h1.1M73 11.5h1.1M92 12.5h1.1M131 12.5h1.1M87 13.5h1.1M92 13.5h1.1M113 13.5h1.1M121 13.5h1.1M78 15.5h1.1M93 16.5h1.1M110 16.5h1.1M115 16.5h1.1M124 16.5h1.1M57 17.5h1.1M116 17.5h1.1M127 17.5h1.1M131 17.5h1.1M34 18.5h1.1M73 18.5h1.1M76 18.5h1.1M93 18.5h1.1M34 19.5h1.1M134 19.5h1.1M8 20.5h1.1M131 20.5h1.1M135 22.5h1.1M138 22.5h1.1M92 23.5h2.1M96 23.5h1.1M137 23.5h1.1M106 24.5h1.1M56 25.5h1.1M121 25.5h1.1M47 26.5h1.1M55 26.5h1.1M26 27.5h1.1M35 27.5h1.1M55 27.5h1.1M6 28.5h1.1M97 30.5h1.1M1 31.5h1.1M3 31.5h1.1M6 31.5h1.1M58 31.5h1.1M68 31.5h1.1M7 32.5h1.1M35 32.5h1.1M108 32.5h1.1M56 33.5h1.1M103 33.5h1.1M38 34.5h1.1M61 34.5h1.1M3 35.5h1.1M5 35.5h1.1M30 35.5h1.1M45 35.5h1.1M56 35.5h1.1M12 36.5h1.1M54 36.5h1.1M56 36.5h1.1M69 36.5h1.1M10 39.5h1.1M44 39.5h1.1M52 39.5h1.1M66 39.5h1.1M71 39.5h1.1M7 43.5h1.1M10 43.5h1.1M56 43.5h1.1M66 43.5h1.1M10 44.5h1.1M19 44.5h1.1M40 44.5h1.1M47 44.5h1.1M68 44.5h1.1M65 45.5h1.1M8 46.5h1.1M58 46.5h1.1M4 47.5h1.1M25 47.5h1.1M59 47.5h2.1M26 48.5h1.1M66 48.5h1.1M12 49.5h1.1M38 49.5h1.1M40 49.5h1.1M47 49.5h1.1M56 49.5h1.1" stroke="#c9e1ed" stroke-width="1.12"/>
<path d="M100 0.5h1.1M142 0.5h1.1M138 2.5h1.1M87 4.5h1.1M139 5.5h1.1M95 6.5h1.1M131 6.5h1.1M79 7.5h1.1M86 8.5h1.1M88 8.5h1.1M102 8.5h1.1M140 8.5h1.1M73 9.5h1.1M75 9.5h2.1M81 9.5h1.1M85 9.5h1.1M142 9.5h1.1M102 10.5h1.1M115 10.5h1.1M77 11.5h1.1M94 11.5h1.1M102 11.5h1.1M107 11.5h1.1M121 11.5h1.1M127 11.5h1.1M86 12.5h1.1M129 12.5h1.1M106 14.5h1.1M82 15.5h1.1M98 15.5h1.1M114 15.5h1.1M121 15.5h1.1M125 15.5h1.1M79 16.5h1.1M100 16.5h1.1M123 16.5h1.1M79 17.5h1.1M81 17.5h1.1M86 17.5h1.1M132 18.5h1.1M97 19.5h1.1M104 19.5h1.1M114 20.5h1.1M138 20.5h1.1M110 21.5h1.1M113 21.5h1.1M106 22.5h1.1M118 22.5h1.1M122 24.5h1.1M129 24.5h1.1M33 26.5h1.1M49 26.5h1.1M21 27.5h1.1M61 27.5h1.1M7 28.5h2.1M38 28.5h1.1M48 28.5h1.1M51 28.5h1.1M15 29.5h1.1M57 29.5h1.1M50 32.5h1.1M13 33.5h1.1M31 33.5h1.1M34 33.5h1.1M53 34.5h1.1M51 35.5h1.1M34 36.5h1.1M20 38.5h1.1M14 40.5h1.1M61 40.5h1.1M69 40.5h1.1M37 42.5h2.1M32 44.5h1.1M67 44.5h1.1M5 45.5h1.1M18 46.5h1.1M5 47.5h1.1M70 47.5h1.1M24 49.5h1.1M71 49.5h1.1" stroke="#93c3e1" stroke-width="1.12"/>
<path d="M116 0.5h1.1M118 0.5h1.1M124 0.5h2.1M142 1.5h1.1M132 2.5h1.1M102 3.5h1.1M108 3.5h1.1M114 3.5h1.1M133 3.5h1.1M84 4.5h1.1M95 4.5h1.1M108 4.5h1.1M114 4.5h1.1M118 4.5h1.1M85 5.5h1.1M119 5.5h1.1M129 5.5h1.1M74 6.5h2.1M79 6.5h1.1M83 6.5h2.1M93 6.5h1.1M101 6.5h1.1M103 6.5h1.1M111 6.5h1.1M121 6.5h1.1M136 6.5h1.1M140 6.5h1.1M143 6.5h1.1M74 7.5h1.1M76 7.5h1.1M117 7.5h1.1M142 7.5h1.1M79 8.5h1.1M96 8.5h1.1M98 8.5h1.1M104 8.5h1.1M123 8.5h1.1M126 8.5h1.1M48 9.5h1.1M90 9.5h1.1M104 9.5h1.1M114 9.5h1.1M121 9.5h1.1M123 9.5h1.1M128 9.5h1.1M78 10.5h2.1M101 10.5h1.1M114 10.5h1.1M127 10.5h1.1M142 10.5h1.1M103 11.5h1.1M140 11.5h1.1M75 12.5h2.1M79 12.5h1.1M83 12.5h1.1M106 12.5h1.1M142 12.5h1.1M107 13.5h1.1M82 14.5h1.1M94 14.5h1.1M96 14.5h1.1M98 14.5h1.1M109 14.5h1.1M129 14.5h1.1M141 14.5h1.1M81 15.5h1.1M99 15.5h1.1M102 15.5h1.1M124 15.5h1.1M136 15.5h1.1M88 17.5h1.1M94 17.5h1.1M102 17.5h1.1M77 18.5h1.1M126 18.5h2.1M94 19.5h1.1M111 19.5h1.1M78 20.5h1.1M86 20.5h1.1M96 20.5h1.1M105 20.5h1.1M108 20.5h1.1M142 20.5h1.1M79 21.5h1.1M94 21.5h1.1M98 21.5h1.1M116 21.5h2.1M119 21.5h1.1M76 22.5h1.1M88 22.5h1.1M121 22.5h1.1M133 22.5h1.1M85 23.5h1.1M105 23.5h1.1M118 23.5h1.1M123 23.5h1.1M129 23.5h1.1M100 24.5h1.1M111 24.5h1.1M3 25.5h1.1M23 25.5h1.1M33 25.5h1.1M9 26.5h1.1M16 26.5h1.1M12 27.5h1.1M18 27.5h2.1M38 27.5h1.1M46 27.5h2.1M57 27.5h1.1M17 28.5h1.1M23 28.5h1.1M54 28.5h1.1M40 29.5h1.1M43 29.5h1.1M71 29.5h1.1M5 30.5h1.1M17 30.5h1.1M43 30.5h1.1M49 30.5h1.1M18 31.5h1.1M63 31.5h1.1M17 32.5h1.1M51 32.5h1.1M67 32.5h1.1M22 33.5h1.1M27 33.5h1.1M36 33.5h1.1M55 33.5h1.1M63 33.5h1.1M22 34.5h3.1M59 34.5h1.1M67 35.5h1.1M23 36.5h1.1M32 36.5h1.1M46 36.5h1.1M11 37.5h1.1M25 37.5h1.1M46 37.5h1.1M54 37.5h1.1M59 37.5h2.1M21 38.5h1.1M62 38.5h1.1M69 38.5h1.1M17 40.5h1.1M37 40.5h1.1M60 40.5h1.1M71 40.5h1.1M5 41.5h1.1M19 41.5h1.1M35 41.5h1.1M39 41.5h1.1M42 41.5h1.1M59 41.5h1.1M13 42.5h1.1M20 42.5h1.1M25 42.5h1.1M43 42.5h1.1M50 42.5h1.1M23 43.5h1.1M34 43.5h1.1M39 43.5h1.1M8 45.5h1.1M21 45.5h1.1M27 45.5h1.1M30 45.5h1.1M32 45.5h1.1M41 45.5h1.1M59 45.5h1.1M26 46.5h1.1M42 46.5h1.1M55 46.5h1.1M26 47.5h1.1M41 47.5h1.1M53 47.5h1.1M13 48.5h1.1M31 48.5h2.1M57 48.5h1.1M67 48.5h1.1M21 49.5h1.1M27 49.5h1.1M32 49.5h1.1M44 49.5h1.1M51 49.5h1.1" stroke="#9fc9e1" stroke-width="1.12"/>
<path d="M135 0.5h1.1M8 1.5h1.1M83 1.5h1.1M138 1.5h1.1M43 4.5h1.1M54 4.5h1.1M73 4.5h1.1M51 5.5h1.1M26 6.5h1.1M65 6.5h1.1M29 9.5h1.1M59 9.5h1.1M27 10.5h1.1M29 10.5h1.1M36 11.5h1.1M47 11.5h1.1M59 11.5h1.1M87 11.5h1.1M32 12.5h1.1M36 12.5h1.1M17 15.5h1.1M7 17.5h1.1M17 17.5h1.1M41 17.5h1.1M99 17.5h1.1M84 18.5h1.1M77 19.5h1.1M118 19.5h1.1M105 24.5h1.1M136 24.5h1.1M55 25.5h1.1M101 25.5h1.1M105 25.5h1.1M21 26.5h1.1M65 26.5h1.1M72 26.5h1.1M67 28.5h1.1M86 28.5h1.1M66 29.5h1.1M90 29.5h2.1M125 29.5h1.1M96 30.5h1.1M131 31.5h1.1M41 32.5h1.1M96 32.5h1.1M129 32.5h1.1M101 33.5h1.1M106 33.5h1.1M131 33.5h1.1M102 34.5h1.1M12 35.5h1.1M62 35.5h1.1M18 37.5h1.1M78 37.5h1.1M82 37.5h1.1M99 37.5h1.1M103 37.5h1.1M18 38.5h1.1M82 38.5h1.1M118 39.5h1.1M100 40.5h1.1M126 40.5h1.1M96 41.5h1.1M128 41.5h1.1M132 41.5h1.1M35 42.5h1.1M122 42.5h1.1M30 43.5h1.1M35 43.5h1.1M51 43.5h1.1M88 43.5h1.1M95 43.5h1.1M137 44.5h1.1M3 45.5h1.1M87 45.5h1.1M48 46.5h1.1M71 47.5h1.1M87 48.5h1.1M100 49.5h1.1M138 49.5h1.1" stroke="#e1edf3" stroke-width="1.12"/>
<path d="M136 0.5h1.1M75 1.5h1.1M112 1.5h1.1M116 1.5h1.1M55 3.5h1.1M127 3.5h1.1M135 3.5h1.1M92 4.5h1.1M73 5.5h1.1M99 5.5h1.1M128 5.5h1.1M92 6.5h1.1M88 7.5h1.1M137 7.5h1.1M55 11.5h1.1M109 13.5h1.1M115 13.5h1.1M128 13.5h1.1M130 13.5h1.1M57 14.5h1.1M110 14.5h1.1M4 15.5h1.1M89 15.5h1.1M110 15.5h1.1M105 16.5h1.1M109 16.5h1.1M64 17.5h1.1M73 17.5h1.1M89 17.5h1.1M92 17.5h1.1M115 18.5h1.1M140 18.5h1.1M109 19.5h1.1M115 19.5h2.1M131 19.5h1.1M116 20.5h1.1M101 22.5h1.1M126 22.5h1.1M126 23.5h1.1M94 24.5h1.1M17 25.5h1.1M69 25.5h1.1M10 26.5h1.1M3 28.5h1.1M66 28.5h1.1M6 30.5h1.1M65 31.5h1.1M25 32.5h1.1M62 33.5h1.1M27 34.5h1.1M14 35.5h1.1M35 35.5h1.1M42 35.5h3.1M48 35.5h1.1M52 35.5h1.1M69 35.5h1.1M26 36.5h1.1M35 36.5h1.1M55 36.5h1.1M38 39.5h1.1M46 39.5h1.1M47 42.5h1.1M12 43.5h1.1M17 43.5h1.1M20 43.5h1.1M52 43.5h1.1M64 43.5h1.1M86 43.5h1.1M8 44.5h1.1M54 44.5h1.1M58 44.5h1.1M101 45.5h1.1M0 46.5h1.1M12 46.5h1.1M23 46.5h1.1M33 46.5h1.1M52 46.5h1.1M66 46.5h1.1M6 47.5h1.1M30 47.5h1.1M52 47.5h1.1M68 47.5h1.1M6 48.5h1.1M68 48.5h1.1M62 49.5h1.1M66 49.5h1.1" stroke="#c3e1ed" stroke-width="1.12"/>
<path d="M138 0.5h1.1M20 1.5h1.1M25 1.5h1.1M63 2.5h1.1M38 3.5h1.1M54 3.5h1.1M138 3.5h1.1M3 4.5h2.1M4 6.5h1.1M112 8.5h1.1M67 9.5h1.1M87 9.5h1.1M4 10.5h1.1M34 10.5h1.1M133 13.5h1.1M48 14.5h1.1M113 14.5h1.1M118 14.5h1.1M41 16.5h2.1M65 16.5h1.1M117 16.5h1.1M48 18.5h1.1M101 21.5h1.1M143 21.5h1.1M101 23.5h1.1M123 24.5h1.1M135 24.5h1.1M72 25.5h1.1M30 26.5h1.1M94 26.5h1.1M97 26.5h1.1M106 26.5h1.1M131 32.5h1.1M87 35.5h1.1M81 40.5h1.1M84 40.5h1.1M111 40.5h1.1M109 41.5h1.1M121 41.5h1.1M91 45.5h1.1M14 46.5h1.1M140 48.5h1.1" stroke="#e7f3f3" stroke-width="1.12"/>
<path d="M143 0.5h1.1M81 2.5h2.1M98 4.5h1.1M129 4.5h1.1M104 5.5h2.1M108 5.5h1.1M76 6.5h1.1M82 7.5h1.1M87 7.5h1.1M101 8.5h1.1M114 8.5h1.1M124 8.5h1.1M127 8.5h1.1M82 9.5h1.1M102 9.5h1.1M126 9.5h2.1M130 9.5h1.1M84 10.5h1.1M99 10.5h1.1M106 10.5h1.1M121 10.5h1.1M123 10.5h1.1M111 11.5h1.1M123 11.5h1.1M142 11.5h1.1M81 12.5h1.1M136 12.5h1.1M81 14.5h1.1M72 16.5h1.1M118 16.5h1.1M132 17.5h1.1M129 18.5h1.1M86 19.5h1.1M91 19.5h1.1M129 19.5h1.1M123 20.5h1.1M87 22.5h1.1M103 23.5h1.1M81 24.5h2.1M102 24.5h1.1M67 25.5h1.1M53 27.5h1.1M60 27.5h1.1M8 29.5h1.1M13 29.5h1.1M18 29.5h1.1M39 29.5h1.1M70 29.5h1.1M18 30.5h1.1M16 31.5h1.1M36 31.5h1.1M38 31.5h1.1M46 33.5h1.1M60 33.5h1.1M60 34.5h1.1M64 36.5h1.1M32 37.5h1.1M34 37.5h1.1M51 37.5h1.1M11 38.5h1.1M15 38.5h1.1M31 38.5h1.1M34 38.5h1.1M34 40.5h1.1M36 40.5h1.1M51 40.5h1.1M63 40.5h2.1M56 41.5h1.1M29 42.5h1.1M31 42.5h1.1M34 42.5h1.1M71 42.5h1.1M31 43.5h1.1M45 43.5h1.1M18 44.5h1.1M37 44.5h1.1M2 45.5h1.1M13 45.5h1.1M15 45.5h1.1M53 45.5h1.1M57 45.5h1.1" stroke="#87bddb" stroke-width="1.12"/>
<path d="M0 1.5h1.1M110 2.5h1.1M66 5.5h1.1M52 9.5h1.1M3 16.5h1.1M5 17.5h1.1M34 21.5h1.1M37 21.5h1.1M72 22.5h1.1M33 23.5h1.1M51 23.5h1.1M121 23.5h1.1M79 28.5h1.1M73 29.5h1.1M84 39.5h1.1M91 39.5h1.1M111 39.5h1.1M120 46.5h1.1M91 47.5h1.1M136 47.5h1.1M89 48.5h1.1M36 49.5h1.1" stroke="#f9e7e1" stroke-width="1.12"/>
<path d="M2 1.5h1.1M35 19.5h1.1M40 21.5h1.1M44 23.5h1.1M83 35.5h1.1M130 36.5h1.1M92 44.5h1.1" stroke="#c94b45" stroke-width="1.12"/>
<path d="M3 1.5h1.1M7 1.5h1.1M11 1.5h1.1M55 1.5h1.1M35 3.5h1.1M63 3.5h1.1M25 6.5h1.1M56 7.5h1.1M66 7.5h1.1M20 12.5h1.1M33 14.5h1.1M56 15.5h1.1M37 17.5h1.1M36 19.5h1.1M42 23.5h1.1M47 23.5h1.1M53 23.5h1.1M126 25.5h1.1M137 25.5h1.1M89 26.5h1.1M116 28.5h1.1M124 28.5h1.1M80 30.5h1.1M73 31.5h1.1M106 31.5h1.1M135 31.5h1.1M73 32.5h1.1M85 32.5h1.1M111 33.5h1.1M73 34.5h1.1M77 35.5h1.1M88 35.5h1.1M111 35.5h1.1M86 39.5h1.1M139 39.5h1.1M92 40.5h1.1M107 44.5h2.1M121 44.5h1.1M73 45.5h1.1M126 45.5h1.1M100 46.5h1.1M108 47.5h1.1M109 48.5h1.1M117 48.5h1.1M137 48.5h1.1" stroke="#ed8d6f" stroke-width="1.12"/>
<path d="M6 1.5h1.1M137 6.5h1.1M13 7.5h1.1M1 8.5h1.1M13 8.5h1.1M30 8.5h1.1M138 10.5h1.1M30 14.5h1.1M49 14.5h1.1M66 14.5h1.1M41 15.5h1.1M43 15.5h1.1M57 16.5h1.1M24 17.5h1.1M8 18.5h1.1M46 20.5h1.1M115 20.5h1.1M14 21.5h1.1M138 21.5h1.1M91 22.5h1.1M76 23.5h1.1M104 23.5h1.1M51 24.5h1.1M106 25.5h1.1M121 26.5h1.1M142 28.5h1.1M108 30.5h1.1M110 30.5h1.1M129 30.5h1.1M111 31.5h1.1M26 33.5h1.1M131 34.5h1.1M9 35.5h1.1M47 35.5h1.1M61 35.5h1.1M68 35.5h1.1M89 36.5h1.1M142 36.5h1.1M70 37.5h1.1M103 38.5h1.1M87 39.5h1.1M123 40.5h1.1M86 41.5h1.1M100 41.5h1.1M122 43.5h1.1M26 44.5h1.1M31 44.5h1.1M10 45.5h1.1M65 46.5h1.1M100 48.5h1.1M133 48.5h1.1" stroke="#dbedf3" stroke-width="1.12"/>
<path d="M12 1.5h1.1M26 1.5h1.1M59 1.5h1.1M52 2.5h1.1M6 3.5h1.1M3 9.5h1.1M30 15.5h1.1M16 17.5h1.1M39 22.5h1.1M49 22.5h1.1M99 25.5h1.1M110 27.5h1.1M92 28.5h1.1M135 28.5h1.1M74 30.5h1.1M92 35.5h1.1M131 39.5h1.1M83 43.5h1.1M116 43.5h1.1M89 44.5h1.1M83 46.5h1.1M80 47.5h1.1M95 48.5h1.1M91 49.5h1.1M95 49.5h1.1" stroke="#db6f57" stroke-width="1.12"/>
<path d="M15 1.5h1.1M19 1.5h1.1M32 1.5h1.1M46 1.5h1.1M61 1.5h1.1M9 3.5h1.1M14 3.5h1.1M26 3.5h1.1M33 3.5h1.1M39 3.5h1.1M26 4.5h1.1M35 4.5h1.1M6 5.5h1.1M11 5.5h1.1M40 5.5h1.1M63 5.5h1.1M9 6.5h1.1M40 6.5h1.1M0 7.5h1.1M12 7.5h1.1M9 8.5h1.1M52 8.5h1.1M37 10.5h1.1M58 12.5h1.1M39 13.5h1.1M48 13.5h1.1M60 13.5h1.1M0 14.5h2.1M35 14.5h1.1M6 15.5h1.1M58 15.5h1.1M49 16.5h1.1M9 17.5h1.1M15 17.5h1.1M22 17.5h1.1M39 17.5h1.1M39 18.5h1.1M56 18.5h1.1M58 18.5h1.1M70 19.5h1.1M46 21.5h1.1M66 24.5h1.1M91 25.5h2.1M110 25.5h1.1M115 25.5h1.1M131 25.5h1.1M99 26.5h1.1M108 26.5h1.1M117 26.5h1.1M76 27.5h1.1M131 27.5h1.1M76 28.5h1.1M87 28.5h1.1M110 28.5h1.1M140 28.5h1.1M109 29.5h2.1M127 30.5h1.1M139 30.5h1.1M107 31.5h1.1M123 31.5h1.1M86 32.5h1.1M127 32.5h1.1M135 32.5h1.1M73 33.5h1.1M95 33.5h1.1M110 34.5h1.1M126 34.5h1.1M74 35.5h1.1M80 35.5h1.1M108 35.5h2.1M112 35.5h1.1M133 35.5h1.1M84 36.5h1.1M91 36.5h1.1M110 36.5h1.1M80 37.5h1.1M124 37.5h1.1M95 38.5h1.1M124 38.5h1.1M140 38.5h1.1M76 39.5h1.1M88 39.5h1.1M112 39.5h1.1M117 39.5h1.1M125 39.5h1.1M137 39.5h1.1M95 41.5h1.1M106 43.5h1.1M108 43.5h1.1M124 43.5h1.1M137 43.5h1.1M96 44.5h1.1M127 44.5h1.1M141 44.5h1.1M92 45.5h1.1M96 45.5h1.1M85 46.5h1.1M92 46.5h1.1M113 46.5h1.1M137 46.5h1.1M74 47.5h1.1M88 47.5h2.1M94 47.5h1.1M100 47.5h1.1M104 47.5h1.1M107 47.5h1.1M112 47.5h1.1M116 47.5h2.1M133 47.5h1.1M140 47.5h1.1M86 48.5h1.1M91 48.5h2.1M116 48.5h1.1M74 49.5h1.1M77 49.5h1.1M80 49.5h1.1M110 49.5h1.1M113 49.5h1.1M118 49.5h1.1" stroke="#ed9375" stroke-width="1.12"/>
<path d="M28 1.5h1.1" stroke="#b71b2d" stroke-width="1.12"/>
<path d="M29 1.5h1.1M18 2.5h1.1M39 21.5h1.1M62 22.5h1.1" stroke="#c33939" stroke-width="1.12"/>
<path d="M30 1.5h1.1M16 2.5h1.1M33 2.5h1.1M46 2.5h1.1M1 3.5h1.1M52 6.5h1.1M26 16.5h1.1M52 16.5h1.1M77 25.5h1.1M93 27.5h1.1M97 27.5h1.1M124 36.5h1.1M115 39.5h1.1" stroke="#d55d4b" stroke-width="1.12"/>
<path d="M38 1.5h1.1M28 2.5h1.1M65 3.5h1.1M9 4.5h1.1M11 4.5h1.1M30 4.5h1.1M30 5.5h1.1M35 5.5h1.1M37 7.5h1.1M4 12.5h1.1M39 15.5h1.1M4 16.5h1.1M4 19.5h1.1M10 19.5h1.1M17 19.5h1.1M40 19.5h1.1M52 20.5h1.1M58 20.5h1.1M96 25.5h1.1M110 26.5h1.1M133 26.5h1.1M90 30.5h1.1M72 31.5h1.1M87 31.5h1.1M88 32.5h2.1M124 32.5h1.1M129 35.5h1.1M86 36.5h1.1M126 36.5h1.1M112 37.5h1.1M131 37.5h1.1M117 38.5h1.1M85 39.5h1.1M90 39.5h1.1M74 40.5h1.1M78 43.5h1.1M119 43.5h1.1M127 43.5h1.1M130 43.5h1.1M122 47.5h1.1M84 48.5h1.1M88 48.5h1.1M84 49.5h1.1" stroke="#f3a587" stroke-width="1.12"/>
<path d="M44 1.5h1.1M17 5.5h1.1M63 6.5h1.1M16 7.5h1.1M19 8.5h1.1M42 9.5h1.1M29 14.5h1.1M34 14.5h1.1M53 14.5h1.1M67 15.5h1.1M33 16.5h1.1M6 21.5h1.1M23 21.5h1.1M30 22.5h1.1M100 25.5h1.1M72 27.5h1.1M114 28.5h1.1M111 38.5h1.1M129 38.5h1.1M80 40.5h1.1M114 45.5h1.1M142 45.5h1.1" stroke="#ffdbc3" stroke-width="1.12"/>
<path d="M47 1.5h1.1M63 1.5h1.1M52 21.5h1.1M62 21.5h1.1M104 27.5h1.1M115 28.5h1.1M80 29.5h1.1M104 29.5h1.1" stroke="#cf574b" stroke-width="1.12"/>
<path d="M49 1.5h1.1M19 2.5h1.1M52 7.5h1.1M80 27.5h1.1M135 27.5h1.1M135 39.5h1.1" stroke="#cf4b45" stroke-width="1.12"/>
<path d="M52 1.5h1.1M62 1.5h1.1M67 23.5h1.1" stroke="#bd2d33" stroke-width="1.12"/>
<path d="M60 1.5h1.1M13 2.5h1.1M49 2.5h1.1M66 3.5h1.1M46 22.5h1.1M70 22.5h1.1M92 31.5h1.1M73 47.5h1.1" stroke="#c33f3f" stroke-width="1.12"/>
<path d="M65 1.5h1.1M9 9.5h1.1M67 22.5h1.1M93 28.5h1.1M93 29.5h1.1M94 33.5h1.1M95 35.5h1.1" stroke="#db6951" stroke-width="1.12"/>
<path d="M89 1.5h1.1M116 13.5h1.1M108 18.5h1.1M66 32.5h1.1M11 35.5h1.1M6 43.5h1.1M26 43.5h1.1M25 44.5h1.1M62 47.5h1.1M82 48.5h1.1" stroke="#cfe7ed" stroke-width="1.12"/>
<path d="M92 1.5h1.1M105 1.5h1.1M80 3.5h1.1M110 3.5h1.1M98 6.5h1.1M2 7.5h1.1M92 7.5h1.1M59 10.5h1.1M54 11.5h1.1M80 13.5h1.1M95 13.5h1.1M127 13.5h1.1M107 17.5h1.1M111 18.5h1.1M95 19.5h1.1M34 20.5h1.1M136 20.5h1.1M66 33.5h1.1M82 41.5h1.1M3 44.5h1.1M62 44.5h1.1M68 46.5h1.1M94 49.5h1.1" stroke="#cfe7f3" stroke-width="1.12"/>
<path d="M95 1.5h2.1M104 1.5h1.1M131 1.5h1.1M140 1.5h1.1M101 2.5h1.1M115 2.5h1.1M119 4.5h1.1M137 4.5h1.1M96 5.5h1.1M116 5.5h1.1M138 5.5h1.1M130 10.5h1.1M85 14.5h1.1M140 16.5h1.1M85 17.5h1.1M80 18.5h1.1M101 19.5h1.1M140 19.5h1.1M90 21.5h1.1M100 22.5h1.1M139 22.5h1.1M133 23.5h1.1M9 25.5h1.1M21 25.5h1.1M58 26.5h1.1M71 26.5h1.1M52 27.5h1.1M105 27.5h1.1M11 28.5h1.1M116 29.5h1.1M40 30.5h1.1M62 30.5h1.1M40 32.5h1.1M56 32.5h1.1M4 33.5h1.1M68 33.5h1.1M3 34.5h1.1M26 34.5h1.1M36 34.5h1.1M54 35.5h1.1M64 35.5h1.1M62 37.5h1.1M35 39.5h1.1M42 40.5h1.1M10 41.5h1.1M71 41.5h1.1M30 42.5h1.1M3 43.5h1.1M14 43.5h1.1M47 43.5h1.1M60 43.5h1.1M70 43.5h1.1M22 44.5h1.1M65 44.5h1.1M52 45.5h1.1M56 45.5h1.1M32 46.5h1.1M3 47.5h1.1M10 47.5h1.1M33 47.5h1.1M38 47.5h1.1M56 47.5h1.1M65 47.5h1.1M10 48.5h1.1M1 49.5h1.1M3 49.5h1.1M6 49.5h1.1M41 49.5h1.1M58 49.5h1.1" stroke="#c3dbed" stroke-width="1.12"/>
<path d="M98 1.5h1.1M77 2.5h1.1M96 2.5h1.1M137 3.5h1.1M107 4.5h1.1M34 8.5h1.1M73 13.5h1.1M111 13.5h1.1M0 15.5h1.1M73 16.5h1.1M139 16.5h1.1M109 17.5h2.1M117 17.5h1.1M122 17.5h1.1M92 19.5h1.1M107 19.5h1.1M137 20.5h1.1M80 22.5h1.1M107 22.5h1.1M30 28.5h1.1M44 32.5h1.1M90 33.5h1.1M1 34.5h1.1M4 35.5h1.1M62 36.5h1.1M26 37.5h1.1M8 47.5h1.1M64 48.5h1.1M0 49.5h1.1" stroke="#cfe1ed" stroke-width="1.12"/>
<path d="M118 1.5h1.1M134 1.5h1.1M136 1.5h1.1M93 3.5h1.1M117 3.5h1.1M93 4.5h1.1M122 13.5h1.1M134 13.5h1.1M89 14.5h1.1M95 15.5h1.1M137 16.5h1.1M100 17.5h1.1M137 19.5h1.1M92 21.5h1.1M85 22.5h1.1M137 22.5h1.1M99 24.5h1.1M3 26.5h1.1M63 26.5h1.1M33 27.5h1.1M33 28.5h1.1M24 31.5h1.1M62 31.5h1.1M21 32.5h1.1M54 33.5h1.1M0 34.5h1.1M24 35.5h1.1M4 36.5h1.1M22 37.5h1.1M35 38.5h1.1M27 39.5h1.1M30 39.5h1.1M45 39.5h1.1M40 43.5h1.1M55 43.5h1.1M36 44.5h1.1M44 44.5h1.1M69 44.5h1.1M45 47.5h1.1" stroke="#bddbe7" stroke-width="1.12"/>
<path d="M6 2.5h1.1M38 7.5h1.1M13 12.5h1.1M26 15.5h1.1M63 20.5h1.1" stroke="#db6f5d" stroke-width="1.12"/>
<path d="M12 2.5h1.1M42 3.5h1.1" stroke="#bd2d39" stroke-width="1.12"/>
<path d="M14 2.5h1.1M51 7.5h1.1M23 8.5h1.1M15 11.5h1.1M49 11.5h1.1M18 12.5h1.1M34 12.5h1.1M32 19.5h1.1M71 19.5h1.1M17 21.5h1.1M47 22.5h1.1M128 27.5h2.1M125 32.5h1.1M113 33.5h1.1M136 34.5h1.1M105 37.5h1.1M114 37.5h1.1M124 44.5h1.1M82 45.5h1.1M132 45.5h1.1M125 47.5h1.1M99 48.5h1.1" stroke="#f9cfbd" stroke-width="1.12"/>
<path d="M20 2.5h1.1M17 3.5h1.1M68 15.5h1.1M3 19.5h1.1M41 21.5h1.1M54 21.5h1.1M53 22.5h1.1M77 26.5h1.1M92 30.5h1.1M96 34.5h1.1M75 36.5h1.1M92 43.5h1.1" stroke="#cf5145" stroke-width="1.12"/>
<path d="M24 2.5h1.1M86 16.5h1.1M30 23.5h1.1M113 28.5h1.1M92 38.5h1.1M137 38.5h1.1" stroke="#f9eded" stroke-width="1.12"/>
<path d="M29 2.5h1.1M47 10.5h1.1M35 16.5h1.1M32 23.5h1.1M91 27.5h1.1M113 29.5h1.1M132 42.5h1.1M79 49.5h1.1" stroke="#edf3f9" stroke-width="1.12"/>
<path d="M39 2.5h1.1" stroke="#b1152d" stroke-width="1.12"/>
<path d="M40 2.5h1.1M42 22.5h1.1M44 22.5h1.1M94 35.5h1.1M113 39.5h1.1" stroke="#d5574b" stroke-width="1.12"/>
<path d="M42 2.5h1.1M30 16.5h1.1M66 16.5h1.1M30 17.5h1.1M38 21.5h1.1M63 21.5h1.1M48 22.5h1.1M65 23.5h1.1M75 25.5h1.1M138 25.5h1.1M96 33.5h1.1M76 36.5h1.1" stroke="#d56351" stroke-width="1.12"/>
<path d="M44 2.5h1.1M96 35.5h1.1" stroke="#b7212d" stroke-width="1.12"/>
<path d="M53 2.5h1.1M60 23.5h1.1" stroke="#930f27" stroke-width="1.12"/>
<path d="M58 2.5h1.1M61 3.5h1.1M3 10.5h1.1M45 21.5h1.1M60 22.5h1.1M71 22.5h1.1M83 44.5h1.1M73 46.5h1.1M111 49.5h1.1" stroke="#db6351" stroke-width="1.12"/>
<path d="M61 2.5h1.1M62 10.5h1.1M40 12.5h1.1M68 18.5h1.1M62 19.5h1.1M38 20.5h1.1M46 23.5h1.1M64 23.5h1.1M68 23.5h1.1M87 26.5h1.1M109 26.5h1.1M127 26.5h1.1M130 30.5h1.1M128 31.5h1.1M86 33.5h1.1M104 34.5h1.1M114 35.5h1.1M135 36.5h1.1M96 47.5h1.1" stroke="#f3997b" stroke-width="1.12"/>
<path d="M69 2.5h1.1M21 21.5h1.1M1 23.5h1.1M23 23.5h1.1M73 27.5h1.1M102 28.5h1.1M134 28.5h1.1M11 33.5h1.1M75 33.5h1.1M34 47.5h1.1M120 47.5h1.1" stroke="#f9e7d5" stroke-width="1.12"/>
<path d="M133 2.5h1.1M136 2.5h1.1M138 4.5h1.1M107 9.5h1.1M65 14.5h1.1M2 15.5h1.1M75 15.5h1.1M59 16.5h1.1M123 18.5h1.1M14 20.5h1.1M12 22.5h1.1M16 23.5h1.1M79 27.5h1.1M45 29.5h1.1M55 29.5h1.1M26 31.5h1.1M114 31.5h1.1M87 33.5h1.1M116 34.5h1.1M86 35.5h1.1M59 40.5h1.1M132 44.5h1.1M129 46.5h1.1M79 48.5h1.1" stroke="#f3f9f9" stroke-width="1.12"/>
<path d="M8 3.5h1.1M1 4.5h1.1M9 7.5h1.1M9 10.5h1.1M56 14.5h1.1M6 17.5h1.1M63 23.5h1.1M115 27.5h1.1M73 35.5h1.1M105 35.5h1.1M118 35.5h1.1M140 36.5h1.1M76 38.5h1.1M109 43.5h1.1M138 44.5h1.1M136 48.5h1.1" stroke="#e18163" stroke-width="1.12"/>
<path d="M11 3.5h1.1M34 3.5h1.1M52 17.5h1.1M43 21.5h1.1M57 22.5h1.1M38 23.5h1.1M92 32.5h1.1M99 35.5h1.1M130 35.5h1.1" stroke="#c9453f" stroke-width="1.12"/>
<path d="M49 3.5h1.1M52 3.5h1.1M58 22.5h1.1M80 28.5h1.1" stroke="#bd3339" stroke-width="1.12"/>
<path d="M60 3.5h1.1M12 4.5h1.1M13 5.5h1.1M45 7.5h1.1M14 9.5h1.1M56 9.5h1.1M46 10.5h1.1M33 11.5h1.1M58 11.5h1.1M21 13.5h1.1M46 14.5h1.1M65 18.5h1.1M20 19.5h1.1M38 24.5h1.1M41 24.5h1.1M143 25.5h1.1M77 27.5h1.1M119 27.5h1.1M86 29.5h1.1M140 30.5h1.1M90 32.5h1.1M138 32.5h1.1M98 33.5h1.1M112 33.5h1.1M115 34.5h1.1M139 34.5h1.1M136 35.5h1.1M85 36.5h1.1M126 37.5h1.1M89 38.5h1.1M116 40.5h1.1M84 42.5h1.1M138 42.5h1.1M123 43.5h1.1M130 44.5h1.1M127 45.5h1.1M119 46.5h1.1M126 48.5h1.1" stroke="#f9b793" stroke-width="1.12"/>
<path d="M70 3.5h1.1M140 3.5h1.1M70 4.5h1.1M36 6.5h1.1M36 8.5h1.1M97 8.5h1.1M22 9.5h1.1M34 9.5h1.1M45 9.5h1.1M52 10.5h1.1M0 11.5h1.1M45 11.5h1.1M100 12.5h1.1M68 13.5h1.1M74 15.5h1.1M2 17.5h1.1M117 18.5h1.1M47 19.5h1.1M130 19.5h1.1M66 20.5h1.1M10 21.5h1.1M18 21.5h1.1M26 21.5h1.1M48 21.5h1.1M3 22.5h1.1M8 22.5h1.1M13 22.5h2.1M27 22.5h2.1M35 22.5h1.1M61 22.5h1.1M119 22.5h1.1M0 23.5h1.1M3 23.5h1.1M8 23.5h1.1M29 23.5h1.1M1 26.5h1.1M51 26.5h1.1M25 27.5h1.1M77 31.5h1.1M25 34.5h1.1M88 34.5h1.1M6 35.5h1.1M88 36.5h1.1M49 38.5h1.1M67 40.5h1.1M85 42.5h1.1M132 43.5h1.1M136 45.5h1.1M136 46.5h1.1M75 49.5h1.1" stroke="#f9ede7" stroke-width="1.12"/>
<path d="M77 3.5h1.1M77 4.5h1.1M81 4.5h1.1M81 5.5h1.1M142 8.5h2.1M101 9.5h1.1M97 10.5h1.1M129 10.5h1.1M143 10.5h1.1M115 11.5h1.1M125 11.5h1.1M103 13.5h1.1M126 15.5h1.1M129 15.5h1.1M132 15.5h1.1M120 17.5h1.1M82 18.5h1.1M91 18.5h1.1M87 20.5h1.1M104 20.5h1.1M75 21.5h1.1M129 21.5h1.1M116 22.5h1.1M66 26.5h1.1M53 28.5h1.1M14 29.5h1.1M17 29.5h1.1M37 29.5h1.1M48 29.5h1.1M51 29.5h1.1M16 30.5h1.1M34 31.5h1.1M50 31.5h1.1M16 32.5h1.1M18 32.5h1.1M46 34.5h1.1M57 35.5h1.1M23 38.5h1.1M48 38.5h1.1M67 38.5h1.1M53 40.5h1.1M57 40.5h1.1M31 41.5h1.1M36 41.5h1.1M14 45.5h1.1M18 47.5h1.1M53 49.5h1.1" stroke="#7bb7d5" stroke-width="1.12"/>
<path d="M82 3.5h1.1M82 8.5h1.1M21 29.5h1.1M29 29.5h1.1M31 29.5h1.1M44 29.5h1.1M60 29.5h1.1M67 31.5h1.1M53 33.5h1.1M41 34.5h1.1M29 36.5h1.1M18 39.5h1.1M2 40.5h1.1M32 40.5h1.1M2 41.5h1.1M34 45.5h1.1" stroke="#75b1d5" stroke-width="1.12"/>
<path d="M101 3.5h1.1M136 4.5h1.1M125 5.5h1.1M125 6.5h1.1M128 6.5h1.1M133 8.5h1.1M79 11.5h1.1M90 11.5h1.1M97 11.5h1.1M106 11.5h1.1M101 18.5h1.1M60 28.5h1.1M46 30.5h1.1M31 32.5h1.1M19 33.5h1.1M41 33.5h1.1M67 33.5h1.1M44 38.5h1.1M59 38.5h1.1M34 41.5h1.1M26 45.5h1.1M51 45.5h1.1" stroke="#81bddb" stroke-width="1.12"/>
<path d="M126 3.5h1.1M100 5.5h1.1M36 7.5h1.1M55 7.5h1.1M107 10.5h1.1M52 11.5h2.1M68 12.5h1.1M3 15.5h1.1M3 21.5h1.1M9 21.5h1.1M44 21.5h1.1M56 21.5h1.1M7 22.5h1.1M33 22.5h1.1M94 22.5h1.1M11 23.5h1.1M20 23.5h1.1M24 23.5h1.1M27 23.5h1.1M134 27.5h1.1M101 35.5h1.1M88 37.5h1.1M141 38.5h1.1" stroke="#f9ede1" stroke-width="1.12"/>
<path d="M40 4.5h1.1M65 9.5h1.1M50 13.5h1.1M19 14.5h1.1M10 16.5h1.1M38 16.5h1.1M83 26.5h1.1M91 33.5h1.1M139 33.5h1.1M93 36.5h1.1M105 36.5h1.1M122 36.5h1.1M105 47.5h1.1M76 49.5h1.1" stroke="#f3b18d" stroke-width="1.12"/>
<path d="M53 4.5h1.1M57 4.5h1.1M17 6.5h1.1M49 6.5h1.1M70 8.5h1.1M21 9.5h1.1M44 9.5h1.1M44 10.5h1.1M61 11.5h1.1M70 11.5h1.1M9 14.5h1.1M48 20.5h1.1M54 20.5h1.1M1 21.5h1.1M63 22.5h1.1M15 23.5h1.1M82 26.5h1.1M136 27.5h1.1M73 28.5h1.1M111 29.5h1.1M143 29.5h1.1M125 31.5h1.1M142 33.5h1.1M137 36.5h1.1M141 36.5h1.1M126 42.5h1.1M98 43.5h1.1" stroke="#ffd5c3" stroke-width="1.12"/>
<path d="M66 4.5h1.1M53 7.5h1.1M31 9.5h1.1M35 17.5h1.1M11 21.5h1.1M29 21.5h1.1M58 21.5h1.1M6 22.5h1.1M9 22.5h1.1M25 23.5h1.1M98 29.5h1.1M93 49.5h1.1" stroke="#ffe1d5" stroke-width="1.12"/>
<path d="M78 4.5h1.1M105 8.5h1.1M121 8.5h1.1M94 15.5h1.1M82 16.5h1.1" stroke="#81b7db" stroke-width="1.12"/>
<path d="M82 4.5h1.1M83 9.5h1.1M82 10.5h1.1M120 15.5h1.1M76 16.5h1.1M128 20.5h1.1M88 21.5h1.1M82 23.5h1.1M44 27.5h1.1M34 29.5h1.1M67 29.5h1.1M34 30.5h1.1M50 30.5h1.1M51 34.5h1.1M18 45.5h1.1" stroke="#69abcf" stroke-width="1.12"/>
<path d="M101 4.5h1.1M119 8.5h1.1M129 8.5h1.1M115 9.5h1.1M118 9.5h1.1M128 18.5h1.1M138 24.5h1.1M15 37.5h1.1M61 38.5h1.1M64 38.5h1.1M50 40.5h1.1M53 48.5h1.1" stroke="#6fb1d5" stroke-width="1.12"/>
<path d="M52 5.5h1.1M59 21.5h1.1M126 46.5h1.1M131 47.5h1.1" stroke="#e16f5d" stroke-width="1.12"/>
<path d="M78 5.5h1.1M81 8.5h1.1M132 11.5h1.1M91 15.5h1.1M82 21.5h1.1M51 33.5h1.1M57 33.5h1.1" stroke="#63a5cf" stroke-width="1.12"/>
<path d="M82 5.5h1.1" stroke="#5d9fc9" stroke-width="1.12"/>
<path d="M82 6.5h1.1" stroke="#519fc9" stroke-width="1.12"/>
<path d="M87 6.5h1.1M91 20.5h1.1M98 24.5h1.1M67 34.5h1.1M29 37.5h1.1M29 38.5h1.1M18 41.5h1.1" stroke="#5da5cf" stroke-width="1.12"/>
<path d="M94 6.5h1.1M133 9.5h1.1M75 11.5h1.1M81 11.5h1.1M83 11.5h1.1M103 14.5h1.1M126 20.5h1.1M37 27.5h1.1M34 32.5h1.1M46 32.5h1.1M32 33.5h1.1M53 35.5h1.1M61 37.5h1.1M67 37.5h1.1" stroke="#81b7d5" stroke-width="1.12"/>
<path d="M112 6.5h1.1M134 6.5h1.1M125 7.5h1.1M122 8.5h1.1M98 11.5h1.1M101 11.5h1.1M127 14.5h1.1M72 15.5h1.1M72 18.5h1.1M89 20.5h1.1M95 21.5h1.1M130 21.5h1.1M67 27.5h1.1M30 29.5h1.1M48 37.5h1.1M16 38.5h1.1M57 38.5h1.1M20 40.5h1.1M32 41.5h1.1M24 45.5h2.1M51 47.5h1.1M59 48.5h1.1M16 49.5h1.1" stroke="#93c3db" stroke-width="1.12"/>
<path d="M29 8.5h1.1M18 11.5h1.1M19 23.5h1.1M106 37.5h1.1M82 42.5h1.1" stroke="#ffe1c9" stroke-width="1.12"/>
<path d="M58 8.5h1.1M66 12.5h1.1M28 13.5h1.1M34 15.5h1.1M66 19.5h1.1M60 21.5h1.1M5 22.5h1.1M17 22.5h1.1M20 22.5h1.1M34 22.5h1.1M31 23.5h1.1M29 24.5h1.1M4 27.5h1.1M141 37.5h1.1M79 38.5h1.1" stroke="#f9e1d5" stroke-width="1.12"/>
<path d="M87 8.5h1.1" stroke="#63abcf" stroke-width="1.12"/>
<path d="M132 9.5h1.1" stroke="#5199c9" stroke-width="1.12"/>
<path d="M9 11.5h1.1M49 17.5h1.1M26 18.5h1.1M139 27.5h1.1M106 32.5h1.1M91 37.5h1.1M130 37.5h1.1M99 40.5h1.1M115 48.5h1.1" stroke="#e78163" stroke-width="1.12"/>
<path d="M82 11.5h1.1M87 21.5h1.1M55 38.5h1.1" stroke="#75b7d5" stroke-width="1.12"/>
<path d="M47 12.5h1.1" stroke="#ed936f" stroke-width="1.12"/>
<path d="M56 13.5h1.1M62 14.5h1.1M6 18.5h1.1M98 25.5h1.1M143 46.5h1.1M136 49.5h1.1" stroke="#e17b5d" stroke-width="1.12"/>
<path d="M67 14.5h1.1M31 16.5h1.1M23 18.5h1.1M57 18.5h1.1M78 29.5h1.1M100 30.5h1.1M129 33.5h1.1M117 40.5h1.1M141 41.5h1.1" stroke="#f9cfb1" stroke-width="1.12"/>
<path d="M68 16.5h1.1" stroke="#c33339" stroke-width="1.12"/>
<path d="M68 17.5h1.1M53 21.5h1.1M71 23.5h1.1" stroke="#b72733" stroke-width="1.12"/>
<path d="M35 18.5h1.1M35 20.5h1.1M97 28.5h1.1" stroke="#d5634b" stroke-width="1.12"/>
<path d="M66 21.5h1.1" stroke="#b72133" stroke-width="1.12"/>
<path d="M38 22.5h1.1" stroke="#870927" stroke-width="1.12"/>
<path d="M55 22.5h2.1M104 28.5h1.1" stroke="#c93f3f" stroke-width="1.12"/>
<path d="M66 22.5h1.1M54 23.5h1.1" stroke="#8d0f27" stroke-width="1.12"/>
<path d="M82 22.5h1.1" stroke="#579fc9" stroke-width="1.12"/>
<path d="M142 22.5h1.1M63 41.5h1.1" stroke="#87c3db" stroke-width="1.12"/>
<path d="M75 24.5h1.1" stroke="#6fabcf" stroke-width="1.12"/>
<path d="M53 29.5h1.1" stroke="#5da5c9" stroke-width="1.12"/>
</g>
<text x="658" y="325.2" font-size="7.1" fill="#111" stroke="#111" stroke-width="0.18">CXCL14</text>
<text x="658" y="330.8" font-size="7.1" fill="#111" stroke="#111" stroke-width="0.18">POSTN</text>
<text x="658" y="336.4" font-size="7.1" fill="#111" stroke="#111" stroke-width="0.18">CFD</text>
<text x="658" y="342" font-size="7.1" fill="#111" stroke="#111" stroke-width="0.18">APOD</text>
<text x="658" y="347.6" font-size="7.1" fill="#111" stroke="#111" stroke-width="0.18">TMEM176B</text>
<text x="658" y="353.2" font-size="7.1" fill="#111" stroke="#111" stroke-width="0.18">MMP2</text>
<text x="658" y="358.8" font-size="7.1" fill="#111" stroke="#111" stroke-width="0.18">PDGFRA</text>
<text x="658" y="364.4" font-size="7.1" fill="#111" stroke="#111" stroke-width="0.18">LUM</text>
<text x="658" y="369.9" font-size="7.1" fill="#111" stroke="#111" stroke-width="0.18">TMEM176A</text>
<text x="658" y="375.5" font-size="7.1" fill="#111" stroke="#111" stroke-width="0.18">MFAP4</text>
<text x="658" y="381.1" font-size="7.1" fill="#111" stroke="#111" stroke-width="0.18">DCN</text>
<text x="658" y="386.7" font-size="7.1" fill="#111" stroke="#111" stroke-width="0.18">RARRES2</text>
<text x="658" y="392.3" font-size="7.1" fill="#111" stroke="#111" stroke-width="0.18">PDPN</text>
<text x="658" y="397.9" font-size="7.1" fill="#111" stroke="#111" stroke-width="0.18">NSG1</text>
<text x="658" y="403.5" font-size="7.1" fill="#111" stroke="#111" stroke-width="0.18">F3</text>
<text x="658" y="409.1" font-size="7.1" fill="#111" stroke="#111" stroke-width="0.18">DPT</text>
<text x="658" y="414.7" font-size="7.1" fill="#111" stroke="#111" stroke-width="0.18">AGT</text>
<text x="658" y="420.3" font-size="7.1" fill="#111" stroke="#111" stroke-width="0.18">FBLN1</text>
<text x="658" y="425.9" font-size="7.1" fill="#111" stroke="#111" stroke-width="0.18">IGFBP5</text>
<text x="658" y="431.5" font-size="7.1" fill="#111" stroke="#111" stroke-width="0.18">PTGDS</text>
<text x="658" y="437.1" font-size="7.1" fill="#111" stroke="#111" stroke-width="0.18">APOE</text>
<text x="658" y="442.7" font-size="7.1" fill="#111" stroke="#111" stroke-width="0.18">CCL11</text>
<text x="658" y="448.3" font-size="7.1" fill="#111" stroke="#111" stroke-width="0.18">CST1</text>
<text x="658" y="453.9" font-size="7.1" fill="#111" stroke="#111" stroke-width="0.18">MMP3</text>
<text x="658" y="459.4" font-size="7.1" fill="#111" stroke="#111" stroke-width="0.18">CXCL1</text>
<text x="658" y="465" font-size="7.1" fill="#111" stroke="#111" stroke-width="0.18">RGS5</text>
<text x="658" y="470.6" font-size="7.1" fill="#111" stroke="#111" stroke-width="0.18">NDUFA4L2</text>
<text x="658" y="476.2" font-size="7.1" fill="#111" stroke="#111" stroke-width="0.18">MCAM</text>
<text x="658" y="481.8" font-size="7.1" fill="#111" stroke="#111" stroke-width="0.18">CSRP2</text>
<text x="658" y="487.4" font-size="7.1" fill="#111" stroke="#111" stroke-width="0.18">ACTA2</text>
<text x="658" y="493" font-size="7.1" fill="#111" stroke="#111" stroke-width="0.18">NOTCH3</text>
<text x="658" y="498.6" font-size="7.1" fill="#111" stroke="#111" stroke-width="0.18">COX4I2</text>
<text x="658" y="504.2" font-size="7.1" fill="#111" stroke="#111" stroke-width="0.18">ARHGDIB</text>
<text x="658" y="509.8" font-size="7.1" fill="#111" stroke="#111" stroke-width="0.18">GJA4</text>
<text x="658" y="515.4" font-size="7.1" fill="#111" stroke="#111" stroke-width="0.18">PRSS23</text>
<text x="658" y="521" font-size="7.1" fill="#111" stroke="#111" stroke-width="0.18">FRZB</text>
<text x="658" y="526.6" font-size="7.1" fill="#111" stroke="#111" stroke-width="0.18">COL18A1</text>
<text x="658" y="532.2" font-size="7.1" fill="#111" stroke="#111" stroke-width="0.18">TINAGL1</text>
<text x="658" y="537.8" font-size="7.1" fill="#111" stroke="#111" stroke-width="0.18">MYH11</text>
<text x="658" y="543.4" font-size="7.1" fill="#111" stroke="#111" stroke-width="0.18">BGN</text>
<text x="658" y="549" font-size="7.1" fill="#111" stroke="#111" stroke-width="0.18">COL4A1</text>
<text x="658" y="554.5" font-size="7.1" fill="#111" stroke="#111" stroke-width="0.18">ANGPT2</text>
<text x="658" y="560.1" font-size="7.1" fill="#111" stroke="#111" stroke-width="0.18">NR2F2</text>
<text x="658" y="565.7" font-size="7.1" fill="#111" stroke="#111" stroke-width="0.18">CRIP2</text>
<text x="658" y="571.3" font-size="7.1" fill="#111" stroke="#111" stroke-width="0.18">CD36</text>
<text x="658" y="576.9" font-size="7.1" fill="#111" stroke="#111" stroke-width="0.18">MYL9</text>
<text x="658" y="582.5" font-size="7.1" fill="#111" stroke="#111" stroke-width="0.18">HES4</text>
<text x="658" y="588.1" font-size="7.1" fill="#111" stroke="#111" stroke-width="0.18">PDGFRB</text>
<text x="658" y="593.7" font-size="7.1" fill="#111" stroke="#111" stroke-width="0.18">COL4A2</text>
<text x="658" y="599.3" font-size="7.1" fill="#111" stroke="#111" stroke-width="0.18">ADIRF</text>
<text x="710.4" y="316.8" font-size="9.6" font-weight="bold" fill="#111">Type</text>
<rect x="710" y="323.6" width="6.2" height="5.6" fill="#dc4a34"/>
<rect x="710" y="334.9" width="6.2" height="5.6" fill="#44b0c8"/>
<text x="718.6" y="329.4" font-size="9.8" fill="#222">iCAF</text>
<text x="718.6" y="339.8" font-size="9.8" fill="#222">myCAF</text>
<defs><linearGradient id="cb" x1="0" y1="0" x2="0" y2="1">
<stop offset="0" stop-color="#67001f"/>
<stop offset="0.1" stop-color="#b2182b"/>
<stop offset="0.2" stop-color="#d6604d"/>
<stop offset="0.3" stop-color="#f4a582"/>
<stop offset="0.4" stop-color="#fddbc7"/>
<stop offset="0.5" stop-color="#f7f7f7"/>
<stop offset="0.6" stop-color="#d1e5f0"/>
<stop offset="0.7" stop-color="#92c5de"/>
<stop offset="0.8" stop-color="#4393c3"/>
<stop offset="0.9" stop-color="#2166ac"/>
<stop offset="1" stop-color="#053061"/>
</linearGradient></defs>
<rect x="724.6" y="359.9" width="6.1" height="61.5" fill="url(#cb)"/>
<text x="722.7" y="364.2" font-size="8.4" text-anchor="end" fill="#222">High</text>
<text x="722.7" y="422.6" font-size="8.4" text-anchor="end" fill="#222">Low</text>
<text transform="translate(735.6 393) rotate(90)" font-size="8.3" text-anchor="middle" fill="#222">Normalized expression</text>
<rect x="180.4" y="624.8" width="7" height="6.8" fill="#dc4a34" stroke="#5a2a20" stroke-width="0.7"/>
<text x="189.9" y="631.3" font-size="8.3" fill="#222">Upregulated in iCAF</text>
<rect x="272.6" y="624.8" width="7" height="6.8" fill="#44b0c8" stroke="#1d4f5c" stroke-width="0.7"/>
<text x="281.7" y="631.3" font-size="8.3" fill="#222">Upregulated in myCAF</text>
<rect x="270.4" y="647.5" width="96.8" height="11.7" fill="#44b0c8" stroke="#2a2a2a" stroke-width="0.75"/>
<text x="172.4" y="656.2" font-size="10" text-anchor="end" fill="#222">Myc targets</text>
<line x1="175.6" y1="653.4" x2="178.4" y2="653.4" stroke="#111" stroke-width="1"/>
<rect x="270.4" y="664.6" width="57" height="11.7" fill="#44b0c8" stroke="#2a2a2a" stroke-width="0.75"/>
<text x="172.4" y="673.3" font-size="10" text-anchor="end" fill="#222">Myogenesis</text>
<line x1="175.6" y1="670.4" x2="178.4" y2="670.4" stroke="#111" stroke-width="1"/>
<rect x="270.4" y="681.7" width="45" height="11.7" fill="#44b0c8" stroke="#2a2a2a" stroke-width="0.75"/>
<text x="172.4" y="690.4" font-size="10" text-anchor="end" fill="#222">Angiogenesis</text>
<line x1="175.6" y1="687.5" x2="178.4" y2="687.5" stroke="#111" stroke-width="1"/>
<rect x="270.4" y="698.7" width="30.5" height="11.7" fill="#44b0c8" stroke="#2a2a2a" stroke-width="0.75"/>
<text x="172.4" y="707.5" font-size="10" text-anchor="end" fill="#222">TGFβ pathway</text>
<line x1="175.6" y1="704.6" x2="178.4" y2="704.6" stroke="#111" stroke-width="1"/>
<rect x="270.4" y="715.8" width="23.3" height="11.7" fill="#44b0c8" stroke="#2a2a2a" stroke-width="0.75"/>
<text x="172.4" y="724.6" font-size="10" text-anchor="end" fill="#222">Metastasis</text>
<line x1="175.6" y1="721.7" x2="178.4" y2="721.7" stroke="#111" stroke-width="1"/>
<rect x="270.4" y="732.9" width="15.5" height="11.7" fill="#44b0c8" stroke="#2a2a2a" stroke-width="0.75"/>
<text x="172.4" y="741.6" font-size="10" text-anchor="end" fill="#222">Hypoxia</text>
<line x1="175.6" y1="738.8" x2="178.4" y2="738.8" stroke="#111" stroke-width="1"/>
<rect x="257.5" y="750" width="12.9" height="11.7" fill="#dc4a34" stroke="#2a2a2a" stroke-width="0.75"/>
<text x="172.4" y="758.7" font-size="10" text-anchor="end" fill="#222">Inflammatory response</text>
<line x1="175.6" y1="755.8" x2="178.4" y2="755.8" stroke="#111" stroke-width="1"/>
<rect x="229.3" y="767.1" width="41.1" height="11.7" fill="#dc4a34" stroke="#2a2a2a" stroke-width="0.75"/>
<text x="172.4" y="775.8" font-size="10" text-anchor="end" fill="#222">IL10 pathway</text>
<line x1="175.6" y1="772.9" x2="178.4" y2="772.9" stroke="#111" stroke-width="1"/>
<rect x="223.5" y="784.1" width="46.9" height="11.7" fill="#dc4a34" stroke="#2a2a2a" stroke-width="0.75"/>
<text x="172.4" y="792.9" font-size="10" text-anchor="end" fill="#222">Epithelial mesenchymal transition</text>
<line x1="175.6" y1="790" x2="178.4" y2="790" stroke="#111" stroke-width="1"/>
<rect x="214.3" y="801.2" width="56.1" height="11.7" fill="#dc4a34" stroke="#2a2a2a" stroke-width="0.75"/>
<text x="172.4" y="810" font-size="10" text-anchor="end" fill="#222">Invasion</text>
<line x1="175.6" y1="807.1" x2="178.4" y2="807.1" stroke="#111" stroke-width="1"/>
<rect x="187.3" y="818.3" width="83.1" height="11.7" fill="#dc4a34" stroke="#2a2a2a" stroke-width="0.75"/>
<text x="172.4" y="827" font-size="10" text-anchor="end" fill="#222">Cytokine pathway</text>
<line x1="175.6" y1="824.1" x2="178.4" y2="824.1" stroke="#111" stroke-width="1"/>
<path d="M178.4 643.4V834.6H376" fill="none" stroke="#111" stroke-width="1.5"/>
<line x1="195.7" y1="834.6" x2="195.7" y2="837.4" stroke="#111" stroke-width="1"/>
<text x="196.5" y="845.8" font-size="9.6" text-anchor="middle" fill="#222">0.5</text>
<line x1="233.2" y1="834.6" x2="233.2" y2="837.4" stroke="#111" stroke-width="1"/>
<text x="234" y="845.8" font-size="9.6" text-anchor="middle" fill="#222">0.25</text>
<line x1="270.4" y1="834.6" x2="270.4" y2="837.4" stroke="#111" stroke-width="1"/>
<text x="271.2" y="845.8" font-size="9.6" text-anchor="middle" fill="#222">0</text>
<line x1="307.3" y1="834.6" x2="307.3" y2="837.4" stroke="#111" stroke-width="1"/>
<text x="308.1" y="845.8" font-size="9.6" text-anchor="middle" fill="#222">0.25</text>
<line x1="344.6" y1="834.6" x2="344.6" y2="837.4" stroke="#111" stroke-width="1"/>
<text x="345.4" y="845.8" font-size="9.6" text-anchor="middle" fill="#222">0.5</text>
<text x="277.2" y="859.2" font-size="10" text-anchor="middle" fill="#222">GSVA scores</text>
<text transform="translate(17.6 724.2) rotate(-90)" font-size="11" text-anchor="middle" fill="#222">Pathway</text>
<rect x="459.5" y="643.5" width="187.9" height="177.1" fill="none" stroke="#222" stroke-width="1.1"/>
<line x1="457.3" y1="814.8" x2="459.5" y2="814.8" stroke="#222" stroke-width="0.9"/>
<text transform="translate(453.5 814.8) rotate(-90)" font-size="9.2" text-anchor="middle" fill="#333">0.0</text>
<line x1="457.3" y1="781.9" x2="459.5" y2="781.9" stroke="#222" stroke-width="0.9"/>
<text transform="translate(453.5 781.9) rotate(-90)" font-size="9.2" text-anchor="middle" fill="#333">0.2</text>
<line x1="457.3" y1="749" x2="459.5" y2="749" stroke="#222" stroke-width="0.9"/>
<text transform="translate(453.5 749) rotate(-90)" font-size="9.2" text-anchor="middle" fill="#333">0.4</text>
<line x1="457.3" y1="716.1" x2="459.5" y2="716.1" stroke="#222" stroke-width="0.9"/>
<text transform="translate(453.5 716.1) rotate(-90)" font-size="9.2" text-anchor="middle" fill="#333">0.6</text>
<line x1="457.3" y1="683.2" x2="459.5" y2="683.2" stroke="#222" stroke-width="0.9"/>
<text transform="translate(453.5 683.2) rotate(-90)" font-size="9.2" text-anchor="middle" fill="#333">0.8</text>
<line x1="457.3" y1="650.3" x2="459.5" y2="650.3" stroke="#222" stroke-width="0.9"/>
<text transform="translate(453.5 650.3) rotate(-90)" font-size="9.2" text-anchor="middle" fill="#333">1.0</text>
<line x1="459.5" y1="820.6" x2="459.5" y2="822.8" stroke="#222" stroke-width="0.9"/>
<text x="459.5" y="833.1" font-size="9.2" text-anchor="middle" fill="#333">0</text>
<line x1="488.1" y1="820.6" x2="488.1" y2="822.8" stroke="#222" stroke-width="0.9"/>
<text x="488.1" y="833.1" font-size="9.2" text-anchor="middle" fill="#333">20</text>
<line x1="516.7" y1="820.6" x2="516.7" y2="822.8" stroke="#222" stroke-width="0.9"/>
<text x="516.7" y="833.1" font-size="9.2" text-anchor="middle" fill="#333">40</text>
<line x1="545.4" y1="820.6" x2="545.4" y2="822.8" stroke="#222" stroke-width="0.9"/>
<text x="545.4" y="833.1" font-size="9.2" text-anchor="middle" fill="#333">60</text>
<line x1="574" y1="820.6" x2="574" y2="822.8" stroke="#222" stroke-width="0.9"/>
<text x="574" y="833.1" font-size="9.2" text-anchor="middle" fill="#333">80</text>
<line x1="602.6" y1="820.6" x2="602.6" y2="822.8" stroke="#222" stroke-width="0.9"/>
<text x="602.6" y="833.1" font-size="9.2" text-anchor="middle" fill="#333">100</text>
<line x1="631.2" y1="820.6" x2="631.2" y2="822.8" stroke="#222" stroke-width="0.9"/>
<text x="631.2" y="833.1" font-size="9.2" text-anchor="middle" fill="#333">120</text>
<text x="552.5" y="638.1" font-size="12.8" text-anchor="middle" fill="#1a1a1a">COL1A1 expression</text>
<text x="583.5" y="671" font-size="10.5" fill="#1a1a1a"><tspan font-style="italic">P</tspan> = 0.013</text>
<text transform="translate(436.3 730.5) rotate(-90)" font-size="11.7" text-anchor="middle" fill="#1a1a1a">Overall survival</text>
<text x="552.6" y="849.6" font-size="11.7" text-anchor="middle" fill="#1a1a1a">Duration (months)</text>
<path d="M459.8 650.1H464.6V656H470H471.6V660.5H475.3V665H476H477.1V669H479.4V673H480.5H481.4V676.7H482.7V680.3H484.7V684H485.5H486.9V688.5H489.7V693H490.5H491.3V697.2H494.9V701.5H496.8H497.2V705H499.5V708.5H500H501.9V711.2H503.1H565.9H566.2V716.7H567.4H638.8" fill="none" stroke="#2747a6" stroke-width="1.5" stroke-dasharray="1.3 4.2"/>
<path d="M459.8 650.1H461.3V653.7H463.2V657.4H464.8V661H465.6H466.8V664.6H468.2V668.1H470.1V671.7H471.7H472.5V675.2H473.6V678.8H475.2V682.3H476.2H477V686.8H479V691.4H480.8H481.8V696H483.8V700.5H486.3V705.1H486.9H488.5V709.7H491.7V714.2H493H494V717.8H496.2V721.3H497.9V724.9H499H500.1V729.5H504.5V734H505.1H510V740H511.2H521.9V746.1H526.4H559.8H560.1V749.7H560.5V753.2H561V756.8H561.3H561.5V760.8H562V764.9H562.7V768.9H562.9H563.4V773.2H564.9V777.5H565.3H638.8" fill="none" stroke="#2747a6" stroke-width="1.5" stroke-dasharray="1.3 4.2"/>
<path d="M459.8 650.1H461.1V654.6H465.2V659.1H468.1V663.6H469H469.4V667.8H471.7V672H474.5V676.2H475H476V680.3H478.6V684.3H479.9V688.4H481H481.5V692.9H484.2V697.5H486.3V702H487H487.7V705.6H489.5V709.1H491.8V712.7H493H495.3V717.2H498V721.8H499H502.2V727.9H511H514.1V731.8H520H540H540.4V735.5H541.6H542V740H544.1V744.6H544.6H545.5V747.7H547.6" fill="none" stroke="#ec1c24" stroke-width="1.5" stroke-dasharray="1.3 4.2"/>
<path d="M459.8 650.1H460.8V654.3H462.6V658.4H464.3V662.6H465.6H466.6V666.2H467.5V669.9H469.5V673.5H470.6V677.2H472.4V680.8H473.2H473.8V685H475.8V689.1H478.5V693.3H480.2V697.5H480.8H481.5V701.3H484.1V705.1H485.2V708.9H487.3V712.7H488.4H490.2V716.8H492.4V720.8H494.1V724.9H496H498.4V728.9H500V733H503.1V737H505.1H507.1V740.6H509.4V744.1H512.4V747.7H514.3H515V752.2H518.1V756.8H520.3H521V760.7H521.9V764.7H523.4V768.6H524.5V772.6H525.8V776.5H526.4H541.6H542.4V781.1H543.1V785.6H544.1V790.2H544.6H545.7V794.8H546.6V799.3H547.6H548.5V805.4H550.7" fill="none" stroke="#ec1c24" stroke-width="1.5" stroke-dasharray="1.3 4.2"/>
<path d="M459.8 650.4H460.5V651.9H461.4V653.5H462V655H462.6H462.8V656.3H463.7V657.6H464.4V658.9H464.7V660.2H465.7V661.5H466.3V662.8H466.8V664.1H467.1H467.4V665.6H467.9V667.1H468.5V668.7H469.4V670.2H469.8V671.7H470.2H470.5V673.2H470.9V674.7H471.5V676.2H472V677.8H472.4V679.3H472.9V680.8H473.2H473.5V682.1H473.7V683.4H474.2V684.7H474.7V686H475.2V687.3H475.6V688.6H475.9V689.9H476.2H476.7V691.4H477V692.9H477.6V694.5H478.3V696H479V697.5H479.3H479.4V698.8H479.9V700.1H480.3V701.4H480.8V702.7H481.1V704H481.6V705.3H482.2V706.6H482.3H482.8V708.1H483.3V709.6H483.9V711.2H484.4V712.7H484.9V714.2H485.3H485.4V715.7H486.1V717.2H487V718.8H487.5V720.3H488.3V721.8H488.4H488.6V723.3H490.2V724.8H491.2V726.4H492.5V727.9H492.9H493.5V729.4H495.7V731H496.3V732.5H497.5H498V734H499.1V735.5H500.2V737H500.5H502V738.5H504.2V740.1H505.1H506.1V741.6H507.8V743.1H508.8V744.6H509.7H510.3V746.1H511.4V747.7H512.4V749.2H512.7H513.2V750.7H514.4V752.2H515.4V753.7H515.7H518.2V755.3H520.3H520.9V756.8H521.7V758.3H522.8V759.8H523.3H524.2V760.4H524.9H541.6H541.7V761.8H542V763.2H542.3V764.6H542.5V766.1H542.8V767.5H543V768.9H543.1H543.2V770.2H543.4V771.5H543.6V772.8H543.9V774.2H544V775.5H544.3V776.8H544.4V778.1H544.6H545V779.6H545.5V781.1H546.1V782.6H546.9V784.1H547.1H547.2V785.6H547.3V787.2H547.5V788.7H547.6V790.2H547.7H558.3" fill="none" stroke="#ec1c24" stroke-width="2"/>
<path d="M459.8 650.1H460.3V652H463.5V653.9H465.1H465.6V655.3H466.3V656.7H467.2V658.1H468.5V659.5H469.2V660.9H469.6H469.8V662.5H470.4V664H470.7V665.6H471.3V667.2H471.5H471.7V668.7H472.6V670.2H473.5V671.7H474.2V673.1H475V674.6H475.5V676.1H475.9H476.2V677.5H476.8V678.8H477.3V680.2H478.1V681.5H478.9V682.9H479.5V684.2H480.1V685.6H480.3H480.8V687.1H481.2V688.5H481.8V690H482.5V691.5H483.1V692.9H483.7V694.4H484.1H484.4V695.9H485.3V697.4H486V699H486.7V700.5H487.7V702H487.9H488.6V703.6H489.3V705.2H490V706.8H491V708.4H491.7H492.2V710.1H492.5V711.7H493.4V713.4H493.6H494.8V714.7H496.6V716H498H498.1V717.5H498.2V719H498.3V720.5H498.5V722H498.6V723.5H498.7H499.4V725.1H500V726.7H500.6H527.2H527.3V728.4H527.4V730.1H527.7V731.8H527.8H561.3H561.4V733.2H561.7V734.6H561.9V736H562.1V737.4H562.4V738.8H562.6V740.2H562.7V741.6H562.9H563.5V743.1H564.5V744.6H565.3H565.3V746H565.4V747.5H565.5V748.9H565.6V750.4H565.7V751.8H565.8V753.3H565.9V754.7H565.9H641.4" fill="none" stroke="#2747a6" stroke-width="2"/>
<path d="M503 723.7v6M506 723.7v6M508 723.7v6M510 723.7v6M512 723.7v6M515 723.7v6M517 723.7v6M520 723.7v6M523 723.7v6M525 723.7v6M531 728.9v6M533 728.9v6M536 728.9v6M540 728.9v6M543 728.9v6M547 728.9v6M553 728.9v6M568.7 751.7v6M613.4 751.7v6M629.4 751.7v6M630.5 751.7v6M638.7 751.7v6" stroke="#2747a6" stroke-width="1.1"/>
<path d="M495 729v6M497 730.5v6M499 732v6M502 734.3v6M505 736.5v6M508 738.8v6M511 741v6M513 742.5v6M516 744.8v6M519 747v6M521 748.5v6M549.7 787.2v6M557.6 787.2v6" stroke="#ec1c24" stroke-width="1.1"/>
<text x="572" y="749.4" font-size="7.8" fill="#1a1a1a">COL1A1 low (n=192)</text>
<text x="552.8" y="800.8" font-size="7.8" fill="#1a1a1a">COL1A1 high (n=192)</text>
<rect x="685.5" y="619.4" width="102.9" height="97.4" fill="none" stroke="#222" stroke-width="1.1"/>
<line x1="683.7" y1="713.5" x2="685.5" y2="713.5" stroke="#222" stroke-width="0.9"/>
<text transform="translate(681.5 713.5) rotate(-90)" font-size="6.8" text-anchor="middle" fill="#333">0.0</text>
<line x1="683.7" y1="695.4" x2="685.5" y2="695.4" stroke="#222" stroke-width="0.9"/>
<text transform="translate(681.5 695.4) rotate(-90)" font-size="6.8" text-anchor="middle" fill="#333">0.2</text>
<line x1="683.7" y1="677.3" x2="685.5" y2="677.3" stroke="#222" stroke-width="0.9"/>
<text transform="translate(681.5 677.3) rotate(-90)" font-size="6.8" text-anchor="middle" fill="#333">0.4</text>
<line x1="683.7" y1="659.2" x2="685.5" y2="659.2" stroke="#222" stroke-width="0.9"/>
<text transform="translate(681.5 659.2) rotate(-90)" font-size="6.8" text-anchor="middle" fill="#333">0.6</text>
<line x1="683.7" y1="641.1" x2="685.5" y2="641.1" stroke="#222" stroke-width="0.9"/>
<text transform="translate(681.5 641.1) rotate(-90)" font-size="6.8" text-anchor="middle" fill="#333">0.8</text>
<line x1="683.7" y1="623" x2="685.5" y2="623" stroke="#222" stroke-width="0.9"/>
<text transform="translate(681.5 623) rotate(-90)" font-size="6.8" text-anchor="middle" fill="#333">1.0</text>
<line x1="685.5" y1="716.8" x2="685.5" y2="718.6" stroke="#222" stroke-width="0.9"/>
<text x="685.5" y="725.6" font-size="6.8" text-anchor="middle" fill="#333">0</text>
<line x1="701.3" y1="716.8" x2="701.3" y2="718.6" stroke="#222" stroke-width="0.9"/>
<text x="701.3" y="725.6" font-size="6.8" text-anchor="middle" fill="#333">20</text>
<line x1="717" y1="716.8" x2="717" y2="718.6" stroke="#222" stroke-width="0.9"/>
<text x="717" y="725.6" font-size="6.8" text-anchor="middle" fill="#333">40</text>
<line x1="732.8" y1="716.8" x2="732.8" y2="718.6" stroke="#222" stroke-width="0.9"/>
<text x="732.8" y="725.6" font-size="6.8" text-anchor="middle" fill="#333">60</text>
<line x1="748.5" y1="716.8" x2="748.5" y2="718.6" stroke="#222" stroke-width="0.9"/>
<text x="748.5" y="725.6" font-size="6.8" text-anchor="middle" fill="#333">80</text>
<line x1="764.3" y1="716.8" x2="764.3" y2="718.6" stroke="#222" stroke-width="0.9"/>
<text x="764.3" y="725.6" font-size="6.8" text-anchor="middle" fill="#333">100</text>
<line x1="780.1" y1="716.8" x2="780.1" y2="718.6" stroke="#222" stroke-width="0.9"/>
<text x="780.1" y="725.6" font-size="6.8" text-anchor="middle" fill="#333">120</text>
<text x="740.6" y="615.6" font-size="10" text-anchor="middle" fill="#1a1a1a">iCAF signature</text>
<text x="734" y="638.2" font-size="10" fill="#1a1a1a"><tspan font-style="italic">P</tspan> = 0.0043</text>
<text transform="translate(672.2 669.4) rotate(-90)" font-size="6.6" text-anchor="middle" fill="#1a1a1a">Overall survival</text>
<text x="736.4" y="731.6" font-size="7.0" text-anchor="middle" fill="#1a1a1a">Duration (months)</text>
<path d="M685.5 623H689.3V629.6H692.9H694.8V633.7H698.4V637.8H699.5H700.5V641.7H703.2V645.5H705.5V649.4H706.1H706.9V655.9H709.4H716.9V656.8H719.2H739H740.6H744.7H780.1" fill="none" stroke="#2747a6" stroke-width="1.2" stroke-dasharray="1 3.5"/>
<path d="M685.5 623H686.7V626.9H688V630.7H690.3V634.6H691.3H692.7V639.5H695.6V644.4H696.2H697.3V649.4H700V654.3H701.1H702.7V658.1H704.8V662H707.2V665.8H707.7H710.9V670.8H714.3H723.1V674H729.1H730.7V677.3H734H742.3H742.6V681.2H743.2V685H743.7V688.9H743.9H744.4V695.4H744.7H785.1" fill="none" stroke="#2747a6" stroke-width="1.2" stroke-dasharray="1 3.5"/>
<path d="M685.5 623H687.4V629.6H691.3H692.7V633.5H694.7V637.3H696.6V641.1H697H698V645H700.2V648.8H701.6V652.7H702.8H704.6V657.6H707V662.5H707.7H710.4V667.5H714.3H716.4V670.8H722.5H725.6V672.4H729.1H731.7V677.3H734H735.7V681.5H737.7V685.6H739H739.3V687.2H740.6" fill="none" stroke="#ec1c24" stroke-width="1.2" stroke-dasharray="1 3.5"/>
<path d="M685.5 623H687.2V628H688.6V632.9H690.4H691.4V636.8H692.2V640.6H693.7V644.4H694.6H696.2V649.4H697.7V654.3H699.5H700.1V658.1H702.8V662H705.3V665.8H706.1H708.4V669.9H711.4V674H712.7H715.2V678.2H717.6V682.3H719.2H721.8V687.2H723.4V692.2H725.8H727.5V698.7H730.8H732.5V705.3H734H735.9V710.3H739H776.8" fill="none" stroke="#ec1c24" stroke-width="1.2" stroke-dasharray="1 3.5"/>
<path d="M685.5 623H686V624.4H686.8V625.7H687.6V627H688.6V628.3H689.2V629.6H689.6H689.8V631H690.4V632.4H691.1V633.7H691.7V635.1H692V636.5H692.8V637.8H692.9H693.2V639.2H693.5V640.6H694V642H694.3V643.3H694.8V644.7H695.2V646.1H695.4H695.7V647.4H696V648.8H696.9V650.2H697.3V651.6H697.8V652.9H698.5V654.3H698.7H699V655.7H699.7V657H700.5V658.4H700.9V659.8H701.8V661.2H702.4V662.5H702.8H703.4V663.9H704.2V665.3H704.7V666.6H705.7V668H706.3V669.4H707.3V670.8H707.7H708.6V672H709.9V673.2H710.8V674.5H711.9V675.7H712.7H713.4V677.3H716.5V679H717.6H718.8V680.6H719.7V682.3H720.9H721.2V683.7H721.4V685.2H721.8V686.6H722.3V688H722.5H732.4H732.5V689.5H732.7V690.9H732.9V692.4H733.1V693.8H733.2H733.4V695.3H734.1V696.9H734.5V698.4H734.9H741.5V703.3H780.1" fill="none" stroke="#ec1c24" stroke-width="1.4"/>
<path d="M685.5 623H686.3V624.7H687.7V626.3H688.8H689.1V627.8H690V629.2H690.8V630.6H691.6V632.1H692.1H692.4V633.4H693.1V634.7H693.6V636H694.3V637.4H695.1V638.7H695.4H695.7V640H696.3V641.3H697V642.5H697.5V643.8H698.1V645.1H698.5V646.4H699.3V647.7H699.5H700V649.1H700.7V650.5H701.1V651.8H701.8V653.2H702.8V654.6H703.1V655.9H703.6H704.4V657.4H705.4V658.8H706V660.3H707V661.7H707.7H708.8V663.4H709.4H711.7V665H715.9H729.1H729.3V666.4H730V667.7H730.5V669.1H730.8H743.1H743.2V670.3H743.2V671.6H743.3V672.8H743.4V674H743.5V675.2H743.6V676.5H743.7V677.7H743.8V678.9H743.9V680.1H743.9H785.1" fill="none" stroke="#2747a6" stroke-width="1.4"/>
<path d="M706.1 657.6v4M709.4 661.4v4M712.7 662.2v4M715.9 663v4M719.2 663v4M722.5 663v4M725.8 663v4M732.4 667.1v4M735.7 667.1v4M739 667.1v4M745.6 678.1v4M770.3 678.1v4M784.2 678.1v4" stroke="#2747a6" stroke-width="1"/>
<path d="M709.4 670.4v4M712.7 673.7v4M715.9 676.2v4M719.2 678.6v4M779.3 701.3v4" stroke="#ec1c24" stroke-width="1"/>
<text x="763.5" y="669.8" font-size="5.9" text-anchor="middle" fill="#333">iCAF low</text>
<text x="764" y="676.8" font-size="5.9" text-anchor="middle" fill="#333">(n=192)</text>
<text x="707.7" y="696.3" font-size="5.9" text-anchor="middle" fill="#333">iCAF high</text>
<text x="706.9" y="702.4" font-size="5.9" text-anchor="middle" fill="#333">(n=192)</text>
<rect x="685.5" y="748.9" width="102.9" height="97.4" fill="none" stroke="#222" stroke-width="1.1"/>
<line x1="683.7" y1="843" x2="685.5" y2="843" stroke="#222" stroke-width="0.9"/>
<text transform="translate(681.5 843) rotate(-90)" font-size="6.8" text-anchor="middle" fill="#333">0.0</text>
<line x1="683.7" y1="824.9" x2="685.5" y2="824.9" stroke="#222" stroke-width="0.9"/>
<text transform="translate(681.5 824.9) rotate(-90)" font-size="6.8" text-anchor="middle" fill="#333">0.2</text>
<line x1="683.7" y1="806.8" x2="685.5" y2="806.8" stroke="#222" stroke-width="0.9"/>
<text transform="translate(681.5 806.8) rotate(-90)" font-size="6.8" text-anchor="middle" fill="#333">0.4</text>
<line x1="683.7" y1="788.7" x2="685.5" y2="788.7" stroke="#222" stroke-width="0.9"/>
<text transform="translate(681.5 788.7) rotate(-90)" font-size="6.8" text-anchor="middle" fill="#333">0.6</text>
<line x1="683.7" y1="770.6" x2="685.5" y2="770.6" stroke="#222" stroke-width="0.9"/>
<text transform="translate(681.5 770.6) rotate(-90)" font-size="6.8" text-anchor="middle" fill="#333">0.8</text>
<line x1="683.7" y1="752.5" x2="685.5" y2="752.5" stroke="#222" stroke-width="0.9"/>
<text transform="translate(681.5 752.5) rotate(-90)" font-size="6.8" text-anchor="middle" fill="#333">1.0</text>
<line x1="685.5" y1="846.3" x2="685.5" y2="848.1" stroke="#222" stroke-width="0.9"/>
<text x="685.5" y="855.1" font-size="6.8" text-anchor="middle" fill="#333">0</text>
<line x1="701.3" y1="846.3" x2="701.3" y2="848.1" stroke="#222" stroke-width="0.9"/>
<text x="701.3" y="855.1" font-size="6.8" text-anchor="middle" fill="#333">20</text>
<line x1="717" y1="846.3" x2="717" y2="848.1" stroke="#222" stroke-width="0.9"/>
<text x="717" y="855.1" font-size="6.8" text-anchor="middle" fill="#333">40</text>
<line x1="732.8" y1="846.3" x2="732.8" y2="848.1" stroke="#222" stroke-width="0.9"/>
<text x="732.8" y="855.1" font-size="6.8" text-anchor="middle" fill="#333">60</text>
<line x1="748.5" y1="846.3" x2="748.5" y2="848.1" stroke="#222" stroke-width="0.9"/>
<text x="748.5" y="855.1" font-size="6.8" text-anchor="middle" fill="#333">80</text>
<line x1="764.3" y1="846.3" x2="764.3" y2="848.1" stroke="#222" stroke-width="0.9"/>
<text x="764.3" y="855.1" font-size="6.8" text-anchor="middle" fill="#333">100</text>
<line x1="780.1" y1="846.3" x2="780.1" y2="848.1" stroke="#222" stroke-width="0.9"/>
<text x="780.1" y="855.1" font-size="6.8" text-anchor="middle" fill="#333">120</text>
<text x="740.6" y="745.1" font-size="10" text-anchor="middle" fill="#1a1a1a">myCAF signature</text>
<text x="734" y="767.7" font-size="10" fill="#1a1a1a"><tspan font-style="italic">P</tspan> = 0.0094</text>
<text transform="translate(672.2 798.9) rotate(-90)" font-size="6.6" text-anchor="middle" fill="#1a1a1a">Overall survival</text>
<text x="736.4" y="861.1" font-size="7.0" text-anchor="middle" fill="#1a1a1a">Duration (months)</text>
<path d="M685.5 752.5H687.1V757.5H691.3H692.5V761.6H695.4V765.7H696.2H697.9V769.8H701.5V773.9H702.8H704.8V780.5H709.4H711.4V785.4H717.6H719.8V787.1H725.8H727.3V788.7H732.4H735.9V790.1H739H780.1" fill="none" stroke="#2747a6" stroke-width="1.2" stroke-dasharray="1 3.5"/>
<path d="M685.5 752.5H686.8V757.5H689.3V762.4H690.4H691.2V767.3H693.7V772.3H695.4H696V776.4H698.9V780.5H699.5H701.5V784.6H703.8V788.7H704.4H705.7V793.7H709.4H710.9V798.6H715.9H721V803.5H722.5H725.7V806.8H729.1H734.5V808.5H737.3H737.8V812.2H739.2V815.9H740.4V819.6H741.6V823.3H742.3H743.2V828.2H743.9H744.3V831.5H745.6H783.4" fill="none" stroke="#2747a6" stroke-width="1.2" stroke-dasharray="1 3.5"/>
<path d="M685.5 752.5H687.5V756.7H691.1V760.8H692.1H692.7V765.7H695.1V770.6H696.2H697.3V774.5H698.6V778.3H700V782.2H701.1H701.9V786.3H704.9V790.4H706.1H707.1V795.3H711H715.9V797H717.6H723.2V799.4H725.8H729.9V801.1H732.4H776.8" fill="none" stroke="#ec1c24" stroke-width="1.2" stroke-dasharray="1 3.5"/>
<path d="M685.5 752.5H686.5V756.4H687.7V760.2H688.9V764.1H689.6H690.5V768.4H692.1V772.8H694.2V777.2H694.6H697.9V783.8H699.5H699.9V787.5H701.6V791.2H702.8V794.9H704V798.6H704.4H706.1V802.7H708V806.8H709.4H713V811.8H714.3H716.7V815.1H717.6H732.4H732.7V819H733.1V822.9H733.5V826.8H733.8V830.7H734H742.3" fill="none" stroke="#ec1c24" stroke-width="1.2" stroke-dasharray="1 3.5"/>
<path d="M685.5 752.5H685.9V753.8H686.4V755H687.2V756.2H687.9V757.5H688.4V758.7H689.2V759.9H689.6H689.9V761.2H690.5V762.4H690.9V763.6H691.7V764.9H692.1V766.1H692.6V767.3H692.9H693.2V768.6H693.5V769.8H693.9V771.1H694.3V772.3H694.9V773.5H695.2V774.8H695.4H695.7V776H696.2V777.3H696.7V778.6H696.9V779.9H697.5V781.2H698V782.5H698.4V783.8H698.7H698.9V785H699.2V786.3H699.6V787.5H700.1V788.7H700.4V790H700.9V791.2H701.4V792.4H701.8V793.7H702H702.3V795H703.1V796.3H703.6V797.6H704.5V798.9H705V800.3H705.3H706V801.5H706.5V802.7H707.9V804H709V805.2H709.4H709.9V806.8H713.7V808.5H714.3H715V810.1H716.8H732.4H732.5V811.4H732.6V812.8H732.8V814.1H733V815.4H733.1V816.7H733.2H733.4V818.1H733.6V819.5H733.9V820.8H734H780.1" fill="none" stroke="#ec1c24" stroke-width="1.4"/>
<path d="M685.5 752.5H686.1V754H687V755.4H687.9V756.9H689.2V758.3H689.6H690V759.6H690.5V760.9H691.4V762.2H691.8V763.6H692.4V764.9H692.9H693.1V766.1H693.6V767.3H694.2V768.6H694.9V769.8H695.3V771.1H696.1V772.3H696.2H696.7V773.5H697.2V774.8H698.5V776H699.3V777.2H699.5H699.7V778.5H700.9V779.7H701.5V780.9H702.4V782.2H702.8H703.6V783.5H704.3V784.9H705.5V786.3H706.1H707.3V787.9H708.8V789.6H709.4H710.9V791.2H712.7H716.5V792.9H717.6H719.3V794.1H721.5V795.3H722.5H723V797H725.1V798.6H725.8H727V800.3H729.1V801.9H730.8H740.6H740.7V803.3H740.8V804.6H740.9V806H741.1V807.4H741.3V808.8H741.4V810.1H741.5H742.3V811.8H743.9H744V813.1H744.2V814.4H744.4V815.7H744.5V817H744.7V818.4H744.7H785.1" fill="none" stroke="#2747a6" stroke-width="1.4"/>
<path d="M709.4 787.6v4M712.7 789.2v4M715.9 790v4M719.2 791.7v4M722.5 793.3v4M725.8 796.6v4M732.4 799.9v4M735.7 799.9v4M739 799.9v4M770.3 816.4v4M784.2 816.4v4" stroke="#2747a6" stroke-width="1"/>
<path d="M702.8 793.3v4M706.1 798.3v4M715.9 808.1v4M719.2 808.1v4M722.5 808.1v4M779.3 818.8v4" stroke="#ec1c24" stroke-width="1"/>
<text x="763.7" y="808.2" font-size="5.9" text-anchor="middle" fill="#333">myCAF low</text>
<text x="766.6" y="815.6" font-size="5.9" text-anchor="middle" fill="#333">(n=192)</text>
<text x="714.3" y="823" font-size="5.9" text-anchor="middle" fill="#333">myCAF high</text>
<text x="715.1" y="830.4" font-size="5.9" text-anchor="middle" fill="#333">(n=192)</text>
</svg></body></html>
